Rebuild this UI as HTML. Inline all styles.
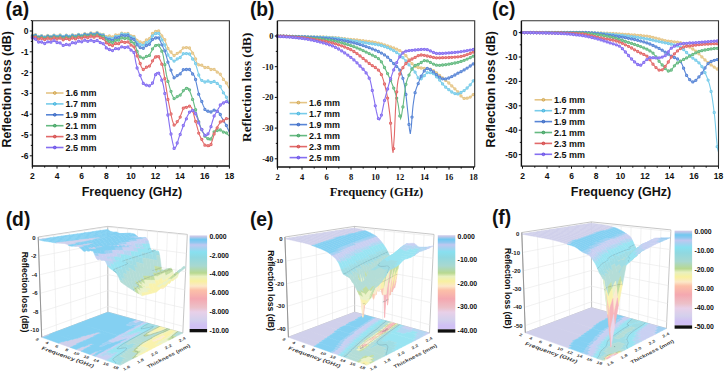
<!DOCTYPE html><html><head><meta charset="utf-8"><style>html,body{margin:0;padding:0;background:#fff;width:725px;height:375px;overflow:hidden}svg{display:block}</style></head><body>
<svg width="725" height="375" viewBox="0 0 725 375">
<rect width="725" height="375" fill="#fff"/>
<path d="M32.4 34.6l1 .2 1 .3 1 .2 1 .2 1 .2 1 .2 1 .1 1 .2 1 0 1 .1 .6 0 .4 0 1 0 1-.1 1 0 1-.1 1 0 1-.1 1-.1 1-.1 1 0 1-.1 1 0 1-.1 1 0 .6 0 .4 0 1 0 1 0 1 0 1 .1 1 0 1 0 .6 0 .4 0 1 0 1 0 1-.1 1 0 1-.1 1 0 1-.1 1 0 1-.1 1-.1 1-.1 1 0 1-.1 1-.1 1-.1 1-.1 1-.1 .6 0 .4 0 1-.1 1-.1 1-.1 1-.2 1-.1 1-.1 1-.2 1-.1 1-.1 1-.1 1-.2 1 0 1-.1 1-.1 1 0 .6 0 .4 0 1 .3 1 .4 1 .5 1 .5 1.3 .5 .7 .2 1 .3 1 .3 1 .3 1 .2 1 .1 .6 0 .4 0 1-.1 1-.1 1-.2 1-.3 1-.2 1-.4 1-.3 1-.3 1-.3 1-.3 1-.2 1-.2 1-.2 1-.1 .6 0 .4 0 1 .1 1 .3 1 .3 1 .4 1 .5 1 .5 1 .5 1 .6 .9 .5 1.1 .8 1 1.1 1 1.2 1 1.1 1 .9 1 .5 .4 0 .6 0 1-.2 1-.4 1-.5 1-.5 1-.6 .9-.5 1.1-.8 1-1.1 1-1.3 1-1.4 1-1.3 1-1.3 1-1 1-.8 1.3-.4 .7 .1 1 .6 1 .9 1 1.2 1 1.4 1 1.6 1 1.5 .7 1.1 1.3 2.5 1 2.5 1 2.6 1 2.3 1.3 2.2 .7 .8 1 1.1 1 1 1 .7 1 .2 1-.2 1-.4 1-.6 1-.8 1-.9 1-1 1-1 1-.9 1-.8 1-.7 1-.4 1.1-.2 .9 .2 1 .5 1 .8 1 1.1 1 1.3 1 1.5 1 1.5 .6 1 .4 .8 1 3.1 1 3 .6 1 .4 .4 1 .8 1 .6 1 .6 1 .4 1 .4 1 .4 1 .4 .6 .2 .4 .2 1 .3 1 .4 1 .3 1 .2 1 .3 1 .3 1 .3 1 .3 1 .4 1 .5 1 .5 1 .7 1 .9 1 1.1 1 1.3 1 1.2 .6 .8 .4 .5 1 1.4 1 1.4 1 1.5 1 1.6 1 1.7 1 1.8 .6 1.1 .4 .7" fill="none" stroke="#e5c586" stroke-width="1.1"/>
<path d="M32.4 35.2h0M35.5 34.7h0M38.6 36.5h0M41.6 35.7h0M44.7 36.9h0M47.8 35.5h0M50.9 36.5h0M54.0 35.1h0M57.0 36.2h0M60.1 35.0h0M63.2 36.3h0M66.3 35.1h0M69.4 36.2h0M72.4 34.8h0M75.5 35.7h0M78.6 34.3h0M81.7 35.2h0M84.8 33.7h0M87.8 34.5h0M90.9 32.9h0M94.0 33.8h0M97.1 32.4h0M100.2 34.2h0M103.2 34.4h0M106.3 36.6h0M109.4 36.0h0M112.5 37.0h0M115.6 35.0h0M118.6 35.2h0M121.7 33.2h0M124.8 34.0h0M127.9 33.3h0M131.0 35.8h0M134.0 36.4h0M137.1 40.5h0M140.2 42.0h0M143.3 42.8h0M146.4 39.9h0M149.4 38.6h0M152.5 33.3h0M155.6 31.5h0M158.7 30.9h0M161.8 36.0h0M164.8 39.7h0M167.9 48.4h0M171.0 52.0h0M174.1 55.5h0M177.2 53.3h0M180.2 51.8h0M183.3 47.8h0M186.4 47.6h0M189.5 48.0h0M192.6 53.2h0M195.6 58.9h0M198.7 64.8h0M201.8 65.2h0M204.9 67.5h0M208.0 67.4h0M211.0 69.5h0M214.1 69.3h0M217.2 72.1h0M220.3 74.2h0M223.4 79.4h0M226.4 82.9h0" stroke="#e5c586" stroke-width="3.3" stroke-linecap="round"/>
<path d="M32.4 35.2h0M35.5 34.7h0M38.6 36.5h0M41.6 35.7h0M44.7 36.9h0M47.8 35.5h0M50.9 36.5h0M54.0 35.1h0M57.0 36.2h0M60.1 35.0h0M63.2 36.3h0M66.3 35.1h0M69.4 36.2h0M72.4 34.8h0M75.5 35.7h0M78.6 34.3h0M81.7 35.2h0M84.8 33.7h0M87.8 34.5h0M90.9 32.9h0M94.0 33.8h0M97.1 32.4h0M100.2 34.2h0M103.2 34.4h0M106.3 36.6h0M109.4 36.0h0M112.5 37.0h0M115.6 35.0h0M118.6 35.2h0M121.7 33.2h0M124.8 34.0h0M127.9 33.3h0M131.0 35.8h0M134.0 36.4h0M137.1 40.5h0M140.2 42.0h0M143.3 42.8h0M146.4 39.9h0M149.4 38.6h0M152.5 33.3h0M155.6 31.5h0M158.7 30.9h0M161.8 36.0h0M164.8 39.7h0M167.9 48.4h0M171.0 52.0h0M174.1 55.5h0M177.2 53.3h0M180.2 51.8h0M183.3 47.8h0M186.4 47.6h0M189.5 48.0h0M192.6 53.2h0M195.6 58.9h0M198.7 64.8h0M201.8 65.2h0M204.9 67.5h0M208.0 67.4h0M211.0 69.5h0M214.1 69.3h0M217.2 72.1h0M220.3 74.2h0M223.4 79.4h0M226.4 82.9h0" stroke="#edd6aa" stroke-width="1.3" stroke-linecap="round"/>
<path d="M32.4 35.0l1 .2 1 .3 1 .2 1 .2 1 .2 1 .1 1 .2 1 .1 1 0 1 .1 .6 0 .4 0 1 0 1 0 1-.1 1 0 1-.1 1-.1 1 0 1-.1 1 0 1-.1 1 0 1-.1 1 0 .6 0 .4 0 1 0 1 0 1 0 1 0 1 0 1 0 .6 0 .4 0 1 0 1 0 1-.1 1 0 1 0 1-.1 1 0 1-.1 1-.1 1 0 1-.1 1-.1 1-.1 1 0 1-.1 1-.1 1-.1 .6 0 .4 0 1-.1 1-.1 1-.1 1-.1 1-.2 1-.1 1-.1 1-.1 1-.2 1-.1 1-.1 1-.1 1 0 1-.1 1 0 .6 0 .4 0 1 .2 1 .4 1 .5 1 .6 1.3 .6 .7 .3 1 .5 1 .6 1 .5 1 .4 1 .3 .6 0 .4 0 1-.1 1-.2 1-.3 1-.3 1-.4 1-.4 1-.5 1-.4 1-.4 1-.4 1-.4 1-.2 1-.3 1-.1 .6 0 .4 0 1 .2 1 .3 1 .4 1 .5 1 .6 1 .7 1 .7 1 .7 .6 .4 .4 .3 1 1 1 1.3 1 1.3 1 1.3 1 .9 1 .5 .4 .1 .6 0 1-.2 1-.3 1-.5 1-.5 1-.5 .9-.5 1.1-.8 1-1.2 1-1.3 1-1.4 1-1.5 1-1.3 1-1.1 1-.9 1.3-.4 .7 .2 1 .7 1 1.3 1 1.6 1 1.9 1 2 1 2 .6 1.2 .4 .8 1 2.6 1 2.9 1 3 1 2.5 1.3 2.2 .7 .6 1 .9 1 .7 1 .4 1 .2 1-.1 1-.4 1-.7 1-.7 1-.9 1-.9 1-.9 1-.9 1-.8 1-.6 1-.4 1.1-.2 .9 .2 1 .5 1 .8 1 1.1 1 1.2 1 1.4 1 1.4 .6 .9 .4 .7 1 2.3 1 3 1 3.4 1 3.4 1 3.2 1 2.5 1 1.6 .6 .4 .4 .1 1 .1 1 .2 1 .1 1 .1 1 0 1 .1 1 0 1 0 1 .1 1 .1 1 .1 1 .1 1 .1 1 .2 1 .6 1 1.1 1 1.5 1 1.7 1 1.7 .6 1 .4 .6 1 1.7 1 1.7 1 1.8 1 1.9 1 2 1 2 .6 1.3 .4 .9" fill="none" stroke="#78ccea" stroke-width="1.1"/>
<path d="M32.4 35.6h0M35.5 35.1h0M38.6 36.8h0M41.6 36.0h0M44.7 37.2h0M47.8 35.8h0M50.9 36.8h0M54.0 35.5h0M57.0 36.6h0M60.1 35.4h0M63.2 36.6h0M66.3 35.4h0M69.4 36.5h0M72.4 35.1h0M75.5 36.1h0M78.6 34.7h0M81.7 35.6h0M84.8 34.1h0M87.8 35.0h0M90.9 33.4h0M94.0 34.3h0M97.1 32.9h0M100.2 34.6h0M103.2 35.0h0M106.3 37.7h0M109.4 37.8h0M112.5 38.7h0M115.6 36.4h0M118.6 36.3h0M121.7 33.9h0M124.8 34.6h0M127.9 34.1h0M131.0 37.0h0M134.0 37.9h0M137.1 42.7h0M140.2 44.5h0M143.3 45.3h0M146.4 42.6h0M149.4 41.3h0M152.5 35.8h0M155.6 33.7h0M158.7 33.4h0M161.8 39.8h0M164.8 45.0h0M167.9 55.0h0M171.0 58.3h0M174.1 61.1h0M177.2 58.9h0M180.2 57.5h0M183.3 53.7h0M186.4 53.6h0M189.5 54.0h0M192.6 59.0h0M195.6 63.6h0M198.7 75.0h0M201.8 80.3h0M204.9 82.0h0M208.0 81.0h0M211.0 82.4h0M214.1 81.4h0M217.2 83.4h0M220.3 86.5h0M223.4 92.8h0M226.4 97.2h0" stroke="#78ccea" stroke-width="3.3" stroke-linecap="round"/>
<path d="M32.4 35.6h0M35.5 35.1h0M38.6 36.8h0M41.6 36.0h0M44.7 37.2h0M47.8 35.8h0M50.9 36.8h0M54.0 35.5h0M57.0 36.6h0M60.1 35.4h0M63.2 36.6h0M66.3 35.4h0M69.4 36.5h0M72.4 35.1h0M75.5 36.1h0M78.6 34.7h0M81.7 35.6h0M84.8 34.1h0M87.8 35.0h0M90.9 33.4h0M94.0 34.3h0M97.1 32.9h0M100.2 34.6h0M103.2 35.0h0M106.3 37.7h0M109.4 37.8h0M112.5 38.7h0M115.6 36.4h0M118.6 36.3h0M121.7 33.9h0M124.8 34.6h0M127.9 34.1h0M131.0 37.0h0M134.0 37.9h0M137.1 42.7h0M140.2 44.5h0M143.3 45.3h0M146.4 42.6h0M149.4 41.3h0M152.5 35.8h0M155.6 33.7h0M158.7 33.4h0M161.8 39.8h0M164.8 45.0h0M167.9 55.0h0M171.0 58.3h0M174.1 61.1h0M177.2 58.9h0M180.2 57.5h0M183.3 53.7h0M186.4 53.6h0M189.5 54.0h0M192.6 59.0h0M195.6 63.6h0M198.7 75.0h0M201.8 80.3h0M204.9 82.0h0M208.0 81.0h0M211.0 82.4h0M214.1 81.4h0M217.2 83.4h0M220.3 86.5h0M223.4 92.8h0M226.4 97.2h0" stroke="#a0dbf0" stroke-width="1.3" stroke-linecap="round"/>
<path d="M32.4 35.6l1 .2 1 .3 1 .2 1 .2 1 .2 1 .1 1 .2 1 .1 1 0 1 .1 .6 0 .4 0 1 0 1 0 1-.1 1 0 1-.1 1-.1 1 0 1-.1 1 0 1-.1 1 0 1-.1 1 0 .6 0 .4 0 1 0 1 .1 1 0 1 0 1 .1 1 0 .6 0 .4 0 1 0 1 0 1-.1 1 0 1-.1 1 0 1-.1 1-.1 1-.1 1 0 1-.1 1-.1 1-.1 1-.1 1-.1 1-.1 1-.1 .6 0 .4 0 1-.1 1-.1 1-.1 1-.1 1-.2 1-.1 1-.1 1-.1 1-.1 1-.1 1-.1 1-.1 1 0 1-.1 1 0 .6 0 .4 0 1 .2 1 .4 1 .6 1 .5 1.3 .7 .7 .4 1 .6 1 .8 1 .6 1 .6 1 .3 .6 .1 .4 0 1-.1 1-.2 1-.3 1-.4 1-.4 1-.4 1-.5 1-.5 1-.4 1-.4 1-.4 1-.3 1-.3 1-.1 .6 0 .4 0 1 .2 1 .3 1 .4 1 .6 1 .6 1 .7 1 .7 1 .8 .6 .4 .4 .3 1 1.3 1 1.5 1 1.7 1 1.5 1 1.3 1 .6 .4 .1 .6 0 1-.3 1-.3 1-.5 1-.6 1-.6 .9-.5 1.1-.8 1-1 1-1.1 1-1.2 1-1.2 1-1.1 1-1 1-.7 1.3-.3 .7 .2 1 .8 1 1.4 1 1.8 1 2.1 1 2.3 1 2.3 .6 1.3 .4 .9 1 2.9 1 3.2 1 3.5 1 3.4 1.3 3.8 .7 1.9 1 2.9 1 2.7 1 2 1 .8 1-.2 1-.4 1-.7 1-.8 1-1 1-1 1-1.1 1-1 1-.8 1-.7 1-.5 1.1-.2 .9 .1 1 .4 1 .7 1 .8 1 1.1 1 1.2 1 1.3 .6 .9 .4 .7 1 3.1 1 4.1 1 4.6 1 4.4 1.2 4.1 .8 2 1 2.6 1 2.5 1 2.4 1 2.1 1 1.7 1 1.3 1 .7 .6 .1 .4 0 1-.1 1-.2 1-.2 1-.2 1-.3 1-.2 1-.1 1-.1 1 .4 1 1.1 1 1.5 1 1.8 1 1.8 .6 1 .4 .6 1 1.7 1 1.8 1 1.8 1 2 1 2 1 2.2 .6 1.3 .4 .9" fill="none" stroke="#5885d6" stroke-width="1.1"/>
<path d="M32.4 36.2h0M35.5 35.7h0M38.6 37.4h0M41.6 36.6h0M44.7 37.8h0M47.8 36.4h0M50.9 37.4h0M54.0 36.1h0M57.0 37.2h0M60.1 36.1h0M63.2 37.4h0M66.3 36.2h0M69.4 37.2h0M72.4 35.8h0M75.5 36.8h0M78.6 35.3h0M81.7 36.2h0M84.8 34.7h0M87.8 35.6h0M90.9 34.0h0M94.0 35.0h0M97.1 33.6h0M100.2 35.3h0M103.2 35.8h0M106.3 38.9h0M109.4 39.3h0M112.5 40.3h0M115.6 37.9h0M118.6 37.7h0M121.7 35.3h0M124.8 35.9h0M127.9 35.4h0M131.0 38.4h0M134.0 39.4h0M137.1 44.9h0M140.2 47.6h0M143.3 48.3h0M146.4 45.5h0M149.4 44.3h0M152.5 39.4h0M155.6 38.0h0M158.7 37.8h0M161.8 44.8h0M164.8 50.8h0M167.9 62.2h0M171.0 70.1h0M174.1 77.8h0M177.2 75.6h0M180.2 73.9h0M183.3 69.7h0M186.4 69.5h0M189.5 69.5h0M192.6 74.0h0M195.6 79.5h0M198.7 94.2h0M201.8 101.4h0M204.9 109.4h0M208.0 111.2h0M211.0 112.0h0M214.1 110.1h0M217.2 111.3h0M220.3 114.4h0M223.4 120.8h0M226.4 125.4h0" stroke="#5885d6" stroke-width="3.3" stroke-linecap="round"/>
<path d="M32.4 36.2h0M35.5 35.7h0M38.6 37.4h0M41.6 36.6h0M44.7 37.8h0M47.8 36.4h0M50.9 37.4h0M54.0 36.1h0M57.0 37.2h0M60.1 36.1h0M63.2 37.4h0M66.3 36.2h0M69.4 37.2h0M72.4 35.8h0M75.5 36.8h0M78.6 35.3h0M81.7 36.2h0M84.8 34.7h0M87.8 35.6h0M90.9 34.0h0M94.0 35.0h0M97.1 33.6h0M100.2 35.3h0M103.2 35.8h0M106.3 38.9h0M109.4 39.3h0M112.5 40.3h0M115.6 37.9h0M118.6 37.7h0M121.7 35.3h0M124.8 35.9h0M127.9 35.4h0M131.0 38.4h0M134.0 39.4h0M137.1 44.9h0M140.2 47.6h0M143.3 48.3h0M146.4 45.5h0M149.4 44.3h0M152.5 39.4h0M155.6 38.0h0M158.7 37.8h0M161.8 44.8h0M164.8 50.8h0M167.9 62.2h0M171.0 70.1h0M174.1 77.8h0M177.2 75.6h0M180.2 73.9h0M183.3 69.7h0M186.4 69.5h0M189.5 69.5h0M192.6 74.0h0M195.6 79.5h0M198.7 94.2h0M201.8 101.4h0M204.9 109.4h0M208.0 111.2h0M211.0 112.0h0M214.1 110.1h0M217.2 111.3h0M220.3 114.4h0M223.4 120.8h0M226.4 125.4h0" stroke="#8aaae2" stroke-width="1.3" stroke-linecap="round"/>
<path d="M32.4 36.2l1 .3 1 .2 1 .3 1 .2 1 .2 1 .2 1 .1 1 .2 1 0 1 .1 .6 0 .4 0 1 0 1 0 1-.1 1 0 1-.1 1-.1 1 0 1-.1 1 0 1-.1 1 0 1-.1 1 0 .6 0 .4 0 1 0 1 .1 1 .1 1 .1 1 0 1 .1 .6 0 .4 0 1 0 1 0 1-.1 1 0 1-.1 1-.1 1-.1 1-.1 1-.1 1-.1 1-.1 1-.1 1-.1 1-.1 1-.1 1-.1 1-.1 .6 0 .4 0 1-.1 1-.1 1-.1 1-.1 1-.1 1-.1 1-.1 1-.1 1-.1 1-.1 1 0 1-.1 1 0 1-.1 1 0 .6 0 .4 0 1 .2 1 .4 1 .5 1 .6 1.3 .7 .7 .5 1 .8 1 1 1 .9 1 .8 1 .5 .6 .1 .4 0 1-.1 1-.2 1-.2 1-.4 1-.3 1-.4 1-.5 1-.4 1-.4 1-.4 1-.3 1-.3 1-.2 1-.1 .6 0 .4 0 1 .2 1 .3 1 .5 1 .7 1 .7 1 .8 1 .9 1 1 .6 .6 .4 .5 1 1.9 1 2.6 1 2.8 1 2.7 1 2.2 1 1.2 .4 .1 .6 0 1-.1 1-.1 1-.1 1-.2 1-.3 .9-.2 1.1-.7 1-1.2 1-1.5 1-1.8 1-1.9 1-1.8 1-1.5 1-1.1 1.3-.6 .7 .1 1 .7 1 1.2 1 1.5 1 1.8 .6 1.2 .4 1 1 4.4 1 6 1 6.4 1 5.8 .6 2.6 .4 1.5 1 3.8 1 3.8 1 3.5 1 3.2 1 2.5 1 1.8 1.2 .8 .8-.1 1-.4 1-.7 1-.8 1-.9 1-.9 .6-.5 .4-.4 1-1.1 1-1.3 1-1.3 1-1.2 1-.8 1-.3 1 .8 1 1.9 1 2.6 1.2 3.2 .8 2.3 1 3.4 1 3.8 1 3.9 1 3.7 .6 2.1 .4 1.3 1 3.5 1 3.4 1 3.2 1 2.7 .9 1.9 1.1 1.9 1 1.8 1 1.5 1 1.4 1 1.1 1 .6 1 .3 1-.5 1-1.4 1-2 1-2 1-2 1-1.4 1-.5 1 0 1 .2 1 .1 1 .3 1 .2 .6 .2 .4 .1 1 .4 1 .5 1 .7 1 .7 1 .8 1 .9 .6 .5 .4 .4" fill="none" stroke="#65ba81" stroke-width="1.1"/>
<path d="M32.4 36.8h0M35.5 36.4h0M38.6 38.2h0M41.6 37.4h0M44.7 38.6h0M47.8 37.2h0M50.9 38.2h0M54.0 36.9h0M57.0 38.0h0M60.1 37.0h0M63.2 38.4h0M66.3 37.2h0M69.4 38.2h0M72.4 36.7h0M75.5 37.6h0M78.6 36.1h0M81.7 37.0h0M84.8 35.6h0M87.8 36.5h0M90.9 35.0h0M94.0 35.9h0M97.1 34.6h0M100.2 36.3h0M103.2 36.7h0M106.3 40.4h0M109.4 41.5h0M112.5 42.5h0M115.6 40.3h0M118.6 40.2h0M121.7 37.9h0M124.8 38.6h0M127.9 38.2h0M131.0 41.5h0M134.0 43.1h0M137.1 51.3h0M140.2 56.8h0M143.3 58.1h0M146.4 56.3h0M149.4 55.4h0M152.5 48.8h0M155.6 45.6h0M158.7 45.1h0M161.8 51.2h0M164.8 64.7h0M167.9 81.4h0M171.0 91.3h0M174.1 98.6h0M177.2 96.6h0M180.2 95.1h0M183.3 90.6h0M186.4 88.4h0M189.5 89.8h0M192.6 99.4h0M195.6 109.7h0M198.7 121.7h0M201.8 129.6h0M204.9 136.2h0M208.0 138.7h0M211.0 139.0h0M214.1 131.8h0M217.2 130.6h0M220.3 129.9h0M223.4 132.1h0M226.4 132.8h0" stroke="#65ba81" stroke-width="3.3" stroke-linecap="round"/>
<path d="M32.4 36.8h0M35.5 36.4h0M38.6 38.2h0M41.6 37.4h0M44.7 38.6h0M47.8 37.2h0M50.9 38.2h0M54.0 36.9h0M57.0 38.0h0M60.1 37.0h0M63.2 38.4h0M66.3 37.2h0M69.4 38.2h0M72.4 36.7h0M75.5 37.6h0M78.6 36.1h0M81.7 37.0h0M84.8 35.6h0M87.8 36.5h0M90.9 35.0h0M94.0 35.9h0M97.1 34.6h0M100.2 36.3h0M103.2 36.7h0M106.3 40.4h0M109.4 41.5h0M112.5 42.5h0M115.6 40.3h0M118.6 40.2h0M121.7 37.9h0M124.8 38.6h0M127.9 38.2h0M131.0 41.5h0M134.0 43.1h0M137.1 51.3h0M140.2 56.8h0M143.3 58.1h0M146.4 56.3h0M149.4 55.4h0M152.5 48.8h0M155.6 45.6h0M158.7 45.1h0M161.8 51.2h0M164.8 64.7h0M167.9 81.4h0M171.0 91.3h0M174.1 98.6h0M177.2 96.6h0M180.2 95.1h0M183.3 90.6h0M186.4 88.4h0M189.5 89.8h0M192.6 99.4h0M195.6 109.7h0M198.7 121.7h0M201.8 129.6h0M204.9 136.2h0M208.0 138.7h0M211.0 139.0h0M214.1 131.8h0M217.2 130.6h0M220.3 129.9h0M223.4 132.1h0M226.4 132.8h0" stroke="#93cfa7" stroke-width="1.3" stroke-linecap="round"/>
<path d="M32.4 36.8l1 .3 1 .3 1 .3 1 .3 1 .2 1 .3 1 .2 1 .1 1 .1 1 .1 .6 0 .4 0 1 0 1 0 1-.1 1 0 1-.1 1-.1 1 0 1-.1 1 0 1-.1 1 0 1-.1 1 0 .6 0 .4 0 1 .1 1 .1 1 .2 1 .2 1 .1 1 .1 .6 0 .4 0 1 0 1-.1 1 0 1-.1 1-.1 1 0 1-.2 1-.1 1-.1 1-.1 1-.1 1-.1 1-.1 1-.2 1-.1 1-.1 1-.1 .6 0 .4 0 1-.1 1-.1 1-.1 1-.1 1-.1 1-.1 1-.1 1 0 1-.1 1-.1 1-.1 1 0 1 0 1-.1 1 0 .6 0 .4 0 1 .3 1 .5 1 .6 1 .7 1.3 .9 .7 .6 1 1 1 1.2 1 1.2 1 1 1 .6 .6 .1 .4 0 1-.1 1-.1 1-.2 1-.3 1-.3 1-.3 1-.4 1-.3 1-.3 1-.3 1-.3 1-.2 1-.2 1-.1 .6 0 .4 0 1 .2 1 .3 1 .4 1 .6 1 .7 1 .8 1 1 1 1 .6 .6 .4 .6 1 2.2 1 2.9 1 3 .6 1.6 .4 1 1 2.9 1 2.9 1 2.5 1 1.6 .6 .3 .4 0 1-.2 1-.4 1-.6 1-.6 1-.7 1-.8 .6-.5 .4-.4 1-1.3 1-1.8 1-1.9 1-1.8 1-1.3 1.3-.8 .7 .2 1 .9 1 1.5 1 2 1 2.3 .6 1.5 .4 1.2 1 4.7 1 6.2 1 6.6 .6 3.7 .4 2.5 1 6.6 .8 4.6 1.2 6.2 1 5.2 1 4.8 1 4.1 1 2.8 1.2 1.4 .8-.3 1-1.1 1-1.6 1-1.7 .4-.6 .6-1.1 1-2.3 1-2.6 1-2.6 1-2.3 1-1.5 .8-.4 1.2 0 1 0 1 0 1 0 1.2 0 .8 .7 1 2.3 1 3.5 1 4 1 3.8 .5 1.7 .5 1.6 1 3.5 1 3.6 1 3.2 .8 2 1.2 2.5 1 2 1 1.7 1 1.3 1.1 1 .9 .5 1 .5 1 .3 .6 .1 .4-.1 1-1.2 1-2.2 1-2.9 1-3.2 1-3.3 1-2.8 1-2.2 1-1.7 1-1.7 1-1.5 1-1.3 1-1 .6-.4 .4-.2 1-.5 1-.4 1-.4 1-.3 1-.3 1-.1 .6 0 .4 0" fill="none" stroke="#e26969" stroke-width="1.1"/>
<path d="M32.4 37.4h0M35.5 37.1h0M38.6 39.1h0M41.6 38.3h0M44.7 39.6h0M47.8 38.2h0M50.9 39.2h0M54.0 37.9h0M57.0 39.0h0M60.1 38.1h0M63.2 39.8h0M66.3 38.5h0M69.4 39.5h0M72.4 38.0h0M75.5 38.9h0M78.6 37.3h0M81.7 38.2h0M84.8 36.8h0M87.8 37.7h0M90.9 36.2h0M94.0 37.2h0M97.1 35.9h0M100.2 37.7h0M103.2 38.6h0M106.3 42.8h0M109.4 44.5h0M112.5 45.6h0M115.6 43.5h0M118.6 43.7h0M121.7 41.6h0M124.8 42.4h0M127.9 41.9h0M131.0 45.1h0M134.0 46.8h0M137.1 55.9h0M140.2 63.4h0M143.3 69.5h0M146.4 67.2h0M149.4 66.1h0M152.5 60.8h0M155.6 57.0h0M158.7 56.7h0M161.8 64.2h0M164.8 78.6h0M167.9 99.4h0M171.0 114.0h0M174.1 125.1h0M177.2 121.6h0M180.2 117.1h0M183.3 108.2h0M186.4 107.3h0M189.5 106.1h0M192.6 110.8h0M195.6 121.3h0M198.7 133.1h0M201.8 139.3h0M204.9 145.2h0M208.0 145.7h0M211.0 144.5h0M214.1 133.9h0M217.2 127.8h0M220.3 121.9h0M223.4 120.9h0M226.4 118.6h0" stroke="#e26969" stroke-width="3.3" stroke-linecap="round"/>
<path d="M32.4 37.4h0M35.5 37.1h0M38.6 39.1h0M41.6 38.3h0M44.7 39.6h0M47.8 38.2h0M50.9 39.2h0M54.0 37.9h0M57.0 39.0h0M60.1 38.1h0M63.2 39.8h0M66.3 38.5h0M69.4 39.5h0M72.4 38.0h0M75.5 38.9h0M78.6 37.3h0M81.7 38.2h0M84.8 36.8h0M87.8 37.7h0M90.9 36.2h0M94.0 37.2h0M97.1 35.9h0M100.2 37.7h0M103.2 38.6h0M106.3 42.8h0M109.4 44.5h0M112.5 45.6h0M115.6 43.5h0M118.6 43.7h0M121.7 41.6h0M124.8 42.4h0M127.9 41.9h0M131.0 45.1h0M134.0 46.8h0M137.1 55.9h0M140.2 63.4h0M143.3 69.5h0M146.4 67.2h0M149.4 66.1h0M152.5 60.8h0M155.6 57.0h0M158.7 56.7h0M161.8 64.2h0M164.8 78.6h0M167.9 99.4h0M171.0 114.0h0M174.1 125.1h0M177.2 121.6h0M180.2 117.1h0M183.3 108.2h0M186.4 107.3h0M189.5 106.1h0M192.6 110.8h0M195.6 121.3h0M198.7 133.1h0M201.8 139.3h0M204.9 145.2h0M208.0 145.7h0M211.0 144.5h0M214.1 133.9h0M217.2 127.8h0M220.3 121.9h0M223.4 120.9h0M226.4 118.6h0" stroke="#eb9696" stroke-width="1.3" stroke-linecap="round"/>
<path d="M32.4 37.4l1 .8 1 .8 1 .7 1 .6 1 .6 1 .5 1 .5 1 .4 1 .3 1 .2 1 .1 .6 0 .4 0 1-.1 1-.1 1-.3 1-.2 1-.3 1-.2 1-.2 1-.2 1-.1 .6 0 .4 0 1 .2 1 .3 1 .4 1 .5 1 .5 1 .5 1 .5 1 .4 1 .4 1 .2 .6 0 .4 0 1-.1 1-.2 1-.2 1-.3 1-.3 1-.4 1-.3 1-.3 1-.3 1-.3 .6-.1 .4-.1 1-.2 1-.2 1-.2 1-.2 1-.1 1-.2 1-.1 1-.2 1 0 1-.1 .6 0 .4 0 1 0 1 0 1 0 1 .1 1 0 1 .1 1 0 1 .1 1 .1 1 0 .6 .1 .4 .1 1 .3 1 .6 1 .7 1 .7 1.3 1 .7 .6 1 1 1 1.2 1 1.2 1 .9 1 .6 .6 .1 .4 0 1-.1 1-.1 1-.2 1-.3 1-.2 1-.4 1-.3 1-.3 1-.3 1-.3 1-.2 1-.2 1-.2 1-.1 .6 0 .4 0 1 .1 1 .3 1 .4 1 .5 1 .8 1 .8 1 1.1 1 1.2 .6 .8 .4 1.2 1 5.9 .6 3.2 .4 1.5 1 3.5 1 3.1 1 2.6 .6 1.4 .4 .9 1 2.4 1 2.3 1 2 1 1.6 1 .9 .6 .2 .4 0 1-.1 1-.2 1-.2 1-.3 1-.4 .6-.3 .4-.4 1-2.4 1-3.5 1-3.3 1.3-2 .7 .2 1 .7 1 1.1 .6 .8 .4 .6 1 2.5 1 3.3 .6 2.2 .4 1.7 1 5.5 1 6.4 .6 3.8 .4 2.5 1 6.8 1 7.2 1 7 1 6.4 1 5.3 1 4.9 1 4.4 1.2 2.4 .8-.6 1-2 1-2.9 1-3.4 1-3.2 .6-1.7 .4-1 1-2.6 1-2.6 1-2.5 .8-2 1.2-3 1-2.6 1-2.3 1-1.7 1-1.4 1-1.3 1-1 1.3-.6 .7 .3 1 1.4 1 2.1 1 2.3 .6 1.4 .4 .9 1 2.9 1 3.2 1 3 .8 1.7 1.2 2.1 1 1.6 1 1.4 1 .9 1.2 .5 .8-.4 1-1.6 1-2.4 1-3 1-3.3 1-3.4 1-3.1 1-2.6 .6-1.2 .4-.7 1-1.8 1-1.7 1-1.8 1-1.6 1-1.5 1-1.3 1-1.1 1-.7 1-.4 .4 0 .6 0 1 .1 1 .3 1 .6 .6 .4 .4 .4" fill="none" stroke="#856ff1" stroke-width="1.1"/>
<path d="M32.4 38.0h0M35.5 39.1h0M38.6 42.1h0M41.6 42.0h0M44.7 43.5h0M47.8 41.8h0M50.9 42.2h0M54.0 40.6h0M57.0 42.5h0M60.1 42.9h0M63.2 45.4h0M66.3 44.4h0M69.4 44.9h0M72.4 42.7h0M75.5 43.0h0M78.6 41.2h0M81.7 41.8h0M84.8 40.2h0M87.8 41.3h0M90.9 40.2h0M94.0 41.5h0M97.1 40.5h0M100.2 42.6h0M103.2 43.7h0M106.3 47.9h0M109.4 49.5h0M112.5 50.6h0M115.6 48.6h0M118.6 48.8h0M121.7 46.8h0M124.8 47.6h0M127.9 47.0h0M131.0 50.1h0M134.0 52.5h0M137.1 68.0h0M140.2 75.3h0M143.3 83.4h0M146.4 85.1h0M149.4 85.8h0M152.5 83.0h0M155.6 74.7h0M158.7 73.2h0M161.8 80.2h0M164.8 93.4h0M167.9 115.0h0M171.0 134.0h0M174.1 148.4h0M177.2 143.0h0M180.2 134.5h0M183.3 125.4h0M186.4 118.8h0M189.5 112.1h0M192.6 110.5h0M195.6 113.7h0M198.7 122.9h0M201.8 129.5h0M204.9 135.3h0M208.0 133.8h0M211.0 126.7h0M214.1 115.9h0M217.2 111.3h0M220.3 105.0h0M223.4 103.0h0M226.4 101.6h0" stroke="#856ff1" stroke-width="3.3" stroke-linecap="round"/>
<path d="M32.4 38.0h0M35.5 39.1h0M38.6 42.1h0M41.6 42.0h0M44.7 43.5h0M47.8 41.8h0M50.9 42.2h0M54.0 40.6h0M57.0 42.5h0M60.1 42.9h0M63.2 45.4h0M66.3 44.4h0M69.4 44.9h0M72.4 42.7h0M75.5 43.0h0M78.6 41.2h0M81.7 41.8h0M84.8 40.2h0M87.8 41.3h0M90.9 40.2h0M94.0 41.5h0M97.1 40.5h0M100.2 42.6h0M103.2 43.7h0M106.3 47.9h0M109.4 49.5h0M112.5 50.6h0M115.6 48.6h0M118.6 48.8h0M121.7 46.8h0M124.8 47.6h0M127.9 47.0h0M131.0 50.1h0M134.0 52.5h0M137.1 68.0h0M140.2 75.3h0M143.3 83.4h0M146.4 85.1h0M149.4 85.8h0M152.5 83.0h0M155.6 74.7h0M158.7 73.2h0M161.8 80.2h0M164.8 93.4h0M167.9 115.0h0M171.0 134.0h0M174.1 148.4h0M177.2 143.0h0M180.2 134.5h0M183.3 125.4h0M186.4 118.8h0M189.5 112.1h0M192.6 110.5h0M195.6 113.7h0M198.7 122.9h0M201.8 129.5h0M204.9 135.3h0M208.0 133.8h0M211.0 126.7h0M214.1 115.9h0M217.2 111.3h0M220.3 105.0h0M223.4 103.0h0M226.4 101.6h0" stroke="#aa9af5" stroke-width="1.3" stroke-linecap="round"/>
<path d="M32.4 20.8H229.4V166.0" fill="none" stroke="#333" stroke-width="1.1"/>
<path d="M32.4 20.8V166.0H229.4" fill="none" stroke="#111" stroke-width="1.4"/>
<path d="M32.4 166.0v2.6M44.7 166.0v1.6M57.0 166.0v2.6M69.3 166.0v1.6M81.6 166.0v2.6M94.0 166.0v1.6M106.3 166.0v2.6M118.6 166.0v1.6M130.9 166.0v2.6M143.2 166.0v1.6M155.5 166.0v2.6M167.8 166.0v1.6M180.1 166.0v2.6M192.4 166.0v1.6M204.7 166.0v2.6M217.1 166.0v1.6M229.4 166.0v2.6M32.4 31.0h-2.6M32.4 51.8h-2.6M32.4 72.6h-2.6M32.4 93.4h-2.6M32.4 114.2h-2.6M32.4 135.0h-2.6M32.4 155.8h-2.6M32.4 20.6h-1.6M32.4 41.4h-1.6M32.4 62.2h-1.6M32.4 83.0h-1.6M32.4 103.8h-1.6M32.4 124.6h-1.6M32.4 145.4h-1.6" stroke="#111" stroke-width="1"/>
<g font-family='"Liberation Sans", sans-serif' font-weight="bold" font-size="8.5" fill="#111">
<text x="32.4" y="178.5" text-anchor="middle">2</text>
<text x="57.0" y="178.5" text-anchor="middle">4</text>
<text x="81.6" y="178.5" text-anchor="middle">6</text>
<text x="106.3" y="178.5" text-anchor="middle">8</text>
<text x="130.9" y="178.5" text-anchor="middle">10</text>
<text x="155.5" y="178.5" text-anchor="middle">12</text>
<text x="180.1" y="178.5" text-anchor="middle">14</text>
<text x="204.7" y="178.5" text-anchor="middle">16</text>
<text x="229.4" y="178.5" text-anchor="middle">18</text>
<text x="28.5" y="34.0" text-anchor="end">0</text>
<text x="28.5" y="54.8" text-anchor="end">-1</text>
<text x="28.5" y="75.6" text-anchor="end">-2</text>
<text x="28.5" y="96.4" text-anchor="end">-3</text>
<text x="28.5" y="117.2" text-anchor="end">-4</text>
<text x="28.5" y="138.0" text-anchor="end">-5</text>
<text x="28.5" y="158.8" text-anchor="end">-6</text>
</g>
<text x="131.9" y="195.8" font-family='"Liberation Sans", sans-serif' font-weight="bold" font-size="12.55" text-anchor="middle" fill="#111">Frequency (GHz)</text>
<text transform="translate(10.5 89.3) rotate(-90)" font-family='"Liberation Sans", sans-serif' font-weight="bold" font-size="12.40" text-anchor="middle" fill="#111">Reflection loss (dB)</text>
<text x="5.6" y="15.5" font-family='"Liberation Sans", sans-serif' font-weight="bold" font-size="19.3" fill="#111">(a)</text>
<path d="M46.0 93.0h17.5" stroke="#e5c586" stroke-width="1.6"/>
<circle cx="54.8" cy="93.0" r="1.4" fill="#e5c586" stroke="#c99a3a" stroke-width="0.7"/>
<text x="65.5" y="96.2" font-family='"Liberation Sans", sans-serif' font-weight="bold" font-size="9" fill="#111">1.6 mm</text>
<path d="M46.0 103.9h17.5" stroke="#78ccea" stroke-width="1.6"/>
<circle cx="54.8" cy="103.9" r="1.4" fill="#78ccea" stroke="#2aa8d8" stroke-width="0.7"/>
<text x="65.5" y="107.1" font-family='"Liberation Sans", sans-serif' font-weight="bold" font-size="9" fill="#111">1.7 mm</text>
<path d="M46.0 114.8h17.5" stroke="#5885d6" stroke-width="1.6"/>
<circle cx="54.8" cy="114.8" r="1.4" fill="#5885d6" stroke="#2a58b8" stroke-width="0.7"/>
<text x="65.5" y="118.0" font-family='"Liberation Sans", sans-serif' font-weight="bold" font-size="9" fill="#111">1.9 mm</text>
<path d="M46.0 125.7h17.5" stroke="#65ba81" stroke-width="1.6"/>
<circle cx="54.8" cy="125.7" r="1.4" fill="#65ba81" stroke="#2e9450" stroke-width="0.7"/>
<text x="65.5" y="128.9" font-family='"Liberation Sans", sans-serif' font-weight="bold" font-size="9" fill="#111">2.1 mm</text>
<path d="M46.0 136.6h17.5" stroke="#e26969" stroke-width="1.6"/>
<circle cx="54.8" cy="136.6" r="1.4" fill="#e26969" stroke="#c83838" stroke-width="0.7"/>
<text x="65.5" y="139.8" font-family='"Liberation Sans", sans-serif' font-weight="bold" font-size="9" fill="#111">2.3 mm</text>
<path d="M46.0 147.5h17.5" stroke="#856ff1" stroke-width="1.6"/>
<circle cx="54.8" cy="147.5" r="1.4" fill="#856ff1" stroke="#5a40e0" stroke-width="0.7"/>
<text x="65.5" y="150.7" font-family='"Liberation Sans", sans-serif' font-weight="bold" font-size="9" fill="#111">2.5 mm</text>
<path d="M277.5 36.0l.9 0 1 0 1 .1 1 0 1 0 1 0 1 0 1 .1 1 0 1 0 1 0 1 .1 1 0 1 0 1 0 1 0 1 .1 1 0 1 0 1 0 1 .1 1 0 .6 0 .4 0 1 0 1 .1 1 0 1 0 1 0 1 0 1 .1 1 0 1 0 1 0 1 0 1 .1 1 0 1 0 1 0 1 .1 1 0 1 0 1 0 1 .1 1 0 1 0 1 .1 1 0 1 0 1 .1 1 0 1 0 1 .1 .6 0 .4 0 1 .1 1 0 1 .1 1 .1 1 .1 1 .1 1 .1 1 .1 1 .1 1 .1 1 .1 1 .1 1 .1 1 .2 1 .1 1 .1 1 .1 1 .1 1 .1 .6 .1 .4 0 1 .1 1 .2 1 .1 1 .1 1 .1 1 .1 1 .1 1 .1 1 .1 1 .1 1 .1 1 .1 1 .1 1 .2 1 .1 1 .1 1 .1 1 .2 1 .1 .6 .1 .4 .1 1 .1 1 .2 1 .1 1 .2 1 .2 1 .2 1 .2 1 .2 1 .3 .6 .1 .4 .1 1 .3 1 .2 1 .3 1 .4 1 .3 1 .3 1 .4 1 .3 1 .4 .6 .2 .4 .1 1 .4 1 .3 1 .4 1 .4 1 .4 1 .4 1 .4 1 .5 1 .5 .6 .3 .4 .2 1 .7 1 .7 1 .8 1 .9 .6 .6 .4 .4 1 1.2 1 1.3 1 1.3 1 1.4 .6 .7 .4 .5 1 1.3 1 1.3 1 1.2 1 .9 .6 .3 .4 .2 1 .3 1 .3 1 .2 1 .2 .6 .1 .4 .1 1 .1 1 .1 1 .1 1 .1 1 .1 1 0 1 .2 1 .1 .6 .1 .4 .1 1 .3 1 .4 1 .4 1 .6 1 .6 1 .7 1 .8 1 .8 1 .8 1 .9 1 .8 1 .9 1 .8 1 .8 .6 .5 .4 .3 1 .8 1 .9 1 .8 1 .9 1 .9 1 1 1 .9 1 1 1 .9 1 1 1 .9 1 1 .6 .6 .4 .4 1 1.2 1 1.3 1 1.4 1 1.2 1 1 1 .7 1 .3 1 0 1-.1 1-.2 1-.2 1-.4 1-.5 1-.7 1-.8 1-1.1 1.1-1.4" fill="none" stroke="#e5c586" stroke-width="1.1"/>
<path d="M277.4 36.0h0M280.5 36.1h0M283.5 36.1h0M286.6 36.2h0M289.6 36.3h0M292.7 36.3h0M295.8 36.4h0M298.8 36.5h0M301.9 36.5h0M304.9 36.6h0M308.0 36.7h0M311.1 36.7h0M314.1 36.8h0M317.2 36.9h0M320.2 37.0h0M323.3 37.0h0M326.4 37.2h0M329.4 37.3h0M332.5 37.4h0M335.5 37.7h0M338.6 38.0h0M341.7 38.3h0M344.7 38.7h0M347.8 39.1h0M350.8 39.4h0M353.9 39.7h0M357.0 40.0h0M360.0 40.4h0M363.1 40.7h0M366.1 41.1h0M369.2 41.5h0M372.3 42.0h0M375.3 42.5h0M378.4 43.1h0M381.4 43.9h0M384.5 44.8h0M387.6 45.8h0M390.6 46.9h0M393.7 48.0h0M396.7 49.2h0M399.8 50.7h0M402.9 52.8h0M405.9 55.7h0M409.0 59.7h0M412.0 63.6h0M415.1 66.5h0M418.2 67.5h0M421.2 68.0h0M424.3 68.3h0M427.3 68.6h0M430.4 69.2h0M433.5 70.6h0M436.5 72.8h0M439.6 75.3h0M442.6 77.9h0M445.7 80.4h0M448.8 83.0h0M451.8 85.9h0M454.9 88.8h0M457.9 91.9h0M461.0 95.9h0M464.1 98.4h0M467.1 98.2h0M470.2 97.1h0M473.2 94.6h0" stroke="#e5c586" stroke-width="3.3" stroke-linecap="round"/>
<path d="M277.4 36.0h0M280.5 36.1h0M283.5 36.1h0M286.6 36.2h0M289.6 36.3h0M292.7 36.3h0M295.8 36.4h0M298.8 36.5h0M301.9 36.5h0M304.9 36.6h0M308.0 36.7h0M311.1 36.7h0M314.1 36.8h0M317.2 36.9h0M320.2 37.0h0M323.3 37.0h0M326.4 37.2h0M329.4 37.3h0M332.5 37.4h0M335.5 37.7h0M338.6 38.0h0M341.7 38.3h0M344.7 38.7h0M347.8 39.1h0M350.8 39.4h0M353.9 39.7h0M357.0 40.0h0M360.0 40.4h0M363.1 40.7h0M366.1 41.1h0M369.2 41.5h0M372.3 42.0h0M375.3 42.5h0M378.4 43.1h0M381.4 43.9h0M384.5 44.8h0M387.6 45.8h0M390.6 46.9h0M393.7 48.0h0M396.7 49.2h0M399.8 50.7h0M402.9 52.8h0M405.9 55.7h0M409.0 59.7h0M412.0 63.6h0M415.1 66.5h0M418.2 67.5h0M421.2 68.0h0M424.3 68.3h0M427.3 68.6h0M430.4 69.2h0M433.5 70.6h0M436.5 72.8h0M439.6 75.3h0M442.6 77.9h0M445.7 80.4h0M448.8 83.0h0M451.8 85.9h0M454.9 88.8h0M457.9 91.9h0M461.0 95.9h0M464.1 98.4h0M467.1 98.2h0M470.2 97.1h0M473.2 94.6h0" stroke="#edd6aa" stroke-width="1.3" stroke-linecap="round"/>
<path d="M277.5 36.0l.9 0 1 0 1 .1 1 0 1 0 1 0 1 .1 1 0 1 0 1 0 1 .1 1 0 1 0 1 .1 1 0 1 0 1 0 1 .1 1 0 1 0 1 .1 1 0 .6 0 .4 0 1 0 1 .1 1 0 1 0 1 0 1 .1 1 0 1 0 1 .1 1 0 1 0 1 0 1 .1 1 0 1 0 1 0 1 .1 1 0 1 0 1 .1 1 0 1 0 1 .1 1 0 1 .1 1 0 1 .1 1 0 1 .1 .6 0 .4 0 1 .1 1 .1 1 .1 1 .1 1 .1 1 .1 1 .1 1 .2 1 .1 1 .2 1 .1 1 .2 1 .2 1 .1 1 .2 1 .1 1 .2 1 .2 1 .1 .6 .1 .4 .1 1 .1 1 .2 1 .1 1 .2 1 .1 1 .2 1 .1 1 .2 1 .2 1 .1 1 .2 1 .2 1 .1 1 .2 1 .2 1 .1 1 .2 1 .1 1 .2 .6 .1 .4 .1 1 .1 1 .2 1 .1 1 .1 1 .2 1 .1 1 .2 1 .2 1 .2 .6 .1 .4 .1 1 .3 1 .2 1 .4 1 .3 1 .4 1 .4 1 .4 1 .5 1 .4 .6 .3 .4 .2 1 .5 1 .5 1 .5 1 .6 1 .6 1 .7 1 .7 1 .7 1 .7 .6 .5 .4 .3 1 .9 1 1 1 1.1 1 1 .6 .7 .4 .4 1 1.2 1 1.2 1 1.2 1 1.3 .6 .7 .4 .5 1 1.1 1 1.2 1 1.2 1 1.2 .6 .8 .4 .6 1 1.8 1 2 1 1.8 1 1.1 .6 .2 .4-.1 1-.7 1-1.1 .6-.6 .4-.4 1-1.1 1-1.2 1-1 1-.7 .6-.1 .4 0 1 .1 1 .1 1 .2 .6 .1 .4 .1 1 .6 1 .8 1 1 1 1.1 1.3 1.4 .7 .7 1 1.1 1 1.3 1 1.2 1 1.3 1 1.2 1 1.1 1 1 .9 .8 1.1 .9 1 .8 1 .8 1 .8 1 .7 1 .7 1 .6 1 .4 1 .4 1 .2 .6 0 .4 0 1-.2 1-.4 1-.5 1-.6 1-.7 1-.6 1-.7 1-.7 1-.9 1-.9 1-1 1-1.1 1-1.2 1-1.2 1-1.3 1-1.4 1.1-1.6" fill="none" stroke="#78ccea" stroke-width="1.1"/>
<path d="M277.4 36.0h0M280.5 36.1h0M283.5 36.1h0M286.6 36.2h0M289.6 36.3h0M292.7 36.4h0M295.8 36.5h0M298.8 36.6h0M301.9 36.7h0M304.9 36.7h0M308.0 36.8h0M311.1 36.9h0M314.1 37.0h0M317.2 37.1h0M320.2 37.2h0M323.3 37.3h0M326.4 37.4h0M329.4 37.6h0M332.5 37.8h0M335.5 38.1h0M338.6 38.5h0M341.7 39.0h0M344.7 39.5h0M347.8 40.0h0M350.8 40.4h0M353.9 40.9h0M357.0 41.4h0M360.0 41.9h0M363.1 42.4h0M366.1 42.9h0M369.2 43.4h0M372.3 43.8h0M375.3 44.3h0M378.4 44.8h0M381.4 45.5h0M384.5 46.5h0M387.6 47.7h0M390.6 49.1h0M393.7 50.7h0M396.7 52.6h0M399.8 54.8h0M402.9 57.7h0M405.9 61.0h0M409.0 64.8h0M412.0 68.4h0M415.1 72.1h0M418.2 77.8h0M421.2 78.8h0M424.3 75.7h0M427.3 72.6h0M430.4 72.7h0M433.5 73.7h0M436.5 76.8h0M439.6 80.1h0M442.6 83.9h0M445.7 87.2h0M448.8 89.7h0M451.8 92.0h0M454.9 93.6h0M457.9 93.9h0M461.0 92.5h0M464.1 90.6h0M467.1 88.0h0M470.2 84.8h0M473.2 80.8h0" stroke="#78ccea" stroke-width="3.3" stroke-linecap="round"/>
<path d="M277.4 36.0h0M280.5 36.1h0M283.5 36.1h0M286.6 36.2h0M289.6 36.3h0M292.7 36.4h0M295.8 36.5h0M298.8 36.6h0M301.9 36.7h0M304.9 36.7h0M308.0 36.8h0M311.1 36.9h0M314.1 37.0h0M317.2 37.1h0M320.2 37.2h0M323.3 37.3h0M326.4 37.4h0M329.4 37.6h0M332.5 37.8h0M335.5 38.1h0M338.6 38.5h0M341.7 39.0h0M344.7 39.5h0M347.8 40.0h0M350.8 40.4h0M353.9 40.9h0M357.0 41.4h0M360.0 41.9h0M363.1 42.4h0M366.1 42.9h0M369.2 43.4h0M372.3 43.8h0M375.3 44.3h0M378.4 44.8h0M381.4 45.5h0M384.5 46.5h0M387.6 47.7h0M390.6 49.1h0M393.7 50.7h0M396.7 52.6h0M399.8 54.8h0M402.9 57.7h0M405.9 61.0h0M409.0 64.8h0M412.0 68.4h0M415.1 72.1h0M418.2 77.8h0M421.2 78.8h0M424.3 75.7h0M427.3 72.6h0M430.4 72.7h0M433.5 73.7h0M436.5 76.8h0M439.6 80.1h0M442.6 83.9h0M445.7 87.2h0M448.8 89.7h0M451.8 92.0h0M454.9 93.6h0M457.9 93.9h0M461.0 92.5h0M464.1 90.6h0M467.1 88.0h0M470.2 84.8h0M473.2 80.8h0" stroke="#a0dbf0" stroke-width="1.3" stroke-linecap="round"/>
<path d="M277.5 36.0l.9 0 1 0 1 .1 1 0 1 0 1 .1 1 0 1 0 1 .1 1 0 1 0 1 .1 1 0 1 0 1 .1 1 0 1 .1 1 0 1 0 1 .1 1 0 1 .1 .6 0 .4 0 1 .1 1 0 1 .1 1 0 1 .1 1 0 1 0 1 .1 1 .1 1 0 1 .1 1 0 1 .1 1 0 1 .1 1 .1 1 0 1 .1 1 0 1 .1 1 .1 1 .1 1 0 1 .1 1 .1 1 .1 1 .1 1 .1 1 0 .6 .1 .4 0 1 .1 1 .2 1 .1 1 .1 1 .1 1 .2 1 .1 1 .2 1 .2 1 .1 1 .2 1 .2 1 .2 1 .2 1 .2 1 .2 1 .2 1 .2 1 .2 .6 .1 .4 .1 1 .2 1 .2 1 .3 1 .2 1 .3 1 .3 1 .2 1 .3 1 .3 1 .3 1 .3 1 .3 1 .4 1 .3 1 .3 1 .4 1 .4 1 .3 1 .4 .6 .2 .4 .1 1 .4 1 .4 1 .4 1 .4 1 .4 1 .5 1 .4 1 .5 1 .5 1 .5 1 .5 1 .6 1 .6 1 .6 .6 .4 .4 .3 1 .7 1 .9 1 .9 1 1 1 1.1 1 1 1 1.1 1 1.1 1 1.1 .6 .6 .4 .4 1 .9 1 .9 1 1 1 1.3 .6 .9 .4 .7 1 2.4 1 3.1 1 3.9 1 4.5 .6 3 .4 2.4 1 8.2 1 9.6 .6 5.5 .4 4 1 11.3 .9 5 1.1-8.1 1-13.6 .6-6.3 .4-3 1-6.6 1.1-5.4 .9-2.9 1-2.6 .6-1.5 .4-1 1-2.6 1-2.5 1-2.1 .6-1.1 .4-.7 1-1.7 1-1.6 1-1.3 1-.8 .6-.1 .4 0 1 .2 1 .4 1 .5 1 .6 1 .8 1 .8 1 .9 1 1 1 .9 1 .9 1 .8 1 .8 1 .7 1 .5 1 .4 1 .3 .6 0 .4 0 1-.1 1-.2 1-.2 1-.4 1-.3 1-.5 1-.5 1-.5 1-.5 1-.6 1-.5 1-.6 1-.6 1-.5 .6-.3 .4-.2 1-.5 1-.6 1-.5 1-.6 1-.6 1-.6 1-.6 1-.6 1-.7 1-.6 1-.7 1-.7 1-.7 1-.7 1.1-.8" fill="none" stroke="#5885d6" stroke-width="1.1"/>
<path d="M277.4 36.0h0M280.5 36.1h0M283.5 36.2h0M286.6 36.3h0M289.6 36.4h0M292.7 36.5h0M295.8 36.6h0M298.8 36.7h0M301.9 36.9h0M304.9 37.0h0M308.0 37.2h0M311.1 37.3h0M314.1 37.5h0M317.2 37.7h0M320.2 37.9h0M323.3 38.1h0M326.4 38.4h0M329.4 38.6h0M332.5 39.0h0M335.5 39.4h0M338.6 39.8h0M341.7 40.3h0M344.7 40.9h0M347.8 41.5h0M350.8 42.2h0M353.9 42.9h0M357.0 43.7h0M360.0 44.6h0M363.1 45.6h0M366.1 46.6h0M369.2 47.7h0M372.3 48.9h0M375.3 50.1h0M378.4 51.5h0M381.4 53.1h0M384.5 54.9h0M387.6 57.2h0M390.6 60.3h0M393.7 63.6h0M396.7 66.6h0M399.8 70.1h0M402.9 78.3h0M405.9 94.4h0M409.0 124.4h0M412.0 117.1h0M415.1 92.7h0M418.2 83.6h0M421.2 76.1h0M424.3 70.9h0M427.3 68.5h0M430.4 69.6h0M433.5 71.9h0M436.5 74.7h0M439.6 77.2h0M442.6 78.8h0M445.7 78.9h0M448.8 78.0h0M451.8 76.6h0M454.9 75.0h0M457.9 73.2h0M461.0 71.7h0M464.1 69.9h0M467.1 68.1h0M470.2 66.0h0M473.2 63.9h0" stroke="#5885d6" stroke-width="3.3" stroke-linecap="round"/>
<path d="M277.4 36.0h0M280.5 36.1h0M283.5 36.2h0M286.6 36.3h0M289.6 36.4h0M292.7 36.5h0M295.8 36.6h0M298.8 36.7h0M301.9 36.9h0M304.9 37.0h0M308.0 37.2h0M311.1 37.3h0M314.1 37.5h0M317.2 37.7h0M320.2 37.9h0M323.3 38.1h0M326.4 38.4h0M329.4 38.6h0M332.5 39.0h0M335.5 39.4h0M338.6 39.8h0M341.7 40.3h0M344.7 40.9h0M347.8 41.5h0M350.8 42.2h0M353.9 42.9h0M357.0 43.7h0M360.0 44.6h0M363.1 45.6h0M366.1 46.6h0M369.2 47.7h0M372.3 48.9h0M375.3 50.1h0M378.4 51.5h0M381.4 53.1h0M384.5 54.9h0M387.6 57.2h0M390.6 60.3h0M393.7 63.6h0M396.7 66.6h0M399.8 70.1h0M402.9 78.3h0M405.9 94.4h0M409.0 124.4h0M412.0 117.1h0M415.1 92.7h0M418.2 83.6h0M421.2 76.1h0M424.3 70.9h0M427.3 68.5h0M430.4 69.6h0M433.5 71.9h0M436.5 74.7h0M439.6 77.2h0M442.6 78.8h0M445.7 78.9h0M448.8 78.0h0M451.8 76.6h0M454.9 75.0h0M457.9 73.2h0M461.0 71.7h0M464.1 69.9h0M467.1 68.1h0M470.2 66.0h0M473.2 63.9h0" stroke="#8aaae2" stroke-width="1.3" stroke-linecap="round"/>
<path d="M277.5 36.0l.9 0 1 .1 1 0 1 0 1 .1 1 0 1 .1 1 0 1 .1 1 0 1 .1 1 0 1 .1 1 0 1 .1 1 .1 1 0 1 .1 1 .1 1 0 1 .1 1 .1 .6 0 .4 0 1 .1 1 .1 1 0 1 .1 1 .1 1 .1 1 .1 1 0 1 .1 1 .1 1 .1 1 .1 1 .1 1 .1 1 .1 1 .1 1 .1 1 .1 1 .1 1 .1 1 .1 1 .2 1 .1 1 .1 1 .1 1 .2 1 .1 1 .2 1 .1 .6 .1 .4 .1 1 .1 1 .2 1 .2 1 .2 1 .2 1 .2 1 .2 1 .3 1 .2 1 .3 1 .3 1 .2 1 .3 1 .3 1 .3 1 .3 1 .3 1 .3 1 .3 .6 .2 .4 .1 1 .4 1 .3 1 .4 1 .3 1 .4 1 .4 1 .4 1 .5 1 .4 1 .4 1 .5 1 .5 1 .4 1 .5 1 .5 1 .5 1 .5 1 .5 1 .5 .6 .3 .4 .2 1 .5 1 .5 1 .5 1 .5 1 .5 1 .6 1 .6 1 .7 1 .9 .6 .5 .4 .4 1 1.4 1 1.7 1 1.9 1 1.9 .6 1.2 .4 .8 1 1.9 1 2.1 1 2.1 1 2.2 .6 1.4 .4 .9 1 2.4 1 2.4 1 2.6 1 2.9 .6 1.8 .4 1.3 1 3.5 1 4 .6 2.7 .4 2.3 1 7.4 1.2 5.3 .8-2.2 1-6.3 .6-4 .4-2.7 1-8.2 1-7.8 .6-3.3 .4-1.6 1-3.3 1-2.7 1-2.2 .6-1.2 .4-.8 1-1.9 1-1.7 1-1.5 1-1.2 .6-.4 .4-.2 1-.4 1-.3 1-.4 .6-.2 .4-.2 1-.7 1-.7 1-.8 1-.6 1-.4 .6-.1 .4 0 1 .2 1 .2 1 .4 1 .5 1 .6 1 .5 1 .6 1 .5 1 .5 1 .4 1 .3 1.3 .1 .7 0 1 0 1-.1 1-.1 1 0 1-.1 1-.2 1-.1 1-.2 1-.1 1-.2 1-.2 1-.1 1-.2 1-.2 1-.2 1-.2 .4-.1 .6-.1 1-.2 1-.3 1-.3 1-.2 1-.3 1-.4 1-.3 1-.4 1-.3 1-.4 1-.4 1-.5 1-.4 1-.4 1-.5 1-.5 1-.5 1-.4 1.1-.6" fill="none" stroke="#65ba81" stroke-width="1.1"/>
<path d="M277.4 36.0h0M280.5 36.1h0M283.5 36.2h0M286.6 36.4h0M289.6 36.5h0M292.7 36.7h0M295.8 36.9h0M298.8 37.1h0M301.9 37.3h0M304.9 37.6h0M308.0 37.8h0M311.1 38.1h0M314.1 38.4h0M317.2 38.7h0M320.2 39.0h0M323.3 39.4h0M326.4 39.8h0M329.4 40.2h0M332.5 40.7h0M335.5 41.3h0M338.6 42.0h0M341.7 42.8h0M344.7 43.7h0M347.8 44.6h0M350.8 45.6h0M353.9 46.7h0M357.0 47.9h0M360.0 49.2h0M363.1 50.6h0M366.1 52.1h0M369.2 53.6h0M372.3 55.1h0M375.3 56.6h0M378.4 58.6h0M381.4 61.8h0M384.5 67.5h0M387.6 73.6h0M390.6 80.4h0M393.7 88.1h0M396.7 98.1h0M399.8 115.9h0M402.9 106.9h0M405.9 84.3h0M409.0 75.1h0M412.0 69.2h0M415.1 65.4h0M418.2 64.3h0M421.2 62.5h0M424.3 60.6h0M427.3 60.9h0M430.4 62.4h0M433.5 64.1h0M436.5 65.2h0M439.6 65.3h0M442.6 65.0h0M445.7 64.7h0M448.8 64.2h0M451.8 63.6h0M454.9 63.0h0M457.9 62.3h0M461.0 61.4h0M464.1 60.3h0M467.1 59.1h0M470.2 57.7h0M473.2 56.2h0" stroke="#65ba81" stroke-width="3.3" stroke-linecap="round"/>
<path d="M277.4 36.0h0M280.5 36.1h0M283.5 36.2h0M286.6 36.4h0M289.6 36.5h0M292.7 36.7h0M295.8 36.9h0M298.8 37.1h0M301.9 37.3h0M304.9 37.6h0M308.0 37.8h0M311.1 38.1h0M314.1 38.4h0M317.2 38.7h0M320.2 39.0h0M323.3 39.4h0M326.4 39.8h0M329.4 40.2h0M332.5 40.7h0M335.5 41.3h0M338.6 42.0h0M341.7 42.8h0M344.7 43.7h0M347.8 44.6h0M350.8 45.6h0M353.9 46.7h0M357.0 47.9h0M360.0 49.2h0M363.1 50.6h0M366.1 52.1h0M369.2 53.6h0M372.3 55.1h0M375.3 56.6h0M378.4 58.6h0M381.4 61.8h0M384.5 67.5h0M387.6 73.6h0M390.6 80.4h0M393.7 88.1h0M396.7 98.1h0M399.8 115.9h0M402.9 106.9h0M405.9 84.3h0M409.0 75.1h0M412.0 69.2h0M415.1 65.4h0M418.2 64.3h0M421.2 62.5h0M424.3 60.6h0M427.3 60.9h0M430.4 62.4h0M433.5 64.1h0M436.5 65.2h0M439.6 65.3h0M442.6 65.0h0M445.7 64.7h0M448.8 64.2h0M451.8 63.6h0M454.9 63.0h0M457.9 62.3h0M461.0 61.4h0M464.1 60.3h0M467.1 59.1h0M470.2 57.7h0M473.2 56.2h0" stroke="#93cfa7" stroke-width="1.3" stroke-linecap="round"/>
<path d="M277.5 36.0l.9 0 1 .1 1 0 1 0 1 .1 1 0 1 .1 1 0 1 .1 1 .1 1 0 1 .1 1 .1 1 .1 1 0 1 .1 1 .1 1 .1 1 .1 1 .1 1 .1 1 0 .6 .1 .4 0 1 .1 1 .1 1 .1 1 .2 1 .1 1 .1 1 .1 1 .2 1 .1 1 .1 1 .2 1 .1 1 .2 1 .1 1 .2 1 .2 1 .2 1 .1 1 .2 1 .2 1 .2 1 .2 1 .2 1 .2 1 .2 1 .2 1 .2 1 .2 1 .3 .6 .1 .4 .1 1 .2 1 .3 1 .2 1 .3 1 .3 1 .3 1 .3 1 .3 1 .3 1 .4 1 .3 1 .4 1 .4 1 .4 1 .4 1 .4 1 .4 1 .5 1 .4 .6 .3 .4 .2 1 .5 1 .6 1 .6 1 .6 1 .7 1 .7 1 .7 1 .8 1 .7 1 .8 1 .8 1 .8 1 .9 1 .8 1 .8 1 .8 1 .8 1 .8 1 .8 .6 .5 .4 .3 1 .7 1 .6 1 .7 1 .6 1 .7 1 .7 1 .9 1 .9 1 1.1 .6 .8 .4 .6 1 1.9 1 2.6 1 3 1 3.5 1 3.9 .6 2.5 .4 1.8 1 5.3 1 6.5 1 7.5 .6 4.9 .4 4.3 1 15 1 13.8 .7 3.7 1.3-17.8 1-23.4 .6-10.6 .4-5.1 1-11.1 .6-4.2 .4-1.8 1-3.6 1-2.8 1-2.1 .6-1.1 .4-.7 1-1.7 1-1.4 1-1.3 1-1.1 1-1 .6-.5 .4-.3 1-.7 1-.6 1-.6 1-.5 1-.5 1-.5 .6-.3 .4-.2 1-.6 1-.6 1-.5 1-.4 1.2-.2 .8 0 1 .1 1 .1 1 .2 1 .1 1 .2 1 .3 1 .2 1 .3 1 .2 1 .2 1 .3 1 .2 1 .1 1 .2 1 .1 1.3 0 .7 0 1 0 1 0 1 0 1-.1 1 0 1 0 1-.1 1 0 1-.1 1 0 1-.1 1 0 1-.1 1-.1 1 0 1-.1 1-.1 1-.1 1-.1 1 0 .6-.1 .4 0 1-.2 1-.2 1-.2 1-.2 1-.3 1-.4 1-.3 1-.4 1-.4 1-.4 1-.4 1-.5 1-.4 1-.5 1.1-.5" fill="none" stroke="#e26969" stroke-width="1.1"/>
<path d="M277.4 36.0h0M280.5 36.1h0M283.5 36.2h0M286.6 36.4h0M289.6 36.6h0M292.7 36.9h0M295.8 37.1h0M298.8 37.4h0M301.9 37.7h0M304.9 38.0h0M308.0 38.4h0M311.1 38.8h0M314.1 39.3h0M317.2 39.8h0M320.2 40.4h0M323.3 41.0h0M326.4 41.6h0M329.4 42.3h0M332.5 43.0h0M335.5 43.8h0M338.6 44.8h0M341.7 45.8h0M344.7 47.0h0M347.8 48.3h0M350.8 49.7h0M353.9 51.5h0M357.0 53.6h0M360.0 55.9h0M363.1 58.4h0M366.1 60.9h0M369.2 63.4h0M372.3 65.6h0M375.3 67.5h0M378.4 70.1h0M381.4 74.6h0M384.5 84.0h0M387.6 98.1h0M390.6 123.2h0M393.7 148.6h0M396.7 91.8h0M399.8 74.0h0M402.9 67.7h0M405.9 63.5h0M409.0 60.8h0M412.0 59.0h0M415.1 57.4h0M418.2 55.7h0M421.2 55.0h0M424.3 55.3h0M427.3 56.0h0M430.4 56.7h0M433.5 57.4h0M436.5 57.8h0M439.6 57.8h0M442.6 57.7h0M445.7 57.6h0M448.8 57.5h0M451.8 57.3h0M454.9 57.1h0M457.9 56.8h0M461.0 56.4h0M464.1 55.7h0M467.1 54.6h0M470.2 53.4h0M473.2 52.0h0" stroke="#e26969" stroke-width="3.3" stroke-linecap="round"/>
<path d="M277.4 36.0h0M280.5 36.1h0M283.5 36.2h0M286.6 36.4h0M289.6 36.6h0M292.7 36.9h0M295.8 37.1h0M298.8 37.4h0M301.9 37.7h0M304.9 38.0h0M308.0 38.4h0M311.1 38.8h0M314.1 39.3h0M317.2 39.8h0M320.2 40.4h0M323.3 41.0h0M326.4 41.6h0M329.4 42.3h0M332.5 43.0h0M335.5 43.8h0M338.6 44.8h0M341.7 45.8h0M344.7 47.0h0M347.8 48.3h0M350.8 49.7h0M353.9 51.5h0M357.0 53.6h0M360.0 55.9h0M363.1 58.4h0M366.1 60.9h0M369.2 63.4h0M372.3 65.6h0M375.3 67.5h0M378.4 70.1h0M381.4 74.6h0M384.5 84.0h0M387.6 98.1h0M390.6 123.2h0M393.7 148.6h0M396.7 91.8h0M399.8 74.0h0M402.9 67.7h0M405.9 63.5h0M409.0 60.8h0M412.0 59.0h0M415.1 57.4h0M418.2 55.7h0M421.2 55.0h0M424.3 55.3h0M427.3 56.0h0M430.4 56.7h0M433.5 57.4h0M436.5 57.8h0M439.6 57.8h0M442.6 57.7h0M445.7 57.6h0M448.8 57.5h0M451.8 57.3h0M454.9 57.1h0M457.9 56.8h0M461.0 56.4h0M464.1 55.7h0M467.1 54.6h0M470.2 53.4h0M473.2 52.0h0" stroke="#eb9696" stroke-width="1.3" stroke-linecap="round"/>
<path d="M277.5 36.5l.9 0 1 0 1 .1 1 0 1 0 1 .1 1 .1 1 0 1 .1 1 .1 1 0 1 .1 1 .1 1 .1 1 .1 1 .1 1 .1 1 .1 1 .1 1 .1 1 .1 1 .1 .6 .1 .4 0 1 .2 1 .1 1 .1 1 .2 1 .1 1 .2 1 .1 1 .2 1 .2 1 .2 1 .2 1 .2 1 .2 1 .2 1 .2 1 .3 1 .2 1 .3 1 .2 1 .3 1 .3 1 .2 1 .3 1 .3 1 .3 1 .3 1 .3 1 .4 1 .3 .6 .2 .4 .1 1 .4 1 .4 1 .4 1 .5 1 .5 1 .5 1 .5 1 .6 1 .6 1 .6 1 .6 1 .7 1 .6 1 .7 1 .7 1 .7 1 .7 1 .7 1 .8 .6 .4 .4 .3 1 .8 1 .8 1 .8 1 .9 1 .9 1 1 1 1 1 1.1 1 1 .6 .7 .4 .4 1 1.1 1 1 1 1.1 1 1.1 1 1.2 1 1.4 1 1.5 1 1.8 1 2 .6 1.4 .4 1.2 1 4.5 1 5.4 .6 2.9 .4 1.8 1 5.1 1 5.4 1 5.1 1 4.3 1 3 1 1.1 1-1.3 1-3.2 1-4.6 1-5.1 1-4.8 .6-2.4 .4-1.5 1-3.7 1-3.7 1-3.6 1-3.4 .6-1.9 .4-1.2 1-3.1 1-2.9 1-2.8 1-2.6 .6-1.4 .4-.9 1-2.4 1-2.2 1-2 1-1.7 .6-.9 .4-.5 1-1.4 1-1.2 1-1 1-.8 .6-.2 .4-.1 1-.2 1-.2 1-.2 1-.1 1-.2 1-.1 1-.1 1-.1 1 0 .6-.1 .4 0 1-.1 1-.1 1-.1 1-.1 1-.1 1-.1 1 0 1-.1 1 0 .6 0 .4 0 1 .1 1 .3 1 .3 1 .5 1 .4 1 .5 1 .5 1 .5 1 .4 1 .3 1 .3 1.3 .1 .7 0 1 0 1 0 1-.1 1 0 1-.1 1 0 1-.1 1-.1 1 0 1-.1 1-.1 1-.1 1-.1 1-.1 1-.1 1-.1 .4 0 .6-.1 1-.1 1-.1 1-.1 1-.1 1-.1 1-.2 1-.1 1-.2 1-.2 1-.1 1-.2 1-.2 1-.2 1-.2 1-.2 1-.2 1-.2 1-.2 1.1-.2" fill="none" stroke="#856ff1" stroke-width="1.1"/>
<path d="M277.4 36.5h0M280.5 36.6h0M283.5 36.7h0M286.6 36.9h0M289.6 37.1h0M292.7 37.4h0M295.8 37.7h0M298.8 38.1h0M301.9 38.4h0M304.9 38.8h0M308.0 39.3h0M311.1 39.9h0M314.1 40.6h0M317.2 41.3h0M320.2 42.1h0M323.3 42.9h0M326.4 43.8h0M329.4 44.8h0M332.5 45.9h0M335.5 47.4h0M338.6 49.0h0M341.7 50.9h0M344.7 52.9h0M347.8 55.1h0M350.8 57.3h0M353.9 59.9h0M357.0 62.8h0M360.0 66.0h0M363.1 69.2h0M366.1 72.9h0M369.2 78.2h0M372.3 90.4h0M375.3 105.8h0M378.4 118.6h0M381.4 115.1h0M384.5 100.4h0M387.6 88.9h0M390.6 78.7h0M393.7 69.9h0M396.7 62.6h0M399.8 56.8h0M402.9 52.9h0M405.9 51.2h0M409.0 50.6h0M412.0 50.3h0M415.1 50.0h0M418.2 49.7h0M421.2 49.4h0M424.3 49.3h0M427.3 49.7h0M430.4 50.9h0M433.5 52.4h0M436.5 53.4h0M439.6 53.5h0M442.6 53.4h0M445.7 53.2h0M448.8 52.9h0M451.8 52.7h0M454.9 52.4h0M457.9 52.1h0M461.0 51.7h0M464.1 51.2h0M467.1 50.7h0M470.2 50.1h0M473.2 49.5h0" stroke="#856ff1" stroke-width="3.3" stroke-linecap="round"/>
<path d="M277.4 36.5h0M280.5 36.6h0M283.5 36.7h0M286.6 36.9h0M289.6 37.1h0M292.7 37.4h0M295.8 37.7h0M298.8 38.1h0M301.9 38.4h0M304.9 38.8h0M308.0 39.3h0M311.1 39.9h0M314.1 40.6h0M317.2 41.3h0M320.2 42.1h0M323.3 42.9h0M326.4 43.8h0M329.4 44.8h0M332.5 45.9h0M335.5 47.4h0M338.6 49.0h0M341.7 50.9h0M344.7 52.9h0M347.8 55.1h0M350.8 57.3h0M353.9 59.9h0M357.0 62.8h0M360.0 66.0h0M363.1 69.2h0M366.1 72.9h0M369.2 78.2h0M372.3 90.4h0M375.3 105.8h0M378.4 118.6h0M381.4 115.1h0M384.5 100.4h0M387.6 88.9h0M390.6 78.7h0M393.7 69.9h0M396.7 62.6h0M399.8 56.8h0M402.9 52.9h0M405.9 51.2h0M409.0 50.6h0M412.0 50.3h0M415.1 50.0h0M418.2 49.7h0M421.2 49.4h0M424.3 49.3h0M427.3 49.7h0M430.4 50.9h0M433.5 52.4h0M436.5 53.4h0M439.6 53.5h0M442.6 53.4h0M445.7 53.2h0M448.8 52.9h0M451.8 52.7h0M454.9 52.4h0M457.9 52.1h0M461.0 51.7h0M464.1 51.2h0M467.1 50.7h0M470.2 50.1h0M473.2 49.5h0" stroke="#aa9af5" stroke-width="1.3" stroke-linecap="round"/>
<path d="M277.4 20.8H474.7V167.0" fill="none" stroke="#333" stroke-width="1.1"/>
<path d="M277.4 20.8V167.0H474.7" fill="none" stroke="#111" stroke-width="1.4"/>
<path d="M277.5 167.0v2.6M289.8 167.0v1.6M302.0 167.0v2.6M314.2 167.0v1.6M326.5 167.0v2.6M338.8 167.0v1.6M351.0 167.0v2.6M363.2 167.0v1.6M375.5 167.0v2.6M387.8 167.0v1.6M400.0 167.0v2.6M412.2 167.0v1.6M424.5 167.0v2.6M436.8 167.0v1.6M449.0 167.0v2.6M461.2 167.0v1.6M473.5 167.0v2.6M277.4 36.0h-2.6M277.4 66.7h-2.6M277.4 97.4h-2.6M277.4 128.1h-2.6M277.4 158.8h-2.6M277.4 51.4h-1.6M277.4 82.0h-1.6M277.4 112.8h-1.6M277.4 143.4h-1.6" stroke="#111" stroke-width="1"/>
<g font-family='"Liberation Serif", serif' font-weight="bold" font-size="8.5" fill="#111">
<text x="277.5" y="179.5" text-anchor="middle">2</text>
<text x="302.0" y="179.5" text-anchor="middle">4</text>
<text x="326.5" y="179.5" text-anchor="middle">6</text>
<text x="351.0" y="179.5" text-anchor="middle">8</text>
<text x="375.5" y="179.5" text-anchor="middle">10</text>
<text x="400.0" y="179.5" text-anchor="middle">12</text>
<text x="424.5" y="179.5" text-anchor="middle">14</text>
<text x="449.0" y="179.5" text-anchor="middle">16</text>
<text x="473.5" y="179.5" text-anchor="middle">18</text>
<text x="273.5" y="39.0" text-anchor="end">0</text>
<text x="273.5" y="69.7" text-anchor="end">-10</text>
<text x="273.5" y="100.4" text-anchor="end">-20</text>
<text x="273.5" y="131.1" text-anchor="end">-30</text>
<text x="273.5" y="161.8" text-anchor="end">-40</text>
</g>
<text x="376.4" y="195.8" font-family='"Liberation Serif", serif' font-weight="bold" font-size="12.55" text-anchor="middle" fill="#111">Frequency (GHz)</text>
<text transform="translate(250.8 87.3) rotate(-90)" font-family='"Liberation Serif", serif' font-weight="bold" font-size="13.20" text-anchor="middle" fill="#111">Reflection loss (dB)</text>
<text x="249.9" y="15.5" font-family='"Liberation Sans", sans-serif' font-weight="bold" font-size="19.3" fill="#111">(b)</text>
<path d="M289.6 102.6h17.5" stroke="#e5c586" stroke-width="1.6"/>
<circle cx="298.4" cy="102.6" r="1.4" fill="#e5c586" stroke="#c99a3a" stroke-width="0.7"/>
<text x="309.1" y="105.8" font-family='"Liberation Sans", sans-serif' font-weight="bold" font-size="9" fill="#111">1.6 mm</text>
<path d="M289.6 113.6h17.5" stroke="#78ccea" stroke-width="1.6"/>
<circle cx="298.4" cy="113.6" r="1.4" fill="#78ccea" stroke="#2aa8d8" stroke-width="0.7"/>
<text x="309.1" y="116.8" font-family='"Liberation Sans", sans-serif' font-weight="bold" font-size="9" fill="#111">1.7 mm</text>
<path d="M289.6 124.6h17.5" stroke="#5885d6" stroke-width="1.6"/>
<circle cx="298.4" cy="124.6" r="1.4" fill="#5885d6" stroke="#2a58b8" stroke-width="0.7"/>
<text x="309.1" y="127.8" font-family='"Liberation Sans", sans-serif' font-weight="bold" font-size="9" fill="#111">1.9 mm</text>
<path d="M289.6 135.6h17.5" stroke="#65ba81" stroke-width="1.6"/>
<circle cx="298.4" cy="135.6" r="1.4" fill="#65ba81" stroke="#2e9450" stroke-width="0.7"/>
<text x="309.1" y="138.8" font-family='"Liberation Sans", sans-serif' font-weight="bold" font-size="9" fill="#111">2.1 mm</text>
<path d="M289.6 146.6h17.5" stroke="#e26969" stroke-width="1.6"/>
<circle cx="298.4" cy="146.6" r="1.4" fill="#e26969" stroke="#c83838" stroke-width="0.7"/>
<text x="309.1" y="149.8" font-family='"Liberation Sans", sans-serif' font-weight="bold" font-size="9" fill="#111">2.3 mm</text>
<path d="M289.6 157.6h17.5" stroke="#856ff1" stroke-width="1.6"/>
<circle cx="298.4" cy="157.6" r="1.4" fill="#856ff1" stroke="#5a40e0" stroke-width="0.7"/>
<text x="309.1" y="160.8" font-family='"Liberation Sans", sans-serif' font-weight="bold" font-size="9" fill="#111">2.5 mm</text>
<path d="M521.4 32.6l1.1 0 .9 0 1 0 1 0 1 0 1 0 1 0 1 0 1 0 1 0 1 0 1 0 1 0 1 0 1 0 1 0 1 0 1 0 1 0 1 0 1 0 1 0 1 0 1 0 1 0 1 0 1 0 1 0 1 0 1 0 1 0 1 0 1 0 1 0 1 0 1 0 1 0 1 0 1 0 1 0 1 0 1 0 1 0 1 0 1 0 1 0 1 0 1 0 1 0 1 0 1 0 1 0 1 0 1 0 1 0 1 0 1 0 1 0 .6 0 .4 0 1 0 1 0 1 0 1 0 1 0 1 0 1 0 1 .1 1 0 1 0 1 0 1 0 1 .1 1 0 1 0 1 0 1 .1 1 0 1 0 1 .1 1 0 1 0 1 .1 1 0 1 .1 1 0 1 0 1 .1 1 0 1 .1 1 0 1 .1 1 0 1 .1 1 .1 1 0 1 .1 1 0 1 .1 1 .1 1 0 1 .1 1 .1 1 0 1 .1 1 .1 1 0 1 .1 1 .1 1 .1 1 0 1 .1 1 .1 1 .1 1 .1 1 0 1 .1 1 .1 1 .1 1 .1 1 .1 1 .1 1 .1 1 .1 1 0 .6 .1 .4 0 1 .2 1 .1 1 .2 1 .2 1 .2 1 .2 1 .3 1 .3 1 .2 1 .3 1 .3 1 .3 1 .3 1 .2 1 .3 1 .3 1 .2 1 .3 1 .2 1 .2 1 .2 .6 .1 .4 .1 1 .1 1 .1 1 .1 1 .1 1 .1 1 .1 1 .1 1 .1 1 .2 1 .1 1 .2 .6 .1 .4 .1 1 .2 1 .4 1 .3 1 .5 1 .4 1 .5 1 .6 1 .6 1 .6 1 .6 1 .7 1 .6 1 .7 1.2 .8 .8 .6 1 .8 1 .8 1 .9 1 1 1 1 1 1 1 1 1 1 1 1 1 1 1 .9 1.3 1.1 .7 .5 1 .8 1 .8 1 .7 1 .7 1 .7 1 .7 1 .7 1 .6 1 .6 1.1 .7" fill="none" stroke="#e5c586" stroke-width="1.1"/>
<path d="M521.4 32.6h0M524.5 32.6h0M527.5 32.6h0M530.6 32.6h0M533.6 32.6h0M536.7 32.6h0M539.8 32.6h0M542.8 32.6h0M545.9 32.6h0M548.9 32.6h0M552.0 32.6h0M555.1 32.6h0M558.1 32.6h0M561.2 32.6h0M564.2 32.6h0M567.3 32.6h0M570.4 32.6h0M573.4 32.6h0M576.5 32.6h0M579.5 32.6h0M582.6 32.6h0M585.7 32.6h0M588.7 32.7h0M591.8 32.7h0M594.8 32.8h0M597.9 32.9h0M601.0 33.0h0M604.0 33.1h0M607.1 33.2h0M610.1 33.4h0M613.2 33.5h0M616.3 33.7h0M619.3 33.9h0M622.4 34.1h0M625.4 34.3h0M628.5 34.5h0M631.6 34.8h0M634.6 35.0h0M637.7 35.3h0M640.7 35.5h0M643.8 35.8h0M646.9 36.1h0M649.9 36.6h0M653.0 37.3h0M656.0 38.1h0M659.1 39.0h0M662.2 39.8h0M665.2 40.6h0M668.3 41.1h0M671.3 41.5h0M674.4 41.8h0M677.5 42.2h0M680.5 42.7h0M683.6 43.7h0M686.6 45.2h0M689.7 47.0h0M692.8 49.0h0M695.8 51.1h0M698.9 53.8h0M701.9 56.9h0M705.0 59.9h0M708.1 62.6h0M711.1 64.9h0M714.2 67.1h0M717.2 69.0h0" stroke="#e5c586" stroke-width="3.3" stroke-linecap="round"/>
<path d="M521.4 32.6h0M524.5 32.6h0M527.5 32.6h0M530.6 32.6h0M533.6 32.6h0M536.7 32.6h0M539.8 32.6h0M542.8 32.6h0M545.9 32.6h0M548.9 32.6h0M552.0 32.6h0M555.1 32.6h0M558.1 32.6h0M561.2 32.6h0M564.2 32.6h0M567.3 32.6h0M570.4 32.6h0M573.4 32.6h0M576.5 32.6h0M579.5 32.6h0M582.6 32.6h0M585.7 32.6h0M588.7 32.7h0M591.8 32.7h0M594.8 32.8h0M597.9 32.9h0M601.0 33.0h0M604.0 33.1h0M607.1 33.2h0M610.1 33.4h0M613.2 33.5h0M616.3 33.7h0M619.3 33.9h0M622.4 34.1h0M625.4 34.3h0M628.5 34.5h0M631.6 34.8h0M634.6 35.0h0M637.7 35.3h0M640.7 35.5h0M643.8 35.8h0M646.9 36.1h0M649.9 36.6h0M653.0 37.3h0M656.0 38.1h0M659.1 39.0h0M662.2 39.8h0M665.2 40.6h0M668.3 41.1h0M671.3 41.5h0M674.4 41.8h0M677.5 42.2h0M680.5 42.7h0M683.6 43.7h0M686.6 45.2h0M689.7 47.0h0M692.8 49.0h0M695.8 51.1h0M698.9 53.8h0M701.9 56.9h0M705.0 59.9h0M708.1 62.6h0M711.1 64.9h0M714.2 67.1h0M717.2 69.0h0" stroke="#edd6aa" stroke-width="1.3" stroke-linecap="round"/>
<path d="M521.4 32.6l1.1 0 .9 0 1 0 1 0 1 0 1 0 1 0 1 0 1 0 1 0 1 0 1 0 1 0 1 0 1 0 1 0 1 0 1 0 1 0 1 0 1 0 1 0 1 0 1 0 1 0 1 0 1 0 1 0 1 0 1 0 1 0 1 0 1 0 1 0 1 0 1 0 1 0 1 0 1 0 1 0 1 0 1 0 1 0 1 0 1 0 1 0 1 0 1 0 1 0 1 0 1 0 1 0 1 0 1 0 1 0 1 0 1 0 1 0 .6 0 .4 0 1 0 1 0 1 0 1 0 1 .1 1 0 1 0 1 0 1 .1 1 0 1 .1 1 0 1 .1 1 0 1 .1 1 0 1 .1 1 0 1 .1 1 .1 1 .1 1 0 1 .1 1 .1 1 .1 1 .1 1 0 1 .1 1 .1 1 .1 1 .1 1 .1 1 .1 1 .1 1 .1 1 .1 1 .1 1 .2 1 .1 1 .1 1 .1 1 .1 1 .1 1 .1 1 .2 1 .1 1 .1 1 .1 1 .1 1 .2 1 .1 1 .1 1 .1 1 .2 1 .1 1 .1 1 .1 1.3 .2 .7 .1 1 .1 1 .2 1 .1 1 .2 1 .2 1 .2 1 .2 1 .2 1 .2 1 .2 1 .2 1 .3 1 .2 1 .2 1 .2 1 .3 1 .2 1 .2 1 .2 1 .2 1.2 .3 .8 .2 1 .2 1 .2 1 .2 1 .2 1 .2 1 .2 1 .2 1 .2 1 .2 1 .3 1 .2 1 .3 .4 .1 .6 .2 1 .3 1 .3 1 .3 1 .4 1 .4 .6 .3 .4 .2 1 .6 1 .8 1 .8 1 .9 1 1 1 1 1 1 1 1 1 1 1 .9 .6 .5 .4 .3 1 .8 1 .7 1 .7 1 .7 1 .8 1 .8 1 .8 1 1 .8 .9 1.2 1.6 1 1.6 1 1.8 1 2.1 1 2.2 1 2.3 1.3 3.3 .7 1.9 1 3.2 1.1 4.3 .9 4.5 1 6.2 1 7.1 1.2 9.7 .8 8.7 1 13.1 1.2 11.2 .9 3" fill="none" stroke="#78ccea" stroke-width="1.1"/>
<path d="M521.4 32.6h0M524.5 32.6h0M527.5 32.6h0M530.6 32.6h0M533.6 32.6h0M536.7 32.6h0M539.8 32.6h0M542.8 32.6h0M545.9 32.6h0M548.9 32.6h0M552.0 32.6h0M555.1 32.6h0M558.1 32.6h0M561.2 32.6h0M564.2 32.6h0M567.3 32.6h0M570.4 32.6h0M573.4 32.6h0M576.5 32.6h0M579.5 32.6h0M582.6 32.6h0M585.7 32.7h0M588.7 32.8h0M591.8 32.9h0M594.8 33.0h0M597.9 33.2h0M601.0 33.4h0M604.0 33.7h0M607.1 33.9h0M610.1 34.2h0M613.2 34.5h0M616.3 34.8h0M619.3 35.2h0M622.4 35.5h0M625.4 35.9h0M628.5 36.2h0M631.6 36.6h0M634.6 37.0h0M637.7 37.4h0M640.7 37.8h0M643.8 38.3h0M646.9 38.9h0M649.9 39.5h0M653.0 40.2h0M656.0 40.9h0M659.1 41.6h0M662.2 42.2h0M665.2 42.8h0M668.3 43.5h0M671.3 44.2h0M674.4 45.0h0M677.5 45.9h0M680.5 47.3h0M683.6 49.5h0M686.6 52.5h0M689.7 55.5h0M692.8 58.1h0M695.8 60.2h0M698.9 62.8h0M701.9 66.6h0M705.0 72.6h0M708.1 80.1h0M711.1 91.5h0M714.2 112.5h0M717.2 146.7h0" stroke="#78ccea" stroke-width="3.3" stroke-linecap="round"/>
<path d="M521.4 32.6h0M524.5 32.6h0M527.5 32.6h0M530.6 32.6h0M533.6 32.6h0M536.7 32.6h0M539.8 32.6h0M542.8 32.6h0M545.9 32.6h0M548.9 32.6h0M552.0 32.6h0M555.1 32.6h0M558.1 32.6h0M561.2 32.6h0M564.2 32.6h0M567.3 32.6h0M570.4 32.6h0M573.4 32.6h0M576.5 32.6h0M579.5 32.6h0M582.6 32.6h0M585.7 32.7h0M588.7 32.8h0M591.8 32.9h0M594.8 33.0h0M597.9 33.2h0M601.0 33.4h0M604.0 33.7h0M607.1 33.9h0M610.1 34.2h0M613.2 34.5h0M616.3 34.8h0M619.3 35.2h0M622.4 35.5h0M625.4 35.9h0M628.5 36.2h0M631.6 36.6h0M634.6 37.0h0M637.7 37.4h0M640.7 37.8h0M643.8 38.3h0M646.9 38.9h0M649.9 39.5h0M653.0 40.2h0M656.0 40.9h0M659.1 41.6h0M662.2 42.2h0M665.2 42.8h0M668.3 43.5h0M671.3 44.2h0M674.4 45.0h0M677.5 45.9h0M680.5 47.3h0M683.6 49.5h0M686.6 52.5h0M689.7 55.5h0M692.8 58.1h0M695.8 60.2h0M698.9 62.8h0M701.9 66.6h0M705.0 72.6h0M708.1 80.1h0M711.1 91.5h0M714.2 112.5h0M717.2 146.7h0" stroke="#a0dbf0" stroke-width="1.3" stroke-linecap="round"/>
<path d="M521.4 32.6l1.1 0 .9 0 1 0 1 0 1 0 1 0 1-.1 1 0 1 0 1 0 1 0 1 0 1 0 1 0 1 0 1 0 1 0 1 0 1 0 1 0 1 0 1 0 1-.1 1 0 1 0 1 0 1 0 1 0 1 0 1 0 1 0 1 0 1 0 1 0 1 0 1 0 1 0 1 0 1 0 1 0 1 0 1 0 1 0 1 0 1 0 1 0 1 0 1 0 1 0 1 0 1 0 1 0 1 0 1 0 1 0 1 0 1 0 1 0 .6 0 .4 0 1 0 1 0 1 0 1 .1 1 0 1 .1 1 0 1 .1 1 0 1 .1 1 .1 1 .1 1 .1 1 .1 1 .1 1 .1 1 .1 1 .1 1 .1 1 .2 1 .1 1 .1 1 .2 1 .1 1 .1 1 .2 1 .1 1 .2 1 .1 1 .2 1 .2 1 .1 1 .2 1 .1 1 .2 1 .2 1 .1 1 .2 1 .2 1 .1 1 .2 1 .1 1 .2 .6 .1 .4 .1 1 .1 1 .2 1 .2 1 .2 1 .2 1 .1 1 .2 1 .3 1 .2 1 .2 1 .2 1 .3 1 .2 1 .2 1 .3 1 .3 1 .2 1 .3 1 .3 1 .3 1 .3 .6 .2 .4 .1 1 .4 1 .3 1 .4 1 .4 1 .5 1 .4 1 .5 1 .5 1 .5 1 .5 1 .5 1 .5 .8 .4 1.2 .7 1 .5 1 .6 1 .7 1 .6 1 .7 1 .6 1 .7 1 .7 1 .6 1 .6 .5 .3 .5 .3 1 .5 1 .5 1 .4 1 .5 1 .4 1 .6 1 .6 1 .8 .6 .5 .4 .4 1 1.7 1 2.1 1 2.6 1 2.6 1 2.5 1 2.2 .8 1.3 1.2 1.7 1 1.3 1 1.2 1 .9 1 .5 .4 0 .6-.1 1-.4 1-.7 1-1 1-1.1 1-1.1 1-1.2 .8-.9 1.2-1.5 1-1.5 1-1.6 1-1.8 1-1.6 1-1.6 1-1.4 1-1.2 1.2-.9 .8-.4 1-.5 1-.4 1-.4 1-.4 1-.3 1-.2 1-.1 1.1-.1" fill="none" stroke="#5885d6" stroke-width="1.1"/>
<path d="M521.4 32.6h0M524.5 32.6h0M527.5 32.6h0M530.6 32.5h0M533.6 32.5h0M536.7 32.5h0M539.8 32.5h0M542.8 32.5h0M545.9 32.4h0M548.9 32.4h0M552.0 32.4h0M555.1 32.4h0M558.1 32.4h0M561.2 32.4h0M564.2 32.4h0M567.3 32.4h0M570.4 32.4h0M573.4 32.4h0M576.5 32.4h0M579.5 32.4h0M582.6 32.4h0M585.7 32.5h0M588.7 32.7h0M591.8 32.9h0M594.8 33.2h0M597.9 33.6h0M601.0 33.9h0M604.0 34.3h0M607.1 34.8h0M610.1 35.3h0M613.2 35.7h0M616.3 36.2h0M619.3 36.7h0M622.4 37.2h0M625.4 37.7h0M628.5 38.3h0M631.6 38.9h0M634.6 39.5h0M637.7 40.3h0M640.7 41.1h0M643.8 41.9h0M646.9 42.9h0M649.9 44.0h0M653.0 45.4h0M656.0 46.9h0M659.1 48.4h0M662.2 50.2h0M665.2 52.2h0M668.3 54.2h0M671.3 56.1h0M674.4 57.5h0M677.5 59.0h0M680.5 61.5h0M683.6 68.2h0M686.6 75.4h0M689.7 79.7h0M692.8 81.9h0M695.8 80.3h0M698.9 76.9h0M701.9 73.1h0M705.0 68.0h0M708.1 63.6h0M711.1 61.5h0M714.2 60.3h0M717.2 59.6h0" stroke="#5885d6" stroke-width="3.3" stroke-linecap="round"/>
<path d="M521.4 32.6h0M524.5 32.6h0M527.5 32.6h0M530.6 32.5h0M533.6 32.5h0M536.7 32.5h0M539.8 32.5h0M542.8 32.5h0M545.9 32.4h0M548.9 32.4h0M552.0 32.4h0M555.1 32.4h0M558.1 32.4h0M561.2 32.4h0M564.2 32.4h0M567.3 32.4h0M570.4 32.4h0M573.4 32.4h0M576.5 32.4h0M579.5 32.4h0M582.6 32.4h0M585.7 32.5h0M588.7 32.7h0M591.8 32.9h0M594.8 33.2h0M597.9 33.6h0M601.0 33.9h0M604.0 34.3h0M607.1 34.8h0M610.1 35.3h0M613.2 35.7h0M616.3 36.2h0M619.3 36.7h0M622.4 37.2h0M625.4 37.7h0M628.5 38.3h0M631.6 38.9h0M634.6 39.5h0M637.7 40.3h0M640.7 41.1h0M643.8 41.9h0M646.9 42.9h0M649.9 44.0h0M653.0 45.4h0M656.0 46.9h0M659.1 48.4h0M662.2 50.2h0M665.2 52.2h0M668.3 54.2h0M671.3 56.1h0M674.4 57.5h0M677.5 59.0h0M680.5 61.5h0M683.6 68.2h0M686.6 75.4h0M689.7 79.7h0M692.8 81.9h0M695.8 80.3h0M698.9 76.9h0M701.9 73.1h0M705.0 68.0h0M708.1 63.6h0M711.1 61.5h0M714.2 60.3h0M717.2 59.6h0" stroke="#8aaae2" stroke-width="1.3" stroke-linecap="round"/>
<path d="M521.4 32.6l1.1 0 .9 0 1 0 1 0 1 0 1 0 1 0 1 0 1 0 1 0 1 0 1 0 1 0 1 0 1 0 1 0 1 0 1 0 1 0 1 0 1 0 1 0 1 .1 1 0 1 0 1 0 1 0 1 0 1 0 1 0 1 0 1 0 1 0 1 0 1 0 1 0 1 .1 1 0 1 0 1 0 1 0 1 0 1 0 1 0 1 0 1 0 1 0 1 .1 1 0 1 0 1 0 1 0 1 0 1 0 1 0 1 .1 1 0 1 0 .6 0 .4 0 1 0 1 .1 1 0 1 .1 1 0 1 .1 1 .1 1 .1 1 .1 1 .1 1 .1 1 .1 1 .2 1 .1 1 .1 1 .2 1 .1 1 .2 1 .2 1 .1 1 .2 1 .2 1 .1 1 .2 1 .2 1 .2 1 .2 1 .1 .9 .2 1.1 .2 1 .2 1 .3 1 .2 1 .3 1 .3 1 .3 1 .3 1 .3 1 .3 1 .3 1 .4 1 .3 1 .3 1 .4 1 .3 1 .3 .5 .2 .5 .2 1 .3 1 .3 1 .3 1 .3 1 .4 1 .3 1 .3 1 .4 1 .3 1 .4 1 .3 1 .4 1 .4 1.2 .5 .8 .3 1 .4 1 .4 1 .5 1 .4 1 .5 1 .5 1 .6 1 .6 1 .6 .4 .3 .6 .5 1 1 1 1.2 1 1.3 1 1.4 1 1.5 1 1.4 1 1.3 1.2 1.4 .8 .9 1 1.2 1 1.2 1 1.2 1 1.2 1 .9 1 .8 1 .5 1 .2 1-.3 1-1 1-1.2 1-1.5 1-1.4 1-1.3 .6-.5 .4-.3 1-.7 1-.7 1-.6 1-.6 1-.5 1-.5 1-.6 1-.5 1-.5 1-.5 .8-.4 1.2-.7 1-.5 1-.6 1-.6 1-.6 1-.6 1-.5 1-.5 1-.5 1-.5 1-.4 1-.3 .8-.2 1.2-.3 1-.2 1-.3 1-.2 1-.2 1-.2 1-.2 1-.2 1-.2 1-.1 1-.2 1-.1 1-.1 1-.1 1-.1 1 0 1-.1 1.1 0" fill="none" stroke="#65ba81" stroke-width="1.1"/>
<path d="M521.4 32.6h0M524.5 32.6h0M527.5 32.6h0M530.6 32.6h0M533.6 32.6h0M536.7 32.6h0M539.8 32.6h0M542.8 32.6h0M545.9 32.7h0M548.9 32.7h0M552.0 32.7h0M555.1 32.7h0M558.1 32.7h0M561.2 32.8h0M564.2 32.8h0M567.3 32.8h0M570.4 32.9h0M573.4 32.9h0M576.5 33.0h0M579.5 33.0h0M582.6 33.1h0M585.7 33.3h0M588.7 33.5h0M591.8 33.9h0M594.8 34.3h0M597.9 34.7h0M601.0 35.2h0M604.0 35.7h0M607.1 36.3h0M610.1 36.9h0M613.2 37.6h0M616.3 38.4h0M619.3 39.4h0M622.4 40.4h0M625.4 41.4h0M628.5 42.4h0M631.6 43.4h0M634.6 44.4h0M637.7 45.5h0M640.7 46.6h0M643.8 47.9h0M646.9 49.2h0M649.9 50.9h0M653.0 53.1h0M656.0 57.0h0M659.1 61.3h0M662.2 64.9h0M665.2 68.6h0M668.3 71.0h0M671.3 70.0h0M674.4 65.8h0M677.5 62.9h0M680.5 61.1h0M683.6 59.4h0M686.6 57.9h0M689.7 56.2h0M692.8 54.4h0M695.8 52.8h0M698.9 51.5h0M701.9 50.7h0M705.0 50.0h0M708.1 49.4h0M711.1 48.9h0M714.2 48.5h0M717.2 48.3h0" stroke="#65ba81" stroke-width="3.3" stroke-linecap="round"/>
<path d="M521.4 32.6h0M524.5 32.6h0M527.5 32.6h0M530.6 32.6h0M533.6 32.6h0M536.7 32.6h0M539.8 32.6h0M542.8 32.6h0M545.9 32.7h0M548.9 32.7h0M552.0 32.7h0M555.1 32.7h0M558.1 32.7h0M561.2 32.8h0M564.2 32.8h0M567.3 32.8h0M570.4 32.9h0M573.4 32.9h0M576.5 33.0h0M579.5 33.0h0M582.6 33.1h0M585.7 33.3h0M588.7 33.5h0M591.8 33.9h0M594.8 34.3h0M597.9 34.7h0M601.0 35.2h0M604.0 35.7h0M607.1 36.3h0M610.1 36.9h0M613.2 37.6h0M616.3 38.4h0M619.3 39.4h0M622.4 40.4h0M625.4 41.4h0M628.5 42.4h0M631.6 43.4h0M634.6 44.4h0M637.7 45.5h0M640.7 46.6h0M643.8 47.9h0M646.9 49.2h0M649.9 50.9h0M653.0 53.1h0M656.0 57.0h0M659.1 61.3h0M662.2 64.9h0M665.2 68.6h0M668.3 71.0h0M671.3 70.0h0M674.4 65.8h0M677.5 62.9h0M680.5 61.1h0M683.6 59.4h0M686.6 57.9h0M689.7 56.2h0M692.8 54.4h0M695.8 52.8h0M698.9 51.5h0M701.9 50.7h0M705.0 50.0h0M708.1 49.4h0M711.1 48.9h0M714.2 48.5h0M717.2 48.3h0" stroke="#93cfa7" stroke-width="1.3" stroke-linecap="round"/>
<path d="M521.4 32.6l1.1 0 .9 0 1 0 1 0 1 0 1 0 1 0 1 0 1 0 1 0 1 0 1 0 1 0 1 .1 1 0 1 0 1 0 1 0 1 0 1 0 1 0 1 0 1 .1 1 0 1 0 1 0 1 0 1 0 1 0 1 .1 1 0 1 0 1 0 1 0 1 0 1 .1 1 0 1 0 .6 0 .4 0 1 0 1 0 1 .1 1 0 1 0 1 .1 1 0 1 0 1 .1 1 0 1 0 1 .1 1 0 1 .1 1 0 1 .1 1 0 1 .1 1 .1 .6 0 .4 0 1 .1 1 .1 1 .2 1 .1 1 .2 1 .2 1 .1 1 .3 1 .2 1 .2 1 .2 1 .3 1 .2 1 .3 1 .2 1 .2 1 .3 1 .2 1 .2 1 .3 1 .2 .6 .1 .4 .1 1 .2 1 .1 1 .2 1 .2 1 .2 1 .1 1 .2 1 .2 1 .2 1 .2 1 .2 1 .2 1 .3 1.3 .3 .7 .2 1 .3 1 .4 1 .4 1 .5 1 .4 1 .5 1 .5 1 .5 1 .5 .5 .2 .5 .2 1 .6 1 .5 1 .6 1 .5 1 .6 1 .6 1 .6 1 .6 1 .5 1 .6 1.3 .7 .7 .4 1 .4 1 .4 1 .5 1 .4 1 .5 1 .5 1 .6 1 .7 1 1 1 1.4 1 1.5 1 1.6 1 1.5 .9 1.1 1.1 1.2 1 1.1 1 1 1 1 1 .8 1 .5 1.2 .3 .8-.2 1-.7 1-1 1-1.2 1-1.4 1.1-1.4 .9-1.2 1-1.6 1-1.6 1-1.7 1-1.5 1-1.2 1-1 1-1 1-1 1-.9 1-.9 1-.9 1-.7 1-.7 1-.7 1-.5 1-.5 1-.3 .9-.2 1.1-.2 1-.1 1-.2 1-.2 1-.1 1-.1 1-.2 1-.1 1-.1 1-.2 1-.1 1-.1 1-.1 1-.1 1-.1 1-.1 1-.1 1 0 1-.1 1-.1 1 0 1-.1 1 0 1-.1 1 0 1-.1 1 0 1 0 1-.1 1 0 1 0 1 0 1.1 0" fill="none" stroke="#e26969" stroke-width="1.1"/>
<path d="M521.4 32.6h0M524.5 32.6h0M527.5 32.6h0M530.6 32.6h0M533.6 32.6h0M536.7 32.7h0M539.8 32.7h0M542.8 32.7h0M545.9 32.8h0M548.9 32.8h0M552.0 32.9h0M555.1 32.9h0M558.1 33.0h0M561.2 33.0h0M564.2 33.1h0M567.3 33.2h0M570.4 33.3h0M573.4 33.4h0M576.5 33.6h0M579.5 33.8h0M582.6 34.0h0M585.7 34.5h0M588.7 35.1h0M591.8 35.8h0M594.8 36.6h0M597.9 37.3h0M601.0 38.0h0M604.0 38.6h0M607.1 39.1h0M610.1 39.6h0M613.2 40.2h0M616.3 41.0h0M619.3 42.0h0M622.4 43.3h0M625.4 44.8h0M628.5 46.3h0M631.6 48.0h0M634.6 49.8h0M637.7 51.5h0M640.7 53.1h0M643.8 54.4h0M646.9 56.1h0M649.9 59.7h0M653.0 64.2h0M656.0 67.6h0M659.1 70.1h0M662.2 69.8h0M665.2 66.3h0M668.3 62.0h0M671.3 57.1h0M674.4 53.8h0M677.5 50.9h0M680.5 48.6h0M683.6 47.0h0M686.6 46.3h0M689.7 45.8h0M692.8 45.4h0M695.8 45.0h0M698.9 44.7h0M701.9 44.4h0M705.0 44.2h0M708.1 44.0h0M711.1 43.8h0M714.2 43.7h0M717.2 43.7h0" stroke="#e26969" stroke-width="3.3" stroke-linecap="round"/>
<path d="M521.4 32.6h0M524.5 32.6h0M527.5 32.6h0M530.6 32.6h0M533.6 32.6h0M536.7 32.7h0M539.8 32.7h0M542.8 32.7h0M545.9 32.8h0M548.9 32.8h0M552.0 32.9h0M555.1 32.9h0M558.1 33.0h0M561.2 33.0h0M564.2 33.1h0M567.3 33.2h0M570.4 33.3h0M573.4 33.4h0M576.5 33.6h0M579.5 33.8h0M582.6 34.0h0M585.7 34.5h0M588.7 35.1h0M591.8 35.8h0M594.8 36.6h0M597.9 37.3h0M601.0 38.0h0M604.0 38.6h0M607.1 39.1h0M610.1 39.6h0M613.2 40.2h0M616.3 41.0h0M619.3 42.0h0M622.4 43.3h0M625.4 44.8h0M628.5 46.3h0M631.6 48.0h0M634.6 49.8h0M637.7 51.5h0M640.7 53.1h0M643.8 54.4h0M646.9 56.1h0M649.9 59.7h0M653.0 64.2h0M656.0 67.6h0M659.1 70.1h0M662.2 69.8h0M665.2 66.3h0M668.3 62.0h0M671.3 57.1h0M674.4 53.8h0M677.5 50.9h0M680.5 48.6h0M683.6 47.0h0M686.6 46.3h0M689.7 45.8h0M692.8 45.4h0M695.8 45.0h0M698.9 44.7h0M701.9 44.4h0M705.0 44.2h0M708.1 44.0h0M711.1 43.8h0M714.2 43.7h0M717.2 43.7h0" stroke="#eb9696" stroke-width="1.3" stroke-linecap="round"/>
<path d="M521.4 32.6l1.1 0 .9 0 1 0 1 0 1 0 1 0 1 0 1 0 1 .1 1 0 1 0 1 0 1 0 1 0 1 0 1 .1 1 0 1 0 1 0 1 .1 1 0 1 0 1 0 1 .1 1 0 1 0 1 .1 1 0 1 0 1 .1 1 0 1 0 1 .1 1 0 1 .1 1 0 1 0 1 .1 .6 0 .4 0 1 .1 1 0 1 .1 1 0 1 .1 1 .1 1 .1 1 0 1 .1 1 .1 1 .1 1 .1 1 .1 1 .1 1 .1 1 .2 1 .1 1 .1 1 .1 .6 .1 .4 .1 1 .1 1 .1 1 .2 1 .2 1 .2 1 .2 1 .2 1 .2 1 .2 1 .2 1 .2 1 .3 1 .2 1.3 .3 .7 .2 1 .2 1 .3 1 .3 1 .3 1 .2 1 .3 1 .4 1 .3 1 .3 1 .3 1 .3 1 .4 1 .3 .9 .3 1.1 .3 1 .3 1 .3 1 .3 1 .4 1 .3 1 .3 1 .4 1 .5 1.2 .6 .8 .5 1 .9 1 1 1 1.1 1 1.1 1.1 1.2 .9 1 1 1.1 1 1.2 1 1.2 1 1.2 1 1.1 1 .9 .4 .4 .6 .5 1 1 1 .9 1 .9 1 .8 1 .6 1 .3 .7 .1 1.3-.5 1-.8 1-1.1 1-1.2 1-1 .6-.5 .4-.3 1-.8 1-.7 1-.6 1-.2 1 0 1 .1 1 0 1 .1 1 .1 1 .1 1.3 0 .7 0 1-.2 1-.2 1-.3 1-.3 1-.4 1-.5 .6-.3 .4-.2 1-1.1 1-1.3 1-1.6 1-1.5 1-1.2 .5-.4 .5-.4 1-.7 1-.6 1-.6 1-.6 1-.5 1-.4 1-.3 1-.3 .6-.1 .4-.1 1-.1 1-.1 1-.1 1-.1 1-.1 1-.1 1-.1 1-.1 1 0 1-.1 1-.1 1 0 1-.1 1.2-.1 .8-.1 1 0 1-.1 1-.1 1-.1 1-.1 1 0 1-.1 1-.1 1-.1 1-.1 1 0 1-.1 1-.1 1-.1 1 0 1-.1 1-.1 1 0 1-.1 1-.1 1-.1 1 0 1.1-.1" fill="none" stroke="#856ff1" stroke-width="1.1"/>
<path d="M521.4 32.6h0M524.5 32.6h0M527.5 32.6h0M530.6 32.7h0M533.6 32.7h0M536.7 32.8h0M539.8 32.8h0M542.8 32.9h0M545.9 33.0h0M548.9 33.1h0M552.0 33.2h0M555.1 33.3h0M558.1 33.4h0M561.2 33.6h0M564.2 33.7h0M567.3 33.9h0M570.4 34.2h0M573.4 34.5h0M576.5 34.9h0M579.5 35.2h0M582.6 35.7h0M585.7 36.2h0M588.7 36.8h0M591.8 37.5h0M594.8 38.2h0M597.9 39.0h0M601.0 39.9h0M604.0 40.9h0M607.1 41.9h0M610.1 42.9h0M613.2 43.8h0M616.3 44.8h0M619.3 46.1h0M622.4 48.7h0M625.4 52.0h0M628.5 55.5h0M631.6 59.0h0M634.6 61.9h0M637.7 64.5h0M640.7 65.2h0M643.8 62.4h0M646.9 59.6h0M649.9 57.7h0M653.0 57.7h0M656.0 57.9h0M659.1 57.9h0M662.2 57.1h0M665.2 55.7h0M668.3 51.8h0M671.3 48.2h0M674.4 46.2h0M677.5 44.7h0M680.5 43.9h0M683.6 43.5h0M686.6 43.3h0M689.7 43.0h0M692.8 42.8h0M695.8 42.6h0M698.9 42.4h0M701.9 42.1h0M705.0 41.9h0M708.1 41.6h0M711.1 41.4h0M714.2 41.2h0M717.2 41.0h0" stroke="#856ff1" stroke-width="3.3" stroke-linecap="round"/>
<path d="M521.4 32.6h0M524.5 32.6h0M527.5 32.6h0M530.6 32.7h0M533.6 32.7h0M536.7 32.8h0M539.8 32.8h0M542.8 32.9h0M545.9 33.0h0M548.9 33.1h0M552.0 33.2h0M555.1 33.3h0M558.1 33.4h0M561.2 33.6h0M564.2 33.7h0M567.3 33.9h0M570.4 34.2h0M573.4 34.5h0M576.5 34.9h0M579.5 35.2h0M582.6 35.7h0M585.7 36.2h0M588.7 36.8h0M591.8 37.5h0M594.8 38.2h0M597.9 39.0h0M601.0 39.9h0M604.0 40.9h0M607.1 41.9h0M610.1 42.9h0M613.2 43.8h0M616.3 44.8h0M619.3 46.1h0M622.4 48.7h0M625.4 52.0h0M628.5 55.5h0M631.6 59.0h0M634.6 61.9h0M637.7 64.5h0M640.7 65.2h0M643.8 62.4h0M646.9 59.6h0M649.9 57.7h0M653.0 57.7h0M656.0 57.9h0M659.1 57.9h0M662.2 57.1h0M665.2 55.7h0M668.3 51.8h0M671.3 48.2h0M674.4 46.2h0M677.5 44.7h0M680.5 43.9h0M683.6 43.5h0M686.6 43.3h0M689.7 43.0h0M692.8 42.8h0M695.8 42.6h0M698.9 42.4h0M701.9 42.1h0M705.0 41.9h0M708.1 41.6h0M711.1 41.4h0M714.2 41.2h0M717.2 41.0h0" stroke="#aa9af5" stroke-width="1.3" stroke-linecap="round"/>
<path d="M521.4 20.8H718.5V166.1" fill="none" stroke="#333" stroke-width="1.1"/>
<path d="M521.4 20.8V166.1H718.5" fill="none" stroke="#111" stroke-width="1.4"/>
<path d="M522.5 166.1v2.6M534.8 166.1v1.6M547.0 166.1v2.6M559.2 166.1v1.6M571.5 166.1v2.6M583.8 166.1v1.6M596.0 166.1v2.6M608.2 166.1v1.6M620.5 166.1v2.6M632.8 166.1v1.6M645.0 166.1v2.6M657.2 166.1v1.6M669.5 166.1v2.6M681.8 166.1v1.6M694.0 166.1v2.6M706.2 166.1v1.6M718.5 166.1v2.6M521.4 32.6h-2.6M521.4 57.0h-2.6M521.4 81.4h-2.6M521.4 105.8h-2.6M521.4 130.2h-2.6M521.4 154.6h-2.6M521.4 44.8h-1.6M521.4 69.2h-1.6M521.4 93.6h-1.6M521.4 118.0h-1.6M521.4 142.4h-1.6" stroke="#111" stroke-width="1"/>
<g font-family='"Liberation Sans", sans-serif' font-weight="bold" font-size="8.5" fill="#111">
<text x="522.5" y="178.6" text-anchor="middle">2</text>
<text x="547.0" y="178.6" text-anchor="middle">4</text>
<text x="571.5" y="178.6" text-anchor="middle">6</text>
<text x="596.0" y="178.6" text-anchor="middle">8</text>
<text x="620.5" y="178.6" text-anchor="middle">10</text>
<text x="645.0" y="178.6" text-anchor="middle">12</text>
<text x="669.5" y="178.6" text-anchor="middle">14</text>
<text x="694.0" y="178.6" text-anchor="middle">16</text>
<text x="718.5" y="178.6" text-anchor="middle">18</text>
<text x="517.5" y="35.6" text-anchor="end">0</text>
<text x="517.5" y="60.0" text-anchor="end">-10</text>
<text x="517.5" y="84.4" text-anchor="end">-20</text>
<text x="517.5" y="108.8" text-anchor="end">-30</text>
<text x="517.5" y="133.2" text-anchor="end">-40</text>
<text x="517.5" y="157.6" text-anchor="end">-50</text>
</g>
<text x="621.0" y="195.8" font-family='"Liberation Sans", sans-serif' font-weight="bold" font-size="12.55" text-anchor="middle" fill="#111">Frequency (GHz)</text>
<text transform="translate(495.0 89.3) rotate(-90)" font-family='"Liberation Sans", sans-serif' font-weight="bold" font-size="12.40" text-anchor="middle" fill="#111">Reflection loss (dB)</text>
<text x="491.9" y="15.5" font-family='"Liberation Sans", sans-serif' font-weight="bold" font-size="19.3" fill="#111">(c)</text>
<path d="M534.6 99.8h17.5" stroke="#e5c586" stroke-width="1.6"/>
<circle cx="543.4" cy="99.8" r="1.4" fill="#e5c586" stroke="#c99a3a" stroke-width="0.7"/>
<text x="554.1" y="103.0" font-family='"Liberation Sans", sans-serif' font-weight="bold" font-size="9" fill="#111">1.6 mm</text>
<path d="M534.6 110.7h17.5" stroke="#78ccea" stroke-width="1.6"/>
<circle cx="543.4" cy="110.7" r="1.4" fill="#78ccea" stroke="#2aa8d8" stroke-width="0.7"/>
<text x="554.1" y="113.9" font-family='"Liberation Sans", sans-serif' font-weight="bold" font-size="9" fill="#111">1.7 mm</text>
<path d="M534.6 121.6h17.5" stroke="#5885d6" stroke-width="1.6"/>
<circle cx="543.4" cy="121.6" r="1.4" fill="#5885d6" stroke="#2a58b8" stroke-width="0.7"/>
<text x="554.1" y="124.8" font-family='"Liberation Sans", sans-serif' font-weight="bold" font-size="9" fill="#111">1.9 mm</text>
<path d="M534.6 132.5h17.5" stroke="#65ba81" stroke-width="1.6"/>
<circle cx="543.4" cy="132.5" r="1.4" fill="#65ba81" stroke="#2e9450" stroke-width="0.7"/>
<text x="554.1" y="135.7" font-family='"Liberation Sans", sans-serif' font-weight="bold" font-size="9" fill="#111">2.1 mm</text>
<path d="M534.6 143.4h17.5" stroke="#e26969" stroke-width="1.6"/>
<circle cx="543.4" cy="143.4" r="1.4" fill="#e26969" stroke="#c83838" stroke-width="0.7"/>
<text x="554.1" y="146.6" font-family='"Liberation Sans", sans-serif' font-weight="bold" font-size="9" fill="#111">2.3 mm</text>
<path d="M534.6 154.3h17.5" stroke="#856ff1" stroke-width="1.6"/>
<circle cx="543.4" cy="154.3" r="1.4" fill="#856ff1" stroke="#5a40e0" stroke-width="0.7"/>
<text x="554.1" y="157.5" font-family='"Liberation Sans", sans-serif' font-weight="bold" font-size="9" fill="#111">2.5 mm</text>
<path d="M41.7 337.2L108.0 312.2L107.8 226.4L38.2 237.0Z" fill="#fff" stroke="#b8b8b8" stroke-width="0.8"/>
<path d="M108.0 312.2L182.8 333.0L187.3 234.4L107.8 226.4Z" fill="#fff" stroke="#b8b8b8" stroke-width="0.8"/>
<path d="M38.2 237.7L107.8 227.0L187.3 235.1 M38.9 256.3L107.8 242.9L186.4 253.4 M39.5 274.8L107.9 258.8L185.6 271.6 M40.2 293.3L107.9 274.6L184.8 289.8 M40.8 311.8L107.9 290.5L183.9 308.0 M41.5 330.3L108.0 306.3L183.1 326.3 M56.4 331.6L53.7 234.6 M71.2 326.1L69.1 232.3 M85.9 320.5L84.6 229.9 M100.6 315.0L100.1 227.6 M117.3 314.8L117.7 227.4 M126.7 317.4L127.7 228.4 M136.1 320.0L137.6 229.4 M145.4 322.6L147.5 230.4 M154.8 325.2L157.5 231.4 M164.1 327.8L167.4 232.4 M173.4 330.4L177.4 233.4" fill="none" stroke="#e8e8e8" stroke-width="0.6"/>
<g stroke-width="0.5">
<path fill="#d0d0eb" stroke="#d0d0eb" d="M41.7 337.2l1 .4l3.7-1.4l-1-.4zM58.4 343.2l11.8 4.2l3.6-1.6l-11.8-4.1zM76.0 349.4l5 1.8l3.5-1.6l-4.9-1.7zM89.8 354.4l2.9 1l3.6-1.6l-3-1.1zM45.4 335.8l1 .4l3.6-1.4l-.9-.4zM63.0 342.0l10.8 3.8l3.6-1.5l-10.8-3.8zM79.6 347.9l4 1.4l3.5-1.6l-3.9-1.4zM93.3 352.7l2 .7l3.5-1.6l-1.9-.7zM67.6 340.9l8.8 3l3.6-1.5l-8.8-3zM84.2 346.7l2.9 1l3.6-1.6l-2.9-1zM97.9 351.4l.9 .4l3.6-1.7l-1-.3zM72.2 339.7l7.8 2.7l3.6-1.5l-7.7-2.7zM87.8 345.1l1.9 .7l3.6-1.6l-1.9-.7zM76.8 338.6l6.8 2.3l3.6-1.5l-6.7-2.3zM80.5 337.1l6.7 2.3l3.6-1.6l-6.7-2.2zM85.0 335.9l5.8 1.9l3.7-1.5l-5.8-1.9zM89.6 334.7l3.9 1.3l3.6-1.5l-3.8-1.3zM94.2 333.5l2.9 1l3.6-1.6l-2.9-.9z"/>
<path fill="#84d0f2" stroke="#84d0f2" d="M42.7 337.6l15.7 5.6l3.6-1.5l-15.6-5.5zM70.2 347.4l5.8 2l3.6-1.5l-5.8-2.1zM81.0 351.2l8.8 3.2l3.5-1.7l-8.8-3.1zM92.7 355.4l2 .7l3.5-1.7l-1.9-.6zM46.4 336.2l16.6 5.8l3.6-1.5l-16.6-5.7zM73.8 345.8l5.8 2.1l3.6-1.6l-5.8-2zM83.6 349.3l9.7 3.4l3.6-1.6l-9.8-3.4zM95.3 353.4l2.9 1l3.6-1.6l-3-1zM49.1 334.4l18.5 6.5l3.6-1.5l-18.4-6.4zM76.4 343.9l7.8 2.8l3.6-1.6l-7.8-2.7zM87.1 347.7l10.8 3.7l3.5-1.6l-10.7-3.7zM98.8 351.8l3 1l3.5-1.7l-2.9-1zM52.8 333.0l19.4 6.7l3.7-1.5l-19.5-6.6zM80.0 342.4l7.8 2.7l3.6-1.6l-7.8-2.6zM89.7 345.8l14.6 5l3.6-1.7l-14.6-4.9zM56.4 331.6l20.4 7l3.7-1.5l-20.4-6.8zM83.6 340.9l15.6 5.3l3.5-1.6l-15.5-5.2zM101.1 346.8l6.8 2.3l3.5-1.6l-6.7-2.3zM60.1 330.3l20.4 6.8l3.6-1.5l-20.3-6.7zM87.2 339.4l14.6 4.8l3.5-1.6l-14.5-4.8zM104.7 345.2l6.7 2.3l3.6-1.7l-6.8-2.2zM63.8 328.9l21.2 7l3.7-1.5l-21.2-6.9zM90.8 337.8l14.5 4.8l3.6-1.6l-14.4-4.7zM109.2 343.9l4.8 1.6l3.6-1.6l-4.8-1.6zM67.5 327.5l22.1 7.2l3.7-1.5l-22.1-7.1zM93.5 336.0l14.4 4.7l3.6-1.6l-14.4-4.6zM113.7 342.6l3.9 1.3l3.5-1.7l-3.8-1.2zM71.2 326.1l23 7.4l3.6-1.5l-22.9-7.3zM97.1 334.5l14.4 4.6l3.6-1.6l-14.4-4.6zM118.2 341.3l2 .6l3.5-1.6l-1.9-.7zM74.9 324.7l40.2 12.8l3.6-1.6l-40.2-12.6zM78.5 323.3l39.2 12.3l3.6-1.6l-39.1-12.1zM82.2 321.9l39.1 12.1l3.6-1.6l-39-11.9zM85.9 320.5l39 11.9l3.5-1.6l-38.8-11.7zM89.6 319.1l37.9 11.4l3.6-1.5l-37.8-11.2zM93.3 317.8l37.8 11.2l3.6-1.6l-37.7-11zM97.0 316.4l29.2 8.5l3.6-1.6l-29.2-8.3zM129.9 326.0l3.8 1.1l3.6-1.6l-3.8-1.1zM100.6 315.0l28.2 8.1l3.6-1.6l-28.1-7.9zM104.3 313.6l28.1 7.9l3.7-1.5l-28.1-7.8z"/>
<path fill="#a0d0f2" stroke="#a0d0f2" d="M94.7 356.1l1 .4l3.5-1.7l-1-.4zM104.3 350.8l1 .3l3.6-1.6l-1-.4zM99.2 346.2l1.9 .6l3.6-1.6l-2-.6zM107.9 349.1l1 .4l3.5-1.7l-1-.3zM101.8 344.2l2.9 1l3.5-1.6l-2.9-1zM105.3 342.6l3.9 1.3l3.6-1.6l-3.9-1.3zM114.0 345.5l1 .3l3.5-1.6l-.9-.3zM107.9 340.7l1 .3l3.6-1.6l-1-.3zM112.8 342.3l.9 .3l3.6-1.6l-1-.3zM117.6 343.9l.9 .3l3.6-1.7l-1-.3zM111.5 339.1l1 .3l3.5-1.6l-.9-.3zM117.3 341.0l.9 .3l3.6-1.7l-1-.3zM120.2 341.9l.9 .3l3.6-1.6l-1-.3zM121.8 339.6l2.9 1l3.5-1.7l-2.8-.9zM117.7 335.6l1 .3l3.5-1.6l-.9-.3zM126.3 338.3l1 .3l3.5-1.6l-.9-.3zM121.3 334.0l.9 .3l3.6-1.6l-.9-.3zM127.5 330.5l.9 .3l3.6-1.6l-.9-.2zM131.1 329.0l.9 .2l3.6-1.6l-.9-.2zM126.2 324.9l3.7 1.1l3.6-1.6l-3.7-1.1zM133.7 327.1l1 .3l3.5-1.6l-.9-.3zM128.8 323.1l9.4 2.7l3.6-1.6l-9.4-2.7zM132.4 321.5l1 .3l3.6-1.5l-.9-.3zM136.2 322.6l4.7 1.3l3.6-1.6l-4.7-1.3z"/>
<path fill="#c9d0f2" stroke="#c9d0f2" d="M95.7 356.5l9.8 3.5l3.5-1.8l-9.8-3.4zM98.2 354.4l2 .7l3.5-1.6l-1.9-.7zM103.1 356.2l5.9 2l3.5-1.7l-5.8-2zM101.8 352.8l1.9 .7l3.6-1.7l-2-.7zM109.6 355.5l1 .3l3.5-1.7l-1-.3zM105.3 351.1l1 .4l3.5-1.7l-.9-.3zM108.9 349.5l.9 .3l3.6-1.7l-1-.3zM111.4 347.5l2 .6l3.5-1.6l-1.9-.7zM115.0 345.8l1 .3l3.5-1.6l-1-.3zM108.9 341.0l3.9 1.3l3.5-1.6l-3.8-1.3zM118.5 344.2l1 .3l3.5-1.7l-.9-.3zM112.5 339.4l4.8 1.6l3.5-1.7l-4.8-1.5zM121.1 342.2l1 .3l3.5-1.6l-.9-.3zM115.1 337.5l6.7 2.1l3.6-1.6l-6.7-2.1zM124.7 340.6l.9 .3l3.6-1.7l-1-.3zM118.7 335.9l1.9 .6l3.5-1.6l-1.9-.6zM123.4 337.4l2.9 .9l3.6-1.6l-2.9-.9zM127.3 338.6l1.9 .6l3.5-1.6l-1.9-.6zM122.2 334.3l1 .3l3.6-1.6l-1-.3zM128.0 336.1l3.8 1.2l3.5-1.7l-3.8-1.1zM124.9 332.4l1.9 .6l3.5-1.6l-1.9-.6zM132.5 334.7l2.8 .9l3.6-1.6l-2.9-.9zM128.4 330.8l1.9 .6l3.6-1.6l-1.9-.6zM132.0 329.2l1 .3l3.5-1.6l-.9-.3zM134.7 327.4l1.8 .5l3.6-1.6l-1.9-.5zM138.2 325.8l1.9 .5l3.6-1.6l-1.9-.5zM133.4 321.8l2.8 .8l3.6-1.6l-2.8-.7zM140.9 323.9l1.9 .6l3.5-1.6l-1.8-.6z"/>
<path fill="#b4d7f2" stroke="#b4d7f2" d="M105.5 360.0l1.9 .7l3.6-1.8l-2-.7zM100.2 355.1l2.9 1.1l3.6-1.7l-3-1zM109.0 358.2l1 .4l3.5-1.7l-1-.4zM103.7 353.5l5.9 2l3.5-1.7l-5.8-2zM110.6 355.8l1.9 .7l3.5-1.7l-1.9-.7zM106.3 351.5l1 .3l3.5-1.7l-1-.3zM112.1 353.5l3 1l3.5-1.7l-2.9-1zM109.8 349.8l1 .3l3.5-1.6l-.9-.4zM116.0 346.1l.9 .4l3.6-1.7l-1-.3zM122.1 342.5l.9 .3l3.6-1.6l-1-.3zM125.6 340.9l1 .3l3.5-1.7l-.9-.3zM120.6 336.5l2.8 .9l3.6-1.6l-2.9-.9zM123.2 334.6l4.8 1.5l3.5-1.6l-4.7-1.5zM131.8 337.3l.9 .3l3.6-1.7l-1-.3zM126.8 333.0l.9 .3l3.6-1.6l-1-.3zM130.6 334.2l1.9 .5l3.5-1.6l-1.9-.6zM130.3 331.4l1 .3l3.6-1.6l-1-.3zM135.1 332.8l3.8 1.2l3.5-1.7l-3.8-1.1zM133.0 329.5l.9 .3l3.6-1.6l-1-.3zM140.5 331.8l1 .2l3.5-1.6l-.9-.3zM136.5 327.9l1 .3l3.6-1.6l-1-.3zM142.8 324.5l.9 .2l3.6-1.6l-1-.2z"/>
<path fill="#99e4f2" stroke="#99e4f2" d="M107.4 360.7l7.9 2.8l3.5-1.8l-7.8-2.8zM110.0 358.6l2.9 1l3.5-1.7l-2.9-1zM112.5 356.5l2 .7l3.5-1.7l-2-.7zM107.3 351.8l4.8 1.7l3.6-1.7l-4.9-1.7zM115.1 354.5l2.9 1l3.5-1.7l-2.9-1zM110.8 350.1l9.7 3.3l3.5-1.7l-9.7-3.2zM113.4 348.1l9.7 3.3l3.5-1.7l-9.7-3.2zM116.9 346.5l2 .6l3.5-1.7l-1.9-.6zM122.7 348.4l2.9 .9l3.5-1.7l-2.9-.9zM119.5 344.5l1.9 .6l3.6-1.7l-2-.6zM123.0 342.8l1 .3l3.5-1.6l-.9-.3zM126.6 341.2l.9 .3l3.6-1.7l-1-.3zM129.2 339.2l.9 .3l3.6-1.6l-1-.3zM132.7 337.6l1 .3l3.5-1.7l-.9-.3zM127.7 333.3l2.9 .9l3.5-1.7l-2.8-.8zM135.3 335.6l1.9 .6l3.6-1.7l-1.9-.5zM131.3 331.7l3.8 1.1l3.5-1.6l-3.7-1.1zM138.9 334.0l.9 .2l3.6-1.6l-1-.3zM133.9 329.8l6.6 2l3.6-1.7l-6.6-1.9zM141.5 332.0l1.9 .6l3.5-1.7l-1.9-.5zM137.5 328.2l9.4 2.7l3.6-1.6l-9.4-2.7zM140.1 326.3l2.8 .8l3.6-1.6l-2.8-.8zM145.8 327.9l3.7 1.1l3.6-1.6l-3.8-1.1zM143.7 324.7l1.9 .5l3.5-1.6l-1.8-.5zM151.2 326.8l1.9 .6l3.5-1.7l-1.8-.5z"/>
<path fill="#a0dde4" stroke="#a0dde4" d="M115.3 363.5l3.9 1.3l3.5-1.7l-3.9-1.4zM112.9 359.6l7.8 2.8l3.5-1.8l-7.8-2.7zM114.5 357.2l7.8 2.7l3.5-1.7l-7.8-2.7zM118.0 355.5l1.9 .6l3.5-1.7l-1.9-.6zM120.5 353.4l2 .7l3.5-1.7l-2-.7zM123.1 351.4l1.9 .6l3.5-1.7l-1.9-.6zM118.9 347.1l3.8 1.3l3.5-1.7l-3.8-1.3zM125.6 349.3l1.9 .7l3.6-1.7l-2-.7zM121.4 345.1l9.7 3.2l3.5-1.8l-9.6-3.1zM124.0 343.1l1.9 .7l3.6-1.7l-2-.6zM128.8 344.7l3.9 1.2l3.5-1.7l-3.9-1.2zM127.5 341.5l1 .3l3.5-1.7l-.9-.3zM130.1 339.5l1.9 .6l3.6-1.7l-1.9-.5zM133.7 337.9l.9 .2l3.6-1.6l-1-.3zM137.2 336.2l1 .3l3.5-1.7l-.9-.3zM139.8 334.2l1 .3l3.5-1.6l-.9-.3zM143.4 332.6l.9 .3l3.6-1.7l-1-.3zM146.9 330.9l1 .3l3.5-1.6l-.9-.3zM142.9 327.1l2.9 .8l3.5-1.6l-2.8-.8zM149.5 329.0l1.9 .6l3.5-1.7l-1.8-.5zM145.6 325.2l5.6 1.6l3.6-1.6l-5.7-1.6zM153.1 327.4l.9 .2l3.6-1.6l-1-.3z"/>
<path fill="#b4ddd7" stroke="#b4ddd7" d="M119.2 364.9l1 .4l3.5-1.8l-1-.3zM120.7 362.4l3 1l3.5-1.8l-3-1zM122.3 359.9l4.9 1.7l3.4-1.8l-4.8-1.6zM119.9 356.1l10.7 3.7l3.5-1.8l-10.7-3.6zM122.5 354.1l9.7 3.3l3.5-1.8l-9.7-3.2zM125.0 352.0l9.7 3.3l3.5-1.8l-9.7-3.2zM127.5 350.0l4.9 1.6l3.5-1.8l-4.8-1.5zM131.1 348.3l2.8 .9l3.6-1.7l-2.9-1zM125.9 343.8l2.9 .9l3.5-1.7l-2.8-.9zM132.7 345.9l3.8 1.3l3.5-1.8l-3.8-1.2zM128.5 341.8l10.5 3.3l3.6-1.7l-10.6-3.3zM132.0 340.1l9.6 3l3.5-1.7l-9.5-3zM134.6 338.1l10.5 3.3l3.5-1.7l-10.4-3.2zM138.2 336.5l10.4 3.2l3.5-1.7l-10.4-3.2zM140.8 334.5l2.8 .9l3.5-1.7l-2.8-.8zM146.5 336.2l4.7 1.5l3.5-1.7l-4.7-1.4zM144.3 332.9l1.9 .5l3.5-1.6l-1.8-.6zM150.9 334.8l3.8 1.2l3.5-1.8l-3.7-1.1zM147.9 331.2l1.8 .6l3.6-1.7l-1.9-.5zM155.4 333.4l2.8 .8l3.5-1.7l-2.8-.8zM151.4 329.6l.9 .2l3.6-1.6l-1-.3zM159.9 332.0l1.8 .5l3.6-1.7l-1.9-.5zM172.1 335.5l3.7 1.1l3.5-1.8l-3.7-1.1zM154.0 327.6l1.9 .6l3.5-1.7l-1.8-.5zM164.3 330.5l1 .3l3.5-1.7l-1-.3zM174.6 333.5l4.7 1.3l3.5-1.8l-4.7-1.3z"/>
<path fill="#c2dda0" stroke="#c2dda0" d="M132.2 357.4l1.9 .6l3.5-1.7l-1.9-.7zM134.7 355.3l1 .3l3.4-1.8l-.9-.3zM132.4 351.6l5.8 1.9l3.5-1.8l-5.8-1.9zM133.9 349.2l2 .6l3.5-1.7l-1.9-.6zM138.8 350.8l.9 .3l3.5-1.8l-.9-.3zM136.5 347.2l1 .3l3.5-1.8l-1-.3zM139.0 345.1l1 .3l3.5-1.7l-.9-.3zM141.6 343.1l1 .3l3.5-1.7l-1-.3zM145.1 341.4l1 .3l3.5-1.7l-1-.3zM148.6 339.7l1 .3l3.5-1.8l-1-.2zM143.6 335.4l2.9 .8l3.5-1.6l-2.9-.9zM151.2 337.7l.9 .3l3.6-1.8l-1-.2zM146.2 333.4l.9 .3l3.6-1.7l-1-.2zM150.0 334.6l.9 .2l3.6-1.7l-1-.2zM154.7 336.0l1 .2l3.5-1.7l-1-.3zM166.1 339.3l2.8 .9l3.5-1.8l-2.9-.9zM154.5 333.1l.9 .3l3.5-1.7l-.9-.3zM158.2 334.2l1 .3l3.5-1.7l-1-.3zM168.6 337.3l3.8 1.1l3.4-1.8l-3.7-1.1zM152.3 329.8l1 .3l3.5-1.7l-.9-.2zM158.9 331.7l1 .3l3.5-1.7l-1-.3zM161.7 332.5l1.9 .6l3.5-1.8l-1.8-.5zM171.1 335.2l1 .3l3.5-1.8l-1-.2zM155.9 328.2l.9 .2l3.6-1.6l-1-.3zM162.4 330.0l1.9 .5l3.5-1.7l-1.8-.5zM165.3 330.8l1.8 .5l3.5-1.7l-1.8-.5zM173.7 333.2l.9 .3l3.5-1.8l-.9-.3z"/>
<path fill="#ebf2c9" stroke="#ebf2c9" d="M135.7 355.6l1.9 .7l3.5-1.8l-2-.7zM138.2 353.5l1.9 .6l3.5-1.7l-1.9-.7zM135.9 349.8l2.9 1l3.5-1.8l-2.9-.9zM139.7 351.1l3.9 1.3l3.5-1.8l-3.9-1.3zM137.5 347.5l8.6 2.8l3.5-1.8l-8.6-2.8zM140.0 345.4l1 .3l3.5-1.7l-1-.3zM142.6 343.4l1.9 .6l3.5-1.7l-1.9-.6zM146.1 341.7l.9 .3l3.5-1.7l-.9-.3zM154.6 344.3l2.9 .9l3.5-1.8l-2.9-.8zM149.6 340.0l.9 .3l3.5-1.8l-.9-.3zM157.2 342.3l4.7 1.4l3.5-1.8l-4.7-1.4zM152.1 338.0l1 .2l3.5-1.7l-.9-.3zM160.7 340.5l4.7 1.4l3.5-1.7l-4.7-1.4zM147.1 333.7l2.9 .9l3.5-1.7l-2.8-.9zM155.7 336.2l.9 .3l3.5-1.7l-.9-.3zM164.2 338.8l1.9 .5l3.4-1.8l-1.8-.5zM149.7 331.8l1.9 .5l3.6-1.7l-1.9-.5zM152.6 332.6l1.9 .5l3.5-1.7l-1.9-.5zM159.2 334.5l1.9 .6l3.5-1.8l-1.9-.5zM166.7 336.7l1.9 .6l3.5-1.8l-1.9-.5zM153.3 330.1l.9 .3l3.6-1.7l-1-.3zM157.0 331.2l1.9 .5l3.5-1.7l-1.8-.5zM163.6 333.1l1 .2l3.5-1.7l-1-.3zM169.3 334.7l1.8 .5l3.5-1.7l-1.8-.6zM161.5 329.8l.9 .2l3.6-1.7l-1-.2zM167.1 331.3l1 .3l3.5-1.7l-1-.3zM171.8 332.7l1.9 .5l3.5-1.8l-1.9-.5z"/>
<path fill="#f9f2ad" stroke="#f9f2ad" d="M140.1 354.1l1 .4l3.4-1.8l-.9-.3zM143.6 352.4l.9 .3l3.5-1.8l-.9-.3zM146.1 350.3l1.9 .6l3.5-1.8l-1.9-.6zM141.0 345.7l10.5 3.4l3.5-1.8l-10.5-3.3zM144.5 344.0l10.5 3.3l3.5-1.8l-10.5-3.2zM147.0 342.0l7.6 2.3l3.5-1.7l-7.6-2.3zM157.5 345.2l1 .3l3.4-1.8l-.9-.3zM150.5 340.3l1.9 .5l3.5-1.7l-1.9-.6zM154.3 341.4l2.9 .9l3.5-1.8l-2.9-.8zM153.1 338.2l2.8 .9l3.5-1.7l-2.8-.9zM158.8 339.9l1.9 .6l3.5-1.7l-1.9-.6zM156.6 336.5l2.8 .9l3.5-1.8l-2.8-.8zM161.3 337.9l2.9 .9l3.5-1.8l-2.9-.8zM151.6 332.3l1 .3l3.5-1.7l-.9-.3zM161.1 335.1l5.6 1.6l3.5-1.7l-5.6-1.7zM154.2 330.4l2.8 .8l3.6-1.7l-2.8-.8zM164.6 333.3l4.7 1.4l3.5-1.8l-4.7-1.3zM156.8 328.4l4.7 1.4l3.5-1.7l-4.6-1.3zM168.1 331.6l3.7 1.1l3.5-1.8l-3.7-1z"/>
<path fill="#fcebd0" stroke="#fcebd0" d="M152.4 340.8l1.9 .6l3.5-1.7l-1.9-.6zM155.9 339.1l2.9 .8l3.5-1.7l-2.9-.8zM159.4 337.4l1.9 .5l3.5-1.7l-1.9-.6z"/>
</g>
<path d="M112.8 359.7L112.9 359.6M113.2 360.3L112.8 359.7M113.8 360.8L113.2 360.3M114.5 361.3L113.8 360.8M115.1 361.8L114.5 361.3M115.6 362.4L115.1 361.8M115.7 363.2L115.6 362.4M115.6 363.6L115.7 363.2M113.4 358.5L114.9 357.4M112.9 359.6L113.4 358.5M116.7 356.1L117.7 355.4M114.9 357.4L116.7 356.1M117.7 355.4L120.6 353.5M132.2 359.1L133.4 357.8M121.3 353.0L123.5 351.5M120.6 353.5L121.3 353.0M135.1 355.9L135.4 355.5M133.7 357.4L135.1 355.9M133.4 357.8L133.7 357.4M118.1 347.4L118.7 347.1M117.1 348.7L118.1 347.4M118.5 348.8L117.1 348.7M121.1 348.4L118.5 348.8M122.1 348.2L121.1 348.4M125.1 350.4L126.1 349.5M123.5 351.5L125.1 350.4M137.2 353.2L137.2 353.2M136.3 354.5L137.2 353.2M135.4 355.5L136.3 354.5M121.1 345.3L121.4 345.1M118.7 347.1L121.1 345.3M122.1 348.2L123.6 348.0M125.5 347.8L123.6 348.0M126.6 348.1L125.5 347.8M126.5 348.9L126.6 348.1M126.1 349.5L126.5 348.9M134.9 349.5L134.9 349.5M134.4 350.6L134.9 349.5M134.9 351.1L134.4 350.6M136.1 351.4L134.9 351.1M137.3 351.5L136.1 351.4M138.0 352.0L137.3 351.5M137.2 353.2L138.0 352.0M121.4 345.1L124.3 343.2M136.4 348.0L137.1 347.4M134.9 349.5L136.4 348.0M126.0 342.2L127.4 341.4M124.3 343.2L126.0 342.2M138.7 346.1L139.7 345.3M137.1 347.4L138.7 346.1M127.4 341.4L130.5 339.6M141.6 343.9L142.3 343.3M139.7 345.3L141.6 343.9M130.5 339.6L133.7 337.9M142.3 343.3L145.5 341.5M134.5 337.5L137.0 336.1M133.7 337.9L134.5 337.5M145.5 341.5L148.7 339.7M137.0 336.1L140.2 334.4M143.8 336.0L144.2 335.6M145.4 336.0L143.8 336.0M145.5 336.0L145.4 336.0M149.7 339.2L151.9 337.9M148.7 339.7L149.7 339.2M140.2 334.4L143.5 332.6M144.7 334.9L146.7 333.6M144.2 335.6L144.7 334.9M145.5 336.0L148.7 335.2M150.4 334.7L148.7 335.2M151.9 337.9L155.0 336.0M145.1 331.8L146.7 330.9M143.5 332.6L145.1 331.8M149.7 331.8L149.7 331.8M146.7 333.6L149.7 331.8M150.4 334.7L153.2 333.7M154.8 333.2L153.2 333.7M155.0 336.0L158.6 334.3M141.3 327.9L142.6 327.0M141.1 328.7L141.3 327.9M142.6 328.7L141.1 328.7M144.9 328.3L142.6 328.7M146.1 328.0L144.9 328.3M146.7 330.9L149.8 329.1M149.7 331.8L153.0 330.0M154.8 333.2L158.0 332.2M159.2 331.8L158.0 332.2M158.6 334.3L162.2 332.7M172.0 336.3L172.6 335.6M171.8 337.2L172.0 336.3M172.3 337.6L171.8 337.2M173.7 337.7L172.3 337.6M144.7 325.6L145.5 325.2M142.6 327.0L144.7 325.6M146.1 328.0L148.1 327.6M151.1 326.8L148.1 327.6M151.5 328.1L152.6 327.2M149.8 329.1L151.5 328.1M153.0 330.0L156.2 328.3M159.2 331.8L163.2 330.4M163.4 330.3L163.2 330.4M162.2 332.7L165.9 331.0M173.4 334.8L174.9 333.6M172.6 335.6L173.4 334.8M145.5 325.2L148.6 323.5M151.1 326.8L151.6 326.7M153.4 326.5L151.6 326.7M152.6 327.2L153.4 326.5M156.2 328.3L159.5 326.5M163.4 330.3L167.5 328.8M165.9 331.0L169.4 329.5M169.7 329.4L169.4 329.5M175.8 332.9L177.6 331.6M174.9 333.6L175.8 332.9" fill="none" stroke="#50606a" stroke-width="0.45" opacity="0.45"/>
<g stroke-width="0.5">
<path fill="#84d0f2" stroke="#84d0f2" d="M103.9 230.0l1 .7l1 .6l1 .5l1 .4l1 .1l1 .1l1-.1l1 0l1 .1l1 .3l1 .4l1 .5l1 .3l1 .1l.9-.1l1-.1l1-.1l1-.1l1-.1l1 0l1 0l1 0l1 .1l1 .1l1 .1l1 .2l1 .4l1 .6l.9 .9l1 .9l3.8-.2l-1-1l-1-.9l-.9-.6l-1-.4l-1-.2l-1-.1l-1-.2l-1-.1l-1 0l-1 0l-1 .1l-1 .1l-1 .1l-.9 .2l-1 .1l-1 .1l-1-.1l-1-.3l-1-.5l-1-.5l-1-.4l-1-.1l-1 .1l-.9 0l-1 0l-1-.2l-1-.3l-1-.6l-1-.7l-1-.8z"/>
<path fill="#a0d0f2" stroke="#a0d0f2" d="M133.7 236.8l1 .9l3.8-.3l-1-.8z"/>
<path fill="#c9d0f2" stroke="#c9d0f2" d="M134.7 237.7l1 .4l1 .1l1-.1l3.7-.3l-1 .1l-1-.1l-.9-.4z"/>
<path fill="#a0d0f2" stroke="#a0d0f2" d="M137.7 238.1l1-.2l1-.1l1-.1l.9 .2l1 .5l3.8-.4l-1-.4l-1-.2l-1 .1l-1 .1l-1 .2z"/>
<path fill="#c9d0f2" stroke="#c9d0f2" d="M142.6 238.4l1 .9l1 1.7l3.7-.1l-1-1.9l-.9-1z"/>
<path fill="#b4d7f2" stroke="#b4d7f2" d="M144.6 241.0l.9 2.9l3.7 .1l-.9-3.1z"/>
<path fill="#99e4f2" stroke="#99e4f2" d="M145.5 243.9l.9 3.2l.9 2.8l3.7 .4l-.9-2.9l-.9-3.4z"/>
<path fill="#a0dde4" stroke="#a0dde4" d="M147.3 249.9l1 2l.9 1.1l1 .2l1-.5l1-1.1l1-1.4l3.7 1l-1 1.5l-1 1.1l-1 .4l-1-.5l-.9-1.3l-1-2.1z"/>
<path fill="#99e4f2" stroke="#99e4f2" d="M153.2 250.2l1-.3l1 1.6l3.7 .6l-1-1.4l-1 .5z"/>
<path fill="#a0dde4" stroke="#a0dde4" d="M155.2 251.5l.9 3.5l3.6 .6l-.8-3.5z"/>
<path fill="#b4ddd7" stroke="#b4ddd7" d="M156.1 255.0l.8 5.3l.8 6.4l3.6 .7l-.8-6.5l-.8-5.3z"/>
<path fill="#c2dda0" stroke="#c2dda0" d="M157.7 266.7l.8 6.2l3.6 .8l-.8-6.3z"/>
<path fill="#f9f2ad" stroke="#f9f2ad" d="M158.5 272.9l.8 4.6l.9 1.9l1-.9l1.1-2.2l1.1-2.4l3.5 .5l-1 2.6l-1.1 2.4l-1 1l-.9-1.9l-.8-4.8z"/>
<path fill="#ebf2c9" stroke="#ebf2c9" d="M163.4 273.9l1-2.2l3.6 .3l-1.1 2.4z"/>
<path fill="#c2dda0" stroke="#c2dda0" d="M164.4 271.7l1-1.6l1-.9l3.7-.7l-1.1 1.4l-1 2.1z"/>
<path fill="#b4ddd7" stroke="#b4ddd7" d="M166.4 269.2l1 .2l3.7-1.2l-1 .3z"/>
<path fill="#c2dda0" stroke="#c2dda0" d="M167.4 269.4l.9 1.7l.9 2.6l3.7-2.2l-.9-2.2l-.9-1.1z"/>
<path fill="#ebf2c9" stroke="#ebf2c9" d="M169.2 273.7l.9 2.9l3.7-2.3l-.9-2.8z"/>
<path fill="#f9f2ad" stroke="#f9f2ad" d="M170.1 276.6l.9 2.4l.9 1.5l1 .3l1-1.2l3.7-2.9l-1.1 1.5l-.9-.1l-1-1.5l-.8-2.3z"/>
<path fill="#ebf2c9" stroke="#ebf2c9" d="M173.9 279.6l1.1-2.3l1-2.6l3.7-3.1l-1.1 2.6l-1 2.5z"/>
<path fill="#c2dda0" stroke="#c2dda0" d="M176.0 274.7l1.1-2.1l3.7-3.1l-1.1 2.1z"/>
<path fill="#b4ddd7" stroke="#b4ddd7" d="M177.1 272.6l1-1.6l1.1-1.1l1-.5l1 .1l.9 .8l3.7-2.9l-.9-.9l-1-.2l-1 .5l-1.1 1.1l-1 1.6z"/>
<path d="M147.2 249.6L150.5 248.6M153.1 250.4L153.6 250.3M155.5 250.2L153.6 250.3M154.7 250.6L155.5 250.2M158.0 268.8L161.3 267.6M165.5 270.1L169.8 269.0M168.0 270.5L171.7 269.4M172.0 269.3L171.7 269.4M178.3 271.6L180.2 270.7M177.5 272.1L178.3 271.6" fill="none" stroke="#50606a" stroke-width="0.45" opacity="0.45"/>
<path fill="#84d0f2" stroke="#84d0f2" d="M100.1 230.6l1 .6l1 .5l1 .5l1 .3l1 .1l1 .1l1 0l1 0l1 .1l.9 .2l1 .4l1 .3l1 .3l1 .1l1 0l1-.1l1 0l1-.1l1 0l1-.1l1 .1l1 0l1 .1l1 0l1 .2l1 .1l1 .4l1 .6l.9 .8l1 1l3.8-.3l-1-.9l-.9-.9l-1-.6l-1-.4l-1-.2l-1-.1l-1-.1l-1-.1l-1 0l-1 0l-1 0l-1 .1l-1 .1l-1 .1l-1 .1l-.9 .1l-1-.1l-1-.3l-1-.5l-1-.4l-1-.3l-1-.1l-1 0l-1 .1l-1-.1l-1-.1l-1-.4l-1-.5l-1-.6l-1-.7z"/>
<path fill="#a0d0f2" stroke="#a0d0f2" d="M129.9 237.1l1 .9l1 .4l1 .1l1-.1l1-.2l1-.1l1-.1l1 .2l1 .5l1 .9l3.7-.3l-1-.9l-1-.5l-.9-.2l-1 .1l-1 .1l-1 .2l-1 .1l-1-.1l-1-.4l-1-.9z"/>
<path fill="#c9d0f2" stroke="#c9d0f2" d="M139.9 239.6l.9 1.6l1 2.6l3.7 .1l-.9-2.9l-1-1.7z"/>
<path fill="#99e4f2" stroke="#99e4f2" d="M141.8 243.8l.9 3.1l.9 2.7l1 1.8l3.7 .5l-1-2l-.9-2.8l-.9-3.2z"/>
<path fill="#a0dde4" stroke="#a0dde4" d="M144.6 251.4l.9 .8l1 0l1-.6l3.7 1.1l-1 .5l-1-.2l-.9-1.1z"/>
<path fill="#99e4f2" stroke="#99e4f2" d="M147.5 251.6l1.1-1.2l1-1.2l1-.1l.9 1.6l3.7 .8l-1-1.6l-1 .3l-1 1.4l-1 1.1z"/>
<path fill="#a0dde4" stroke="#a0dde4" d="M151.5 250.7l.9 3.6l.9 5.4l3.6 .6l-.8-5.3l-.9-3.5z"/>
<path fill="#b4ddd7" stroke="#b4ddd7" d="M153.3 259.7l.8 6.4l3.6 .6l-.8-6.4z"/>
<path fill="#c2dda0" stroke="#c2dda0" d="M154.1 266.1l.8 6l3.6 .8l-.8-6.2z"/>
<path fill="#ebf2c9" stroke="#ebf2c9" d="M154.9 272.1l.9 4.4l3.5 1l-.8-4.6z"/>
<path fill="#f9f2ad" stroke="#f9f2ad" d="M155.8 276.5l.9 1.8l1-.7l1-2l3.6 .7l-1.1 2.2l-1 .9l-.9-1.9z"/>
<path fill="#ebf2c9" stroke="#ebf2c9" d="M158.7 275.6l1.1-2.3l1-1.8l3.6 .2l-1 2.2l-1.1 2.4z"/>
<path fill="#c2dda0" stroke="#c2dda0" d="M160.8 271.5l1-1.2l3.6-.2l-1 1.6z"/>
<path fill="#b4ddd7" stroke="#b4ddd7" d="M161.8 270.3l1-.4l1 .8l3.6-1.3l-1-.2l-1 .9z"/>
<path fill="#c2dda0" stroke="#c2dda0" d="M163.8 270.7l.9 2.1l.9 3l3.6-2.1l-.9-2.6l-.9-1.7z"/>
<path fill="#ebf2c9" stroke="#ebf2c9" d="M165.6 275.8l.8 3.1l3.7-2.3l-.9-2.9z"/>
<path fill="#f9f2ad" stroke="#f9f2ad" d="M166.4 278.9l.9 2.5l.9 1.6l1 .5l1-.9l1.1-2.1l3.7-3.2l-1.1 2.3l-1 1.2l-1-.3l-.9-1.5l-.9-2.4z"/>
<path fill="#ebf2c9" stroke="#ebf2c9" d="M171.3 280.5l1-2.6l1.1-2.1l3.7-3.2l-1.1 2.1l-1 2.6z"/>
<path fill="#c2dda0" stroke="#c2dda0" d="M173.4 275.8l1.1-1.6l3.6-3.2l-1 1.6z"/>
<path fill="#b4ddd7" stroke="#b4ddd7" d="M174.5 274.2l1-1.1l1-.5l1 0l.9 .5l3.7-2.8l-.9-.8l-1-.1l-1 .5l-1.1 1.1z"/>
<path d="M146.4 249.8L147.2 249.6M144.2 250.6L146.4 249.8M147.9 251.2L150.0 250.9M153.1 250.4L150.0 250.9M153.5 251.1L154.7 250.6M151.8 251.7L153.5 251.1M154.6 270.0L158.0 268.8M161.1 271.1L165.3 270.1M165.5 270.1L165.3 270.1M164.2 271.7L168.0 270.5M175.8 273.0L177.5 272.1M175.0 273.6L175.8 273.0" fill="none" stroke="#50606a" stroke-width="0.45" opacity="0.45"/>
<path fill="#84d0f2" stroke="#84d0f2" d="M96.2 231.1l1 .6l1 .4l1 .4l1 .2l1 .2l1 .1l1 0l1 .1l1 .1l1 .1l1 .3l1 .3l1 .2l1 .1l1 .1l1 0l1-.1l1 0l1 0l1 0l1 0l1 .1l1 0l1 .1l1 .1l1 .1l1 .3l1 .6l1 .9l1 1l.9 .9l3.8-.3l-1-.9l-1-1l-.9-.8l-1-.6l-1-.4l-1-.1l-1-.2l-1 0l-1-.1l-1 0l-1-.1l-1 .1l-1 0l-1 .1l-1 0l-1 .1l-1 0l-1-.1l-1-.3l-1-.3l-1-.4l-.9-.2l-1-.1l-1 0l-1 0l-1-.1l-1-.1l-1-.3l-1-.5l-1-.5l-1-.6z"/>
<path fill="#a0d0f2" stroke="#a0d0f2" d="M127.1 238.3l1 .4l1 .1l1-.1l1-.2l3.8-.3l-1 .2l-1 .1l-1-.1l-1-.4z"/>
<path fill="#84d0f2" stroke="#84d0f2" d="M131.1 238.5l1-.2l1 0l1 .2l1 .5l3.8-.3l-1-.5l-1-.2l-1 .1l-1 .1z"/>
<path fill="#a0d0f2" stroke="#a0d0f2" d="M135.1 239.0l1 .8l3.8-.2l-1-.9z"/>
<path fill="#c9d0f2" stroke="#c9d0f2" d="M136.1 239.8l1 1.5l.9 2.4l3.8 .1l-1-2.6l-.9-1.6z"/>
<path fill="#b4d7f2" stroke="#b4d7f2" d="M138.0 243.7l1 2.9l3.7 .3l-.9-3.1z"/>
<path fill="#99e4f2" stroke="#99e4f2" d="M139.0 246.6l.9 2.6l1 1.7l1 .5l1-.2l1-.7l1-1.2l1-1.1l1 .1l1 1.7l.9 3.7l3.6 .6l-.9-3.6l-.9-1.6l-1 .1l-1 1.2l-1.1 1.2l-1 .6l-1 0l-.9-.8l-1-1.8l-.9-2.7z"/>
<path fill="#a0dde4" stroke="#a0dde4" d="M148.8 253.7l.8 5.4l3.7 .6l-.9-5.4z"/>
<path fill="#b4ddd7" stroke="#b4ddd7" d="M149.6 259.1l.8 6.3l.9 5.8l3.6 .9l-.8-6l-.8-6.4z"/>
<path fill="#ebf2c9" stroke="#ebf2c9" d="M151.3 271.2l.9 4.3l.9 1.7l3.6 1.1l-.9-1.8l-.9-4.4z"/>
<path fill="#f9f2ad" stroke="#f9f2ad" d="M153.1 277.2l1-.6l3.6 1l-1 .7z"/>
<path fill="#ebf2c9" stroke="#ebf2c9" d="M154.1 276.6l1-1.8l1.1-2.1l3.6 .6l-1.1 2.3l-1 2z"/>
<path fill="#c2dda0" stroke="#c2dda0" d="M156.2 272.7l1-1.5l3.6 .3l-1 1.8z"/>
<path fill="#b4ddd7" stroke="#b4ddd7" d="M157.2 271.2l1-.8l1 .1l.9 1.4l3.7-1.2l-1-.8l-1 .4l-1 1.2z"/>
<path fill="#c2dda0" stroke="#c2dda0" d="M160.1 271.9l.9 2.7l3.7-1.8l-.9-2.1z"/>
<path fill="#ebf2c9" stroke="#ebf2c9" d="M161.0 274.6l.9 3.4l.9 3.2l3.6-2.3l-.8-3.1l-.9-3z"/>
<path fill="#f9f2ad" stroke="#f9f2ad" d="M162.8 281.2l.9 2.6l.9 1.7l1 .7l1-.6l1-1.9l1.1-2.5l3.6-3.3l-1 2.6l-1.1 2.1l-1 .9l-1-.5l-.9-1.6l-.9-2.5z"/>
<path fill="#ebf2c9" stroke="#ebf2c9" d="M168.7 281.2l1-2.3l1.1-1.6l3.7-3.1l-1.1 1.6l-1.1 2.1z"/>
<path fill="#c2dda0" stroke="#c2dda0" d="M170.8 277.3l1-1l1-.5l1-.1l1 .3l3.6-2.9l-.9-.5l-1 0l-1 .5l-1 1.1z"/>
<path d="M142.9 251.2L144.2 250.6M142.6 251.6L142.9 251.2M144.2 251.6L142.6 251.6M146.7 251.4L144.2 251.6M147.9 251.2L146.7 251.4M148.5 252.8L151.8 251.7M151.3 271.2L154.6 270.0M156.5 272.2L159.9 271.4M161.1 271.1L159.9 271.4M160.4 272.9L164.2 271.7M174.4 274.0L175.0 273.6M174.2 274.6L174.4 274.0M174.7 274.9L174.2 274.6M176.1 275.0L174.7 274.9" fill="none" stroke="#50606a" stroke-width="0.45" opacity="0.45"/>
<path fill="#84d0f2" stroke="#84d0f2" d="M92.4 231.7l1 .4l1 .4l1 .3l1 .2l1 .2l1 .1l1 0l1 .1l1 .1l1 .1l1 .2l1 .3l1 .2l1 .1l1 0l1 .1l1 0l1 0l1 0l1 0l1 .1l1 0l1 .1l1 0l1 .1l1 .1l1 .3l1 .6l1 .8l1 1l1 .9l1 .5l1 .1l1-.2l1-.1l1-.2l1 0l1 .2l1 .5l.9 .8l3.8-.3l-1-.8l-1-.5l-1-.2l-1 0l-1 .2l-1 .2l-1 .1l-1-.1l-1-.4l-.9-.9l-1-1l-1-.9l-1-.6l-1-.3l-1-.1l-1-.1l-1-.1l-1 0l-1-.1l-1 0l-1 0l-1 0l-1 0l-1 .1l-1 0l-1-.1l-1-.1l-1-.2l-1-.3l-1-.3l-1-.1l-1-.1l-1-.1l-1 0l-1-.1l-1-.2l-1-.2l-1-.4l-1-.4l-1-.6z"/>
<path fill="#a0d0f2" stroke="#a0d0f2" d="M132.3 240.1l1 1.4l3.8-.2l-1-1.5z"/>
<path fill="#c9d0f2" stroke="#c9d0f2" d="M133.3 241.5l1 2.1l3.7 .1l-.9-2.4z"/>
<path fill="#b4d7f2" stroke="#b4d7f2" d="M134.3 243.6l.9 2.6l3.8 .4l-1-2.9z"/>
<path fill="#99e4f2" stroke="#99e4f2" d="M135.2 246.2l1 2.6l1 1.5l1 .3l1-.4l1-.9l1-1.2l1-1l3.7 1.1l-1 1.1l-1 1.2l-1 .7l-1 .2l-1-.5l-1-1.7l-.9-2.6z"/>
<path fill="#b4d7f2" stroke="#b4d7f2" d="M142.2 247.1l1 .3l3.7 .9l-1-.1z"/>
<path fill="#99e4f2" stroke="#99e4f2" d="M143.2 247.4l1 1.8l.9 3.8l3.7 .7l-.9-3.7l-1-1.7z"/>
<path fill="#a0dde4" stroke="#a0dde4" d="M145.1 253.0l.9 5.5l3.6 .6l-.8-5.4z"/>
<path fill="#b4ddd7" stroke="#b4ddd7" d="M146.0 258.5l.8 6.2l.9 5.6l3.6 .9l-.9-5.8l-.8-6.3z"/>
<path fill="#c2dda0" stroke="#c2dda0" d="M147.7 270.3l.9 4.1l3.6 1.1l-.9-4.3z"/>
<path fill="#ebf2c9" stroke="#ebf2c9" d="M148.6 274.4l.9 1.7l1-.5l1-1.6l3.6 .8l-1 1.8l-1 .6l-.9-1.7z"/>
<path fill="#c2dda0" stroke="#c2dda0" d="M151.5 274.0l1.1-1.9l3.6 .6l-1.1 2.1z"/>
<path fill="#b4ddd7" stroke="#b4ddd7" d="M152.6 272.1l1-1.2l1-.3l.9 .6l1 1.9l3.6-1.2l-.9-1.4l-1-.1l-1 .8l-1 1.5z"/>
<path fill="#c2dda0" stroke="#c2dda0" d="M156.5 273.1l.9 3.3l3.6-1.8l-.9-2.7z"/>
<path fill="#ebf2c9" stroke="#ebf2c9" d="M157.4 276.4l.8 3.8l3.7-2.2l-.9-3.4z"/>
<path fill="#f9f2ad" stroke="#f9f2ad" d="M158.2 280.2l.9 3.4l.9 2.6l1 1.8l3.6-2.5l-.9-1.7l-.9-2.6l-.9-3.2z"/>
<path fill="#fcebd0" stroke="#fcebd0" d="M161.0 288.0l.9 .8l1-.2l3.7-3l-1 .6l-1-.7z"/>
<path fill="#f9f2ad" stroke="#f9f2ad" d="M162.9 288.6l1-1.7l1.1-2.5l1.1-2.3l3.6-3.2l-1 2.3l-1.1 2.5l-1 1.9z"/>
<path fill="#ebf2c9" stroke="#ebf2c9" d="M166.1 282.1l1-1.6l1-1l3.7-3.2l-1 1l-1.1 1.6z"/>
<path fill="#c2dda0" stroke="#c2dda0" d="M168.1 279.5l1-.5l1-.1l1 .1l3.7-3l-1-.3l-1 .1l-1 .5z"/>
<path d="M146.9 253.3L148.5 252.8M145.2 253.9L146.9 253.3M151.3 271.2L151.3 271.2M148.1 272.5L151.3 271.2M152.0 273.2L154.9 272.5M156.5 272.2L154.9 272.5M156.7 274.1L160.4 272.9" fill="none" stroke="#50606a" stroke-width="0.45" opacity="0.45"/>
<path fill="#84d0f2" stroke="#84d0f2" d="M88.5 232.3l1 .4l1 .3l1 .3l1 .3l1 .1l1 .1l1 .1l1 .1l1 .1l1 .1l1 .2l1 .2l1 .2l1 .1l1.1 .1l1 0l1 .1l1 0l1 0l1 0l1 .1l1 0l1 .1l1 0l1 .1l1 .1l1 .3l1 .6l1 .8l1 1l1 .8l1 .5l1 0l1-.1l1-.2l1-.2l1 0l1 .2l1 .5l1 .8l3.7-.4l-.9-.8l-1-.5l-1-.2l-1 0l-1 .2l-1 .1l-1 .2l-1-.1l-1-.5l-1-.9l-1-1l-1-.8l-1-.6l-1-.3l-1-.1l-1-.1l-1 0l-1-.1l-1 0l-1-.1l-1 0l-1 0l-1 0l-1 0l-1-.1l-1 0l-1-.1l-1-.2l-1-.3l-1-.2l-1-.1l-1-.1l-1-.1l-1 0l-1-.1l-1-.2l-1-.2l-1-.3l-1-.4l-1-.4z"/>
<path fill="#a0d0f2" stroke="#a0d0f2" d="M128.6 240.5l1 1.4l3.7-.4l-1-1.4z"/>
<path fill="#c9d0f2" stroke="#c9d0f2" d="M129.6 241.9l.9 2.1l1 2.5l3.7-.3l-.9-2.6l-1-2.1z"/>
<path fill="#b4d7f2" stroke="#b4d7f2" d="M131.5 246.5l1 2.3l3.7 0l-1-2.6z"/>
<path fill="#99e4f2" stroke="#99e4f2" d="M132.5 248.8l1 1.3l1 .3l1-.5l1-.9l3.7 .3l-1 .9l-1 .4l-1-.3l-1-1.5z"/>
<path fill="#b4d7f2" stroke="#b4d7f2" d="M136.5 249.0l1-1.3l1-.9l1 .2l1 1.8l3.7 .4l-1-1.8l-1-.3l-1 1l-1 1.2z"/>
<path fill="#99e4f2" stroke="#99e4f2" d="M140.5 248.8l.9 3.7l3.7 .5l-.9-3.8z"/>
<path fill="#a0dde4" stroke="#a0dde4" d="M141.4 252.5l.9 5.4l3.7 .6l-.9-5.5z"/>
<path fill="#b4ddd7" stroke="#b4ddd7" d="M142.3 257.9l.9 6l.8 5.2l1 3.8l3.6 1.5l-.9-4.1l-.9-5.6l-.8-6.2z"/>
<path fill="#c2dda0" stroke="#c2dda0" d="M145.0 272.9l.9 1.6l1-.3l1-1.4l3.6 1.2l-1 1.6l-1 .5l-.9-1.7z"/>
<path fill="#b4ddd7" stroke="#b4ddd7" d="M147.9 272.8l1.1-1.7l1-1.1l1-.2l.9 .9l1 2.2l3.6 .2l-1-1.9l-.9-.6l-1 .3l-1 1.2l-1.1 1.9z"/>
<path fill="#c2dda0" stroke="#c2dda0" d="M152.9 272.9l.9 3.4l3.6 .1l-.9-3.3z"/>
<path fill="#ebf2c9" stroke="#ebf2c9" d="M153.8 276.3l.8 3.9l3.6 0l-.8-3.8z"/>
<path fill="#f9f2ad" stroke="#f9f2ad" d="M154.6 280.2l.9 3.5l.9 2.7l1 1.9l3.6-.3l-1-1.8l-.9-2.6l-.9-3.4z"/>
<path fill="#fcebd0" stroke="#fcebd0" d="M157.4 288.3l.9 1l1-.1l1-1.4l3.6-.9l-1 1.7l-1 .2l-.9-.8z"/>
<path fill="#f9f2ad" stroke="#f9f2ad" d="M160.3 287.8l1.1-2.2l1-1.9l3.7-1.6l-1.1 2.3l-1.1 2.5z"/>
<path fill="#ebf2c9" stroke="#ebf2c9" d="M162.4 283.7l1.1-1.2l1-.6l1-.2l.9 .1l1 .4l3.7-3.2l-1-.1l-1 .1l-1 .5l-1 1l-1 1.6z"/>
<path d="M141.8 254.9L145.2 253.9M146.1 273.4L148.1 272.5M145.5 273.9L146.1 273.4M146.9 274.1L150.2 273.6M152.0 273.2L150.2 273.6M153.5 275.4L156.7 274.1" fill="none" stroke="#50606a" stroke-width="0.45" opacity="0.45"/>
<path fill="#84d0f2" stroke="#84d0f2" d="M84.6 232.8l1.1 .4l1 .4l1 .3l1 .2l1 .2l1 .1l1 .1l1 0l1 .1l1 .2l1 .2l1 .2l1 .2l1 .1l1 0l1 .1l1 0l1 .1l1 0l1 0l1.1 .1l1 0l1 .1l1 0l1 .1l1 .1l1 .3l1 .5l1 .8l1 1l1 .8l1 .5l1 0l1-.2l1-.2l1-.1l1-.1l1 .2l1 .5l1 .9l1 1.3l3.8-.4l-1-1.4l-1-.8l-1-.5l-1-.2l-1 0l-1 .2l-1 .2l-1 .1l-1 0l-1-.5l-1-.8l-1-1l-1-.8l-1-.6l-1-.3l-1-.1l-1-.1l-1 0l-1-.1l-1 0l-1-.1l-1 0l-1 0l-1 0l-1-.1l-1 0l-1.1-.1l-1-.1l-1-.2l-1-.2l-1-.2l-1-.1l-1-.1l-1-.1l-1-.1l-1-.1l-1-.1l-1-.3l-1-.3l-1-.3l-1-.4z"/>
<path fill="#c9d0f2" stroke="#c9d0f2" d="M125.8 242.3l1 2.1l1 2.4l3.7-.3l-1-2.5l-.9-2.1z"/>
<path fill="#b4d7f2" stroke="#b4d7f2" d="M127.8 246.8l.9 2.1l3.8-.1l-1-2.3z"/>
<path fill="#99e4f2" stroke="#99e4f2" d="M128.7 248.9l1 1.1l1 .2l1-.5l3.8 .2l-1 .5l-1-.3l-1-1.3z"/>
<path fill="#b4d7f2" stroke="#b4d7f2" d="M131.7 249.7l1.1-1l1-1.3l3.7 .3l-1 1.3l-1 .9z"/>
<path fill="#c9d0f2" stroke="#c9d0f2" d="M133.8 247.4l1-.9l1 .2l1 1.7l3.7 .4l-1-1.8l-1-.2l-1 .9z"/>
<path fill="#99e4f2" stroke="#99e4f2" d="M136.8 248.4l.9 3.6l.9 5.3l3.7 .6l-.9-5.4l-.9-3.7z"/>
<path fill="#a0dde4" stroke="#a0dde4" d="M138.6 257.3l.9 5.7l3.7 .9l-.9-6z"/>
<path fill="#b4ddd7" stroke="#b4ddd7" d="M139.5 263.0l.9 4.9l.9 3.5l1 1.5l1-.2l1-1.2l1-1.4l1.1-1l.9-.1l1 1.2l1 2.5l.9 3.5l3.6 .1l-.9-3.4l-1-2.2l-.9-.9l-1 .2l-1 1.1l-1.1 1.7l-1 1.4l-1 .3l-.9-1.6l-1-3.8l-.8-5.2z"/>
<path fill="#c2dda0" stroke="#c2dda0" d="M150.2 276.2l.9 4l3.5 0l-.8-3.9z"/>
<path fill="#ebf2c9" stroke="#ebf2c9" d="M151.1 280.2l.8 3.6l3.6-.1l-.9-3.5z"/>
<path fill="#f9f2ad" stroke="#f9f2ad" d="M151.9 283.8l1 2.8l.9 2.1l3.6-.4l-1-1.9l-.9-2.7z"/>
<path fill="#fcebd0" stroke="#fcebd0" d="M153.8 288.7l.9 1.1l1 .1l3.6-.7l-1 .1l-.9-1z"/>
<path fill="#f9f2ad" stroke="#f9f2ad" d="M155.7 289.9l1-1.2l1.1-1.9l1-1.4l3.6-1.7l-1 1.9l-1.1 2.2l-1 1.4z"/>
<path fill="#ebf2c9" stroke="#ebf2c9" d="M158.8 285.4l1-.8l1-.3l1 .1l1 .4l1 .6l3.6-3.2l-1-.4l-.9-.1l-1 .2l-1 .6l-1.1 1.2z"/>
<path d="M138.4 256.0L141.8 254.9M145.2 274.2L145.5 273.9M146.8 274.1L145.2 274.2M146.9 274.1L146.8 274.1M151.2 276.3L153.5 275.4M150.2 276.6L151.2 276.3" fill="none" stroke="#50606a" stroke-width="0.45" opacity="0.45"/>
<path fill="#84d0f2" stroke="#84d0f2" d="M80.8 233.4l1 .4l1 .3l1 .3l1 .3l1 .1l1 .1l1 .1l1 .1l1.1 .1l1 .1l1 .2l1 .2l1 .2l1 .1l1 .1l1 .1l1 0l1 0l1 .1l1 0l1 .1l1 0l1.1 0l1 .1l1 .1l1 .1l1 .3l1 .5l1 .8l1 .9l1 .8l1 .4l1 .1l1-.2l1-.2l1-.2l1.1-.1l1 .2l1 .5l1 .9l1 1.4l3.7-.5l-1-1.3l-1-.9l-1-.5l-1-.2l-1 .1l-1 .1l-1 .2l-1 .2l-1 0l-1-.5l-1-.8l-1-1l-1-.8l-1-.5l-1-.3l-1-.1l-1-.1l-1 0l-1-.1l-1 0l-1.1-.1l-1 0l-1 0l-1-.1l-1 0l-1-.1l-1 0l-1-.1l-1-.2l-1-.2l-1-.2l-1-.2l-1-.1l-1 0l-1-.1l-1-.1l-1-.2l-1-.2l-1-.3l-1-.4l-1.1-.4z"/>
<path fill="#a0d0f2" stroke="#a0d0f2" d="M122.1 242.8l.9 2l3.8-.4l-1-2.1z"/>
<path fill="#c9d0f2" stroke="#c9d0f2" d="M123.0 244.8l1 2.3l3.8-.3l-1-2.4z"/>
<path fill="#b4d7f2" stroke="#b4d7f2" d="M124.0 247.1l1 1.9l1 .8l1 .1l1-.5l1-1l3.8 .3l-1.1 1l-1 .5l-1-.2l-1-1.1l-.9-2.1z"/>
<path fill="#c9d0f2" stroke="#c9d0f2" d="M129.0 248.4l1.1-1.4l1-.9l1 .2l1 1.7l3.7 .4l-1-1.7l-1-.2l-1 .9l-1 1.3z"/>
<path fill="#b4d7f2" stroke="#b4d7f2" d="M133.1 248.0l.9 3.5l3.7 .5l-.9-3.6z"/>
<path fill="#99e4f2" stroke="#99e4f2" d="M134.0 251.5l.9 5.1l3.7 .7l-.9-5.3z"/>
<path fill="#a0dde4" stroke="#a0dde4" d="M134.9 256.6l1 5.5l3.6 .9l-.9-5.7z"/>
<path fill="#b4ddd7" stroke="#b4ddd7" d="M135.9 262.1l.9 4.6l.9 3.1l1 1.4l1-.1l1-.9l1-1.1l1-.9l1 0l1 1.4l.9 2.8l.9 3.7l3.7 .1l-.9-3.5l-1-2.5l-1-1.2l-.9 .1l-1.1 1l-1 1.4l-1 1.2l-1 .2l-1-1.5l-.9-3.5l-.9-4.9z"/>
<path fill="#c2dda0" stroke="#c2dda0" d="M146.5 276.1l.9 4l3.7 .1l-.9-4z"/>
<path fill="#ebf2c9" stroke="#ebf2c9" d="M147.4 280.1l1 3.7l3.5 0l-.8-3.6z"/>
<path fill="#f9f2ad" stroke="#f9f2ad" d="M148.4 283.8l.9 3l.9 2.2l1 1.3l.9 .3l1.1-1l1-1.5l1-1.1l1-.4l3.6-2l-1 .8l-1 1.4l-1.1 1.9l-1 1.2l-1-.1l-.9-1.1l-.9-2.1l-1-2.8z"/>
<path fill="#ebf2c9" stroke="#ebf2c9" d="M156.2 286.6l1 .1l1 .4l.9 .7l3.7-3l-1-.4l-1-.1l-1 .3z"/>
<path fill="#f9f2ad" stroke="#f9f2ad" d="M159.1 287.8l1 .9l3.7-3.3l-1-.6z"/>
<path d="M135.8 256.8L138.4 256.0M135.0 257.0L135.8 256.8M146.9 277.9L150.2 276.6" fill="none" stroke="#50606a" stroke-width="0.45" opacity="0.45"/>
<path fill="#84d0f2" stroke="#84d0f2" d="M76.9 233.9l1 .4l1 .4l1.1 .3l1 .2l1 .2l1 .1l1 .1l1 0l1 .2l1 .1l1 .2l1 .2l1.1 .1l1 .2l1 .1l1 0l1 .1l1 0l1 0l1 .1l1 0l1 .1l1 0l1.1 .1l1 .1l1 .1l1 .3l1 .5l1 .7l1 .9l1 .8l1 .4l1 0l1-.2l1.1-.2l1-.2l1-.1l1 .2l1 .5l1 .9l1 1.4l3.8-.4l-1-1.4l-1-.9l-1-.5l-1-.2l-1.1 .1l-1 .2l-1 .2l-1 .2l-1-.1l-1-.4l-1-.8l-1-.9l-1-.8l-1-.5l-1-.3l-1-.1l-1-.1l-1-.1l-1.1 0l-1 0l-1-.1l-1 0l-1-.1l-1 0l-1 0l-1-.1l-1-.1l-1-.1l-1-.2l-1-.2l-1-.2l-1-.1l-1.1-.1l-1-.1l-1-.1l-1-.1l-1-.1l-1-.3l-1-.3l-1-.3l-1-.4z"/>
<path fill="#a0d0f2" stroke="#a0d0f2" d="M118.3 243.2l1 1.9l3.7-.3l-.9-2z"/>
<path fill="#c9d0f2" stroke="#c9d0f2" d="M119.3 245.1l1 2.3l1 1.6l3.7 0l-1-1.9l-1-2.3z"/>
<path fill="#b4d7f2" stroke="#b4d7f2" d="M121.3 249.0l1 .6l1 0l1-.5l3.7 .3l-1 .5l-1-.1l-1-.8z"/>
<path fill="#c9d0f2" stroke="#c9d0f2" d="M124.3 249.1l1-1.1l1-1.3l1.1-1l3.7 .4l-1 .9l-1.1 1.4l-1 1z"/>
<path fill="#a0d0f2" stroke="#a0d0f2" d="M127.4 245.7l1 .2l3.7 .4l-1-.2z"/>
<path fill="#c9d0f2" stroke="#c9d0f2" d="M128.4 245.9l1 1.6l.9 3.5l3.7 .5l-.9-3.5l-1-1.7z"/>
<path fill="#99e4f2" stroke="#99e4f2" d="M130.3 251.0l1 5l3.6 .6l-.9-5.1z"/>
<path fill="#a0dde4" stroke="#a0dde4" d="M131.3 256.0l.9 5.1l.9 4.2l3.7 1.4l-.9-4.6l-1-5.5z"/>
<path fill="#b4ddd7" stroke="#b4ddd7" d="M133.1 265.3l1 2.9l1 1.3l1 .1l1-.7l1-.9l1-.8l1 .2l1 1.6l.9 3.1l.9 3.9l3.6 .1l-.9-3.7l-.9-2.8l-1-1.4l-1 0l-1 .9l-1 1.1l-1 .9l-1 .1l-1-1.4l-.9-3.1z"/>
<path fill="#c2dda0" stroke="#c2dda0" d="M142.9 276.0l.9 4.1l3.6 0l-.9-4z"/>
<path fill="#ebf2c9" stroke="#ebf2c9" d="M143.8 280.1l1 3.8l.9 3.1l3.6-.2l-.9-3l-1-3.7z"/>
<path fill="#f9f2ad" stroke="#f9f2ad" d="M145.7 287.0l.9 2.3l1 1.5l1 .4l1-.8l1-1.1l1-.7l1 .1l1 .5l.9 .7l1 1l1 1.1l3.6-3.3l-1-.9l-.9-.7l-1-.4l-1-.1l-1 .4l-1 1.1l-1 1.5l-1.1 1l-.9-.3l-1-1.3l-.9-2.2z"/>
<path d="M131.6 258.1L135.0 257.0M143.6 279.2L146.9 277.9" fill="none" stroke="#50606a" stroke-width="0.45" opacity="0.45"/>
<path fill="#84d0f2" stroke="#84d0f2" d="M73.1 234.5l1 .4l1 .3l1 .3l1 .3l1 .1l1 .1l1 .1l1.1 .1l1 .1l1 .2l1 .1l1 .2l1 .2l1 .1l1 .1l1.1 .1l1 .1l1 0l1 .1l1 0l1 .1l1 0l1 .1l1 0l1.1 .1l1 .1l1 .3l1 .5l1 .8l1 .8l1 .8l1 .3l1.1 .1l1-.2l1-.3l1-.2l1-.1l1 .2l1 .5l1 .9l1 1.3l1 1.8l3.8-.3l-1-1.9l-1-1.4l-1-.9l-1-.5l-1-.2l-1 .1l-1 .2l-1.1 .2l-1 .2l-1 0l-1-.4l-1-.8l-1-.9l-1-.7l-1-.5l-1-.3l-1-.1l-1-.1l-1.1-.1l-1 0l-1-.1l-1 0l-1-.1l-1 0l-1 0l-1-.1l-1 0l-1-.1l-1-.2l-1.1-.1l-1-.2l-1-.2l-1-.1l-1-.2l-1 0l-1-.1l-1-.1l-1-.2l-1-.2l-1.1-.3l-1-.4l-1-.4z"/>
<path fill="#c9d0f2" stroke="#c9d0f2" d="M115.5 245.4l1 2.1l1 1.4l1 .5l1.1 0l1-.6l1-1l1-1.3l3.7 .2l-1 1.3l-1 1.1l-1 .5l-1 0l-1-.6l-1-1.6l-1-2.3z"/>
<path fill="#a0d0f2" stroke="#a0d0f2" d="M122.6 246.5l1-.8l1 .3l1 1.6l3.8-.1l-1-1.6l-1-.2l-1.1 1z"/>
<path fill="#c9d0f2" stroke="#c9d0f2" d="M125.6 247.6l1 3.2l3.7 .2l-.9-3.5z"/>
<path fill="#b4d7f2" stroke="#b4d7f2" d="M126.6 250.8l1 4.5l3.7 .7l-1-5z"/>
<path fill="#99e4f2" stroke="#99e4f2" d="M127.6 255.3l.9 4.8l3.7 1l-.9-5.1z"/>
<path fill="#a0dde4" stroke="#a0dde4" d="M128.5 260.1l1 4l3.6 1.2l-.9-4.2z"/>
<path fill="#b4ddd7" stroke="#b4ddd7" d="M129.5 264.1l.9 2.9l1 1.3l1 0l1-.7l1-.8l1.1-.7l1 .1l.9 1.5l1 2.7l.9 3.6l1 4l3.5 2.1l-.9-4.1l-.9-3.9l-.9-3.1l-1-1.6l-1-.2l-1 .8l-1 .9l-1 .7l-1-.1l-1-1.3l-1-2.9z"/>
<path fill="#c2dda0" stroke="#c2dda0" d="M140.3 278.0l.9 3.9l3.6 2l-1-3.8z"/>
<path fill="#ebf2c9" stroke="#ebf2c9" d="M141.2 281.9l.9 3.2l3.6 1.9l-.9-3.1z"/>
<path fill="#f9f2ad" stroke="#f9f2ad" d="M142.1 285.1l1 2.3l.9 1.6l1 .4l1-.5l1-.9l1-.3l1 .4l1 .8l1 1.2l.9 1.3l1 1.6l3.6-1l-1-1.1l-1-1l-.9-.7l-1-.5l-1-.1l-1 .7l-1 1.1l-1 .8l-1-.4l-1-1.5l-.9-2.3z"/>
<path d="M128.3 259.2L131.6 258.1M142.9 279.6L143.6 279.2M140.9 280.6L142.9 279.6" fill="none" stroke="#50606a" stroke-width="0.45" opacity="0.45"/>
<path fill="#84d0f2" stroke="#84d0f2" d="M69.2 235.0l1 .4l1 .4l1 .3l1.1 .2l1 .2l1 .1l1 .1l1 .1l1 .1l1 .1l1.1 .2l1 .2l1 .2l1 .1l1 .1l1 .1l1 .1l1.1 0l1 .1l1 0l1 .1l1 .1l1 0l1 0l3.8-.6l-1 0l-1-.1l-1 0l-1-.1l-1 0l-1-.1l-1 0l-1-.1l-1.1-.1l-1-.1l-1-.1l-1-.2l-1-.2l-1-.1l-1-.2l-1-.1l-1.1-.1l-1-.1l-1-.1l-1-.1l-1-.3l-1-.3l-1-.3l-1-.4z"/>
<path fill="#d0d0eb" stroke="#d0d0eb" d="M93.5 238.3l1 .1l1.1 .2l1 .2l3.8-.6l-1-.3l-1-.1l-1.1-.1z"/>
<path fill="#84d0f2" stroke="#84d0f2" d="M96.6 238.8l1 .6l1 .7l1 .8l1 .7l1.1 .4l1 0l1-.2l1-.3l1-.2l1-.1l1 .2l1.1 .5l1 .9l1 1.2l1 1.7l3.7-.3l-1-1.8l-1-1.3l-1-.9l-1-.5l-1-.2l-1 .1l-1 .2l-1 .3l-1 .2l-1.1-.1l-1-.3l-1-.8l-1-.8l-1-.8l-1-.5z"/>
<path fill="#a0d0f2" stroke="#a0d0f2" d="M111.8 245.7l1 1.8l3.7 0l-1-2.1z"/>
<path fill="#c9d0f2" stroke="#c9d0f2" d="M112.8 247.5l1 1.3l1 .4l1-.1l1-.6l1.1-1l3.7 .3l-1 1l-1 .6l-1.1 0l-1-.5l-1-1.4z"/>
<path fill="#a0d0f2" stroke="#a0d0f2" d="M117.9 247.5l1-1.1l3.7 .1l-1 1.3z"/>
<path fill="#84d0f2" stroke="#84d0f2" d="M118.9 246.4l1-.7l1 .3l3.7 0l-1-.3l-1 .8z"/>
<path fill="#a0d0f2" stroke="#a0d0f2" d="M120.9 246.0l1 1.6l3.7 0l-1-1.6z"/>
<path fill="#c9d0f2" stroke="#c9d0f2" d="M121.9 247.6l1 3l3.7 .2l-1-3.2z"/>
<path fill="#b4d7f2" stroke="#b4d7f2" d="M122.9 250.6l1 4.1l3.7 .6l-1-4.5z"/>
<path fill="#99e4f2" stroke="#99e4f2" d="M123.9 254.7l.9 4.3l3.7 1.1l-.9-4.8z"/>
<path fill="#a0dde4" stroke="#a0dde4" d="M124.8 259.0l1 3.9l1 2.8l3.6 1.3l-.9-2.9l-1-4z"/>
<path fill="#b4ddd7" stroke="#b4ddd7" d="M126.8 265.7l1 1.2l1 .1l1-.7l3.6 1.3l-1 .7l-1 0l-1-1.3z"/>
<path fill="#a0dde4" stroke="#a0dde4" d="M129.8 266.3l1-.8l1-.6l1 .1l1 1.2l3.6 1.5l-.9-1.5l-1-.1l-1.1 .7l-1 .8z"/>
<path fill="#b4ddd7" stroke="#b4ddd7" d="M133.8 266.2l1 2.4l.9 3.3l1 4l.9 4l3.6 2l-.9-3.9l-1-4l-.9-3.6l-1-2.7z"/>
<path fill="#c2dda0" stroke="#c2dda0" d="M137.6 279.9l.9 3.2l3.6 2l-.9-3.2z"/>
<path fill="#ebf2c9" stroke="#ebf2c9" d="M138.5 283.1l1 2.4l1 1.6l1 .5l1-.3l1-.5l1-.1l1 .8l.9 1.2l1 1.5l3.6-.1l-1-1.2l-1-.8l-1-.4l-1 .3l-1 .9l-1 .5l-1-.4l-.9-1.6l-1-2.3z"/>
<path fill="#f9f2ad" stroke="#f9f2ad" d="M147.4 290.2l.9 1.8l1 1.9l3.6-.9l-1-1.6l-.9-1.3z"/>
<path d="M126.9 259.6L128.3 259.2M125.1 260.3L126.9 259.6M139.8 281.1L140.9 280.6M138.2 282.0L139.8 281.1" fill="none" stroke="#50606a" stroke-width="0.45" opacity="0.45"/>
<path fill="#84d0f2" stroke="#84d0f2" d="M65.3 235.6l1.1 .4l1 .3l1 .3l1 .3l1 .1l1 .2l1.1 .1l1 .1l1 .1l1 .1l1 .2l1 .2l1.1 .2l1 .1l1 .1l1 .1l1 .1l1 0l1 .1l1.1 .1l1 0l1 .1l1 0l3.8-.6l-1 0l-1-.1l-1-.1l-1 0l-1-.1l-1.1 0l-1-.1l-1-.1l-1-.1l-1-.1l-1-.2l-1-.2l-1.1-.2l-1-.1l-1-.1l-1-.1l-1-.1l-1-.1l-1-.2l-1.1-.2l-1-.3l-1-.4l-1-.4z"/>
<path fill="#d0d0eb" stroke="#d0d0eb" d="M88.7 238.9l1 .1l1 0l1.1 .2l1 .3l3.8-.7l-1-.2l-1.1-.2l-1-.1l-1 0z"/>
<path fill="#84d0f2" stroke="#84d0f2" d="M92.8 239.5l1 .5l1 .7l1 .8l1.1 .7l1 .3l1 0l1-.2l1-.3l1-.2l1-.1l1.1 .2l1 .5l1 .8l1 1.2l1 1.5l3.8-.2l-1-1.7l-1-1.2l-1-.9l-1.1-.5l-1-.2l-1 .1l-1 .2l-1 .3l-1 .2l-1 0l-1.1-.4l-1-.7l-1-.8l-1-.7l-1-.6z"/>
<path fill="#a0d0f2" stroke="#a0d0f2" d="M108.0 245.9l1 1.7l3.8-.1l-1-1.8z"/>
<path fill="#c9d0f2" stroke="#c9d0f2" d="M109.0 247.6l1 1.1l1.1 .3l1-.2l1-.6l3.7 .3l-1 .6l-1 .1l-1-.4l-1-1.3z"/>
<path fill="#a0d0f2" stroke="#a0d0f2" d="M113.1 248.2l1-.9l3.8 .2l-1.1 1z"/>
<path fill="#84d0f2" stroke="#84d0f2" d="M114.1 247.3l1-1.1l1.1-.5l1 .4l1 1.5l3.7 0l-1-1.6l-1-.3l-1 .7l-1 1.1z"/>
<path fill="#a0d0f2" stroke="#a0d0f2" d="M118.2 247.6l1 2.8l3.7 .2l-1-3z"/>
<path fill="#c9d0f2" stroke="#c9d0f2" d="M119.2 250.4l1 3.6l3.7 .7l-1-4.1z"/>
<path fill="#99e4f2" stroke="#99e4f2" d="M120.2 254.0l.9 4l1 3.6l3.7 1.3l-1-3.9l-.9-4.3z"/>
<path fill="#a0dde4" stroke="#a0dde4" d="M122.1 261.6l1 2.7l1 1.3l1 0l1-.7l1-.8l1.1-.5l1 .1l1 1.1l.9 2l1 3l3.6 2.1l-.9-3.3l-1-2.4l-1-1.2l-1-.1l-1 .6l-1 .8l-1 .7l-1-.1l-1-1.2l-1-2.8z"/>
<path fill="#b4ddd7" stroke="#b4ddd7" d="M132.1 269.8l1 4l.9 4l1 3.3l3.5 2l-.9-3.2l-.9-4l-1-4z"/>
<path fill="#c2dda0" stroke="#c2dda0" d="M135.0 281.1l.9 2.5l1 1.5l3.6 2l-1-1.6l-1-2.4z"/>
<path fill="#ebf2c9" stroke="#ebf2c9" d="M136.9 285.1l1 .6l1 0l1-.2l3.6 1.3l-1 .5l-1 .3l-1-.5z"/>
<path fill="#c2dda0" stroke="#c2dda0" d="M139.9 285.5l1 .3l3.6 .9l-1 .1z"/>
<path fill="#ebf2c9" stroke="#ebf2c9" d="M140.9 285.8l1 1l.9 1.6l1 2l1 2.1l3.5-.5l-.9-1.8l-1-1.5l-.9-1.2l-1-.8z"/>
<path fill="#f9f2ad" stroke="#f9f2ad" d="M144.8 292.5l.9 2.3l3.6-.9l-1-1.9z"/>
<path d="M122.1 261.4L125.1 260.3M137.4 282.5L138.2 282.0M135.9 283.6L137.4 282.5" fill="none" stroke="#50606a" stroke-width="0.45" opacity="0.45"/>
<path fill="#84d0f2" stroke="#84d0f2" d="M61.5 236.1l1 .4l1 .4l1 .3l1.1 .2l1 .2l1 .1l1 .1l1 .1l1 .2l1.1 .1l1 .2l1 .2l1 .1l1 .2l1.1 .1l1 .1l1 .1l1 0l1 .1l1 .1l1.1 .1l1 0l3.8-.6l-1-.1l-1 0l-1.1-.1l-1-.1l-1 0l-1-.1l-1-.1l-1-.1l-1-.1l-1.1-.2l-1-.2l-1-.2l-1-.1l-1-.1l-1-.1l-1.1-.1l-1-.2l-1-.1l-1-.3l-1-.3l-1-.3l-1.1-.4z"/>
<path fill="#d0d0eb" stroke="#d0d0eb" d="M83.9 239.5l1 0l1 .1l1 .1l1.1 .1l1 .3l1 .5l3.8-.6l-1-.5l-1-.3l-1.1-.2l-1 0l-1-.1l-1 0z"/>
<path fill="#84d0f2" stroke="#84d0f2" d="M90.0 240.6l1 .8l1 .7l1.1 .7l1 .3l1 0l1-.3l1-.3l1-.2l1.1-.1l1 .2l1 .5l1 .8l1 1l1.1 1.4l1 1.5l3.7 0l-1-1.7l-1-1.5l-1-1.2l-1-.8l-1-.5l-1.1-.2l-1 .1l-1 .2l-1 .3l-1 .2l-1 0l-1-.3l-1.1-.7l-1-.8l-1-.7z"/>
<path fill="#a0d0f2" stroke="#a0d0f2" d="M105.3 247.6l1 .9l1 .3l1-.3l1-.6l3.8 .3l-1 .6l-1 .2l-1.1-.3l-1-1.1z"/>
<path fill="#84d0f2" stroke="#84d0f2" d="M109.3 247.9l1.1-.9l1-.9l1-.5l1 .5l1 1.6l3.8-.1l-1-1.5l-1-.4l-1.1 .5l-1 1.1l-1 .9z"/>
<path fill="#a0d0f2" stroke="#a0d0f2" d="M114.4 247.7l1 2.4l3.8 .3l-1-2.8z"/>
<path fill="#c9d0f2" stroke="#c9d0f2" d="M115.4 250.1l1 3.2l3.8 .7l-1-3.6z"/>
<path fill="#b4d7f2" stroke="#b4d7f2" d="M116.4 253.3l1 3.5l3.7 1.2l-.9-4z"/>
<path fill="#99e4f2" stroke="#99e4f2" d="M117.4 256.8l1 3.5l1 2.6l3.7 1.4l-1-2.7l-1-3.6z"/>
<path fill="#a0dde4" stroke="#a0dde4" d="M119.4 262.9l1 1.3l1 0l1.1-.7l1-.7l3.6 1.3l-1 .8l-1 .7l-1 0l-1-1.3z"/>
<path fill="#99e4f2" stroke="#99e4f2" d="M123.5 262.8l1-.5l1 .1l1 .9l3.7 1.5l-1-1.1l-1-.1l-1.1 .5z"/>
<path fill="#a0dde4" stroke="#a0dde4" d="M126.5 263.3l1 1.6l1 2.8l3.6 2.1l-1-3l-.9-2z"/>
<path fill="#b4ddd7" stroke="#b4ddd7" d="M128.5 267.7l.9 3.9l1 4.1l1 3.4l.9 2.5l1 1.6l3.6 1.9l-1-1.5l-.9-2.5l-1-3.3l-.9-4l-1-4z"/>
<path fill="#c2dda0" stroke="#c2dda0" d="M133.3 283.2l1 .6l1 .2l1 .1l1 .6l1 1.4l1 2.1l3.5 .2l-.9-1.6l-1-1l-1-.3l-1 .2l-1 0l-1-.6z"/>
<path fill="#ebf2c9" stroke="#ebf2c9" d="M139.3 288.2l.9 2.3l1 2.5l3.6-.5l-1-2.1l-1-2z"/>
<path fill="#f9f2ad" stroke="#f9f2ad" d="M141.2 293.0l.9 2.8l3.6-1l-.9-2.3z"/>
<path d="M121.8 261.5L122.1 261.4M119.3 262.6L121.8 261.5M122.8 263.2L124.4 263.1M126.4 263.0L124.4 263.1M127.5 263.2L126.4 263.0M127.4 263.7L127.5 263.2M127.0 264.0L127.4 263.7M135.9 283.6L135.9 283.6M135.4 284.3L135.9 283.6M135.9 284.7L135.4 284.3M137.1 284.8L135.9 284.7M138.4 284.9L137.1 284.8M139.1 285.3L138.4 284.9M138.3 286.1L139.1 285.3" fill="none" stroke="#50606a" stroke-width="0.45" opacity="0.45"/>
<path fill="#84d0f2" stroke="#84d0f2" d="M57.6 236.7l1 .4l1.1 .3l1 .3l1 .3l1 .2l1 .1l1.1 .1l1 .1l1 .1l1 .2l1 .2l1.1 .2l1 .1l1 .2l1 .1l1 .1l1.1 .1l1 .1l1 .1l1 0l1 .1l3.9-.6l-1.1-.1l-1-.1l-1-.1l-1 0l-1-.1l-1-.1l-1.1-.1l-1-.2l-1-.1l-1-.2l-1-.2l-1.1-.1l-1-.2l-1-.1l-1-.1l-1-.1l-1-.2l-1.1-.2l-1-.3l-1-.4l-1-.4z"/>
<path fill="#d0d0eb" stroke="#d0d0eb" d="M79.0 240.1l1.1 0l1 .1l1 0l1 .1l1 .2l1.1 .3l1 .5l3.8-.7l-1-.5l-1-.3l-1.1-.1l-1-.1l-1-.1l-1 0l-1 0z"/>
<path fill="#84d0f2" stroke="#84d0f2" d="M86.2 241.3l1 .7l1 .8l1.1 .6l1 .3l1 0l1-.2l1-.3l1.1-.3l1 0l1 .1l1 .5l1.1 .8l1 1.1l1 1.3l1 1.4l3.8-.5l-1-1.5l-1.1-1.4l-1-1l-1-.8l-1-.5l-1-.2l-1.1 .1l-1 .2l-1 .3l-1 .3l-1 0l-1-.3l-1.1-.7l-1-.7l-1-.8z"/>
<path fill="#a0d0f2" stroke="#a0d0f2" d="M101.5 248.1l1 1l1.1 .2l1-.3l3.7-.5l-1 .3l-1-.3l-1-.9z"/>
<path fill="#84d0f2" stroke="#84d0f2" d="M104.6 249.0l1-.6l1-.9l1-1l1.1-.5l1 .4l1 1.6l1 2.4l3.7-.3l-1-2.4l-1-1.6l-1-.5l-1 .5l-1 .9l-1.1 .9l-1 .6z"/>
<path fill="#c9d0f2" stroke="#c9d0f2" d="M111.7 250.4l1 3.1l1 3.4l3.7-.1l-1-3.5l-1-3.2z"/>
<path fill="#99e4f2" stroke="#99e4f2" d="M113.7 256.9l1 3.1l1 2.3l1 1.1l1.1-.1l1-.7l1-.7l1-.4l1 .1l1 .9l1 1.6l3.7 .8l-1-1.6l-1-.9l-1-.1l-1 .5l-1 .7l-1.1 .7l-1 0l-1-1.3l-1-2.6l-1-3.5z"/>
<path fill="#a0dde4" stroke="#a0dde4" d="M123.8 264.1l1 2.7l1 3.8l3.6 1l-.9-3.9l-1-2.8z"/>
<path fill="#b4ddd7" stroke="#b4ddd7" d="M125.8 270.6l1 3.8l.9 3.1l1 2.2l1 1.3l1 .5l1 .2l1 .2l1 .7l1 1.4l1 2.1l3.6 2.1l-1-2.1l-1-1.4l-1-.6l-1-.1l-1-.2l-1-.6l-1-1.6l-.9-2.5l-1-3.4l-1-4.1z"/>
<path fill="#c2dda0" stroke="#c2dda0" d="M135.7 286.1l1 2.3l3.5 2.1l-.9-2.3z"/>
<path fill="#ebf2c9" stroke="#ebf2c9" d="M136.7 288.4l.9 2.5l1 2.8l3.5 2.1l-.9-2.8l-1-2.5z"/>
<path d="M118.7 262.8L119.3 262.6M117.6 263.6L118.7 262.8M119.1 263.6L117.6 263.6M121.8 263.4L119.1 263.6M122.8 263.2L121.8 263.4M125.9 264.6L127.0 264.0M124.2 265.3L125.9 264.6M138.2 286.1L138.3 286.1M137.3 287.0L138.2 286.1M136.4 287.8L137.3 287.0" fill="none" stroke="#50606a" stroke-width="0.45" opacity="0.45"/>
<path fill="#84d0f2" stroke="#84d0f2" d="M53.7 237.2l1.1 .4l1 .4l1 .3l1.1 .3l1 .1l1 .2l1 .1l1 .1l1.1 .1l1 .2l1 .2l1 .2l1.1 .1l1 .2l1 .1l1 .1l1 .1l1.1 .1l1 .1l1 .1l1 0l3.8-.6l-1-.1l-1 0l-1-.1l-1-.1l-1.1-.1l-1-.1l-1-.1l-1-.2l-1-.1l-1.1-.2l-1-.2l-1-.2l-1-.1l-1-.1l-1.1-.1l-1-.1l-1-.2l-1-.3l-1-.3l-1.1-.3l-1-.4z"/>
<path fill="#d0d0eb" stroke="#d0d0eb" d="M75.2 240.7l1.1 .1l1 0l1 .1l1 .1l1 .1l1.1 .3l1 .6l3.8-.7l-1-.5l-1.1-.3l-1-.2l-1-.1l-1 0l-1-.1l-1.1 0z"/>
<path fill="#84d0f2" stroke="#84d0f2" d="M82.4 242.0l1 .7l1.1 .7l1 .6l1 .3l1 0l1-.2l1.1-.3l1-.2l1-.1l1 .2l1.1 .5l1 .8l1 1l1 1.3l1.1 1.4l1 .9l3.7-.5l-1-1l-1-1.4l-1-1.3l-1-1.1l-1.1-.8l-1-.5l-1-.1l-1 0l-1.1 .3l-1 .3l-1 .2l-1 0l-1-.3l-1.1-.6l-1-.8l-1-.7z"/>
<path fill="#a0d0f2" stroke="#a0d0f2" d="M98.8 249.6l1 .2l1-.3l3.8-.5l-1 .3l-1.1-.2z"/>
<path fill="#84d0f2" stroke="#84d0f2" d="M100.8 249.5l1-.6l1.1-1l1-1l1-.5l1 .4l1.1 1.5l1 2.4l3.7-.3l-1-2.4l-1-1.6l-1-.4l-1.1 .5l-1 1l-1 .9l-1 .6z"/>
<path fill="#a0d0f2" stroke="#a0d0f2" d="M108.0 250.7l1 3l3.7-.2l-1-3.1z"/>
<path fill="#c9d0f2" stroke="#c9d0f2" d="M109.0 253.7l1 3.2l3.7 0l-1-3.4z"/>
<path fill="#b4d7f2" stroke="#b4d7f2" d="M110.0 256.9l1 2.8l3.7 .3l-1-3.1z"/>
<path fill="#99e4f2" stroke="#99e4f2" d="M111.0 259.7l1 2l1 .8l1.1-.1l1-.7l1-.7l1-.4l1 .2l1.1 .9l1 1.7l1 2.6l3.6 .8l-1-2.7l-1-1.6l-1-.9l-1-.1l-1 .4l-1 .7l-1 .7l-1.1 .1l-1-1.1l-1-2.3z"/>
<path fill="#a0dde4" stroke="#a0dde4" d="M121.2 266.0l.9 3.6l1 3.6l3.7 1.2l-1-3.8l-1-3.8z"/>
<path fill="#b4ddd7" stroke="#b4ddd7" d="M123.1 273.2l1 2.7l1 1.8l1 1l1 .5l1 .2l1 .3l1 .7l1 1.5l1 2l1 2.3l3.6 2.2l-1-2.3l-1-2.1l-1-1.4l-1-.7l-1-.2l-1-.2l-1-.5l-1-1.3l-1-2.2l-.9-3.1z"/>
<path fill="#c2dda0" stroke="#c2dda0" d="M133.1 286.2l1 2.6l.9 2.7l3.6 2.2l-1-2.8l-.9-2.5z"/>
<path d="M122.0 266.2L124.2 265.3M121.3 266.5L122.0 266.2M136.1 288.0L136.4 287.8M134.7 289.1L136.1 288.0M134.3 289.4L134.7 289.1" fill="none" stroke="#50606a" stroke-width="0.45" opacity="0.45"/>
<path fill="#84d0f2" stroke="#84d0f2" d="M49.9 237.8l1 .4l1 .3l1.1 .4l1 .2l1 .2l1 .2l1.1 .1l1 .1l1 .1l1 .2l1.1 .2l1 .1l1 .2l1 .2l1.1 .1l1 .1l1 .1l1 .1l1.1 .1l1 .1l3.8-.6l-1-.1l-1-.1l-1.1-.1l-1-.1l-1-.1l-1-.1l-1-.2l-1.1-.1l-1-.2l-1-.2l-1-.2l-1.1-.1l-1-.1l-1-.1l-1-.2l-1-.1l-1.1-.3l-1-.3l-1-.4l-1.1-.4z"/>
<path fill="#d0d0eb" stroke="#d0d0eb" d="M70.4 241.3l1 .1l1 0l1.1 .1l1 0l1 .1l1 .2l1.1 .3l1 .5l3.8-.6l-1-.6l-1.1-.3l-1-.1l-1-.1l-1-.1l-1 0l-1.1-.1l-1 0z"/>
<path fill="#84d0f2" stroke="#84d0f2" d="M78.6 242.6l1 .7l1.1 .7l1 .6l1 .3l1 0l1.1-.2l1-.3l1-.2l3.8-.6l-1 .2l-1.1 .3l-1 .2l-1 0l-1-.3l-1-.6l-1.1-.7l-1-.7z"/>
<path fill="#d0d0eb" stroke="#d0d0eb" d="M86.8 244.2l1-.1l1.1 .2l3.7-.6l-1-.2l-1 .1z"/>
<path fill="#84d0f2" stroke="#84d0f2" d="M88.9 244.3l1 .5l1 .8l1 1.1l1.1 1.3l1 1.3l1 .8l1.1 .3l1-.3l1-.7l1-1l1-1l1.1-.7l1 .4l1 1.5l1 2.4l3.8-.3l-1-2.4l-1.1-1.5l-1-.4l-1 .5l-1 1l-1.1 1l-1 .6l-1 .3l-1-.2l-1-.9l-1.1-1.4l-1-1.3l-1-1l-1-.8l-1.1-.5z"/>
<path fill="#a0d0f2" stroke="#a0d0f2" d="M104.2 251.0l1.1 2.9l3.7-.2l-1-3z"/>
<path fill="#c9d0f2" stroke="#c9d0f2" d="M105.3 253.9l1 3l3.7 0l-1-3.2z"/>
<path fill="#b4d7f2" stroke="#b4d7f2" d="M106.3 256.9l1 2.5l3.7 .3l-1-2.8z"/>
<path fill="#99e4f2" stroke="#99e4f2" d="M107.3 259.4l1 1.6l1 .6l1.1-.2l1-.6l1-.7l3.7 .9l-1 .7l-1 .7l-1.1 .1l-1-.8l-1-2z"/>
<path fill="#b4d7f2" stroke="#b4d7f2" d="M112.4 260.1l1-.4l1.1 .2l1 1l3.7 .8l-1.1-.9l-1-.2l-1 .4z"/>
<path fill="#99e4f2" stroke="#99e4f2" d="M115.5 260.9l1 1.6l1 2.6l1 3.4l3.6 1.1l-.9-3.6l-1-2.6l-1-1.7z"/>
<path fill="#a0dde4" stroke="#a0dde4" d="M118.5 268.5l1 3.4l1 2.4l3.6 1.6l-1-2.7l-1-3.6z"/>
<path fill="#b4ddd7" stroke="#b4ddd7" d="M120.5 274.3l1 1.4l1 .7l1 .4l1 .2l1 .4l1 .8l1 1.5l1 2l1 2.3l1 2.6l1 2.7l3.5 2.2l-.9-2.7l-1-2.6l-1-2.3l-1-2l-1-1.5l-1-.7l-1-.3l-1-.2l-1-.5l-1-1l-1-1.8z"/>
<path d="M118.2 267.7L121.3 266.5M133.0 290.3L134.3 289.4" fill="none" stroke="#50606a" stroke-width="0.45" opacity="0.45"/>
<path fill="#84d0f2" stroke="#84d0f2" d="M46.0 238.3l1 .4l1.1 .4l1 .3l1 .3l1.1 .2l1 .1l1 .2l1.1 .1l1 .1l1 .2l1 .2l1.1 .1l1 .2l1 .2l1 .1l1.1 .1l1 .1l1 .2l1 .1l3.9-.7l-1.1-.1l-1-.1l-1-.1l-1-.1l-1.1-.1l-1-.2l-1-.2l-1-.1l-1.1-.2l-1-.2l-1-.1l-1-.1l-1.1-.1l-1-.2l-1-.2l-1-.2l-1.1-.4l-1-.3l-1-.4z"/>
<path fill="#d0d0eb" stroke="#d0d0eb" d="M65.5 241.9l1.1 0l1 .1l1 .1l1 0l1.1 .1l1 .1l1 .1l1.1 .3l1 .6l3.8-.7l-1-.5l-1.1-.3l-1-.2l-1-.1l-1 0l-1.1-.1l-1 0l-1-.1l-1-.1z"/>
<path fill="#84d0f2" stroke="#84d0f2" d="M74.8 243.3l1 .7l1.1 .7l1 .5l1 .3l1.1 0l1-.2l1-.3l1-.2l3.8-.6l-1 .2l-1 .3l-1.1 .2l-1 0l-1-.3l-1-.6l-1.1-.7l-1-.7z"/>
<path fill="#d0d0eb" stroke="#d0d0eb" d="M83.0 244.8l1 0l1.1 .2l1 .5l3.8-.7l-1-.5l-1.1-.2l-1 .1z"/>
<path fill="#84d0f2" stroke="#84d0f2" d="M86.1 245.5l1 .8l1.1 1l1 1.3l1 1.2l1.1 .9l1 .2l1-.3l1-.7l1.1-1l1-1.1l1-.7l3.8-.4l-1.1 .7l-1 1l-1 1l-1 .7l-1 .3l-1.1-.3l-1-.8l-1-1.3l-1.1-1.3l-1-1.1l-1-.8z"/>
<path fill="#d0d0eb" stroke="#d0d0eb" d="M97.4 247.1l1 .4l3.8-.4l-1-.4z"/>
<path fill="#84d0f2" stroke="#84d0f2" d="M98.4 247.5l1.1 1.4l1 2.3l1 2.8l3.8-.1l-1.1-2.9l-1-2.4l-1-1.5z"/>
<path fill="#c9d0f2" stroke="#c9d0f2" d="M101.5 254.0l1.1 2.9l1 2.2l3.7 .3l-1-2.5l-1-3z"/>
<path fill="#b4d7f2" stroke="#b4d7f2" d="M103.6 259.1l1 1.2l1 .4l1.1-.3l1-.6l1-.7l1-.3l3.7 .9l-1 .4l-1 .7l-1 .6l-1.1 .2l-1-.6l-1-1.6z"/>
<path fill="#c9d0f2" stroke="#c9d0f2" d="M109.7 258.8l1.1 .2l3.7 .9l-1.1-.2z"/>
<path fill="#b4d7f2" stroke="#b4d7f2" d="M110.8 259.0l1 1l1 1.7l3.7 .8l-1-1.6l-1-1z"/>
<path fill="#99e4f2" stroke="#99e4f2" d="M112.8 261.7l1 2.5l1 3.2l3.7 1.1l-1-3.4l-1-2.6z"/>
<path fill="#a0dde4" stroke="#a0dde4" d="M114.8 267.4l1 3.2l1 2l1 1l1.1 .4l1 .3l1 .3l1 .5l1 .8l3.6 2.3l-1-.8l-1-.4l-1-.2l-1-.4l-1-.7l-1-1.4l-1-2.4l-1-3.4z"/>
<path fill="#b4ddd7" stroke="#b4ddd7" d="M122.9 275.9l1 1.5l1 2.1l1 2.3l1 2.5l1 2.8l3.6 2.2l-1-2.7l-1-2.6l-1-2.3l-1-2l-1-1.5z"/>
<path d="M117.1 268.1L118.2 267.7M115.3 268.9L117.1 268.1" fill="none" stroke="#50606a" stroke-width="0.45" opacity="0.45"/>
<path fill="#d0d0eb" stroke="#d0d0eb" d="M42.1 238.8l1.1 .4l3.8-.5l-1-.4z"/>
<path fill="#84d0f2" stroke="#84d0f2" d="M43.2 239.2l1 .4l1.1 .4l1 .3l1 .2l1 .1l1.1 .1l1 .2l1 .1l1.1 .2l1 .1l1 .2l1.1 .2l1 .2l1 .1l1 .2l1.1 .1l1 .1l3.8-.6l-1-.2l-1-.1l-1.1-.1l-1-.1l-1-.2l-1-.2l-1.1-.1l-1-.2l-1-.2l-1-.1l-1.1-.1l-1-.2l-1-.1l-1.1-.2l-1-.3l-1-.3l-1.1-.4z"/>
<path fill="#d0d0eb" stroke="#d0d0eb" d="M60.7 242.4l1 .1l1.1 .1l1 0l1 .1l1 .1l1.1 0l1 .1l1 .1l1.1 .4l1 .5l1 .6l3.8-.5l-1-.7l-1-.6l-1.1-.3l-1-.1l-1-.1l-1.1-.1l-1 0l-1-.1l-1-.1l-1.1 0l-1-.1z"/>
<path fill="#84d0f2" stroke="#84d0f2" d="M72.0 244.5l1.1 .7l1 .4l1 .3l1.1 0l1-.1l1-.2l3.8-.6l-1 .3l-1 .2l-1.1 0l-1-.3l-1-.5l-1.1-.7z"/>
<path fill="#d0d0eb" stroke="#d0d0eb" d="M78.2 245.6l1-.2l1.1 0l1 .2l1 .5l3.8-.6l-1-.5l-1.1-.2l-1 0l-1 .2z"/>
<path fill="#84d0f2" stroke="#84d0f2" d="M82.3 246.1l1.1 .7l1 1l1 1.1l1.1 1.2l1 .8l1 .2l1.1-.3l1-.6l1-1.1l1-1.1l3.8-.2l-1 1.1l-1.1 1l-1 .7l-1 .3l-1-.2l-1.1-.9l-1-1.2l-1-1.3l-1.1-1l-1-.8z"/>
<path fill="#d0d0eb" stroke="#d0d0eb" d="M92.6 248.0l1.1-.6l1 .3l3.7-.2l-1-.4l-1 .7z"/>
<path fill="#84d0f2" stroke="#84d0f2" d="M94.7 247.7l1 1.3l1.1 2.1l1 2.6l3.7 .3l-1-2.8l-1-2.3l-1.1-1.4z"/>
<path fill="#c9d0f2" stroke="#c9d0f2" d="M97.8 253.7l1 2.7l1.1 2.1l3.7 .6l-1-2.2l-1.1-2.9z"/>
<path fill="#b4d7f2" stroke="#b4d7f2" d="M99.9 258.5l1 1.3l1 .5l1.1-.3l3.7 .4l-1.1 .3l-1-.4l-1-1.2z"/>
<path fill="#c9d0f2" stroke="#c9d0f2" d="M103.0 260.0l1-.6l1-.7l1-.4l1.1 .2l1 1l1 1.8l3.7 .4l-1-1.7l-1-1l-1.1-.2l-1 .3l-1 .7l-1 .6z"/>
<path fill="#b4d7f2" stroke="#b4d7f2" d="M109.1 261.3l1 2.4l3.7 .5l-1-2.5z"/>
<path fill="#99e4f2" stroke="#99e4f2" d="M110.1 263.7l1 2.8l1.1 2.3l1 1.6l3.6 2.2l-1-2l-1-3.2l-1-3.2z"/>
<path fill="#a0dde4" stroke="#a0dde4" d="M113.2 270.4l1 .8l1 .5l1 .5l1.1 .4l1 .6l1 .9l1 1.5l1 1.9l3.6 2l-1-2.1l-1-1.5l-1-.8l-1-.5l-1-.3l-1-.3l-1.1-.4l-1-1z"/>
<path fill="#b4ddd7" stroke="#b4ddd7" d="M121.3 277.5l1 2.1l1 2.3l1 2.6l3.6 2.6l-1-2.8l-1-2.5l-1-2.3z"/>
<path d="M113.7 269.6L115.3 268.9M113.1 270.3L113.7 269.6" fill="none" stroke="#50606a" stroke-width="0.45" opacity="0.45"/>
<path fill="#d0d0eb" stroke="#d0d0eb" d="M38.3 239.3l1 .5l3.9-.6l-1.1-.4z"/>
<path fill="#84d0f2" stroke="#84d0f2" d="M39.3 239.8l1.1 .4l1 .3l1 .3l1.1 .2l1 .2l1 .1l1.1 .1l1 .2l1 .1l1.1 .2l1 .2l1 .2l1 .2l1.1 .1l1 .2l1 .1l3.9-.6l-1.1-.1l-1-.2l-1-.1l-1-.2l-1.1-.2l-1-.2l-1-.1l-1.1-.2l-1-.1l-1-.2l-1.1-.1l-1-.1l-1-.2l-1-.3l-1.1-.4l-1-.4z"/>
<path fill="#d0d0eb" stroke="#d0d0eb" d="M55.8 242.9l1.1 .1l1 .1l1 .1l1.1 .1l1 0l1 .1l1.1 0l1 .1l1 .2l1 .3l1.1 .5l1 .6l3.8-.6l-1-.6l-1-.5l-1.1-.4l-1-.1l-1-.1l-1.1 0l-1-.1l-1-.1l-1 0l-1.1-.1l-1-.1l-1-.1z"/>
<path fill="#84d0f2" stroke="#84d0f2" d="M68.2 245.1l1.1 .6l1 .4l1 .2l1.1 0l1-.1l1-.1l3.8-.5l-1 .2l-1 .1l-1.1 0l-1-.3l-1-.4l-1.1-.7z"/>
<path fill="#d0d0eb" stroke="#d0d0eb" d="M74.4 246.1l1-.1l1.1 0l1 .2l1 .5l1.1 .7l3.8-.6l-1.1-.7l-1-.5l-1-.2l-1.1 0l-1 .2z"/>
<path fill="#84d0f2" stroke="#84d0f2" d="M79.6 247.4l1 .8l1.1 1.1l1 1.1l1.1 .8l1 .2l1-.3l1-.7l1.1-1l1-1.1l3.7-.3l-1 1.1l-1 1.1l-1 .6l-1.1 .3l-1-.2l-1-.8l-1.1-1.2l-1-1.1l-1-1z"/>
<path fill="#d0d0eb" stroke="#d0d0eb" d="M88.9 248.3l1-.6l1 .2l1.1 1.1l3.7 0l-1-1.3l-1-.3l-1.1 .6z"/>
<path fill="#84d0f2" stroke="#84d0f2" d="M92.0 249.0l1 1.9l1.1 2.4l3.7 .4l-1-2.6l-1.1-2.1z"/>
<path fill="#a0d0f2" stroke="#a0d0f2" d="M94.1 253.3l1 2.5l3.7 .6l-1-2.7z"/>
<path fill="#c9d0f2" stroke="#c9d0f2" d="M95.1 255.8l1 2.2l1.1 1.4l1 .5l1-.3l1.1-.7l1-.7l1-.4l1 .2l1.1 1.1l1 1.8l3.7 .4l-1-1.8l-1-1l-1.1-.2l-1 .4l-1 .7l-1 .6l-1.1 .3l-1-.5l-1-1.3l-1.1-2.1z"/>
<path fill="#b4d7f2" stroke="#b4d7f2" d="M105.4 260.9l1 2.4l1.1 2.2l3.6 1l-1-2.8l-1-2.4z"/>
<path fill="#99e4f2" stroke="#99e4f2" d="M107.5 265.5l1 1.6l1 .9l1 .7l1.1 .7l1 .6l1 .6l1 .7l1 1l3.7 1.8l-1-.9l-1-.6l-1.1-.4l-1-.5l-1-.5l-1-.8l-1-1.6l-1.1-2.3z"/>
<path fill="#a0dde4" stroke="#a0dde4" d="M115.6 272.3l1.1 1.4l1 1.7l1 1.9l1 2.2l3.6 2.4l-1-2.3l-1-2.1l-1-1.9l-1-1.5z"/>
<path fill="#b4ddd7" stroke="#b4ddd7" d="M119.7 279.5l1 2.4l3.6 2.6l-1-2.6z"/>
<path d="M113.1 270.3L113.1 270.3M113.5 270.7L113.1 270.3M114.1 271.0L113.5 270.7M114.8 271.3L114.1 271.0M115.5 271.7L114.8 271.3M116.0 272.0L115.5 271.7M116.1 272.5L116.0 272.0M116.0 272.7L116.1 272.5" fill="none" stroke="#50606a" stroke-width="0.45" opacity="0.45"/>
</g>
<path d="M38.2 237.0L41.7 337.2" stroke="#888" stroke-width="0.8"/>
<defs><linearGradient id="cb0" x1="0" y1="0" x2="0" y2="1"><stop offset="0.010" stop-color="#c8c8e8"/><stop offset="0.044" stop-color="#70c8f0"/><stop offset="0.075" stop-color="#90c8f0"/><stop offset="0.101" stop-color="#c0c8f0"/><stop offset="0.132" stop-color="#a8d0f0"/><stop offset="0.175" stop-color="#88e0f0"/><stop offset="0.235" stop-color="#90d8e0"/><stop offset="0.326" stop-color="#a8d8d0"/><stop offset="0.401" stop-color="#b8d890"/><stop offset="0.438" stop-color="#e8f0c0"/><stop offset="0.488" stop-color="#f8f0a0"/><stop offset="0.541" stop-color="#fce8c8"/><stop offset="0.584" stop-color="#fcc0a8"/><stop offset="0.676" stop-color="#f4a8b0"/><stop offset="0.769" stop-color="#ecc0c8"/><stop offset="0.818" stop-color="#e8d0e8"/><stop offset="0.900" stop-color="#d4d0ec"/><stop offset="0.960" stop-color="#d0c0f4"/></linearGradient></defs>
<rect x="189.6" y="235.5" width="17.5" height="93.5" fill="url(#cb0)"/>
<rect x="189.6" y="329.0" width="17.5" height="3.3" fill="#111"/>
<g font-family='"Liberation Sans", sans-serif' font-weight="bold" font-size="6.9" fill="#111">
<text x="209.4" y="238.9">0.000</text>
<text x="209.4" y="257.6">-2.000</text>
<text x="209.4" y="276.3">-4.000</text>
<text x="209.4" y="295.1">-6.000</text>
<text x="209.4" y="313.8">-8.000</text>
<text x="209.4" y="332.5">-10.00</text>
</g>
<g font-family='"Liberation Sans", sans-serif' font-weight="bold" font-size="6" fill="#222" text-anchor="end">
<text x="35.7" y="239.7">0</text>
<text x="36.4" y="258.3">-2</text>
<text x="37.0" y="276.8">-4</text>
<text x="37.7" y="295.3">-6</text>
<text x="38.3" y="313.8">-8</text>
<text x="39.0" y="332.3">-10</text>
</g>
<text transform="translate(21.6 292.0) rotate(90)" font-family='"Liberation Sans", sans-serif' font-weight="bold" font-size="8.6" text-anchor="middle" fill="#111">Reflection loss (dB)</text>
<text x="5.7" y="225.9" font-family='"Liberation Sans", sans-serif' font-weight="bold" font-size="19.3" fill="#111">(d)</text>
<g font-family='"Liberation Sans", sans-serif' font-weight="bold" font-size="5.2" fill="#444" text-anchor="middle">
<text transform="matrix(0.942 0.336 -0.400 0.620 36.6 340.6)">2</text>
<text transform="matrix(0.942 0.336 -0.400 0.620 46.4 344.1)">4</text>
<text transform="matrix(0.942 0.336 -0.400 0.620 56.2 347.6)">6</text>
<text transform="matrix(0.942 0.336 -0.400 0.620 66.0 351.1)">8</text>
<text transform="matrix(0.942 0.336 -0.400 0.620 75.8 354.6)">10</text>
<text transform="matrix(0.942 0.336 -0.400 0.620 85.6 358.1)">12</text>
<text transform="matrix(0.942 0.336 -0.400 0.620 95.4 361.6)">14</text>
<text transform="matrix(0.942 0.336 -0.400 0.620 105.2 365.1)">16</text>
<text transform="matrix(0.942 0.336 -0.400 0.620 115.1 368.6)">18</text>
<text transform="matrix(0.889 -0.457 0.400 0.620 127.3 369.2)">1.6</text>
<text transform="matrix(0.889 -0.457 0.400 0.620 141.2 362.1)">1.8</text>
<text transform="matrix(0.889 -0.457 0.400 0.620 155.1 354.9)">2.0</text>
<text transform="matrix(0.889 -0.457 0.400 0.620 169.0 347.8)">2.2</text>
<text transform="matrix(0.889 -0.457 0.400 0.620 182.9 340.6)">2.4</text>
</g>
<text transform="matrix(0.942 0.336 -0.400 0.620 66.9 358.5)" font-family='"Liberation Sans", sans-serif' font-weight="bold" font-size="6.9" text-anchor="middle" fill="#3a3a3a">Frequency (GHz)</text>
<text transform="matrix(0.889 -0.457 0.400 0.620 169.4 357.5)" font-family='"Liberation Sans", sans-serif' font-weight="bold" font-size="6.3" text-anchor="middle" fill="#3a3a3a">Thickness (mm)</text>
<path d="M288.4 337.2L354.7 312.2L354.5 226.4L284.9 237.0Z" fill="#fff" stroke="#b8b8b8" stroke-width="0.8"/>
<path d="M354.7 312.2L429.5 333.0L434.0 234.4L354.5 226.4Z" fill="#fff" stroke="#b8b8b8" stroke-width="0.8"/>
<path d="M285.0 238.7L354.5 227.9L433.9 236.1 M285.7 261.2L354.5 247.2L432.9 258.3 M286.5 283.8L354.6 266.5L431.9 280.4 M287.3 306.3L354.6 285.8L430.9 302.6 M288.1 328.9L354.7 305.1L429.9 324.8 M303.1 331.6L300.4 234.6 M317.9 326.1L315.8 232.3 M332.6 320.5L331.3 229.9 M347.3 315.0L346.8 227.6 M364.1 314.8L364.4 227.4 M373.4 317.4L374.4 228.4 M382.7 320.0L384.3 229.4 M392.1 322.6L394.2 230.4 M401.4 325.2L404.2 231.4 M410.8 327.8L414.1 232.4 M420.1 330.4L424.1 233.4" fill="none" stroke="#e8e8e8" stroke-width="0.6"/>
<g stroke-width="0.5">
<path fill="#d0d0eb" stroke="#d0d0eb" d="M288.4 337.2l25.5 9.1l3.6-1.5l-25.4-9zM292.1 335.8l24.5 8.6l3.6-1.5l-24.4-8.5zM295.8 334.4l23.4 8.2l3.6-1.5l-23.4-8.1zM299.4 333.0l22.4 7.7l3.7-1.5l-22.4-7.6zM303.1 331.6l21.4 7.3l3.6-1.5l-21.3-7.1zM306.8 330.3l20.4 6.8l3.6-1.5l-20.3-6.7zM310.5 328.9l19.3 6.4l3.6-1.5l-19.2-6.3zM314.2 327.5l18.3 6l3.6-1.5l-18.2-5.9zM317.9 326.1l16.3 5.3l3.6-1.5l-16.2-5.2zM321.6 324.7l15.3 4.9l3.6-1.5l-15.3-4.8zM325.2 323.3l14.4 4.5l3.6-1.5l-14.3-4.4zM328.9 321.9l14.3 4.4l3.7-1.4l-14.3-4.4zM332.6 320.5l13.3 4.1l3.7-1.5l-13.3-4zM336.3 319.1l12.3 3.7l3.7-1.4l-12.3-3.6zM340.0 317.8l12.3 3.6l3.6-1.5l-12.3-3.5zM343.6 316.4l11.4 3.3l3.6-1.5l-11.3-3.2zM347.3 315.0l10.4 2.9l3.6-1.4l-10.3-2.9zM351.0 313.6l10.3 2.9l3.7-1.4l-10.3-2.9z"/>
<path fill="#84d0f2" stroke="#84d0f2" d="M313.9 346.3l16.7 5.9l3.6-1.6l-16.7-5.8zM316.6 344.4l16.6 5.9l3.6-1.6l-16.6-5.8zM319.2 342.6l15.6 5.4l3.6-1.6l-15.6-5.3zM321.8 340.7l14.6 5.1l3.6-1.6l-14.5-5zM324.5 338.9l13.6 4.6l3.6-1.5l-13.6-4.6zM327.2 337.1l12.5 4.2l3.6-1.6l-12.5-4.1zM329.8 335.3l12.6 4.1l3.6-1.5l-12.6-4.1zM332.5 333.5l12.5 4.1l3.6-1.6l-12.5-4zM334.2 331.4l13.4 4.3l3.7-1.5l-13.5-4.3zM336.9 329.6l12.4 3.9l3.6-1.5l-12.4-3.9zM339.6 327.8l12.4 3.9l3.6-1.5l-12.4-3.9zM343.2 326.3l11.4 3.6l3.7-1.5l-11.4-3.5zM345.9 324.6l11.4 3.5l3.6-1.5l-11.3-3.5zM348.6 322.8l11.4 3.5l3.6-1.5l-11.3-3.4zM352.3 321.4l10.4 3.1l3.6-1.5l-10.4-3.1zM355.0 319.7l10.3 3l3.7-1.5l-10.4-3zM357.7 317.9l10.3 3l3.6-1.5l-10.3-2.9zM361.3 316.5l9.4 2.7l3.6-1.5l-9.3-2.6z"/>
<path fill="#a0d0f2" stroke="#a0d0f2" d="M330.6 352.2l2 .8l3.5-1.7l-1.9-.7zM333.2 350.3l1.9 .7l3.6-1.6l-1.9-.7zM334.8 348.0l2.9 1l3.6-1.6l-2.9-1zM336.4 345.8l3 1l3.5-1.6l-2.9-1zM338.1 343.5l2.9 1l3.6-1.6l-2.9-.9zM339.7 341.3l2.9 1l3.6-1.6l-2.9-1zM342.4 339.4l1.9 .7l3.6-1.6l-1.9-.6zM345.0 337.6l1.9 .6l3.6-1.6l-1.9-.6zM347.6 335.7l2 .6l3.6-1.5l-1.9-.6zM349.3 333.5l2.9 1l3.6-1.6l-2.9-.9zM352.0 331.7l1.9 .6l3.6-1.5l-1.9-.6zM354.6 329.9l2 .6l3.6-1.6l-1.9-.5zM357.3 328.1l1.9 .6l3.6-1.6l-1.9-.5zM360.0 326.3l1.9 .5l3.6-1.5l-1.9-.5zM362.7 324.5l1.8 .5l3.7-1.5l-1.9-.5zM365.3 322.7l1.9 .5l3.6-1.5l-1.8-.5zM368.0 320.9l1.9 .6l3.6-1.6l-1.9-.5zM370.7 319.2l1.9 .5l3.6-1.5l-1.9-.5z"/>
<path fill="#c9d0f2" stroke="#c9d0f2" d="M332.6 352.9l4.9 1.7l3.5-1.6l-4.9-1.8zM335.1 351.0l4 1.4l3.5-1.7l-3.9-1.3zM337.7 349.0l3.9 1.4l3.6-1.6l-3.9-1.4zM339.4 346.8l3.9 1.3l3.5-1.6l-3.9-1.3zM341.0 344.5l3.9 1.3l3.6-1.6l-3.9-1.3zM342.6 342.3l4.9 1.6l3.6-1.6l-4.9-1.6zM344.3 340.1l4.8 1.6l3.6-1.6l-4.8-1.6zM346.9 338.2l4.9 1.6l3.5-1.6l-4.8-1.6zM349.6 336.3l3.8 1.3l3.6-1.6l-3.8-1.2zM352.2 334.5l3.8 1.2l3.6-1.6l-3.8-1.2zM353.9 332.3l4.8 1.5l3.6-1.6l-4.8-1.4zM356.6 330.5l4.7 1.5l3.6-1.6l-4.7-1.5zM359.2 328.7l4.8 1.4l3.6-1.6l-4.8-1.4zM361.9 326.8l4.7 1.5l3.6-1.6l-4.7-1.4zM364.5 325.0l3.8 1.2l3.6-1.6l-3.7-1.1zM367.2 323.2l3.8 1.1l3.6-1.5l-3.8-1.1zM369.9 321.5l3.8 1l3.6-1.5l-3.8-1.1zM421.6 336.3l.9 .3l3.5-1.8l-.9-.3zM372.6 319.7l3.7 1l3.6-1.5l-3.7-1zM401.6 327.9l8.5 2.4l3.5-1.7l-8.4-2.4zM423.2 334.0l2.8 .8l3.5-1.8l-2.8-.8z"/>
<path fill="#b4d7f2" stroke="#b4d7f2" d="M337.5 354.7l.9 .3l3.6-1.6l-1-.3zM339.1 352.4l1.9 .7l3.6-1.7l-2-.7zM341.6 350.4l2 .7l3.6-1.7l-2-.6zM343.3 348.1l1.9 .7l3.6-1.6l-2-.7zM344.9 345.8l2.9 1l3.6-1.6l-2.9-1zM347.5 343.9l1.9 .7l3.6-1.7l-1.9-.6zM349.1 341.7l2.9 .9l3.6-1.6l-2.9-.9zM351.8 339.8l1.9 .6l3.6-1.6l-2-.6zM353.4 337.6l2.9 .9l3.6-1.6l-2.9-.9zM356.0 335.7l2.9 .9l3.6-1.6l-2.9-.9zM358.7 333.8l1.9 .6l3.6-1.6l-1.9-.6zM361.3 332.0l1.9 .5l3.6-1.5l-1.9-.6zM364.0 330.1l1.9 .6l3.6-1.6l-1.9-.6zM366.6 328.3l1 .2l3.6-1.5l-1-.3zM411.2 341.7l.9 .2l3.5-1.7l-1-.3zM368.3 326.2l1.9 .5l3.6-1.5l-1.9-.6zM412.8 339.3l2.8 .9l3.5-1.8l-2.9-.9zM371.0 324.3l1.9 .6l3.6-1.6l-1.9-.5zM395.5 331.5l8.5 2.5l3.5-1.7l-8.5-2.5zM413.4 336.7l5.7 1.7l3.4-1.8l-5.6-1.6zM373.7 322.5l1.8 .6l3.6-1.6l-1.8-.5zM397.2 329.3l12.2 3.5l3.5-1.7l-12.2-3.5zM414.1 334.1l7.5 2.2l3.5-1.8l-7.5-2.1zM376.3 320.7l1.9 .6l3.6-1.6l-1.9-.5zM398.8 327.1l2.8 .8l3.6-1.7l-2.8-.7zM410.1 330.3l13.1 3.7l3.5-1.8l-13.1-3.6z"/>
<path fill="#99e4f2" stroke="#99e4f2" d="M338.4 355.1l3 1.1l3.5-1.7l-2.9-1zM341.0 353.1l3 1l3.5-1.7l-2.9-1zM343.6 351.1l2.9 1l3.6-1.6l-2.9-1.1zM345.2 348.8l2.9 1l3.6-1.7l-2.9-.9zM347.8 346.8l2.9 1l3.6-1.6l-2.9-1zM349.4 344.6l3.9 1.3l3.6-1.7l-3.9-1.3zM352.0 342.6l2.9 1l3.6-1.6l-2.9-1zM353.7 340.4l3.8 1.3l3.6-1.7l-3.8-1.2zM356.3 338.5l3.8 1.2l3.6-1.6l-3.8-1.2zM391.8 350.0l2.9 .9l3.5-1.8l-2.9-.9zM358.9 336.6l3.8 1.2l3.6-1.6l-3.8-1.2zM393.4 347.6l4.8 1.5l3.5-1.8l-4.8-1.5zM360.6 334.4l4.8 1.5l3.5-1.6l-4.7-1.5zM380.7 340.7l4.7 1.5l3.6-1.7l-4.8-1.5zM393.1 344.6l8.6 2.7l3.5-1.8l-8.6-2.6zM363.2 332.5l3.8 1.2l3.6-1.6l-3.8-1.1zM382.3 338.4l22.9 7.1l3.4-1.8l-22.8-6.9zM365.9 330.7l3.8 1.1l3.5-1.5l-3.7-1.2zM384.9 336.5l23.7 7.2l3.5-1.8l-23.7-7.1zM367.6 328.5l4.7 1.5l3.6-1.6l-4.7-1.4zM387.5 334.5l23.7 7.2l3.4-1.8l-23.6-7zM370.2 326.7l3.8 1.1l3.6-1.5l-3.8-1.1zM389.1 332.3l23.7 7l3.4-1.8l-23.5-6.8zM372.9 324.9l3.7 1.1l3.6-1.6l-3.7-1.1zM391.7 330.4l3.8 1.1l3.5-1.7l-3.7-1.1zM404.0 334.0l9.4 2.7l3.5-1.7l-9.4-2.7zM375.5 323.1l3.8 1.1l3.6-1.6l-3.8-1.1zM394.3 328.5l2.9 .8l3.5-1.7l-2.8-.8zM409.4 332.8l4.7 1.3l3.5-1.7l-4.7-1.3zM378.2 321.3l3.8 1l3.6-1.5l-3.8-1.1zM397.0 326.6l1.8 .5l3.6-1.6l-1.9-.6z"/>
<path fill="#a0dde4" stroke="#a0dde4" d="M341.4 356.1l4.9 1.7l3.5-1.6l-4.9-1.8zM344.0 354.1l2.9 1l3.5-1.6l-2.9-1.1zM346.5 352.1l3 1l3.5-1.6l-2.9-1zM348.1 349.8l2.9 1l3.6-1.7l-2.9-1zM350.7 347.8l2.9 1l3.6-1.6l-2.9-1zM353.3 345.9l1.9 .6l3.6-1.6l-1.9-.7zM382.4 355.6l1.9 .7l3.5-1.8l-2-.7zM354.9 343.6l2.9 .9l3.6-1.6l-2.9-.9zM368.4 348.1l2 .6l3.5-1.7l-1.9-.6zM382.9 352.9l4.9 1.6l3.4-1.8l-4.8-1.6zM357.5 341.7l2 .6l3.5-1.6l-1.9-.7zM371.0 346.1l2.9 .9l3.5-1.7l-2.9-.9zM382.6 349.8l8.6 2.9l3.5-1.8l-8.6-2.8zM360.1 339.7l2 .6l3.5-1.6l-1.9-.6zM372.6 343.8l19.2 6.2l3.5-1.8l-19.1-6.1zM362.7 337.8l2 .6l3.5-1.6l-1.9-.6zM375.2 341.8l18.2 5.8l3.5-1.8l-18.2-5.7zM365.4 335.9l1.9 .6l3.5-1.6l-1.9-.6zM376.8 339.5l3.9 1.2l3.5-1.7l-3.8-1.1zM385.4 342.2l7.7 2.4l3.5-1.7l-7.6-2.4zM367.0 333.7l2.9 .9l3.6-1.6l-2.9-.9zM379.4 337.6l2.9 .8l3.5-1.6l-2.8-.9zM369.7 331.8l2.8 .9l3.6-1.6l-2.9-.8zM382.0 335.6l2.9 .9l3.5-1.7l-2.8-.8zM372.3 330.0l2.8 .8l3.6-1.6l-2.8-.8zM384.6 333.7l2.9 .8l3.5-1.6l-2.8-.9zM374.0 327.8l3.8 1.2l3.6-1.6l-3.8-1.1zM387.2 331.8l1.9 .5l3.6-1.6l-1.9-.6zM376.6 326.0l2.9 .8l3.6-1.6l-2.9-.8zM390.8 330.1l.9 .3l3.6-1.7l-1-.2zM379.3 324.2l2.8 .8l3.6-1.6l-2.8-.8zM393.4 328.2l.9 .3l3.6-1.7l-.9-.2zM382.0 322.3l2.8 .8l3.6-1.5l-2.8-.8zM396.0 326.3l1 .3l3.5-1.7l-.9-.2z"/>
<path fill="#b4ddd7" stroke="#b4ddd7" d="M346.3 357.9l10.8 3.9l3.5-1.7l-10.8-3.8zM346.9 355.1l12.7 4.5l3.5-1.7l-12.7-4.4zM349.5 353.1l12.6 4.4l3.6-1.7l-12.7-4.3zM370.9 360.6l3 1l3.4-1.8l-2.9-1zM351.0 350.8l17.6 6l3.5-1.7l-17.5-6zM370.5 357.5l6.8 2.3l3.5-1.8l-6.8-2.3zM353.6 348.8l2.9 1l3.6-1.7l-2.9-.9zM360.4 351.1l20.4 6.9l3.5-1.7l-20.3-6.9zM355.2 346.5l2 .7l3.5-1.7l-1.9-.6zM363.0 349.1l19.4 6.5l3.4-1.8l-19.3-6.4zM357.8 344.5l2 .7l3.5-1.7l-1.9-.6zM365.6 347.1l2.8 1l3.6-1.7l-2.9-1zM370.4 348.7l12.5 4.2l3.5-1.8l-12.5-4.1zM359.5 342.3l2.8 .9l3.6-1.6l-2.9-.9zM367.2 344.8l3.8 1.3l3.5-1.7l-3.8-1.3zM373.9 347.0l8.7 2.8l3.5-1.7l-8.7-2.8zM362.1 340.3l1.9 .7l3.5-1.7l-1.9-.6zM369.7 342.8l2.9 1l3.6-1.7l-2.9-.9zM364.7 338.4l1.9 .6l3.5-1.6l-1.9-.6zM372.3 340.9l2.9 .9l3.5-1.7l-2.8-.9zM367.3 336.5l2.8 .9l3.6-1.6l-2.9-.9zM374.9 338.9l1.9 .6l3.6-1.6l-1.9-.6zM369.9 334.6l2.9 .9l3.5-1.6l-2.8-.9zM377.5 337.0l1.9 .6l3.6-1.7l-1.9-.6zM372.5 332.7l2.9 .9l3.5-1.6l-2.8-.9zM380.1 335.0l1.9 .6l3.6-1.6l-1.9-.6zM375.1 330.8l2.9 .9l3.6-1.6l-2.9-.9zM383.7 333.4l.9 .3l3.6-1.7l-1-.2zM377.8 329.0l2.8 .8l3.6-1.6l-2.8-.8zM386.3 331.5l.9 .3l3.6-1.7l-1-.3zM379.5 326.8l3.7 1.1l3.6-1.6l-3.7-1.1zM388.9 329.6l1.9 .5l3.5-1.6l-1.8-.6zM382.1 325.0l2.8 .8l3.6-1.6l-2.8-.8zM391.5 327.7l1.9 .5l3.6-1.6l-1.9-.6zM384.8 323.1l2.8 .8l3.6-1.6l-2.8-.7zM394.1 325.8l1.9 .5l3.6-1.6l-1.9-.5z"/>
<path fill="#c2dda0" stroke="#c2dda0" d="M357.1 361.7l1.9 .7l3.5-1.7l-1.9-.7zM359.6 359.6l1 .4l3.5-1.8l-1-.3zM368.4 362.7l2 .7l3.5-1.8l-2-.7zM362.1 357.5l3 1.1l3.5-1.8l-2.9-1zM369.0 359.9l1.9 .7l3.5-1.8l-1.9-.6zM368.6 356.8l1.9 .7l3.5-1.8l-1.9-.6zM358.5 350.5l1.9 .6l3.6-1.7l-2-.6zM357.2 347.2l.9 .3l3.6-1.7l-1-.3zM362.0 348.8l1 .3l3.5-1.7l-.9-.3zM364.6 346.8l1 .3l3.5-1.7l-1-.3zM364.0 341.0l.9 .3l3.6-1.7l-1-.3zM366.6 339.0l.9 .3l3.6-1.6l-1-.3zM378.0 331.7l.9 .3l3.6-1.6l-.9-.3zM382.7 333.1l1 .3l3.5-1.6l-.9-.3zM388.0 329.3l.9 .3l3.6-1.7l-1-.2zM384.9 325.8l1 .2l3.6-1.5l-1-.3zM390.6 327.4l.9 .3l3.6-1.7l-1-.2zM393.2 325.5l.9 .3l3.6-1.6l-.9-.3z"/>
<path fill="#ebf2c9" stroke="#ebf2c9" d="M359.1 362.4l2 .7l3.5-1.8l-2-.6zM365.9 364.9l1 .4l3.5-1.8l-1-.3zM360.6 360.0l7.8 2.7l3.5-1.8l-7.8-2.7zM365.1 358.6l3.9 1.3l3.5-1.7l-3.9-1.4zM356.5 349.8l2 .7l3.5-1.7l-1.9-.7zM361.0 348.5l1 .3l3.6-1.7l-1-.3zM359.8 345.2l.9 .3l3.6-1.6l-1-.4zM362.3 343.2l1 .3l3.6-1.6l-1-.3zM366.2 344.5l1 .3l3.5-1.7l-1-.3zM364.9 341.3l1 .3l3.6-1.6l-1-.4zM368.8 342.5l.9 .3l3.6-1.6l-1-.3zM367.5 339.3l1 .3l3.6-1.6l-1-.3zM371.4 340.6l.9 .3l3.6-1.7l-1-.3zM370.1 337.4l1 .3l3.6-1.6l-1-.3zM374.0 338.6l.9 .3l3.6-1.6l-1-.3zM372.8 335.5l.9 .3l3.6-1.6l-1-.3zM375.4 333.6l.9 .3l3.6-1.6l-1-.3zM380.6 329.8l1 .3l3.5-1.6l-.9-.3zM385.3 331.2l1 .3l3.5-1.7l-.9-.2zM387.6 323.9l.9 .3l3.6-1.6l-.9-.3z"/>
<path fill="#f9f2ad" stroke="#f9f2ad" d="M361.0 363.1l4.9 1.7l3.5-1.7l-4.9-1.8zM358.1 347.5l1 .3l3.6-1.7l-1-.3zM363.6 346.5l1 .3l3.5-1.7l-.9-.3zM367.8 342.2l1 .3l3.5-1.6l-.9-.3zM373.7 335.8l1 .3l3.5-1.6l-.9-.3zM376.6 336.7l.9 .3l3.6-1.7l-1-.3zM376.3 333.9l1 .3l3.5-1.7l-.9-.2zM379.2 334.7l.9 .3l3.6-1.6l-1-.3zM378.9 332.0l1 .3l3.5-1.7l-.9-.2zM383.2 327.9l1 .3l3.6-1.6l-1-.3zM385.9 326.0l.9 .3l3.6-1.6l-.9-.2zM389.6 327.1l1 .3l3.5-1.6l-.9-.3zM392.3 325.2l.9 .3l3.6-1.6l-1-.3z"/>
<path fill="#fcebd0" stroke="#fcebd0" d="M359.1 347.8l1.9 .7l3.6-1.7l-1.9-.7zM360.7 345.5l1 .3l3.5-1.6l-.9-.3zM363.3 343.5l2.9 1l3.5-1.7l-2.8-.9zM365.9 341.6l1.9 .6l3.6-1.6l-1.9-.6zM368.5 339.6l1 .4l3.5-1.7l-.9-.3zM370.4 340.3l1 .3l3.5-1.7l-.9-.3zM371.1 337.7l1 .3l3.5-1.6l-.9-.3zM373.0 338.3l1 .3l3.5-1.6l-.9-.3zM374.7 336.1l1.9 .6l3.5-1.7l-1.9-.5zM381.8 332.8l.9 .3l3.6-1.6l-1-.3zM381.6 330.1l.9 .3l3.6-1.7l-1-.2zM384.2 328.2l.9 .3l3.6-1.6l-.9-.3zM387.0 329.0l1 .3l3.5-1.6l-.9-.3zM388.5 324.2l1 .3l3.5-1.6l-.9-.3z"/>
<path fill="#fcc9b4" stroke="#fcc9b4" d="M362.7 346.1l.9 .4l3.6-1.7l-1-.3zM369.5 339.9l.9 .3l3.6-1.7l-1-.3zM372.1 338.0l.9 .3l3.6-1.6l-1-.3zM377.3 334.2l1.9 .5l3.5-1.6l-1.9-.6zM386.8 326.3l1 .3l3.5-1.6l-.9-.3zM391.3 325.0l1 .2l3.5-1.6l-.9-.2z"/>
<path fill="#f6b4bb" stroke="#f6b4bb" d="M361.7 345.8l1 .3l3.5-1.6l-1-.3zM379.9 332.3l1.9 .5l3.5-1.6l-1.9-.6zM382.5 330.4l2.8 .8l3.6-1.6l-2.8-.9zM385.1 328.5l1.9 .5l3.6-1.6l-1.9-.5zM387.8 326.6l1.8 .5l3.6-1.6l-1.9-.5zM389.5 324.5l1.8 .5l3.6-1.6l-1.9-.5z"/>
</g>
<path d="M345.9 355.6L346.8 355.1M343.7 356.9L345.9 355.6M362.6 363.7L364.1 363.2M364.7 363.8L364.1 363.2M365.2 364.3L364.7 363.8M365.3 364.6L365.2 364.3M347.5 354.0L348.8 352.9M346.8 355.1L347.5 354.0M350.5 351.0L350.8 350.7M349.2 352.4L350.5 351.0M348.8 352.9L349.2 352.4M352.0 349.6L352.9 348.6M350.8 350.7L352.0 349.6M355.1 346.6L355.2 346.5M353.4 348.1L355.1 346.6M352.9 348.6L353.4 348.1M360.1 348.9L360.1 348.2M361.6 348.6L360.1 348.9M357.1 344.9L357.5 344.5M355.2 346.5L357.1 344.9M360.4 346.4L361.2 345.7M359.9 347.4L360.4 346.4M362.3 346.3L362.5 346.1M360.2 348.1L359.9 347.4M362.9 346.2L362.3 346.3M360.1 348.2L363.4 347.4M364.5 346.7L360.2 348.1M361.6 348.6L363.4 347.4M386.1 354.5L386.1 353.9M386.2 355.3L386.1 354.5M358.5 343.5L359.8 342.4M357.5 344.5L358.5 343.5M362.3 344.8L363.5 343.6M361.2 345.7L362.3 344.8M362.5 346.1L363.1 345.9M366.4 345.2L366.6 344.6M362.9 346.2L363.1 345.9M364.5 346.7L366.4 345.2M386.8 351.7L386.9 351.3M386.6 352.6L386.8 351.7M386.2 353.6L386.6 352.6M386.1 353.9L386.2 353.6M360.2 341.9L362.1 340.4M359.8 342.4L360.2 341.9M364.3 343.1L366.0 341.6M363.5 343.6L364.3 343.1M368.1 343.6L369.3 342.7M366.6 344.6L368.1 343.6M387.5 349.0L387.5 348.6M387.4 349.8L387.5 349.0M387.1 350.8L387.4 349.8M386.9 351.3L387.1 350.8M363.8 338.8L364.4 338.3M362.1 340.3L363.8 338.8M362.1 340.4L362.1 340.3M366.8 341.2L368.9 339.8M366.0 341.6L366.8 341.2M370.6 341.6L372.1 340.8M369.3 342.7L370.6 341.6M377.0 342.5L377.0 342.4M377.5 343.0L377.0 342.5M377.7 343.6L377.5 343.0M378.2 344.2L377.7 343.6M379.0 344.6L378.2 344.2M379.8 344.9L379.0 344.6M381.2 345.0L379.8 344.9M383.1 344.9L381.2 345.0M384.4 344.7L383.1 344.9M387.4 345.9L387.2 345.6M387.7 346.5L387.4 345.9M387.8 347.3L387.7 346.5M387.7 348.1L387.8 347.3M387.5 348.6L387.7 348.1M365.7 337.2L366.8 336.4M364.4 338.3L365.7 337.2M369.9 339.0L371.6 337.9M368.9 339.8L369.9 339.0M373.4 339.6L374.6 338.8M372.1 340.8L373.4 339.6M378.0 340.5L378.4 340.0M377.4 341.5L378.0 340.5M377.0 342.4L377.4 341.5M384.4 344.7L385.4 344.5M386.6 344.7L385.4 344.5M387.1 345.3L386.6 344.7M387.2 345.6L387.1 345.3M368.0 335.5L369.2 334.4M366.8 336.4L368.0 335.5M373.2 336.8L374.3 336.0M371.6 337.9L373.2 336.8M376.3 337.5L377.1 336.8M374.6 338.8L376.3 337.5M380.5 338.5L381.1 338.1M378.4 340.0L380.5 338.5M370.1 333.8L371.8 332.5M369.2 334.4L370.1 333.8M376.1 334.7L377.0 334.1M374.3 336.0L376.1 334.7M379.9 335.1L380.1 335.0M377.1 336.8L379.9 335.1M383.0 336.6L383.7 336.1M381.1 338.1L383.0 336.6M372.5 332.0L374.4 330.6M371.8 332.5L372.5 332.0M379.0 332.6L379.7 332.2M377.0 334.1L379.0 332.6M380.1 335.0L383.1 333.2M385.2 334.9L386.2 334.1M383.7 336.1L385.2 334.9M375.4 330.0L377.2 328.8M374.4 330.6L375.4 330.0M381.9 330.6L382.4 330.3M379.7 332.2L381.9 330.6M382.3 331.9L383.7 330.7M385.1 331.1L382.3 331.9M384.2 332.5L385.9 331.4M383.1 333.2L384.2 332.5M387.3 333.1L388.6 332.2M386.2 334.1L387.3 333.1M379.1 327.0L379.3 326.8M377.7 328.3L379.1 327.0M377.2 328.8L377.7 328.3M383.6 329.1L384.6 328.3M382.4 330.3L383.6 329.1M385.5 329.7L386.4 328.9M383.7 330.7L386.2 330.1M387.3 329.1L385.5 329.7M387.4 330.2L388.3 329.4M385.1 331.1L386.2 330.1M385.9 331.4L387.4 330.2M390.1 331.1L391.4 330.3M388.6 332.2L390.1 331.1M380.6 325.7L381.6 324.8M379.3 326.8L380.6 325.7M385.3 327.7L386.9 326.3M384.6 328.3L385.3 327.7M386.4 328.9L387.8 328.7M389.2 328.7L390.7 327.4M387.3 329.1L387.8 328.7M388.3 329.4L389.2 328.7M393.4 328.9L394.1 328.4M391.4 330.3L393.4 328.9M382.3 324.2L384.0 322.9M381.6 324.8L382.3 324.2M388.5 324.9L389.1 324.4M387.0 326.2L388.5 324.9M386.9 326.3L387.0 326.2M393.2 325.5L393.2 325.5M391.0 327.2L393.2 325.5M390.7 327.4L391.0 327.2M396.4 326.8L396.8 326.5M394.1 328.4L396.4 326.8M386.3 321.1L386.4 321.0M384.2 322.7L386.3 321.1M384.0 322.9L384.2 322.7M390.1 323.5L391.4 322.4M389.1 324.4L390.1 323.5M395.8 323.6L395.8 323.6M393.2 325.5L395.8 323.6M399.3 324.8L399.5 324.7M396.8 326.5L399.3 324.8" fill="none" stroke="#50606a" stroke-width="0.45" opacity="0.45"/>
<g stroke-width="0.5">
<path fill="#d0d0eb" stroke="#d0d0eb" d="M350.6 228.7l1 .2l1 .1l1 .2l1 .2l1 .3l1 .2l1 .3l1 .2l1 .3l1 .3l1 .3l3.8-.5l-1-.3l-1-.3l-1-.3l-.9-.3l-1-.2l-1-.3l-1-.2l-1-.2l-1-.2l-1-.2l-1-.1z"/>
<path fill="#84d0f2" stroke="#84d0f2" d="M361.6 231.3l1 .4l1 .3l1 .4l.9 .4l1 .5l1 .5l1 .5l1 .5l1 .6l1 .6l3.8-.3l-1-.7l-1-.5l-1-.6l-1-.5l-.9-.6l-1-.4l-1-.5l-1-.4l-1-.4l-1-.3z"/>
<path fill="#a0d0f2" stroke="#a0d0f2" d="M371.5 236.0l1 .6l1 .7l3.7-.2l-.9-.8l-1-.6z"/>
<path fill="#c9d0f2" stroke="#c9d0f2" d="M373.5 237.3l.9 .8l1 .9l1 1l1 1l3.7 .3l-.9-1.1l-1-1.1l-1-1.1l-1-.9z"/>
<path fill="#b4d7f2" stroke="#b4d7f2" d="M377.4 241.0l1 1.2l.9 1.2l3.8 .5l-1-1.3l-1-1.3z"/>
<path fill="#99e4f2" stroke="#99e4f2" d="M379.3 243.4l1 1.3l1 1.4l.9 1.5l1 1.6l3.7 .9l-.9-1.8l-1-1.6l-1-1.5l-.9-1.3z"/>
<path fill="#a0dde4" stroke="#a0dde4" d="M383.2 249.2l.9 1.8l1 1.8l.9 1.7l3.7 1.4l-.9-2.1l-.9-1.8l-1-1.9z"/>
<path fill="#b4ddd7" stroke="#b4ddd7" d="M386.0 254.5l1 1.8l.9 2.5l.9 3.6l3.5 8.7l-.8-8.4l-.8-4.1l-1-2.7z"/>
<path fill="#ebf2c9" stroke="#ebf2c9" d="M388.8 262.4l.9 7.2l3.4 10.2l-.8-8.7z"/>
<path fill="#fcebd0" stroke="#fcebd0" d="M389.7 269.6l.8 8l3.4 9.7l-.8-7.5z"/>
<path fill="#f6b4bb" stroke="#f6b4bb" d="M390.5 277.6l.7 8.6l.9 5.7l3.9-10.4l-1.2 6.6l-.9-.8z"/>
<path fill="#fcc9b4" stroke="#fcc9b4" d="M392.1 291.9l1.1-4.6l3.9-13.2l-1.1 7.4z"/>
<path fill="#f9f2ad" stroke="#f9f2ad" d="M393.2 287.3l1.2-12l3.8-7.2l-1.1 6z"/>
<path fill="#c2dda0" stroke="#c2dda0" d="M394.4 275.3l1.2-7.9l3.8-4.8l-1.2 5.5z"/>
<path fill="#b4ddd7" stroke="#b4ddd7" d="M395.6 267.4l1.1-5.1l1.1-4.2l3.8-4.5l-1.1 4.2l-1.1 4.8z"/>
<path fill="#a0dde4" stroke="#a0dde4" d="M397.8 258.1l1-3.6l3.9-4.6l-1.1 3.7z"/>
<path fill="#99e4f2" stroke="#99e4f2" d="M398.8 254.5l1.1-3l1.1-2.5l3.8-4l-1.1 2.1l-1 2.8z"/>
<path fill="#b4d7f2" stroke="#b4d7f2" d="M401.0 249.0l1-1.8l1-1.4l1-.4l3.8-1.9l-1 .1l-1 .2l-1 1.2z"/>
<path fill="#c9d0f2" stroke="#c9d0f2" d="M404.0 245.4l1-.1l1 .1l1 .1l1 .1l1 0l1 .1l1 .1l1 .1l.9 .5l3.7-1.1l-.9-.9l-1-.8l-1-.3l-.9 0l-1 0l-1 0l-1 .1l-1 0l-1 .1z"/>
<path fill="#b4d7f2" stroke="#b4d7f2" d="M412.9 246.4l1 .7l1 .8l.9 .6l1 .3l1 0l1 .1l1 0l1-.1l1-.2l1-.1l1-.2l1-.1l1-.1l1 0l3.7-1.6l-1 .1l-1 .2l-1 .1l-1 .1l-1 0l-1 .1l-1 0l-1 0l-1 0l-1 0l-.9-.1l-1-.2l-1-.6l-1-.9z"/>
<path fill="#c9d0f2" stroke="#c9d0f2" d="M426.8 248.1l1-.1l1-.1l1-.1l3.7-2l-1 .2l-1 .2l-1 .3z"/>
<path d="M387.6 251.9L387.8 251.9M385.5 252.9L387.6 251.9M385.2 253.0L385.5 252.9M391.2 274.1L392.5 273.3M390.2 274.7L391.2 274.1M397.1 274.2L397.1 274.1M394.4 275.5L397.1 274.2M401.3 253.9L401.5 253.8M398.7 255.0L401.3 253.9" fill="none" stroke="#50606a" stroke-width="0.45" opacity="0.45"/>
<path fill="#d0d0eb" stroke="#d0d0eb" d="M346.8 229.2l1 .2l1 .2l1 .2l1 .2l1 .2l1 .3l1 .2l1 .3l1 .3l.9 .2l1 .4l3.9-.6l-1-.3l-1-.3l-1-.3l-1-.2l-1-.3l-1-.2l-1-.3l-1-.2l-1-.2l-1-.1l-1-.2z"/>
<path fill="#84d0f2" stroke="#84d0f2" d="M357.7 231.9l1 .3l1 .3l1 .4l1 .4l1 .5l1 .4l1 .5l1 .5l1 .5l1 .6l1 .6l3.8-.3l-1-.6l-1-.6l-1-.6l-1-.5l-1-.5l-1-.5l-1-.5l-.9-.4l-1-.4l-1-.3l-1-.4z"/>
<path fill="#a0d0f2" stroke="#a0d0f2" d="M368.7 236.9l1 .6l1 .7l3.7-.1l-.9-.8l-1-.7z"/>
<path fill="#c9d0f2" stroke="#c9d0f2" d="M370.7 238.2l.9 .8l1 .9l1 1l1 1l3.8 .3l-1-1.2l-1-1l-1-1l-1-.9z"/>
<path fill="#b4d7f2" stroke="#b4d7f2" d="M374.6 241.9l1 1.1l.9 1.2l3.8 .5l-1-1.3l-.9-1.2z"/>
<path fill="#99e4f2" stroke="#99e4f2" d="M376.5 244.2l1 1.4l1 1.4l1 1.5l.9 1.6l3.7 .9l-.9-1.8l-1-1.6l-.9-1.5l-1-1.4z"/>
<path fill="#a0dde4" stroke="#a0dde4" d="M380.4 250.1l1 1.7l.9 1.7l1 1.5l3.7 1.3l-1-1.8l-.9-1.7l-1-1.8z"/>
<path fill="#b4ddd7" stroke="#b4ddd7" d="M383.3 255.0l1 1.7l.9 2.1l.9 3.2l3.6 7.6l-.9-7.2l-.9-3.6l-.9-2.5z"/>
<path fill="#c2dda0" stroke="#c2dda0" d="M386.1 262.0l.9 6.1l3.5 9.5l-.8-8z"/>
<path fill="#f9f2ad" stroke="#f9f2ad" d="M387.0 268.1l.8 7.5l3.4 10.6l-.7-8.6z"/>
<path fill="#fcc9b4" stroke="#fcc9b4" d="M387.8 275.6l.8 9.2l3.5 7.1l-.9-5.7z"/>
<path fill="#f6b4bb" stroke="#f6b4bb" d="M388.6 284.8l.8 10.1l.9 .1l4.1-19.7l-1.2 12l-1.1 4.6z"/>
<path fill="#f9f2ad" stroke="#f9f2ad" d="M390.3 295.0l1.4-16.9l3.9-10.7l-1.2 7.9z"/>
<path fill="#c2dda0" stroke="#c2dda0" d="M391.7 278.1l1.2-10.8l3.8-5l-1.1 5.1z"/>
<path fill="#b4ddd7" stroke="#b4ddd7" d="M392.9 267.3l1.1-5.1l1.1-3.7l3.7-4l-1 3.6l-1.1 4.2z"/>
<path fill="#a0dde4" stroke="#a0dde4" d="M395.1 258.5l1-3l3.8-4l-1.1 3z"/>
<path fill="#99e4f2" stroke="#99e4f2" d="M396.1 255.5l1.1-2.5l1-2.1l1.1-1.5l3.7-3.6l-1 1.4l-1 1.8l-1.1 2.5z"/>
<path fill="#b4d7f2" stroke="#b4d7f2" d="M399.3 249.4l1-1.4l1-.7l1-.1l1 .1l1 .2l1 .3l.9 .2l1 .2l1 .1l1 .1l1 .3l1 .5l1 .5l3.6-1.2l-.9-.6l-1-.8l-1-.7l-.9-.5l-1-.1l-1-.1l-1-.1l-1 0l-1-.1l-1-.1l-1-.1l-1 .1l-1 .4z"/>
<path fill="#99e4f2" stroke="#99e4f2" d="M412.2 249.7l.9 .5l1 .4l1 .1l1 0l1 0l3.7-1.9l-1 .1l-1 0l-1-.1l-1 0l-1-.3z"/>
<path fill="#b4d7f2" stroke="#b4d7f2" d="M417.1 250.7l1-.1l1-.2l1-.2l1-.4l1-.3l1-.1l1 0l1 0l3.7-1.5l-1 .1l-1 .1l-1 0l-1 .1l-1 .1l-1 .2l-1 .1l-1 .2z"/>
<path fill="#c9d0f2" stroke="#c9d0f2" d="M425.1 249.4l1 0l3.7-1.6l-1 .1z"/>
<path d="M383.5 253.8L385.2 253.0M382.8 254.1L383.5 253.8M389.6 275.1L390.2 274.7M388.0 276.1L389.6 275.1M387.9 276.2L388.0 276.1M394.4 275.5L394.4 275.5M392.2 276.7L394.4 275.5M391.8 276.9L392.2 276.7M398.3 255.1L398.7 255.0M395.9 256.1L398.3 255.1" fill="none" stroke="#50606a" stroke-width="0.45" opacity="0.45"/>
<path fill="#d0d0eb" stroke="#d0d0eb" d="M342.9 229.8l1 .1l1 .2l1 .2l1 .2l1 .3l1 .2l1 .3l1 .2l1 .3l1 .3l1 .3l1 .3l3.8-.5l-1-.3l-1-.4l-.9-.2l-1-.3l-1-.3l-1-.2l-1-.3l-1-.2l-1-.2l-1-.2l-1-.2l-1-.2z"/>
<path fill="#84d0f2" stroke="#84d0f2" d="M354.9 232.7l1 .4l1 .3l1 .4l1 .4l1 .5l1 .4l1 .5l1 .5l1 .5l1 .6l1 .6l3.8-.3l-1-.6l-1-.6l-1-.6l-1-.5l-1-.5l-1-.5l-1-.4l-1-.5l-1-.4l-1-.4l-1-.3z"/>
<path fill="#a0d0f2" stroke="#a0d0f2" d="M365.9 237.8l1 .6l.9 .8l3.8-.2l-.9-.8l-1-.7z"/>
<path fill="#c9d0f2" stroke="#c9d0f2" d="M367.8 239.2l1 .7l1 .9l1 .9l1 1l3.8 .3l-1-1.1l-1-1l-1-1l-1-.9z"/>
<path fill="#b4d7f2" stroke="#b4d7f2" d="M371.8 242.7l1 1.1l1 1.2l3.7 .6l-1-1.4l-.9-1.2z"/>
<path fill="#99e4f2" stroke="#99e4f2" d="M373.8 245.0l.9 1.4l1 1.4l1 1.6l1 1.6l3.7 .8l-1-1.7l-.9-1.6l-1-1.5l-1-1.4z"/>
<path fill="#a0dde4" stroke="#a0dde4" d="M377.7 251.0l.9 1.6l1 1.5l1 1.4l3.7 1.2l-1-1.7l-1-1.5l-.9-1.7z"/>
<path fill="#b4ddd7" stroke="#b4ddd7" d="M380.6 255.5l.9 1.5l1 1.8l.9 2.7l.9 5.2l3.5 8.9l-.8-7.5l-.9-6.1l-.9-3.2l-.9-2.1z"/>
<path fill="#f9f2ad" stroke="#f9f2ad" d="M384.3 266.7l.9 6.9l3.4 11.2l-.8-9.2z"/>
<path fill="#fcebd0" stroke="#fcebd0" d="M385.2 273.6l.8 9.3l3.4 12l-.8-10.1z"/>
<path fill="#f6b4bb" stroke="#f6b4bb" d="M386.0 282.9l.7 12.8l.8 9.4l4.2-27l-1.4 16.9l-.9-.1z"/>
<path fill="#fcebd0" stroke="#fcebd0" d="M387.5 305.1l1.4-21.7l4-16.1l-1.2 10.8z"/>
<path fill="#c2dda0" stroke="#c2dda0" d="M388.9 283.4l1.3-15.5l3.8-5.7l-1.1 5.1z"/>
<path fill="#b4ddd7" stroke="#b4ddd7" d="M390.2 267.9l1.1-5.5l1.1-3.4l3.7-3.5l-1 3l-1.1 3.7z"/>
<path fill="#a0dde4" stroke="#a0dde4" d="M392.4 259.0l1-2.7l3.8-3.3l-1.1 2.5z"/>
<path fill="#99e4f2" stroke="#99e4f2" d="M393.4 256.3l1.1-2l1-1.6l1-1.3l1-1l3.8-3.1l-1 .7l-1 1.4l-1.1 1.5l-1 2.1z"/>
<path fill="#b4d7f2" stroke="#b4d7f2" d="M397.5 250.4l1-.9l1-.4l1 .2l1 .3l1 .4l1 .4l1 .3l1 .3l1 .2l3.7-2.5l-1-.3l-1-.1l-1-.1l-1-.2l-.9-.2l-1-.3l-1-.2l-1-.1l-1 .1z"/>
<path fill="#99e4f2" stroke="#99e4f2" d="M406.5 251.2l.9 .1l1 .3l1 .3l1 .3l1 .3l1 .1l1 0l1 .1l1-.1l1-.2l3.7-2.2l-1 .2l-1 .2l-1 .1l-1 0l-1 0l-1-.1l-1-.4l-.9-.5l-1-.5l-1-.5z"/>
<path fill="#b4d7f2" stroke="#b4d7f2" d="M416.4 252.4l1-.3l1-.4l1-.5l1-.5l1 0l1 .1l3.7-1.4l-1 0l-1 0l-1 0l-1 .1l-1 .3l-1 .4z"/>
<path d="M381.7 254.6L382.8 254.1M380.4 255.3L381.7 254.6M386.3 277.1L387.9 276.2M385.5 277.6L386.3 277.1M387.0 299.4L388.4 299.3M390.3 277.8L391.8 276.9M387.8 299.6L388.4 299.3M389.3 278.3L390.3 277.8M395.1 256.4L395.9 256.1M393.0 257.3L395.1 256.4" fill="none" stroke="#50606a" stroke-width="0.45" opacity="0.45"/>
<path fill="#d0d0eb" stroke="#d0d0eb" d="M339.0 230.3l1.1 .1l1 .2l1 .2l1 .3l1 .2l1 .3l1 .2l1 .3l1 .2l1 .3l1 .3l1 .3l1 .4l3.8-.5l-1-.4l-1-.3l-1-.3l-1-.3l-1-.3l-1-.2l-1-.3l-1-.2l-1-.3l-1-.2l-1-.2l-1-.2l-1-.1z"/>
<path fill="#84d0f2" stroke="#84d0f2" d="M352.1 233.6l1 .4l1 .3l1 .4l1 .5l1 .4l1 .4l1 .5l1 .5l1 .5l1 .6l1 .6l3.8-.3l-1-.6l-1-.6l-1-.6l-1-.5l-1-.5l-1-.5l-1-.4l-1-.5l-1-.4l-1-.4l-1-.3z"/>
<path fill="#a0d0f2" stroke="#a0d0f2" d="M363.1 238.7l1 .6l1 .8l3.7-.2l-1-.7l-.9-.8z"/>
<path fill="#c9d0f2" stroke="#c9d0f2" d="M365.1 240.1l.9 .7l1 .8l1 .9l1 .9l3.8 .4l-1-1.1l-1-1l-1-.9l-1-.9z"/>
<path fill="#b4d7f2" stroke="#b4d7f2" d="M369.0 243.4l1 1.1l1 1.3l3.7 .6l-.9-1.4l-1-1.2z"/>
<path fill="#99e4f2" stroke="#99e4f2" d="M371.0 245.8l1 1.4l1 1.4l.9 1.6l1 1.5l3.7 .9l-.9-1.6l-1-1.6l-1-1.6l-1-1.4z"/>
<path fill="#a0dde4" stroke="#a0dde4" d="M374.9 251.7l1 1.6l1 1.4l.9 1.3l1 1.3l3.7 1.5l-1-1.8l-.9-1.5l-1-1.4l-1-1.5z"/>
<path fill="#b4ddd7" stroke="#b4ddd7" d="M378.8 257.3l1 1.6l.9 2.2l.9 4.2l3.6 8.3l-.9-6.9l-.9-5.2l-.9-2.7z"/>
<path fill="#ebf2c9" stroke="#ebf2c9" d="M381.6 265.3l.9 6.3l3.5 11.3l-.8-9.3z"/>
<path fill="#fcebd0" stroke="#fcebd0" d="M382.5 271.6l.9 8.8l3.3 15.3l-.7-12.8z"/>
<path fill="#f6b4bb" stroke="#f6b4bb" d="M383.4 280.4l.7 13.4l.5 23.7l1.4-23l4.2-26.6l-1.3 15.5l-1.4 21.7l-.8-9.4z"/>
<path fill="#ebf2c9" stroke="#ebf2c9" d="M386.0 294.5l1.5-24.5l3.8-7.6l-1.1 5.5z"/>
<path fill="#b4ddd7" stroke="#b4ddd7" d="M387.5 270.0l1.1-7l3.8-4l-1.1 3.4z"/>
<path fill="#a0dde4" stroke="#a0dde4" d="M388.6 263.0l1.1-3.4l1-2.5l3.8-2.8l-1.1 2l-1 2.7z"/>
<path fill="#99e4f2" stroke="#99e4f2" d="M390.7 257.1l1-1.7l1.1-1.2l1-.8l1-.7l1-.9l1-.7l1 .1l1 .4l1 .5l1 .6l.9 .6l1 .4l1 .4l1 .1l1 .2l1 .1l1 0l1 .1l1 0l1 0l1 0l1 0l1-.1l1-.3l1-.4l3.7-2.6l-1 .5l-1 .4l-1 .3l-1 .2l-1 .1l-1-.1l-1 0l-1-.1l-1-.3l-1-.3l-1-.3l-1-.3l-.9-.1l-1-.2l-1-.3l-1-.3l-1-.4l-1-.4l-1-.3l-1-.2l-1 .4l-1 .9l-1 1l-1 1.3l-1 1.6z"/>
<path fill="#b4d7f2" stroke="#b4d7f2" d="M415.7 253.8l1-.6l1-.6l1.1-.7l3.6-1.1l-1-.1l-1 0l-1 .5z"/>
<path d="M380.2 255.4L380.4 255.3M378.7 256.2L380.2 255.4M378.2 256.5L378.7 256.2M384.5 278.2L385.5 277.6M383.2 279.0L384.5 278.2M386.0 300.2L387.0 299.4M384.3 301.0L386.7 300.5M387.8 299.6L386.0 300.2M388.4 278.9L389.3 278.3M385.6 301.3L386.7 300.5M386.9 279.8L388.4 278.9M391.7 257.8L393.0 257.3M390.1 258.4L391.7 257.8" fill="none" stroke="#50606a" stroke-width="0.45" opacity="0.45"/>
<path fill="#d0d0eb" stroke="#d0d0eb" d="M335.2 230.9l1 .2l1 .2l1 .2l1 .2l1 .2l1 .3l1 .2l1 .3l1 .2l1 .3l1 .3l1 .3l1 .3l3.9-.5l-1-.4l-1-.3l-1-.3l-1-.3l-1-.2l-1-.3l-1-.2l-1-.3l-1-.2l-1-.3l-1-.2l-1-.2l-1.1-.1z"/>
<path fill="#84d0f2" stroke="#84d0f2" d="M348.2 234.1l1 .4l1 .3l1.1 .4l1 .4l1 .4l1 .5l1 .4l1 .5l1 .5l1 .5l1 .6l1 .6l3.8-.3l-1-.6l-1-.6l-1-.6l-1-.5l-1-.5l-1-.5l-1-.4l-1-.4l-1-.5l-1-.4l-1-.3l-1-.4z"/>
<path fill="#a0d0f2" stroke="#a0d0f2" d="M360.3 239.6l1 .7l1 .7l3.7-.2l-.9-.7l-1-.8z"/>
<path fill="#c9d0f2" stroke="#c9d0f2" d="M362.3 241.0l1 .8l1 .8l.9 .9l1 .9l1 1.1l3.8 .3l-1-1.3l-1-1.1l-1-.9l-1-.9l-1-.8z"/>
<path fill="#b4d7f2" stroke="#b4d7f2" d="M367.2 245.5l1 1.2l3.8 .5l-1-1.4z"/>
<path fill="#99e4f2" stroke="#99e4f2" d="M368.2 246.7l1 1.3l1 1.4l1 1.3l1 1.5l.9 1.5l3.8 1l-1-1.4l-1-1.6l-1-1.5l-.9-1.6l-1-1.4z"/>
<path fill="#a0dde4" stroke="#a0dde4" d="M373.1 253.7l1 1.7l1 1.9l1 1.8l3.7-.2l-1-1.6l-1-1.3l-.9-1.3z"/>
<path fill="#b4ddd7" stroke="#b4ddd7" d="M376.1 259.1l.9 2l1 2.6l.9 4l3.6 3.9l-.9-6.3l-.9-4.2l-.9-2.2z"/>
<path fill="#c2dda0" stroke="#c2dda0" d="M378.9 267.7l.9 6.1l3.6 6.6l-.9-8.8z"/>
<path fill="#f9f2ad" stroke="#f9f2ad" d="M379.8 273.8l.9 8.5l3.4 11.5l-.7-13.4z"/>
<path fill="#f6b4bb" stroke="#f6b4bb" d="M380.7 282.3l.8 8.5l.9 4l3.6-.3l-1.4 23l-.5-23.7z"/>
<path fill="#fcebd0" stroke="#fcebd0" d="M382.4 294.8l1.1-7.1l4-17.7l-1.5 24.5z"/>
<path fill="#c2dda0" stroke="#c2dda0" d="M383.5 287.7l1.3-15.5l3.8-9.2l-1.1 7z"/>
<path fill="#b4ddd7" stroke="#b4ddd7" d="M384.8 272.2l1.1-8l3.8-4.6l-1.1 3.4z"/>
<path fill="#a0dde4" stroke="#a0dde4" d="M385.9 264.2l1-3.2l1.1-2.1l1-1.7l3.8-3l-1.1 1.2l-1 1.7l-1 2.5z"/>
<path fill="#99e4f2" stroke="#99e4f2" d="M389.0 257.2l1-1.3l1-.7l1-.4l1.1-.3l1-.5l1 0l1 .2l.9 .4l1 .4l1 .5l1 .4l1 .3l1 .1l1 .1l1 0l1-.1l1 0l1-.1l1-.2l1-.2l1 .1l1 0l1-.1l1-.2l1-.3l3.7-2.7l-1 .6l-1 .6l-1 .4l-1 .3l-1 .1l-1 0l-1 0l-1 0l-1 0l-1-.1l-1 0l-1-.1l-1-.2l-1-.1l-1-.4l-1-.4l-.9-.6l-1-.6l-1-.5l-1-.4l-1-.1l-1 .7l-1 .9l-1 .7l-1 .8z"/>
<path fill="#b4d7f2" stroke="#b4d7f2" d="M414.0 255.3l1-.3l3.8-3.1l-1.1 .7z"/>
<path d="M376.4 257.3L378.2 256.5M375.3 257.6L376.4 257.3M382.8 279.3L383.2 279.0M380.5 280.4L382.8 279.3M382.8 302.0L384.3 301.0M385.6 301.3L382.8 302.0M385.1 280.6L386.9 279.8M384.0 281.1L385.1 280.6M388.8 259.0L390.1 258.4M387.6 259.7L388.8 259.0" fill="none" stroke="#50606a" stroke-width="0.45" opacity="0.45"/>
<path fill="#d0d0eb" stroke="#d0d0eb" d="M331.3 231.5l1 .2l1 .2l1 .2l1.1 .2l1 .2l1 .3l1 .2l1 .3l1 .2l1 .3l1 .3l1 .3l1 .3l1 .3l3.8-.5l-1-.4l-1-.3l-1-.3l-1-.3l-1-.3l-1-.2l-1-.3l-1-.2l-1-.3l-1-.2l-1-.2l-1-.2l-1-.2l-1-.2z"/>
<path fill="#84d0f2" stroke="#84d0f2" d="M345.4 235.0l1 .4l1 .3l1 .4l1 .4l1 .4l1.1 .4l1 .5l1 .4l1 .6l1 .5l1 .6l1 .7l3.8-.3l-1-.7l-1-.6l-1-.6l-1-.5l-1-.5l-1-.5l-1-.4l-1-.5l-1-.4l-1-.4l-1.1-.4l-1-.3z"/>
<path fill="#a0d0f2" stroke="#a0d0f2" d="M357.5 240.6l1 .6l1 .7l3.8-.1l-1-.8l-1-.7z"/>
<path fill="#c9d0f2" stroke="#c9d0f2" d="M359.5 241.9l1 .8l1 .8l1 .9l1 1l1 1l3.7 .3l-1-1.2l-1-1.1l-1-.9l-.9-.9l-1-.8z"/>
<path fill="#b4d7f2" stroke="#b4d7f2" d="M364.5 246.4l1 1.1l.9 1.3l3.8 .6l-1-1.4l-1-1.3z"/>
<path fill="#99e4f2" stroke="#99e4f2" d="M366.4 248.8l1 1.2l1 1.3l1 1.3l1 1.5l3.7 1.3l-1-1.7l-.9-1.5l-1-1.5l-1-1.3z"/>
<path fill="#a0dde4" stroke="#a0dde4" d="M370.4 254.1l1 1.8l.9 2.4l1 2.4l3.7 .4l-.9-2l-1-1.8l-1-1.9z"/>
<path fill="#b4ddd7" stroke="#b4ddd7" d="M373.3 260.7l1 2.6l.9 3l1 3.9l3.6 3.6l-.9-6.1l-.9-4l-1-2.6z"/>
<path fill="#ebf2c9" stroke="#ebf2c9" d="M376.2 270.2l.9 5.8l3.6 6.3l-.9-8.5z"/>
<path fill="#f9f2ad" stroke="#f9f2ad" d="M377.1 276.0l.9 8.3l3.5 6.5l-.8-8.5z"/>
<path fill="#fcc9b4" stroke="#fcc9b4" d="M378.0 284.3l.8 7l1-1.7l3.7-1.9l-1.1 7.1l-.9-4z"/>
<path fill="#f9f2ad" stroke="#f9f2ad" d="M379.8 289.6l1.1-7.5l3.9-9.9l-1.3 15.5z"/>
<path fill="#b4ddd7" stroke="#b4ddd7" d="M380.9 282.1l1.2-8.9l1.1-7.6l3.7-4.6l-1 3.2l-1.1 8z"/>
<path fill="#a0dde4" stroke="#a0dde4" d="M383.2 265.6l1-3.4l1.1-1.8l1-1.4l3.7-3.1l-1 1.3l-1 1.7l-1.1 2.1z"/>
<path fill="#99e4f2" stroke="#99e4f2" d="M386.3 259.0l1-1.4l1-.8l1-.2l1 .1l1 .1l1 .1l1 .2l1 .3l1 .2l1 .3l1 .3l1 .2l1 .2l1 0l1-.1l1-.1l1-.2l1-.2l1-.3l1-.3l1-.4l1 .1l1 .1l1 0l1-.1l3.7-2.1l-1 .3l-1 .3l-1 .2l-1 .1l-1 0l-1-.1l-1 .2l-1 .2l-1 .1l-1 0l-1 .1l-1 0l-1-.1l-1-.1l-1-.3l-1-.4l-1-.5l-1-.4l-.9-.4l-1-.2l-1 0l-1 .5l-1.1 .3l-1 .4l-1 .7z"/>
<path d="M373.3 258.5L375.3 257.6M372.5 258.8L373.3 258.5M379.8 280.7L380.5 280.4M377.7 281.8L379.8 280.7M380.9 282.4L384.0 281.1M386.6 260.1L387.6 259.7M385.0 260.9L386.6 260.1" fill="none" stroke="#50606a" stroke-width="0.45" opacity="0.45"/>
<path fill="#d0d0eb" stroke="#d0d0eb" d="M327.5 232.1l1 .2l1 .2l1 .2l1 .2l1 .3l1 .2l1 .2l1 .3l1 .3l1.1 .2l1 .3l1 .3l1 .3l1 .3l1 .3l3.8-.5l-1-.4l-1-.3l-1-.3l-1-.3l-1-.3l-1-.3l-1-.2l-1-.3l-1-.2l-1-.3l-1-.2l-1.1-.2l-1-.2l-1-.2l-1-.2z"/>
<path fill="#84d0f2" stroke="#84d0f2" d="M342.6 235.9l1 .3l1 .4l1 .3l1 .4l1 .4l1 .4l1.1 .5l1 .5l1 .5l1 .6l1 .6l1 .7l3.8-.3l-1-.6l-1-.7l-1-.6l-1-.5l-1-.6l-1-.4l-1-.5l-1.1-.4l-1-.4l-1-.4l-1-.4l-1-.3z"/>
<path fill="#a0d0f2" stroke="#a0d0f2" d="M354.7 241.5l1 .7l1 .7l3.8-.2l-1-.8l-1-.7z"/>
<path fill="#c9d0f2" stroke="#c9d0f2" d="M356.7 242.9l1 .7l1 .9l1 .8l1 1l1 1l3.8 .2l-1-1.1l-1-1l-1-1l-1-.9l-1-.8z"/>
<path fill="#b4d7f2" stroke="#b4d7f2" d="M361.7 247.3l1 1.1l1 1.1l3.7 .5l-1-1.2l-.9-1.3z"/>
<path fill="#99e4f2" stroke="#99e4f2" d="M363.7 249.5l1 1.1l1 1.2l1 1.2l1 1.4l3.7 1.5l-1-1.8l-1-1.5l-1-1.3l-1-1.3z"/>
<path fill="#a0dde4" stroke="#a0dde4" d="M367.7 254.4l.9 1.8l1 2.8l1 3l3.7 1.3l-1-2.6l-1-2.4l-.9-2.4z"/>
<path fill="#b4ddd7" stroke="#b4ddd7" d="M370.6 262.0l1 3.2l.9 3.5l1 4.1l3.6 3.2l-.9-5.8l-1-3.9l-.9-3z"/>
<path fill="#ebf2c9" stroke="#ebf2c9" d="M373.5 272.8l.9 5.4l3.6 6.1l-.9-8.3z"/>
<path fill="#f9f2ad" stroke="#f9f2ad" d="M374.4 278.2l.9 7.6l3.5 5.5l-.8-7z"/>
<path fill="#fcebd0" stroke="#fcebd0" d="M375.3 285.8l.8 8.9l1.1-4.8l3.7-7.8l-1.1 7.5l-1 1.7z"/>
<path fill="#f9f2ad" stroke="#f9f2ad" d="M377.2 289.9l1.1-10.7l3.8-6l-1.2 8.9z"/>
<path fill="#b4ddd7" stroke="#b4ddd7" d="M378.3 279.2l1.1-6.2l1.1-5.8l3.7-5l-1 3.4l-1.1 7.6z"/>
<path fill="#a0dde4" stroke="#a0dde4" d="M380.5 267.2l1-3.8l1.1-1.7l1-.9l3.7-3.2l-1 1.4l-1 1.4l-1.1 1.8z"/>
<path fill="#99e4f2" stroke="#99e4f2" d="M383.6 260.8l1-1.2l1-1.2l1-.3l1 .4l1 .7l1 .5l1 .5l1 .3l1 .2l1 .1l1 .1l1 .1l1 .1l1-.1l1-.1l1-.2l1-.2l1-.4l1-.4l1-.4l1.1-.5l1-.6l1 .2l1 .1l3.6-1.4l-1 .1l-1 0l-1-.1l-1-.1l-1 .4l-1 .3l-1 .3l-1 .2l-1 .2l-1 .1l-1 .1l-1 0l-1-.2l-1-.2l-1-.3l-1-.3l-1-.2l-1-.3l-1-.2l-1-.1l-1-.1l-1-.1l-1 .2l-1 .8z"/>
<path d="M370.9 259.6L372.5 258.8M369.9 260.0L370.9 259.6M376.8 282.2L377.7 281.8M375.0 283.2L376.8 282.2M380.7 282.5L380.9 282.4M377.8 283.8L380.7 282.5M384.3 261.2L385.0 260.9M382.3 262.1L384.3 261.2" fill="none" stroke="#50606a" stroke-width="0.45" opacity="0.45"/>
<path fill="#d0d0eb" stroke="#d0d0eb" d="M323.6 232.7l1 .2l1 .2l1 .2l1 .2l1.1 .3l1 .2l1 .3l1 .2l1 .3l1 .2l1 .3l1 .3l1 .3l1.1 .3l1 .3l3.8-.6l-1-.3l-1-.3l-1-.3l-1-.3l-1-.3l-1.1-.2l-1-.3l-1-.3l-1-.2l-1-.2l-1-.3l-1-.2l-1-.2l-1-.2l-1-.2z"/>
<path fill="#84d0f2" stroke="#84d0f2" d="M338.8 236.5l1 .3l1 .3l1 .3l1 .4l1 .4l1 .4l1 .4l1.1 .4l1 .5l1 .6l1 .6l1 .6l1 .7l3.8-.2l-1-.7l-1-.7l-1-.6l-1-.6l-1-.5l-1-.5l-1.1-.5l-1-.4l-1-.4l-1-.4l-1-.3l-1-.4l-1-.3z"/>
<path fill="#a0d0f2" stroke="#a0d0f2" d="M351.9 242.4l1 .7l1 .7l3.8-.2l-1-.7l-1-.7z"/>
<path fill="#c9d0f2" stroke="#c9d0f2" d="M353.9 243.8l1 .7l1 .9l1 .8l1 1l1 .9l3.8 .3l-1-1.1l-1-1l-1-1l-1-.8l-1-.9z"/>
<path fill="#b4d7f2" stroke="#b4d7f2" d="M358.9 248.1l1 1.1l1 1l3.8 .4l-1-1.1l-1-1.1z"/>
<path fill="#99e4f2" stroke="#99e4f2" d="M360.9 250.2l1 1.1l1 1l1 1l1 1.3l1 1.7l3.7 2.7l-1-2.8l-.9-1.8l-1-1.4l-1-1.2l-1-1.2z"/>
<path fill="#a0dde4" stroke="#a0dde4" d="M365.9 256.3l1 3l1 3.7l3.7 2.2l-1-3.2l-1-3z"/>
<path fill="#b4ddd7" stroke="#b4ddd7" d="M367.9 263.0l.9 3.7l1 4.2l.9 4.5l3.7 2.8l-.9-5.4l-1-4.1l-.9-3.5z"/>
<path fill="#ebf2c9" stroke="#ebf2c9" d="M370.7 275.4l1 5.3l3.6 5.1l-.9-7.6z"/>
<path fill="#fcebd0" stroke="#fcebd0" d="M371.7 280.7l.9 6.9l3.5 7.1l-.8-8.9z"/>
<path fill="#fcc9b4" stroke="#fcc9b4" d="M372.6 287.6l.9 11.6l3.7-9.3l-1.1 4.8z"/>
<path fill="#fcebd0" stroke="#fcebd0" d="M373.5 299.2l1-5.1l3.8-14.9l-1.1 10.7z"/>
<path fill="#ebf2c9" stroke="#ebf2c9" d="M374.5 294.1l1.1-13.5l3.8-7.6l-1.1 6.2z"/>
<path fill="#b4ddd7" stroke="#b4ddd7" d="M375.6 280.6l1.1-8.5l1.1-4.1l3.7-4.6l-1 3.8l-1.1 5.8z"/>
<path fill="#a0dde4" stroke="#a0dde4" d="M377.8 268.0l1-3.2l1.1-2.2l1-.6l1-.5l3.7-3.1l-1 1.2l-1 1.2l-1 .9l-1.1 1.7z"/>
<path fill="#99e4f2" stroke="#99e4f2" d="M381.9 261.5l1-1.2l1-.8l1 .4l1 .9l1 1.2l3.7-1.8l-1-.5l-1-.5l-1-.7l-1-.4l-1 .3z"/>
<path fill="#a0dde4" stroke="#a0dde4" d="M386.9 262.0l1 1.1l1 .8l1 .2l1 .1l1-.1l1 0l1-.2l1-.2l3.7-2.8l-1 .1l-1 .1l-1-.1l-1-.1l-1-.1l-1-.1l-1-.2l-1-.3z"/>
<path fill="#99e4f2" stroke="#99e4f2" d="M394.9 263.7l1-.1l1-.3l1-.3l1-.4l1-.5l1.1-.5l1-.7l1-.7l1-.7l3.7-1l-1-.1l-1-.2l-1 .6l-1.1 .5l-1 .4l-1 .4l-1 .4l-1 .2l-1 .2z"/>
<path d="M368.6 260.6L369.9 260.0M367.4 261.2L368.6 260.6M373.8 283.7L375.0 283.2M372.2 284.6L373.8 283.7M377.0 284.3L377.8 283.8M375.2 285.2L377.0 284.3M381.7 262.4L382.3 262.1M379.5 263.3L381.7 262.4" fill="none" stroke="#50606a" stroke-width="0.45" opacity="0.45"/>
<path fill="#d0d0eb" stroke="#d0d0eb" d="M319.7 233.3l1 .2l1.1 .2l1 .2l1 .2l1 .3l1 .2l1 .2l1 .3l1.1 .2l1 .3l1 .3l1 .2l1 .3l1 .3l1 .3l1.1 .3l3.8-.5l-1-.3l-1-.3l-1.1-.3l-1-.3l-1-.3l-1-.3l-1-.2l-1-.3l-1-.2l-1-.3l-1-.2l-1.1-.3l-1-.2l-1-.2l-1-.2l-1-.2z"/>
<path fill="#84d0f2" stroke="#84d0f2" d="M336.0 237.3l1 .3l1 .3l1 .4l1 .3l1 .4l1 .4l1 .4l1.1 .5l1 .5l1 .6l1 .6l1 .6l1 .6l3.8-.1l-1-.7l-1-.7l-1-.6l-1-.6l-1-.6l-1-.5l-1.1-.4l-1-.4l-1-.4l-1-.4l-1-.4l-1-.3l-1-.3z"/>
<path fill="#a0d0f2" stroke="#a0d0f2" d="M349.1 243.2l1 .7l1 .7l1 .8l3.8 0l-1-.9l-1-.7l-1-.7z"/>
<path fill="#c9d0f2" stroke="#c9d0f2" d="M352.1 245.4l1.1 .8l1 .9l1 .9l1 1l3.7 .2l-1-1.1l-1-.9l-1-1l-1-.8z"/>
<path fill="#b4d7f2" stroke="#b4d7f2" d="M356.2 249.0l1 1l1 1l1 1.1l3.7 .2l-1-1l-1-1.1l-1-1z"/>
<path fill="#99e4f2" stroke="#99e4f2" d="M359.2 252.1l1 1.1l1 1.2l1 1.4l1 1.8l3.7 1.7l-1-3l-1-1.7l-1-1.3l-1-1z"/>
<path fill="#a0dde4" stroke="#a0dde4" d="M363.2 257.6l1 2.4l1 3.2l3.6 3.5l-.9-3.7l-1-3.7z"/>
<path fill="#b4ddd7" stroke="#b4ddd7" d="M365.2 263.2l.9 3.6l1 4.7l3.6 3.9l-.9-4.5l-1-4.2z"/>
<path fill="#c2dda0" stroke="#c2dda0" d="M367.1 271.5l.9 5.8l3.7 3.4l-1-5.3z"/>
<path fill="#ebf2c9" stroke="#ebf2c9" d="M368.0 277.3l1 6.6l3.6 3.7l-.9-6.9z"/>
<path fill="#fcebd0" stroke="#fcebd0" d="M369.0 283.9l.9 5.4l3.6 9.9l-.9-11.6z"/>
<path fill="#fcc9b4" stroke="#fcc9b4" d="M369.9 289.3l1 3.2l3.6 1.6l-1 5.1z"/>
<path fill="#fcebd0" stroke="#fcebd0" d="M370.9 292.5l1 .1l3.7-12l-1.1 13.5z"/>
<path fill="#ebf2c9" stroke="#ebf2c9" d="M371.9 292.6l1-8.3l3.8-12.2l-1.1 8.5z"/>
<path fill="#b4ddd7" stroke="#b4ddd7" d="M372.9 284.3l1.1-9.5l1.1-4.6l1-2.8l3.8-4.8l-1.1 2.2l-1 3.2l-1.1 4.1z"/>
<path fill="#a0dde4" stroke="#a0dde4" d="M376.1 267.4l1.1-2l1-.7l1 .1l1-.3l1-.7l1-.3l1 .5l1 .9l1 .9l1 .7l1 .3l1 0l1-.1l1-.3l1-.3l1-.3l1-.4l1-.3l1-.1l3.7-2.4l-1 .4l-1 .3l-1 .3l-1 .1l-1 .2l-1 .2l-1 0l-1 .1l-1-.1l-1-.2l-1-.8l-1-1.1l-1-1.2l-1-.9l-1-.4l-1 .8l-1 1.2l-1 .5l-1 .6z"/>
<path fill="#99e4f2" stroke="#99e4f2" d="M395.2 265.0l1-.2l1.1-.2l1-.3l1-.4l1-.5l3.7-3.9l-1 .7l-1 .7l-1 .7l-1.1 .5l-1 .5z"/>
<path d="M366.2 261.7L367.4 261.2M364.9 262.4L366.2 261.7M370.4 285.4L372.2 284.6M369.3 285.9L370.4 285.4M374.0 285.8L375.2 285.2M372.6 286.7L374.0 285.8M379.1 263.6L379.5 263.3M378.4 264.3L379.1 263.6M378.1 264.8L378.4 264.3M385.8 266.2L386.8 266.1M388.1 266.2L386.8 266.1M388.6 266.5L388.1 266.2M388.7 266.7L388.6 266.5" fill="none" stroke="#50606a" stroke-width="0.45" opacity="0.45"/>
<path fill="#d0d0eb" stroke="#d0d0eb" d="M315.9 233.9l1 .2l1 .2l1 .2l1 .2l1 .3l1.1 .2l1 .2l1 .3l1 .2l1 .3l1 .2l1.1 .3l1 .3l1 .2l1 .3l1 .3l1 .3l3.9-.5l-1-.3l-1.1-.3l-1-.3l-1-.3l-1-.3l-1-.2l-1-.3l-1-.3l-1.1-.2l-1-.3l-1-.2l-1-.2l-1-.3l-1-.2l-1-.2l-1.1-.2l-1-.2z"/>
<path fill="#84d0f2" stroke="#84d0f2" d="M333.1 238.1l1.1 .3l1 .3l1 .4l1 .3l1 .4l1 .4l1.1 .5l1 .5l1 .5l1 .5l1 .6l1 .6l1 .7l1.1 .7l3.7-.2l-1-.7l-1-.7l-1-.6l-1-.6l-1-.6l-1-.6l-1-.5l-1.1-.5l-1-.4l-1-.4l-1-.4l-1-.3l-1-.4l-1-.3z"/>
<path fill="#a0d0f2" stroke="#a0d0f2" d="M347.4 244.8l1 .7l1 .8l3.8-.1l-1.1-.8l-1-.8z"/>
<path fill="#c9d0f2" stroke="#c9d0f2" d="M349.4 246.3l1 .8l1 .8l1 .9l1 .9l3.8 .3l-1-1l-1-1l-1-.9l-1-.9z"/>
<path fill="#b4d7f2" stroke="#b4d7f2" d="M353.4 249.7l1 1l1 1.1l1 1.1l3.8 .3l-1-1.1l-1-1.1l-1-1z"/>
<path fill="#99e4f2" stroke="#99e4f2" d="M356.4 252.9l1.1 1.1l1 1.3l1 1.6l1 1.8l3.7 1.3l-1-2.4l-1-1.8l-1-1.4l-1-1.2z"/>
<path fill="#a0dde4" stroke="#a0dde4" d="M360.5 258.7l1 2.1l.9 2.7l3.7 3.3l-.9-3.6l-1-3.2z"/>
<path fill="#b4ddd7" stroke="#b4ddd7" d="M362.4 263.5l1 3.1l1 4.5l3.6 6.2l-.9-5.8l-1-4.7z"/>
<path fill="#c2dda0" stroke="#c2dda0" d="M364.4 271.1l1 6.3l3.6 6.5l-1-6.6z"/>
<path fill="#ebf2c9" stroke="#ebf2c9" d="M365.4 277.4l.9 8.8l3.6 3.1l-.9-5.4z"/>
<path fill="#fcebd0" stroke="#fcebd0" d="M366.3 286.2l.9 8l1-1.3l3.7-.3l-1-.1l-1-3.2z"/>
<path fill="#f9f2ad" stroke="#f9f2ad" d="M368.2 292.9l1-2.2l3.7-6.4l-1 8.3z"/>
<path fill="#ebf2c9" stroke="#ebf2c9" d="M369.2 290.7l1.1-5.1l3.7-10.8l-1.1 9.5z"/>
<path fill="#b4ddd7" stroke="#b4ddd7" d="M370.3 285.6l1-7.3l1.1-5.6l1-3.3l3.8-4l-1.1 2l-1 2.8l-1.1 4.6z"/>
<path fill="#a0dde4" stroke="#a0dde4" d="M373.4 269.4l1.1-1.6l1-.7l1 .3l1 .6l1 .2l1-.2l1 .1l1 .5l1 .5l1 .5l1 .3l1 0l1-.3l1-.3l1-.4l1-.6l1-.6l1.1-.6l1-.4l1 0l3.7-2.1l-1.1 .2l-1 .2l-1 .1l-1 .3l-1 .4l-1 .3l-1 .3l-1 .3l-1 .1l-1 0l-1-.3l-1-.7l-1-.9l-1-.9l-1-.5l-1 .3l-1 .7l-1 .3l-1-.1l-1 .7z"/>
<path fill="#99e4f2" stroke="#99e4f2" d="M393.6 266.7l1 0l1-.1l1-.1l3.7-3.1l-1 .5l-1 .4l-1 .3z"/>
<path d="M364.3 262.7L364.9 262.4M362.5 263.6L364.3 262.7M362.5 263.6L362.5 263.6M367.2 287.0L369.3 285.9M366.4 287.3L367.2 287.0M371.2 287.3L372.6 286.7M369.8 288.1L371.2 287.3M378.0 264.9L378.1 264.8M378.5 265.2L378.0 264.9M378.8 265.6L378.5 265.2M379.3 265.9L378.8 265.6M380.1 266.2L379.3 265.9M381.0 266.4L380.1 266.2M382.4 266.4L381.0 266.4M384.4 266.3L382.4 266.4M385.8 266.2L384.4 266.3M388.9 266.9L388.7 266.7M389.2 267.3L388.9 266.9M389.3 267.8L389.2 267.3M389.2 268.3L389.3 267.8M389.0 268.6L389.2 268.3" fill="none" stroke="#50606a" stroke-width="0.45" opacity="0.45"/>
<path fill="#d0d0eb" stroke="#d0d0eb" d="M312.0 234.5l1 .2l1 .2l1.1 .2l1 .2l1 .3l1 .2l1 .2l1.1 .3l1 .2l1 .3l1 .2l1 .3l1 .2l1.1 .3l1 .2l1 .3l1 .3l1 .3l1.1 .3l3.8-.5l-1-.3l-1.1-.3l-1-.3l-1-.3l-1-.3l-1-.2l-1-.3l-1.1-.3l-1-.2l-1-.3l-1-.2l-1-.3l-1-.2l-1.1-.2l-1-.3l-1-.2l-1-.2l-1-.2l-1-.2z"/>
<path fill="#84d0f2" stroke="#84d0f2" d="M331.4 239.2l1 .4l1 .3l1 .4l1 .4l1 .4l1.1 .4l1 .5l1 .6l1 .5l1 .6l1.1 .6l1 .6l1 .7l3.8-.1l-1-.7l-1.1-.7l-1-.7l-1-.6l-1-.6l-1-.5l-1-.5l-1-.5l-1.1-.5l-1-.4l-1-.4l-1-.3l-1-.4z"/>
<path fill="#a0d0f2" stroke="#a0d0f2" d="M344.6 245.6l1 .7l1 .8l3.8 0l-1-.8l-1-.8z"/>
<path fill="#c9d0f2" stroke="#c9d0f2" d="M346.6 247.1l1 .8l1 .8l1.1 .9l1 .9l1 .9l3.7 .4l-1-1.1l-1-1l-1-.9l-1-.9l-1-.8z"/>
<path fill="#b4d7f2" stroke="#b4d7f2" d="M351.7 251.4l1 1.1l1 1.1l3.8 .4l-1.1-1.1l-1-1.1z"/>
<path fill="#99e4f2" stroke="#99e4f2" d="M353.7 253.6l1 1.2l1 1.3l1 1.7l1 1.9l3.8 1.1l-1-2.1l-1-1.8l-1-1.6l-1-1.3z"/>
<path fill="#a0dde4" stroke="#a0dde4" d="M357.7 259.7l1 2.1l1 2.2l3.7 2.6l-1-3.1l-.9-2.7z"/>
<path fill="#b4ddd7" stroke="#b4ddd7" d="M359.7 264.0l1 2.5l1 3.6l1 6.3l3.6 9.8l-.9-8.8l-1-6.3l-1-4.5z"/>
<path fill="#ebf2c9" stroke="#ebf2c9" d="M362.7 276.4l.9 9.6l3.6 8.2l-.9-8z"/>
<path fill="#fcebd0" stroke="#fcebd0" d="M363.6 286.0l1 12.5l.9 3.9l1.1-10.2l3.7-6.6l-1.1 5.1l-1 2.2l-1 1.3z"/>
<path fill="#ebf2c9" stroke="#ebf2c9" d="M366.6 292.2l1-6l3.7-7.9l-1 7.3z"/>
<path fill="#b4ddd7" stroke="#b4ddd7" d="M367.6 286.2l1.1-5.2l1-5.6l1-3.7l1.1-2.3l3.7-2.3l-1 .7l-1.1 1.6l-1 3.3l-1.1 5.6z"/>
<path fill="#a0dde4" stroke="#a0dde4" d="M371.8 269.4l1-.4l1 .4l1 1.1l3.7-2.3l-1-.2l-1-.6l-1-.3z"/>
<path fill="#b4ddd7" stroke="#b4ddd7" d="M374.8 270.5l1 1.2l1 .8l1 .5l1 .4l1 .3l1 .1l1 0l1-.2l1-.4l3.7-3.9l-1 .3l-1 .3l-1 0l-1-.3l-1-.5l-1-.5l-1-.5l-1-.1l-1 .2z"/>
<path fill="#a0dde4" stroke="#a0dde4" d="M383.8 273.2l1-.6l1-.5l1-.7l1.1-.7l1-.8l1-.9l1-.6l1 .1l1 .1l3.7-2.1l-1 .1l-1 .1l-1 0l-1 0l-1 .4l-1.1 .6l-1 .6l-1 .6l-1 .4z"/>
<path d="M360.5 264.6L362.5 263.6M360.1 264.9L360.5 264.6M364.7 288.4L366.4 287.3M363.8 288.8L364.7 288.4M368.5 288.8L369.8 288.1M367.0 289.5L368.5 288.8M389.0 268.8L389.0 268.6M388.9 269.4L389.0 268.8M388.6 270.0L388.9 269.4M388.4 270.3L388.6 270.0" fill="none" stroke="#50606a" stroke-width="0.45" opacity="0.45"/>
<path fill="#d0d0eb" stroke="#d0d0eb" d="M308.1 235.1l1.1 .2l1 .2l1 .2l1 .2l1 .3l1.1 .2l1 .2l1 .3l1 .2l1 .2l1.1 .3l1 .2l1 .3l1 .2l1.1 .3l1 .3l1 .3l1 .2l1 .3l1.1 .3l3.8-.4l-1-.4l-1.1-.3l-1-.3l-1-.3l-1-.3l-1-.2l-1.1-.3l-1-.2l-1-.3l-1-.2l-1-.3l-1-.2l-1.1-.3l-1-.2l-1-.2l-1-.3l-1-.2l-1.1-.2l-1-.2l-1-.2z"/>
<path fill="#84d0f2" stroke="#84d0f2" d="M328.6 240.0l1 .4l1 .3l1 .4l1 .4l1.1 .4l1 .5l1 .5l1 .5l1 .5l1.1 .6l1 .6l1 .6l1 .7l3.8-.1l-1-.7l-1-.7l-1-.6l-1.1-.6l-1-.6l-1-.5l-1-.6l-1-.5l-1.1-.4l-1-.4l-1-.4l-1-.4l-1-.3z"/>
<path fill="#a0d0f2" stroke="#a0d0f2" d="M341.8 246.4l1 .7l1.1 .8l3.7 0l-1-.8l-1-.8z"/>
<path fill="#c9d0f2" stroke="#c9d0f2" d="M343.9 247.9l1 .7l1 .9l1 .8l1 .9l1 .9l3.8 .4l-1-1.1l-1-.9l-1-.9l-1.1-.9l-1-.8z"/>
<path fill="#b4d7f2" stroke="#b4d7f2" d="M348.9 252.1l1.1 1l1 1.1l1 1.2l3.7 .7l-1-1.3l-1-1.2l-1-1.1z"/>
<path fill="#99e4f2" stroke="#99e4f2" d="M352.0 255.4l1 1.4l1 1.6l1 2.1l3.7 1.3l-1-2.1l-1-1.9l-1-1.7z"/>
<path fill="#a0dde4" stroke="#a0dde4" d="M355.0 260.5l1 2.2l1 2.1l1 1.9l3.7 3.4l-1-3.6l-1-2.5l-1-2.2z"/>
<path fill="#b4ddd7" stroke="#b4ddd7" d="M358.0 266.7l1 2.5l1 5.1l3.6 11.7l-.9-9.6l-1-6.3z"/>
<path fill="#ebf2c9" stroke="#ebf2c9" d="M360.0 274.3l1 8.3l3.6 15.9l-1-12.5z"/>
<path fill="#fcebd0" stroke="#fcebd0" d="M361.0 282.6l.9 15.7l3.6 4.1l-.9-3.9z"/>
<path fill="#f6b4bb" stroke="#f6b4bb" d="M361.9 298.3l.9 18.9l3.8-25l-1.1 10.2z"/>
<path fill="#fcc9b4" stroke="#fcc9b4" d="M362.8 317.2l1.1-13.5l3.7-17.5l-1 6z"/>
<path fill="#f9f2ad" stroke="#f9f2ad" d="M363.9 303.7l1-14.6l3.8-8.1l-1.1 5.2z"/>
<path fill="#c2dda0" stroke="#c2dda0" d="M364.9 289.1l1.1-6.4l3.7-7.3l-1 5.6z"/>
<path fill="#b4ddd7" stroke="#b4ddd7" d="M366.0 282.7l1-4.6l1.1-3.8l1-2.9l3.7-2.4l-1 .4l-1.1 2.3l-1 3.7z"/>
<path fill="#a0dde4" stroke="#a0dde4" d="M369.1 271.4l1-1.4l1 .6l3.7-.1l-1-1.1l-1-.4z"/>
<path fill="#b4ddd7" stroke="#b4ddd7" d="M371.1 270.6l1 1.4l1 1.8l1 2l1 1.8l1 1.3l1 .7l1-.1l1-.3l1-.7l1-.8l1-.9l1-.8l1.1-.8l3.7-4.5l-1.1 .7l-1 .7l-1 .5l-1 .6l-1 .4l-1 .2l-1 0l-1-.1l-1-.3l-1-.4l-1-.5l-1-.8l-1-1.2z"/>
<path fill="#a0dde4" stroke="#a0dde4" d="M384.2 275.2l1-.9l1-1l1-1l1.1-1.1l1-1.2l3.6-1.4l-1-.1l-1-.1l-1 .6l-1 .9l-1 .8z"/>
<path d="M358.7 265.6L360.1 264.9M357.7 266.2L358.7 265.6M362.6 289.6L363.8 288.8M361.4 290.3L362.6 289.6M362.7 314.0L363.3 313.9M366.8 289.9L367.0 289.5M363.1 314.1L363.3 313.9M364.8 291.1L366.8 289.9M388.3 270.6L388.4 270.3M388.0 271.2L388.3 270.6M387.7 271.8L388.0 271.2M387.5 272.0L387.7 271.8" fill="none" stroke="#50606a" stroke-width="0.45" opacity="0.45"/>
<path fill="#d0d0eb" stroke="#d0d0eb" d="M304.3 235.7l1 .2l1 .2l1 .2l1.1 .3l1 .2l1 .2l1 .2l1.1 .3l1 .2l1 .2l1 .3l1.1 .2l1 .3l1 .2l1 .3l1 .2l1.1 .3l1 .3l1 .3l1 .3l1.1 .3l3.8-.5l-1-.4l-1.1-.3l-1-.3l-1-.2l-1-.3l-1-.3l-1.1-.3l-1-.2l-1-.3l-1-.2l-1.1-.3l-1-.2l-1-.2l-1-.3l-1-.2l-1.1-.2l-1-.3l-1-.2l-1-.2l-1-.2l-1.1-.2z"/>
<path fill="#84d0f2" stroke="#84d0f2" d="M325.8 240.9l1 .3l1 .4l1 .4l1.1 .5l1 .4l1 .5l1 .5l1 .5l1.1 .5l1 .5l1 .6l1 .6l1.1 .6l3.7-.1l-1-.7l-1-.7l-1-.6l-1-.6l-1.1-.6l-1-.5l-1-.5l-1-.5l-1-.5l-1.1-.4l-1-.4l-1-.4l-1-.3z"/>
<path fill="#a0d0f2" stroke="#a0d0f2" d="M339.1 247.2l1 .7l1 .6l1 .7l3.8 .3l-1-.9l-1-.7l-1.1-.8z"/>
<path fill="#c9d0f2" stroke="#c9d0f2" d="M342.1 249.2l1 .8l1.1 .8l1 .9l1 .9l1 1l3.8 .6l-1-1.1l-1.1-1l-1-.9l-1-.9l-1-.8z"/>
<path fill="#b4d7f2" stroke="#b4d7f2" d="M347.2 253.6l1 1.1l1.1 1.3l3.7 .8l-1-1.4l-1-1.2z"/>
<path fill="#99e4f2" stroke="#99e4f2" d="M349.3 256.0l1 1.3l1 1.7l1 1.9l1 2.2l3.7 1.7l-1-2.1l-1-2.2l-1-2.1l-1-1.6z"/>
<path fill="#a0dde4" stroke="#a0dde4" d="M353.3 263.1l1 2.3l1 2.2l3.7 1.6l-1-2.5l-1-1.9z"/>
<path fill="#b4ddd7" stroke="#b4ddd7" d="M355.3 267.6l1 2.2l1 3.3l3.7 9.5l-1-8.3l-1-5.1z"/>
<path fill="#c2dda0" stroke="#c2dda0" d="M357.3 273.1l1 5l3.6 20.2l-.9-15.7z"/>
<path fill="#f9f2ad" stroke="#f9f2ad" d="M358.3 278.1l1 6.1l3.5 33l-.9-18.9z"/>
<path fill="#fcebd0" stroke="#fcebd0" d="M359.3 284.2l1 7.6l1 4.4l3.6-7.1l-1 14.6l-1.1 13.5z"/>
<path fill="#ebf2c9" stroke="#ebf2c9" d="M361.3 296.2l1-6.3l3.7-7.2l-1.1 6.4z"/>
<path fill="#c2dda0" stroke="#c2dda0" d="M362.3 289.9l1-5.5l3.7-6.3l-1 4.6z"/>
<path fill="#b4ddd7" stroke="#b4ddd7" d="M363.3 284.4l1-2.6l1.1-2.6l1-2.2l1-1.9l1-.6l1 .8l1 1.4l1 1.7l1 1.7l1 1.4l1 1l1 .4l1-.4l1-.7l1-.9l1.1-.5l1-.6l1-.7l1-.5l1-.7l3.7-5.6l-1 1l-1 1l-1 .9l-1.1 .8l-1 .8l-1 .9l-1 .8l-1 .7l-1 .3l-1 .1l-1-.7l-1-1.3l-1-1.8l-1-2l-1-1.8l-1-1.4l-1-.6l-1 1.4l-1 2.9l-1.1 3.8z"/>
<path fill="#a0dde4" stroke="#a0dde4" d="M383.5 277.9l1-.7l1.1-.8l3.7-6.4l-1 1.2l-1.1 1.1z"/>
<path d="M357.2 266.5L357.7 266.2M355.3 267.4L357.2 266.5M360.6 290.9L361.4 290.3M360.1 291.6L360.6 290.9M362.5 314.2L362.7 314.0M360.4 292.1L360.1 291.6M363.1 314.1L362.5 314.2M360.4 292.1L363.7 291.5M364.8 291.1L360.4 292.1M361.9 292.5L363.7 291.5M387.5 272.4L387.5 272.0M387.6 272.9L387.5 272.4" fill="none" stroke="#50606a" stroke-width="0.45" opacity="0.45"/>
<path fill="#d0d0eb" stroke="#d0d0eb" d="M300.4 236.3l1 .2l1.1 .2l1 .3l1 .2l1 .2l1.1 .2l1 .3l1 .2l1 .2l1.1 .3l1 .2l1 .2l1 .3l1.1 .2l1 .2l1 .3l1 .3l1.1 .2l1 .3l1 .3l1 .3l1.1 .4l3.8-.6l-1-.3l-1.1-.3l-1-.3l-1-.3l-1-.3l-1.1-.3l-1-.2l-1-.3l-1-.2l-1-.3l-1.1-.2l-1-.3l-1-.2l-1-.2l-1.1-.3l-1-.2l-1-.2l-1-.2l-1.1-.3l-1-.2l-1-.2l-1-.2z"/>
<path fill="#84d0f2" stroke="#84d0f2" d="M323.0 241.8l1 .3l1 .4l1 .5l1.1 .4l1 .5l1 .5l1.1 .4l1 .5l1 .5l1 .6l1.1 .5l1 .6l1 .5l1 .6l3.8-.1l-1-.6l-1-.7l-1.1-.6l-1-.6l-1-.6l-1-.5l-1.1-.5l-1-.5l-1-.5l-1-.5l-1-.4l-1.1-.5l-1-.4l-1-.4z"/>
<path fill="#a0d0f2" stroke="#a0d0f2" d="M337.3 248.6l1 .6l1.1 .6l1 .7l3.8 .3l-1.1-.8l-1-.8l-1-.7z"/>
<path fill="#c9d0f2" stroke="#c9d0f2" d="M340.4 250.5l1 .8l1 .8l1.1 1l1 1l3.7 .6l-1-1.1l-1-1l-1-.9l-1-.9z"/>
<path fill="#b4d7f2" stroke="#b4d7f2" d="M344.5 254.1l1 1.1l1 1.2l1.1 1.4l3.7 1.2l-1-1.7l-1-1.3l-1.1-1.3z"/>
<path fill="#99e4f2" stroke="#99e4f2" d="M347.6 257.8l1 1.5l1 1.9l1 2.2l3.7 2l-1-2.3l-1-2.2l-1-1.9z"/>
<path fill="#a0dde4" stroke="#a0dde4" d="M350.6 263.4l1 2.4l1 2.3l1.1 2.2l3.6 2.8l-1-3.3l-1-2.2l-1-2.2z"/>
<path fill="#b4ddd7" stroke="#b4ddd7" d="M353.7 270.3l1 2.7l1 3.8l1 3.4l3.6 11.6l-1-7.6l-1-6.1l-1-5z"/>
<path fill="#ebf2c9" stroke="#ebf2c9" d="M356.7 280.2l1 3.1l1 2.5l3.6 4.1l-1 6.3l-1-4.4z"/>
<path fill="#c2dda0" stroke="#c2dda0" d="M358.7 285.8l1 1.2l1-2.8l3.6-2.4l-1 2.6l-1 5.5z"/>
<path fill="#b4ddd7" stroke="#b4ddd7" d="M360.7 284.2l1-2l1-.4l1-.8l1-.7l1-.7l1.1-.1l1 1l1 1.5l.9 1.5l1 1.4l1 1l1 .6l1 0l1.1-.6l1-1.1l1-1.4l1-.3l1-.3l1.1-.4l1-.3l1-.4l3.7-5.3l-1.1 .8l-1 .7l-1 .7l-1 .5l-1 .7l-1 .6l-1.1 .5l-1 .9l-1 .7l-1 .4l-1-.4l-1-1l-1-1.4l-1-1.7l-1-1.7l-1-1.4l-1-.8l-1 .6l-1 1.9l-1 2.2l-1.1 2.6z"/>
<path d="M355.1 267.5L355.3 267.4M353.4 268.5L355.1 267.5M352.9 268.7L353.4 268.5M360.3 292.7L360.4 292.1M361.9 292.5L360.3 292.7" fill="none" stroke="#50606a" stroke-width="0.45" opacity="0.45"/>
<path fill="#d0d0eb" stroke="#d0d0eb" d="M296.6 236.9l1 .2l1 .2l1 .3l1.1 .2l1 .2l1 .2l1 .3l1.1 .2l1 .2l1 .3l1.1 .2l1 .2l1 .3l1 .2l1.1 .2l1 .3l1 .2l1 .3l1.1 .3l1 .2l1 .3l1.1 .4l1 .3l3.8-.5l-1-.3l-1.1-.4l-1-.3l-1-.3l-1-.3l-1.1-.2l-1-.3l-1-.3l-1-.2l-1.1-.2l-1-.3l-1-.2l-1-.2l-1.1-.3l-1-.2l-1-.2l-1-.3l-1.1-.2l-1-.2l-1-.2l-1-.3l-1.1-.2l-1-.2z"/>
<path fill="#84d0f2" stroke="#84d0f2" d="M320.2 242.6l1 .4l1 .5l1.1 .4l1 .5l1 .5l1.1 .4l1 .5l1 .5l1 .5l1.1 .5l1 .5l1 .5l1 .6l1.1 .5l1 .5l3.8-.1l-1.1-.6l-1-.6l-1-.6l-1-.5l-1-.6l-1.1-.5l-1-.6l-1-.5l-1-.5l-1.1-.4l-1-.5l-1-.5l-1.1-.4l-1-.5l-1-.4z"/>
<path fill="#a0d0f2" stroke="#a0d0f2" d="M335.6 249.9l1 .5l1.1 .6l1 .7l3.7 .4l-1-.8l-1-.8l-1-.7z"/>
<path fill="#c9d0f2" stroke="#c9d0f2" d="M338.7 251.7l1 .8l1 1l1.1 1l1 1l3.7 .9l-1-1.2l-1-1.1l-1-1l-1.1-1z"/>
<path fill="#b4d7f2" stroke="#b4d7f2" d="M342.8 255.5l1 1.3l1 1.3l3.8 1.2l-1-1.5l-1.1-1.4z"/>
<path fill="#99e4f2" stroke="#99e4f2" d="M344.8 258.1l1.1 1.5l1 1.8l1 2.1l3.7 2.3l-1-2.4l-1-2.2l-1-1.9z"/>
<path fill="#a0dde4" stroke="#a0dde4" d="M347.9 263.5l1 2.3l1 2.5l1.1 2.4l3.7 2.3l-1-2.7l-1.1-2.2l-1-2.3z"/>
<path fill="#b4ddd7" stroke="#b4ddd7" d="M351.0 270.7l1 2.4l1 3.1l1 3.6l1 1.2l1 .4l1-.2l1 .3l1-.7l1.1 .1l1 1.1l1 .9l1 .9l1 .8l1 .6l1 1.3l1 1.5l1 1.4l1 1.2l3.6-4.1l-1-.6l-1-1l-1-1.4l-.9-1.5l-1-1.5l-1-1l-1.1 .1l-1 .7l-1 .7l-1 .8l-1 .4l-1 2l-1 2.8l-1-1.2l-1-2.5l-1-3.1l-1-3.4l-1-3.8z"/>
<path fill="#c2dda0" stroke="#c2dda0" d="M369.1 290.6l1 .5l1 0l3.7-5.2l-1.1 .6l-1 0z"/>
<path fill="#b4ddd7" stroke="#b4ddd7" d="M371.1 291.1l1-.4l1-.9l1.1-1.4l1-1.7l1-.9l1-.1l1 0l3.7-4l-1 .4l-1 .3l-1.1 .4l-1 .3l-1 .3l-1 1.4l-1 1.1z"/>
<path d="M351.9 269.4L352.9 268.7M350.7 270.1L351.9 269.4" fill="none" stroke="#50606a" stroke-width="0.45" opacity="0.45"/>
<path fill="#d0d0eb" stroke="#d0d0eb" d="M292.7 237.5l1 .2l1 .3l1.1 .2l1 .2l1 .2l1.1 .3l1 .2l1 .2l1.1 .3l1 .2l1 .2l1 .3l1.1 .2l1 .2l1 .2l1.1 .3l1 .2l1 .3l1 .2l1.1 .3l1 .3l1 .2l1.1 .4l1 .4l3.8-.5l-1-.4l-1-.3l-1.1-.4l-1-.3l-1-.2l-1.1-.3l-1-.3l-1-.2l-1-.3l-1.1-.2l-1-.2l-1-.3l-1-.2l-1.1-.2l-1-.3l-1-.2l-1.1-.2l-1-.3l-1-.2l-1-.2l-1.1-.2l-1-.3l-1-.2l-1-.2z"/>
<path fill="#84d0f2" stroke="#84d0f2" d="M317.4 243.5l1 .4l1.1 .5l1 .5l1 .5l1.1 .4l1 .5l1 .5l1.1 .4l1 .5l1 .5l1 .5l1.1 .5l1 .5l1 .5l1.1 .5l1 .4l3.8-.1l-1.1-.6l-1-.5l-1-.5l-1.1-.5l-1-.6l-1-.5l-1-.5l-1.1-.5l-1-.5l-1-.5l-1-.5l-1.1-.4l-1-.5l-1-.5l-1.1-.4l-1-.5z"/>
<path fill="#a0d0f2" stroke="#a0d0f2" d="M333.9 251.1l1 .5l1 .6l1.1 .7l3.7 .6l-1-1l-1-.8l-1-.7z"/>
<path fill="#c9d0f2" stroke="#c9d0f2" d="M337.0 252.9l1 .9l1 1l1.1 1l1 1.2l3.7 1.1l-1-1.3l-1-1.3l-1-1l-1.1-1z"/>
<path fill="#b4d7f2" stroke="#b4d7f2" d="M341.1 257.0l1 1.3l1 1.5l3.8 1.6l-1-1.8l-1.1-1.5z"/>
<path fill="#99e4f2" stroke="#99e4f2" d="M343.1 259.8l1.1 1.6l1 2l1 2.2l3.7 2.7l-1-2.5l-1-2.3l-1-2.1z"/>
<path fill="#a0dde4" stroke="#a0dde4" d="M346.2 265.6l1.1 2.5l1 2.6l1 2.4l3.7 3.1l-1-3.1l-1-2.4l-1.1-2.4z"/>
<path fill="#b4ddd7" stroke="#b4ddd7" d="M349.3 273.1l1 2.6l1 3.6l1 3l1.1-.9l1-1.8l1-1.8l1 0l1 .6l1 1.3l1 2.3l1 2.4l1 2.6l1 2.6l3.7-3.1l-1-1.3l-1-.6l-1-.8l-1-.9l-1-.9l-1-1.1l-1.1-.1l-1 .7l-1-.3l-1 .2l-1-.4l-1-1.2l-1-3.6z"/>
<path fill="#c2dda0" stroke="#c2dda0" d="M362.4 289.6l1 2.1l1 1.9l1 1.7l3.7-4.7l-1-1.2l-1-1.4l-1-1.5z"/>
<path fill="#ebf2c9" stroke="#ebf2c9" d="M365.4 295.3l1 1.4l1 .9l1 0l1.1-.8l3.6-7l-1 .9l-1 .4l-1 0l-1-.5z"/>
<path fill="#c2dda0" stroke="#c2dda0" d="M369.5 296.8l1-1l1-1.3l3.7-7.8l-1 1.7l-1.1 1.4z"/>
<path fill="#b4ddd7" stroke="#b4ddd7" d="M371.5 294.5l1-1.7l1.1-2.1l1-2.4l3.6-2.6l-1 0l-1 .1l-1 .9z"/>
<path d="M350.4 270.3L350.7 270.1M349.1 271.2L350.4 270.3M348.6 271.5L349.1 271.2" fill="none" stroke="#50606a" stroke-width="0.45" opacity="0.45"/>
<path fill="#d0d0eb" stroke="#d0d0eb" d="M288.8 238.1l1.1 .2l1 .3l1 .2l1.1 .2l1 .2l1 .3l1 .2l1.1 .2l1 .3l1 .2l1.1 .2l1 .3l1 .2l1.1 .2l1 .3l1 .2l1.1 .2l1 .3l1 .2l1.1 .3l1 .3l1 .3l1.1 .3l1 .3l1 .4l3.8-.5l-1-.4l-1-.4l-1.1-.4l-1-.2l-1-.3l-1.1-.3l-1-.2l-1-.3l-1-.2l-1.1-.3l-1-.2l-1-.2l-1.1-.2l-1-.3l-1-.2l-1-.2l-1.1-.3l-1-.2l-1-.2l-1.1-.3l-1-.2l-1-.2l-1.1-.2l-1-.3l-1-.2z"/>
<path fill="#84d0f2" stroke="#84d0f2" d="M314.6 244.4l1.1 .5l1 .4l1 .5l1.1 .4l1 .4l1 .5l1.1 .4l1 .4l1 .5l1.1 .4l1 .5l1 .5l1.1 .5l1 .5l1 .6l1 .6l1.1 .6l3.7-.4l-1-.6l-1-.5l-1-.4l-1.1-.5l-1-.5l-1-.5l-1.1-.5l-1-.5l-1-.5l-1-.5l-1.1-.4l-1-.5l-1-.5l-1.1-.4l-1-.5l-1-.5l-1.1-.5z"/>
<path fill="#a0d0f2" stroke="#a0d0f2" d="M332.2 252.6l1 .7l1 .8l3.8-.3l-1-.9l-1.1-.7z"/>
<path fill="#c9d0f2" stroke="#c9d0f2" d="M334.2 254.1l1.1 .8l1 .9l1 1l1.1 1.1l3.7 .4l-1-1.3l-1-1.2l-1.1-1l-1-1z"/>
<path fill="#b4d7f2" stroke="#b4d7f2" d="M338.4 257.9l1 1.3l1 1.6l3.8 .6l-1.1-1.6l-1-1.5z"/>
<path fill="#99e4f2" stroke="#99e4f2" d="M340.4 260.8l1.1 2l1 2.2l1 2.4l3.8 .7l-1.1-2.5l-1-2.2l-1-2z"/>
<path fill="#a0dde4" stroke="#a0dde4" d="M343.5 267.4l1.1 2.2l1 1.8l1 1.6l3.7 2.7l-1-2.6l-1-2.4l-1-2.6z"/>
<path fill="#b4ddd7" stroke="#b4ddd7" d="M346.6 273.0l1 1.5l1.1 1.4l1 1.8l1 1.6l1 .4l1 0l1 .1l1.1 .8l1 1.1l1 1.5l1 2.1l1 2.1l1 2.4l3.6 1.9l-1-2.1l-1-2.6l-1-2.6l-1-2.4l-1-2.3l-1-1.3l-1-.6l-1 0l-1 1.8l-1 1.8l-1.1 .9l-1-3l-1-3.6z"/>
<path fill="#c2dda0" stroke="#c2dda0" d="M359.8 289.8l1 2.5l3.6 1.3l-1-1.9z"/>
<path fill="#ebf2c9" stroke="#ebf2c9" d="M360.8 292.3l1 2.3l1 2.3l1 2.1l1 1.3l1 .6l1 0l1.1-.9l1-.6l3.6-6.6l-1 1.7l-1 1.3l-1 1l-1.1 .8l-1 0l-1-.9l-1-1.4l-1-1.7z"/>
<path fill="#c2dda0" stroke="#c2dda0" d="M368.9 299.4l1-.5l1-.6l3.7-10l-1 2.4l-1.1 2.1z"/>
<path d="M347.3 272.2L348.6 271.5M346.5 272.9L347.3 272.2" fill="none" stroke="#50606a" stroke-width="0.45" opacity="0.45"/>
<path fill="#d0d0eb" stroke="#d0d0eb" d="M285.0 238.7l1 .2l1 .3l1.1 .2l1 .2l1 .3l1.1 .2l1 .2l1 .3l1.1 .2l1 .2l1 .3l1.1 .2l1 .2l1 .2l1.1 .3l1 .2l1 .2l1.1 .3l1 .2l1 .3l1.1 .3l1 .2l1 .4l1.1 .3l1 .4l1 .4l3.9-.5l-1.1-.5l-1-.4l-1-.3l-1.1-.3l-1-.3l-1-.3l-1.1-.3l-1-.2l-1-.3l-1.1-.2l-1-.2l-1-.3l-1.1-.2l-1-.2l-1-.3l-1.1-.2l-1-.2l-1-.3l-1.1-.2l-1-.2l-1-.3l-1-.2l-1.1-.2l-1-.2l-1-.3l-1.1-.2z"/>
<path fill="#84d0f2" stroke="#84d0f2" d="M311.8 245.4l1.1 .4l1 .4l1.1 .4l1 .4l1 .4l1.1 .4l1 .4l1 .4l1.1 .4l1 .5l1 .4l1.1 .5l1 .5l1 .5l1.1 .6l1 .7l1 .7l3.8-.1l-1-.7l-1.1-.6l-1-.6l-1-.6l-1-.5l-1.1-.5l-1-.5l-1-.5l-1.1-.4l-1-.5l-1-.4l-1.1-.4l-1-.5l-1-.4l-1.1-.4l-1-.5l-1-.4z"/>
<path fill="#a0d0f2" stroke="#a0d0f2" d="M329.4 253.4l1.1 .8l1 .9l3.8-.2l-1.1-.8l-1-.8z"/>
<path fill="#c9d0f2" stroke="#c9d0f2" d="M331.5 255.1l1.1 .9l1 .9l1 .9l1.1 1l1 1.2l3.7 .8l-1-1.6l-1-1.3l-1.1-1.1l-1-1l-1-.9z"/>
<path fill="#b4d7f2" stroke="#b4d7f2" d="M336.7 260.0l1 1.5l3.8 1.3l-1.1-2z"/>
<path fill="#99e4f2" stroke="#99e4f2" d="M337.7 261.5l1.1 1.9l1 2.5l1.1 2.9l3.7 .8l-1.1-2.2l-1-2.4l-1-2.2z"/>
<path fill="#a0dde4" stroke="#a0dde4" d="M340.9 268.8l1 2.7l1 2.2l1 .9l1.1 .6l1 .5l3.7 2l-1-1.8l-1.1-1.4l-1-1.5l-1-1.6l-1-1.8z"/>
<path fill="#b4ddd7" stroke="#b4ddd7" d="M346.0 275.7l1 .4l1 .4l1.1 .6l1 .9l1 1.4l1 1.7l1 1.9l1.1 1.9l1 1.9l1 1.9l1 2l3.6 1.6l-1-2.5l-1-2.4l-1-2.1l-1-2.1l-1-1.5l-1-1.1l-1.1-.8l-1-.1l-1 0l-1-.4l-1-1.6z"/>
<path fill="#c2dda0" stroke="#c2dda0" d="M357.2 290.7l1 2.1l1 2.2l3.6 1.9l-1-2.3l-1-2.3z"/>
<path fill="#ebf2c9" stroke="#ebf2c9" d="M359.2 295.0l1 2.2l1 2.5l3.6 .6l-1-1.3l-1-2.1z"/>
<path fill="#f9f2ad" stroke="#f9f2ad" d="M361.2 299.7l1 2.9l1 1.9l1 .3l1.1-.1l1-.8l3.6-5l-1 .5l-1 .6l-1.1 .9l-1 0l-1-.6z"/>
<path fill="#ebf2c9" stroke="#ebf2c9" d="M366.3 303.9l1-1.6l3.6-4l-1 .6z"/>
<path d="M345.6 273.2L346.5 272.9M343.3 274.0L345.6 273.2M362.8 303.7L364.4 303.4M365.0 303.8L364.4 303.4M365.6 304.2L365.0 303.8M365.6 304.4L365.6 304.2" fill="none" stroke="#50606a" stroke-width="0.45" opacity="0.45"/>
</g>
<path d="M284.9 237.0L288.4 337.2" stroke="#888" stroke-width="0.8"/>
<defs><linearGradient id="cb246" x1="0" y1="0" x2="0" y2="1"><stop offset="0.010" stop-color="#c8c8e8"/><stop offset="0.044" stop-color="#70c8f0"/><stop offset="0.075" stop-color="#90c8f0"/><stop offset="0.101" stop-color="#c0c8f0"/><stop offset="0.132" stop-color="#a8d0f0"/><stop offset="0.175" stop-color="#88e0f0"/><stop offset="0.235" stop-color="#90d8e0"/><stop offset="0.326" stop-color="#a8d8d0"/><stop offset="0.401" stop-color="#b8d890"/><stop offset="0.438" stop-color="#e8f0c0"/><stop offset="0.488" stop-color="#f8f0a0"/><stop offset="0.541" stop-color="#fce8c8"/><stop offset="0.584" stop-color="#fcc0a8"/><stop offset="0.676" stop-color="#f4a8b0"/><stop offset="0.769" stop-color="#ecc0c8"/><stop offset="0.818" stop-color="#e8d0e8"/><stop offset="0.900" stop-color="#d4d0ec"/><stop offset="0.960" stop-color="#d0c0f4"/></linearGradient></defs>
<rect x="437.8" y="235.3" width="17.5" height="94.0" fill="url(#cb246)"/>
<rect x="437.8" y="329.3" width="17.5" height="3.3" fill="#111"/>
<g font-family='"Liberation Sans", sans-serif' font-weight="bold" font-size="6.9" fill="#111">
<text x="457.6" y="238.7">0.000</text>
<text x="457.6" y="262.2">-10.00</text>
<text x="457.6" y="285.8">-20.00</text>
<text x="457.6" y="309.3">-30.00</text>
<text x="457.6" y="332.8">-40.00</text>
</g>
<g font-family='"Liberation Sans", sans-serif' font-weight="bold" font-size="6" fill="#222" text-anchor="end">
<text x="282.5" y="240.7">0</text>
<text x="283.2" y="263.2">-10</text>
<text x="284.0" y="285.8">-20</text>
<text x="284.8" y="308.3">-30</text>
<text x="285.6" y="330.9">-40</text>
</g>
<text transform="translate(268.3 290.5) rotate(90)" font-family='"Liberation Sans", sans-serif' font-weight="bold" font-size="8.6" text-anchor="middle" fill="#111">Reflection loss (dB)</text>
<text x="249.9" y="225.9" font-family='"Liberation Sans", sans-serif' font-weight="bold" font-size="19.3" fill="#111">(e)</text>
<g font-family='"Liberation Sans", sans-serif' font-weight="bold" font-size="5.2" fill="#444" text-anchor="middle">
<text transform="matrix(0.942 0.336 -0.400 0.620 283.3 340.6)">2</text>
<text transform="matrix(0.942 0.336 -0.400 0.620 293.1 344.1)">4</text>
<text transform="matrix(0.942 0.336 -0.400 0.620 302.9 347.6)">6</text>
<text transform="matrix(0.942 0.336 -0.400 0.620 312.7 351.1)">8</text>
<text transform="matrix(0.942 0.336 -0.400 0.620 322.5 354.6)">10</text>
<text transform="matrix(0.942 0.336 -0.400 0.620 332.3 358.1)">12</text>
<text transform="matrix(0.942 0.336 -0.400 0.620 342.1 361.6)">14</text>
<text transform="matrix(0.942 0.336 -0.400 0.620 351.9 365.1)">16</text>
<text transform="matrix(0.942 0.336 -0.400 0.620 361.8 368.6)">18</text>
<text transform="matrix(0.889 -0.457 0.400 0.620 374.0 369.2)">1.6</text>
<text transform="matrix(0.889 -0.457 0.400 0.620 387.9 362.1)">1.8</text>
<text transform="matrix(0.889 -0.457 0.400 0.620 401.8 354.9)">2.0</text>
<text transform="matrix(0.889 -0.457 0.400 0.620 415.7 347.8)">2.2</text>
<text transform="matrix(0.889 -0.457 0.400 0.620 429.6 340.6)">2.4</text>
</g>
<text transform="matrix(0.942 0.336 -0.400 0.620 313.6 358.5)" font-family='"Liberation Sans", sans-serif' font-weight="bold" font-size="6.9" text-anchor="middle" fill="#3a3a3a">Frequency (GHz)</text>
<text transform="matrix(0.889 -0.457 0.400 0.620 416.1 357.5)" font-family='"Liberation Sans", sans-serif' font-weight="bold" font-size="6.3" text-anchor="middle" fill="#3a3a3a">Thickness (mm)</text>
<path d="M525.3 332.7L591.6 307.7L591.4 221.9L521.8 232.5Z" fill="#fff" stroke="#b8b8b8" stroke-width="0.8"/>
<path d="M591.6 307.7L666.4 328.5L670.9 229.9L591.4 221.9Z" fill="#fff" stroke="#b8b8b8" stroke-width="0.8"/>
<path d="M521.9 234.1L591.4 223.3L670.8 231.5 M522.5 252.5L591.4 239.0L670.0 249.5 M523.1 270.8L591.5 254.7L669.2 267.6 M523.8 289.1L591.5 270.4L668.4 285.6 M524.4 307.4L591.5 286.1L667.5 303.6 M525.1 325.7L591.6 301.7L666.7 321.7 M540.0 327.1L537.3 230.1 M554.8 321.6L552.7 227.8 M569.5 316.0L568.2 225.4 M584.2 310.5L583.7 223.1 M601.0 310.3L601.3 222.9 M610.3 312.9L611.3 223.9 M619.6 315.5L621.2 224.9 M629.0 318.1L631.1 225.9 M638.4 320.7L641.1 226.9 M647.7 323.3L651.0 227.9 M657.1 325.9L661.0 228.9" fill="none" stroke="#e8e8e8" stroke-width="0.6"/>
<g stroke-width="0.5">
<path fill="#d0d0eb" stroke="#d0d0eb" d="M525.3 332.7l43.2 15.4l3.5-1.6l-43-15.2zM529.0 331.3l40.1 14.2l3.6-1.6l-40-14zM532.7 329.9l38 13.3l3.6-1.6l-37.9-13.1zM536.4 328.5l36 12.4l3.6-1.5l-36-12.3zM540.0 327.1l36 12.3l3.5-1.6l-35.8-12zM543.7 325.8l34.9 11.7l3.6-1.6l-34.8-11.5zM547.4 324.4l33.8 11.2l3.6-1.6l-33.7-11zM551.1 323.0l32.7 10.7l3.6-1.6l-32.6-10.5zM554.8 321.6l31.7 10.2l3.6-1.5l-31.7-10.1zM558.5 320.2l30.7 9.8l3.6-1.6l-30.6-9.6zM562.1 318.8l29.7 9.3l3.6-1.5l-29.6-9.2zM565.8 317.4l27.7 8.6l3.6-1.6l-27.6-8.4zM569.5 316.0l26.6 8.2l3.6-1.6l-26.5-8zM573.2 314.6l25.6 7.7l3.6-1.5l-25.5-7.5zM576.9 313.3l25.5 7.5l3.6-1.5l-25.4-7.4zM580.6 311.9l24.5 7.1l3.6-1.5l-24.5-7zM584.2 310.5l23.5 6.7l3.7-1.5l-23.5-6.6zM587.9 309.1l21.6 6.1l3.6-1.5l-21.5-6z"/>
<path fill="#84d0f2" stroke="#84d0f2" d="M568.5 348.1l13.7 4.9l3.5-1.7l-13.7-4.8zM569.1 345.5l14.7 5.1l3.5-1.6l-14.6-5.1zM570.7 343.2l14.7 5.1l3.5-1.7l-14.6-5zM572.4 340.9l14.6 5.1l3.5-1.7l-14.5-4.9zM576.0 339.4l12.6 4.2l3.5-1.6l-12.6-4.2zM578.6 337.5l12.6 4.2l3.5-1.7l-12.5-4.1zM581.2 335.6l11.6 3.8l3.6-1.6l-11.6-3.8zM583.8 333.7l10.6 3.5l3.6-1.7l-10.6-3.4zM586.5 331.8l10.5 3.4l3.6-1.6l-10.5-3.3zM589.1 330.0l9.6 3l3.6-1.6l-9.6-3zM591.8 328.1l9.5 3l3.6-1.6l-9.5-2.9zM593.5 326.0l10.4 3.2l3.6-1.6l-10.4-3.2zM596.1 324.2l11.4 3.4l3.6-1.6l-11.4-3.4zM598.8 322.3l11.3 3.5l3.6-1.6l-11.3-3.4zM602.4 320.8l10.4 3.1l3.6-1.6l-10.4-3zM605.1 319.0l9.4 2.8l3.6-1.6l-9.4-2.7zM607.7 317.2l9.4 2.7l3.6-1.5l-9.3-2.7zM609.5 315.2l10.3 2.9l3.6-1.6l-10.3-2.8z"/>
<path fill="#a0d0f2" stroke="#a0d0f2" d="M582.2 353.0l4.9 1.8l3.5-1.8l-4.9-1.7zM583.8 350.6l3.9 1.4l3.5-1.7l-3.9-1.3zM585.4 348.3l2.9 1l3.5-1.7l-2.9-1zM587.0 346.0l1.9 .6l3.6-1.6l-2-.7zM588.6 343.6l2.9 1l3.5-1.6l-2.9-1zM591.2 341.7l1.9 .6l3.6-1.6l-2-.7zM592.8 339.4l2.9 1l3.5-1.7l-2.8-.9zM594.4 337.2l2.9 .9l3.6-1.6l-2.9-1zM597.0 335.2l2 .6l3.5-1.6l-1.9-.6zM598.7 333.0l2.9 .9l3.5-1.6l-2.8-.9zM601.3 331.1l1.9 .6l3.6-1.6l-1.9-.6zM603.9 329.2l1.9 .6l3.6-1.6l-1.9-.6zM607.5 327.6l1 .3l3.5-1.6l-.9-.3zM610.1 325.8l1.9 .5l3.6-1.6l-1.9-.5zM612.8 323.9l1.9 .6l3.6-1.6l-1.9-.6zM614.5 321.8l2.8 .8l3.6-1.6l-2.8-.8zM653.1 333.0l2.9 .9l3.4-1.8l-2.8-.8zM617.1 319.9l2.9 .8l3.5-1.5l-2.8-.8zM653.8 330.5l5.6 1.6l3.5-1.8l-5.6-1.6zM619.8 318.1l1.9 .5l3.6-1.5l-1.9-.6zM654.5 327.9l8.4 2.4l3.5-1.8l-8.4-2.3z"/>
<path fill="#c9d0f2" stroke="#c9d0f2" d="M587.1 354.8l3.9 1.4l3.6-1.8l-4-1.4zM587.7 352.0l4.9 1.7l3.5-1.7l-4.9-1.7zM588.3 349.3l5.9 2l3.5-1.7l-5.9-2zM588.9 346.6l5.9 2l3.5-1.7l-5.8-1.9zM591.5 344.6l3.9 1.4l3.5-1.7l-3.9-1.3zM593.1 342.3l4.8 1.7l3.6-1.7l-4.8-1.6zM595.7 340.4l3.9 1.2l3.5-1.6l-3.9-1.3zM597.3 338.1l4.8 1.6l3.6-1.7l-4.8-1.5zM599.0 335.8l4.8 1.6l3.5-1.6l-4.8-1.6zM601.6 333.9l4.8 1.5l3.5-1.6l-4.8-1.5zM603.2 331.7l4.8 1.5l3.6-1.6l-4.8-1.5zM605.8 329.8l4.8 1.5l3.6-1.6l-4.8-1.5zM637.3 339.5l4.8 1.5l3.4-1.8l-4.7-1.4zM608.5 327.9l4.7 1.5l3.6-1.6l-4.8-1.5zM637.0 336.6l8.5 2.6l3.5-1.8l-8.5-2.5zM612.0 326.3l3.8 1.2l3.6-1.6l-3.8-1.2zM636.7 333.7l12.3 3.7l3.5-1.7l-12.3-3.7zM614.7 324.5l2.8 .8l3.6-1.6l-2.8-.8zM638.3 331.5l14.2 4.2l3.5-1.8l-14.2-4.2zM617.3 322.6l2.8 .8l3.6-1.6l-2.8-.8zM640.9 329.5l12.2 3.5l3.5-1.7l-12.2-3.5zM620.0 320.7l2.8 .8l3.6-1.5l-2.9-.8zM643.5 327.5l10.3 3l3.5-1.8l-10.3-2.9zM621.7 318.6l4.7 1.4l3.5-1.6l-4.6-1.3zM646.0 325.5l8.5 2.4l3.5-1.7l-8.4-2.4z"/>
<path fill="#b4d7f2" stroke="#b4d7f2" d="M591.0 356.2l2 .6l3.5-1.7l-1.9-.7zM592.6 353.7l2 .7l3.5-1.7l-2-.7zM594.2 351.3l1.9 .7l3.5-1.7l-1.9-.7zM594.8 348.6l2.9 1l3.5-1.7l-2.9-1zM595.4 346.0l2.9 .9l3.5-1.6l-2.9-1zM597.9 344.0l2 .6l3.5-1.7l-1.9-.6zM599.6 341.6l1.9 .7l3.5-1.7l-1.9-.6zM602.1 339.7l2 .6l3.5-1.7l-1.9-.6zM603.8 337.4l1.9 .6l3.5-1.6l-1.9-.6zM606.4 335.4l1.9 .7l3.5-1.7l-1.9-.6zM632.2 343.7l2.9 .9l3.5-1.8l-2.9-.9zM608.0 333.2l2.9 .9l3.5-1.6l-2.8-.9zM630.9 340.4l7.7 2.4l3.5-1.8l-7.7-2.3zM610.6 331.3l2.9 .9l3.5-1.7l-2.8-.8zM632.5 338.1l4.8 1.4l3.5-1.7l-4.8-1.5zM613.2 329.4l1.9 .6l3.6-1.7l-1.9-.5zM633.2 335.5l3.8 1.1l3.5-1.7l-3.8-1.2zM615.8 327.5l1.9 .5l3.6-1.6l-1.9-.5zM633.8 332.9l2.9 .8l3.5-1.7l-2.8-.8zM617.5 325.3l1.9 .6l3.6-1.7l-1.9-.5zM636.4 330.9l1.9 .6l3.5-1.8l-1.9-.5zM620.1 323.4l1.9 .6l3.6-1.6l-1.9-.6zM639.0 328.9l1.9 .6l3.5-1.7l-1.9-.6zM622.8 321.5l1.9 .6l3.5-1.6l-1.8-.5zM641.6 326.9l1.9 .6l3.5-1.7l-1.9-.5zM626.4 320.0l.9 .2l3.6-1.6l-1-.2zM644.2 325.0l1.8 .5l3.6-1.7l-1.9-.5z"/>
<path fill="#99e4f2" stroke="#99e4f2" d="M593.0 356.8l3.9 1.4l3.5-1.7l-3.9-1.4zM594.6 354.4l3.9 1.4l3.5-1.7l-3.9-1.4zM596.1 352.0l2.9 1l3.6-1.7l-3-1zM597.7 349.6l2.9 1l3.5-1.7l-2.9-1zM598.3 346.9l4.8 1.7l3.6-1.7l-4.9-1.6zM599.9 344.6l5.8 2l3.5-1.8l-5.8-1.9zM601.5 342.3l5.8 1.9l3.5-1.7l-5.8-1.9zM623.7 349.6l1 .4l3.4-1.8l-.9-.3zM604.1 340.3l2.9 .9l3.5-1.6l-2.9-1zM624.3 346.9l3.8 1.3l3.5-1.8l-3.8-1.3zM605.7 338.0l3.8 1.3l3.6-1.7l-3.9-1.2zM624.9 344.2l6.7 2.2l3.5-1.8l-6.7-2.1zM608.3 336.1l2.8 .9l3.6-1.7l-2.9-.9zM624.6 341.2l7.6 2.5l3.5-1.8l-7.6-2.4zM610.9 334.1l3.8 1.2l3.5-1.7l-3.8-1.1zM624.2 338.3l6.7 2.1l3.5-1.7l-6.6-2.1zM613.5 332.2l3.8 1.2l3.5-1.7l-3.8-1.2zM625.9 336.0l6.6 2.1l3.5-1.8l-6.6-2zM615.1 330.0l4.8 1.4l3.5-1.7l-4.7-1.4zM628.4 334.0l4.8 1.5l3.5-1.8l-4.8-1.4zM617.7 328.0l4.8 1.5l3.5-1.7l-4.7-1.4zM631.0 332.0l2.8 .9l3.6-1.7l-2.9-.9zM619.4 325.9l6.6 1.9l3.6-1.6l-6.6-2zM633.6 330.1l2.8 .8l3.5-1.7l-2.8-.8zM622.0 324.0l7.6 2.2l3.5-1.7l-7.5-2.1zM636.2 328.1l2.8 .8l3.5-1.7l-2.8-.8zM624.7 322.1l2.8 .8l3.5-1.6l-2.8-.8zM631.2 324.0l1.9 .5l3.6-1.6l-1.9-.6zM639.7 326.4l1.9 .5l3.5-1.6l-1.9-.6zM627.3 320.2l2.8 .8l3.6-1.6l-2.8-.8zM635.7 322.6l1.9 .5l3.6-1.6l-1.9-.5zM641.4 324.2l2.8 .8l3.5-1.7l-2.8-.8z"/>
<path fill="#a0dde4" stroke="#a0dde4" d="M596.9 358.2l2 .8l3.5-1.8l-2-.7zM598.5 355.8l2.9 1l3.5-1.7l-2.9-1zM599.0 353.0l4.9 1.7l3.5-1.7l-4.8-1.7zM600.6 350.6l2.9 1l3.5-1.7l-2.9-1zM603.1 348.6l2 .7l3.5-1.8l-1.9-.6zM605.7 346.6l1.9 .6l3.5-1.7l-1.9-.7zM617.3 350.5l1 .3l3.5-1.8l-1-.3zM607.3 344.2l2.9 1l3.5-1.7l-2.9-1zM619.8 348.4l3.9 1.2l3.5-1.7l-3.9-1.3zM607.0 341.2l7.7 2.6l3.5-1.8l-7.7-2.4zM621.4 346.0l2.9 .9l3.5-1.8l-2.9-.9zM609.5 339.3l15.4 4.9l3.5-1.7l-15.3-4.9zM611.1 337.0l2.9 .9l3.6-1.7l-2.9-.9zM617.9 339.1l6.7 2.1l3.5-1.7l-6.7-2.1zM614.7 335.3l1.9 .6l3.5-1.7l-1.9-.6zM621.4 337.4l2.8 .9l3.6-1.7l-2.9-.9zM617.3 333.4l1.9 .5l3.5-1.6l-1.9-.6zM623.0 335.1l2.9 .9l3.5-1.7l-2.9-.9zM619.9 331.4l1.9 .6l3.5-1.7l-1.9-.6zM625.6 333.1l2.8 .9l3.5-1.7l-2.8-.8zM622.5 329.5l1.9 .5l3.5-1.6l-1.9-.6zM629.1 331.5l1.9 .5l3.5-1.7l-1.9-.5zM626.0 327.8l1.9 .6l3.6-1.7l-1.9-.5zM631.7 329.5l1.9 .6l3.5-1.7l-1.9-.6zM629.6 326.2l6.6 1.9l3.5-1.7l-6.6-1.9zM627.5 322.9l3.7 1.1l3.6-1.7l-3.8-1zM633.1 324.5l6.6 1.9l3.5-1.7l-6.5-1.8zM630.1 321.0l5.6 1.6l3.6-1.6l-5.6-1.6zM637.6 323.1l3.8 1.1l3.5-1.7l-3.7-1z"/>
<path fill="#b4ddd7" stroke="#b4ddd7" d="M598.9 358.9l3.9 1.4l3.5-1.8l-3.9-1.4zM601.4 356.8l2.9 1.1l3.5-1.8l-2.9-1zM603.9 354.7l3 1.1l3.4-1.8l-2.9-1zM603.5 351.6l7.8 2.7l3.5-1.7l-7.8-2.7zM605.1 349.3l10.7 3.6l3.5-1.8l-10.7-3.6zM607.6 347.2l9.7 3.3l3.5-1.8l-9.7-3.2zM618.3 350.8l2.9 1l3.5-1.8l-2.9-1zM610.2 345.2l9.6 3.2l3.5-1.8l-9.6-3.1zM614.7 343.8l6.7 2.2l3.5-1.8l-6.7-2.2zM614.0 337.9l3.9 1.2l3.5-1.7l-3.8-1.2zM616.6 335.9l4.8 1.5l3.5-1.7l-4.8-1.5zM619.2 333.9l3.8 1.2l3.5-1.7l-3.8-1.1zM621.8 332.0l3.8 1.1l3.5-1.6l-3.8-1.2zM624.4 330.0l4.7 1.5l3.5-1.7l-4.7-1.4zM627.9 328.4l3.8 1.1l3.5-1.7l-3.7-1.1z"/>
<path fill="#c2dda0" stroke="#c2dda0" d="M606.9 355.8l.9 .3l3.5-1.8l-1-.3zM615.8 352.9l.9 .3l3.5-1.8l-.9-.3z"/>
<path fill="#ebf2c9" stroke="#ebf2c9" d="M602.8 360.4l1 .3l3.5-1.8l-1-.3zM611.3 354.3l1 .4l3.5-1.8l-1-.3z"/>
<path fill="#f9f2ad" stroke="#f9f2ad" d="M604.3 357.9l1 .3l3.5-1.8l-1-.3zM607.8 356.1l1 .3l3.5-1.7l-1-.4zM616.7 353.2l1 .3l3.5-1.7l-1-.4z"/>
<path fill="#fcebd0" stroke="#fcebd0" d="M612.3 354.7l1 .3l3.4-1.8l-.9-.3z"/>
<path fill="#fcc9b4" stroke="#fcc9b4" d="M605.3 358.2l1 .4l3.5-1.8l-1-.4z"/>
<path fill="#f6b4bb" stroke="#f6b4bb" d="M606.3 358.6l1 .3l3.5-1.8l-1-.3zM608.8 356.4l1 .4l3.5-1.8l-1-.3zM613.3 355.0l.9 .3l3.5-1.8l-1-.3z"/>
<path fill="#ebd7eb" stroke="#ebd7eb" d="M609.8 356.8l1 .3l3.4-1.8l-.9-.3z"/>
</g>
<path d="M598.4 356.7L598.9 355.9M597.5 358.0L598.4 356.7M597.2 358.4L597.5 358.0M604.3 358.7L604.7 358.0M604.2 359.6L604.3 358.7M604.8 360.2L604.2 359.6M599.9 353.4L600.0 353.4M599.5 354.5L599.9 353.4M599.1 355.5L599.5 354.5M598.9 355.9L599.1 355.5M606.7 355.9L606.8 355.7M605.2 357.5L606.7 355.9M604.7 358.0L605.2 357.5M600.8 351.4L601.2 350.8M600.2 352.5L600.8 351.4M600.0 353.4L600.2 352.5M606.8 355.7L607.2 355.6M610.9 354.2L607.2 355.6M602.0 350.0L603.4 348.7M601.2 350.8L602.0 350.0M610.9 354.2L612.6 353.7M615.4 352.8L612.6 353.7M604.2 348.1L605.7 346.6M603.4 348.7L604.2 348.1M615.4 352.8L616.6 352.5M619.6 351.7L616.6 352.5M620.9 351.7L619.6 351.7M606.7 344.5L606.8 344.1M606.4 345.4L606.7 344.5M605.8 346.5L606.4 345.4M605.7 346.6L605.8 346.5M614.0 346.5L614.0 346.4M614.9 346.8L614.0 346.5M615.1 346.8L614.9 346.8M620.9 351.7L621.4 351.7M607.4 341.8L607.6 341.5M607.1 342.7L607.4 341.8M607.0 343.6L607.1 342.7M606.8 344.1L607.0 343.6M614.0 346.4L614.1 346.4M615.1 346.7L614.1 346.4M615.1 346.8L615.1 346.7M627.1 347.9L627.1 347.8M627.8 348.4L627.1 347.9M609.0 339.5L609.3 339.2M608.0 340.7L609.0 339.5M607.6 341.5L608.0 340.7M626.9 345.6L627.3 345.0M626.8 346.5L626.9 345.6M626.8 347.2L626.8 346.5M627.1 347.8L626.8 347.2M610.2 338.2L611.5 337.1M609.3 339.2L610.2 338.2M628.2 342.6L628.1 342.4M628.1 343.4L628.2 342.6M627.6 344.5L628.1 343.4M627.3 345.0L627.6 344.5M612.5 336.3L614.2 335.2M611.5 337.1L612.5 336.3M626.8 339.4L626.8 339.1M627.1 340.0L626.8 339.4M627.4 340.6L627.1 340.0M627.6 341.3L627.4 340.6M627.9 341.9L627.6 341.3M628.1 342.4L627.9 341.9M616.0 334.0L616.9 333.2M614.2 335.2L616.0 334.0M627.6 337.4L628.0 336.7M627.2 338.4L627.6 337.4M626.8 339.1L627.2 338.4M618.6 332.0L619.5 331.3M616.9 333.2L618.6 332.0M628.7 335.4L629.6 334.4M628.0 336.5L628.7 335.4M628.0 336.7L628.0 336.5M621.8 329.8L622.3 329.4M619.5 331.3L621.8 329.8M631.7 332.4L631.9 332.3M629.9 334.1L631.7 332.4M629.6 334.4L629.9 334.1M622.3 329.4L625.2 327.6M633.8 330.7L634.3 330.3M631.9 332.3L633.8 330.7M627.6 326.3L628.4 325.8M625.2 327.6L627.6 326.3M634.3 330.3L637.3 328.4M627.3 323.7L627.9 323.0M627.0 324.5L627.3 323.7M627.7 324.9L627.0 324.5M628.9 325.1L627.7 324.9M628.4 325.8L628.9 325.1M637.8 328.0L640.1 326.5M637.3 328.4L637.8 328.0M629.7 321.2L630.0 321.0M628.3 322.5L629.7 321.2M627.9 323.0L628.3 322.5M642.2 325.2L642.9 324.6M640.1 326.5L642.2 325.2M631.8 319.5L632.5 319.1M630.0 321.0L631.8 319.5M644.6 323.4L645.0 322.5M642.9 324.6L644.6 323.4" fill="none" stroke="#50606a" stroke-width="0.45" opacity="0.45"/>
<g stroke-width="0.5">
<path fill="#d0d0eb" stroke="#d0d0eb" d="M587.5 223.9l1 .1l1 .1l1 .2l1 .1l1 .1l1 .2l1 .1l1 .1l1 .2l1 .1l1 .2l1 .1l1 .2l1 .2l1 .1l1 .2l1 .2l.9 .2l1 .2l1 .3l1 .2l1 .3l1 .3l3.8-.5l-1-.3l-1-.3l-1-.3l-.9-.2l-1-.3l-1-.2l-1-.2l-1-.2l-1-.1l-1-.2l-1-.2l-1-.1l-1-.2l-1-.1l-1-.2l-.9-.1l-1-.2l-1-.1l-1-.1l-1-.2l-1-.1l-1-.1l-1-.1z"/>
<path fill="#84d0f2" stroke="#84d0f2" d="M610.4 227.9l1 .3l1 .3l1 .4l1 .5l1 .5l.9 .5l1 .5l1 .6l1 .5l1 .6l1 .6l3.7-.3l-.9-.7l-1-.6l-1-.6l-1-.6l-1-.5l-1-.5l-.9-.5l-1-.4l-1-.4l-1-.4l-1-.3z"/>
<path fill="#a0d0f2" stroke="#a0d0f2" d="M621.3 233.2l1 .6l.9 .6l3.8-.2l-1-.7l-1-.6z"/>
<path fill="#c9d0f2" stroke="#c9d0f2" d="M623.2 234.4l1 .6l1 .6l1 .8l.9 1l1 1.6l3.7 .1l-.9-1.8l-1-1.1l-1-.8l-.9-.6l-1-.6z"/>
<path fill="#b4d7f2" stroke="#b4d7f2" d="M628.1 239.0l1 1.7l3.7 .4l-1-2z"/>
<path fill="#99e4f2" stroke="#99e4f2" d="M629.1 240.7l.9 1.8l1 1.9l.9 1.7l3.7 1l-1-1.8l-.9-2.2l-.9-2z"/>
<path fill="#a0dde4" stroke="#a0dde4" d="M631.9 246.1l.9 1.6l1 1.4l1 .9l1-.5l1-1.1l1-.7l3.7-.5l-1 1.3l-1.1 1.7l-1 .9l-.9-.7l-1-1.6l-.9-1.7z"/>
<path fill="#99e4f2" stroke="#99e4f2" d="M637.8 247.7l1 0l.9 .8l3.8-2l-1-.2l-1 .9z"/>
<path fill="#a0dde4" stroke="#a0dde4" d="M639.7 248.5l1 .7l1 .7l.9 .3l1-.3l3.8-3.3l-1 .3l-1 .1l-.9-.3l-1-.2z"/>
<path fill="#99e4f2" stroke="#99e4f2" d="M643.6 249.9l1.1-1l1-1.6l1.1-2.6l3.7-2.8l-1 2.5l-1.1 1.5l-1 .7z"/>
<path fill="#b4d7f2" stroke="#b4d7f2" d="M646.8 244.7l1-1.7l1.1-1.2l3.7-2.4l-1 1l-1.1 1.5z"/>
<path fill="#c9d0f2" stroke="#c9d0f2" d="M648.9 241.8l1-1l1-.7l1-.4l1-.2l1-.1l1 0l1 0l1-.1l1 0l3.7-1.5l-1 .1l-1 0l-1 0l-1 0l-1 0l-1 .1l-1 .2l-1 .4l-1 .8z"/>
<path fill="#a0d0f2" stroke="#a0d0f2" d="M657.9 239.3l1-.1l1 0l1 0l1 0l1 0l1 0l1 0l1 0l1 0l3.6-1.5l-.9 0l-1 0l-1 0l-1 0l-1 0l-1 .1l-1 0l-1 0l-1 0z"/>
<path d="M633.7 245.0L634.4 244.8M631.8 245.9L633.7 245.0M647.1 247.0L647.5 246.5M645.4 247.8L647.1 247.0" fill="none" stroke="#50606a" stroke-width="0.45" opacity="0.45"/>
<path fill="#d0d0eb" stroke="#d0d0eb" d="M583.7 224.5l1 .1l1 .1l1 .2l1 .1l1 .1l1 .2l1 .1l1 .2l1 .1l.9 .1l1 .2l1 .2l1 .1l1 .2l1 .1l1 .2l1 .2l1 .2l1 .2l1 .2l1 .2l1 .3l1 .3l1 .2l1 .4l3.8-.5l-1-.3l-1-.3l-1-.3l-1-.3l-1-.2l-1-.3l-1-.2l-.9-.2l-1-.2l-1-.2l-1-.1l-1-.2l-1-.2l-1-.1l-1-.2l-1-.1l-1-.2l-1-.1l-1-.1l-1-.2l-1-.1l-1-.1l-1-.2l-1-.1l-1-.1z"/>
<path fill="#84d0f2" stroke="#84d0f2" d="M608.6 229.0l1 .4l1 .5l1 .5l1 .5l.9 .5l1 .5l1 .6l1 .6l1 .5l1 .6l3.8-.4l-1-.6l-1-.6l-1-.6l-1-.5l-1-.6l-1-.5l-.9-.5l-1-.5l-1-.5l-1-.4z"/>
<path fill="#a0d0f2" stroke="#a0d0f2" d="M618.5 234.2l1 .5l1 .5l.9 .6l3.8-.2l-1-.6l-1-.6l-.9-.6z"/>
<path fill="#c9d0f2" stroke="#c9d0f2" d="M621.4 235.8l1 .8l1 .9l1 1.4l3.7 .1l-1-1.6l-.9-1l-1-.8z"/>
<path fill="#b4d7f2" stroke="#b4d7f2" d="M624.4 238.9l.9 1.5l1 1.5l3.7 .6l-.9-1.8l-1-1.7z"/>
<path fill="#99e4f2" stroke="#99e4f2" d="M626.3 241.9l1 1.6l.9 1.5l1 1.5l3.6 1.2l-.9-1.6l-.9-1.7l-1-1.9z"/>
<path fill="#a0dde4" stroke="#a0dde4" d="M629.2 246.5l.9 1.3l1 .9l1 0l1-.4l3.7 .1l-1 1.1l-1 .5l-1-.9l-1-1.4z"/>
<path fill="#99e4f2" stroke="#99e4f2" d="M633.1 248.3l1 0l1 .7l3.7-1.3l-1 0l-1 .7z"/>
<path fill="#a0dde4" stroke="#a0dde4" d="M635.1 249.0l.9 1.6l1 1.2l.9 1.1l1 .6l1-.3l1-1.2l1.1-1.9l3.7-2.8l-1 1.6l-1.1 1l-1 .3l-.9-.3l-1-.7l-1-.7l-.9-.8z"/>
<path fill="#99e4f2" stroke="#99e4f2" d="M642.0 250.1l1-2.6l1.1-2l3.7-2.5l-1 1.7l-1.1 2.6z"/>
<path fill="#b4d7f2" stroke="#b4d7f2" d="M644.1 245.5l1-1.3l1-1.2l3.8-2.2l-1 1l-1.1 1.2z"/>
<path fill="#c9d0f2" stroke="#c9d0f2" d="M646.1 243.0l1.1-.9l1-.6l1-.4l1-.1l1-.1l1-.1l1 0l1-.1l1 0l1 0l1-.1l3.7-1.4l-1 0l-1 0l-1 .1l-1 0l-1 .1l-1 0l-1 0l-1 .1l-1 .2l-1 .4l-1 .7z"/>
<path fill="#a0d0f2" stroke="#a0d0f2" d="M657.2 240.6l1 0l1 0l1 .1l1 0l1 0l1 .1l3.7-1.6l-1 0l-1 0l-1 0l-1 0l-1 0l-1 0z"/>
<path d="M631.5 246.0L631.8 245.9M630.0 246.8L631.5 246.0M629.6 247.1L630.0 246.8M644.6 248.1L645.4 247.8M642.5 248.9L644.6 248.1" fill="none" stroke="#50606a" stroke-width="0.45" opacity="0.45"/>
<path fill="#d0d0eb" stroke="#d0d0eb" d="M579.8 225.1l1 .1l1 .2l1 .1l1 .1l1 .1l1 .2l1 .1l1 .2l1 .1l1 .2l1 .1l1 .2l1 .1l1 .2l1 .1l1 .2l1 .2l1 .1l1 .2l1 .2l1 .3l1 .2l1 .2l1 .3l1 .3l1 .5l3.8-.5l-1-.4l-1-.4l-1-.2l-1-.3l-1-.3l-1-.2l-1-.2l-1-.2l-1-.2l-1-.2l-1-.2l-1-.1l-1-.2l-1-.1l-1-.2l-1-.2l-.9-.1l-1-.1l-1-.2l-1-.1l-1-.2l-1-.1l-1-.1l-1-.2l-1-.1l-1-.1z"/>
<path fill="#84d0f2" stroke="#84d0f2" d="M605.8 229.9l1 .4l1 .5l1 .5l1 .6l1 .5l.9 .6l1 .5l1 .5l1 .5l1 .5l3.8-.3l-1-.5l-1-.6l-1-.5l-1-.6l-1-.6l-1-.5l-.9-.5l-1-.5l-1-.5l-1-.5z"/>
<path fill="#a0d0f2" stroke="#a0d0f2" d="M615.7 235.0l1 .5l1 .5l1 .7l3.7-.1l-1-.8l-.9-.6l-1-.5z"/>
<path fill="#c9d0f2" stroke="#c9d0f2" d="M618.7 236.7l1 .9l.9 1.1l1 1.3l3.7 .4l-.9-1.5l-1-1.4l-1-.9z"/>
<path fill="#b4d7f2" stroke="#b4d7f2" d="M621.6 240.0l1 1.3l1 1.3l3.7 .9l-1-1.6l-1-1.5z"/>
<path fill="#99e4f2" stroke="#99e4f2" d="M623.6 242.6l.9 1.4l1 1.3l1 1.2l.9 1l1 .4l1 .3l1 .6l.9 1.6l3.8-1.4l-1-.7l-1 0l-1 .4l-1 0l-1-.9l-.9-1.3l-1-1.5l-.9-1.5z"/>
<path fill="#a0dde4" stroke="#a0dde4" d="M631.3 250.4l1 2.2l.9 1.7l1 1.6l.9 1l1-.3l1.1-1.5l1-2l3.8-3l-1.1 1.9l-1 1.2l-1 .3l-1-.6l-.9-1.1l-1-1.2l-.9-1.6z"/>
<path fill="#99e4f2" stroke="#99e4f2" d="M638.2 253.1l1.1-2.7l1-2.3l1.1-1.5l3.7-2.4l-1 1.3l-1.1 2l-1 2.6z"/>
<path fill="#b4d7f2" stroke="#b4d7f2" d="M641.4 246.6l1-1.4l1-1.1l3.8-2l-1.1 .9l-1 1.2z"/>
<path fill="#c9d0f2" stroke="#c9d0f2" d="M643.4 244.1l1.1-.9l1-.5l1-.1l1-.2l1-.1l1 0l1-.1l1-.1l1 0l1 0l1 0l1 0l1 .1l3.7-1.5l-1-.1l-1 0l-1 0l-1 .1l-1 0l-1 0l-1 .1l-1 0l-1 .1l-1 .1l-1 .1l-1 .4l-1 .6z"/>
<path fill="#a0d0f2" stroke="#a0d0f2" d="M656.5 242.2l1 0l1 .1l1 .1l3.7-1.6l-1-.1l-1 0l-1 0z"/>
<path d="M629.0 247.4L629.6 247.1M628.7 247.9L629.0 247.4M629.4 248.2L628.7 247.9M630.6 248.2L629.4 248.2M630.1 248.7L630.6 248.2M640.0 249.8L642.5 248.9M639.4 250.1L640.0 249.8" fill="none" stroke="#50606a" stroke-width="0.45" opacity="0.45"/>
<path fill="#d0d0eb" stroke="#d0d0eb" d="M575.9 225.7l1.1 .1l1 .2l1 .1l1 .1l1 .2l1 .1l1 .1l1 .2l1 .1l1 .2l1 .1l1 .2l1 .1l1 .2l1 .1l1 .2l1 .1l1 .2l1 .2l1 .2l1 .2l1 .2l1 .2l1 .3l1 .3l1 .4l1 .5l3.8-.5l-1-.4l-1-.5l-1-.3l-1-.3l-1-.2l-1-.2l-1-.3l-1-.2l-1-.2l-1-.1l-1-.2l-1-.2l-1-.1l-1-.2l-1-.1l-1-.2l-1-.1l-1-.2l-1-.1l-1-.2l-1-.1l-1-.2l-1-.1l-1-.1l-1-.1l-1-.2l-1-.1z"/>
<path fill="#84d0f2" stroke="#84d0f2" d="M603.0 230.8l1 .5l1 .5l1 .6l1 .5l1 .5l1 .5l1 .4l1 .5l.9 .4l1 .5l1 .5l3.8-.2l-1-.5l-1-.5l-1-.5l-1-.5l-1-.5l-1-.5l-.9-.6l-1-.5l-1-.6l-1-.5l-1-.5z"/>
<path fill="#a0d0f2" stroke="#a0d0f2" d="M613.9 236.2l1 .6l1 .9l3.8-.1l-1-.9l-1-.7z"/>
<path fill="#c9d0f2" stroke="#c9d0f2" d="M615.9 237.7l1 .9l1 1l1 1l3.7 .7l-1-1.3l-1-1.3l-.9-1.1z"/>
<path fill="#b4d7f2" stroke="#b4d7f2" d="M618.9 240.6l.9 1.1l1 1.1l3.7 1.2l-.9-1.4l-1-1.3z"/>
<path fill="#99e4f2" stroke="#99e4f2" d="M620.8 242.8l1 1.2l1 1.2l1 1l.9 .9l1 1l1 1.3l.9 2.4l3.7-1.4l-.9-1.6l-1-.6l-1-.3l-1-.4l-.9-1l-1-1.2l-1-1.3z"/>
<path fill="#a0dde4" stroke="#a0dde4" d="M627.6 251.8l1 2.9l.9 2.2l3.7-2.6l-.9-1.7l-1-2.2z"/>
<path fill="#b4ddd7" stroke="#b4ddd7" d="M629.5 256.9l.9 2l1 1.4l1-.2l1-1.9l3.8-3.1l-1.1 1.5l-1 .3l-.9-1l-1-1.6z"/>
<path fill="#a0dde4" stroke="#a0dde4" d="M633.4 258.2l1.1-2.2l1-2.7l3.8-2.9l-1.1 2.7l-1 2z"/>
<path fill="#99e4f2" stroke="#99e4f2" d="M635.5 253.3l1.1-2.6l1-1.7l1.1-1.6l3.7-2.2l-1 1.4l-1.1 1.5l-1 2.3z"/>
<path fill="#b4d7f2" stroke="#b4d7f2" d="M638.7 247.4l1-1.3l1-1.1l3.8-1.8l-1.1 .9l-1 1.1z"/>
<path fill="#c9d0f2" stroke="#c9d0f2" d="M640.7 245.0l1.1-.7l1-.2l1-.1l1-.2l1-.1l1 0l1-.1l1 0l1 0l1 0l1 0l1 .1l1 0l1 .1l1 .2l3.7-1.6l-1-.1l-1-.1l-1 0l-1-.1l-1 0l-1 0l-1 0l-1 0l-1 .1l-1 .1l-1 0l-1 .1l-1 .2l-1 .1l-1 .5z"/>
<path d="M629.4 249.0L630.1 248.7M626.8 249.7L629.4 249.0M636.4 251.2L639.4 250.1" fill="none" stroke="#50606a" stroke-width="0.45" opacity="0.45"/>
<path fill="#d0d0eb" stroke="#d0d0eb" d="M572.1 226.3l1 .2l1 .1l1 .1l1 .1l1 .2l1 .1l1 .2l1 .1l1 .2l1 .1l1 .1l1 .2l1 .1l1 .2l1 .2l1 .1l1.1 .2l1 .1l1 .2l1 .2l1 .2l1 .2l1 .2l1 .2l1 .3l1 .4l1 .4l3.8-.4l-1-.5l-1-.4l-1-.3l-1-.3l-1-.2l-1-.2l-1-.2l-1-.2l-1-.2l-1-.2l-1-.1l-1-.2l-1-.1l-1-.2l-1-.1l-1-.2l-1-.1l-1-.2l-1-.1l-1-.2l-1-.1l-1-.1l-1-.2l-1-.1l-1-.1l-1-.2l-1.1-.1z"/>
<path fill="#84d0f2" stroke="#84d0f2" d="M599.2 231.2l1 .5l1 .5l1 .5l1 .5l1 .5l1 .5l1 .4l1 .5l1 .4l1 .5l1 .6l1 .6l3.7-.4l-1-.6l-1-.5l-1-.5l-.9-.4l-1-.5l-1-.4l-1-.5l-1-.5l-1-.5l-1-.6l-1-.5l-1-.5z"/>
<path fill="#a0d0f2" stroke="#a0d0f2" d="M611.2 237.2l1 .8l1 .9l3.7-.3l-1-.9l-1-.9z"/>
<path fill="#c9d0f2" stroke="#c9d0f2" d="M613.2 238.9l.9 .9l1 1l1 1l1 1l3.7 0l-1-1.1l-.9-1.1l-1-1l-1-1z"/>
<path fill="#b4d7f2" stroke="#b4d7f2" d="M617.1 242.8l1 1.1l1 1.1l3.7 .2l-1-1.2l-1-1.2z"/>
<path fill="#99e4f2" stroke="#99e4f2" d="M619.1 245.0l.9 1l1 .9l1 1l1 1.2l.9 2.1l3.7 .6l-.9-2.4l-1-1.3l-1-1l-.9-.9l-1-1z"/>
<path fill="#a0dde4" stroke="#a0dde4" d="M623.9 251.2l1 2.6l.9 2.2l3.7 .9l-.9-2.2l-1-2.9z"/>
<path fill="#b4ddd7" stroke="#b4ddd7" d="M625.8 256.0l1 2.2l.9 1.6l1 .5l1-.9l1.1-1.1l3.7-2.3l-1.1 2.2l-1 1.9l-1 .2l-1-1.4l-.9-2z"/>
<path fill="#a0dde4" stroke="#a0dde4" d="M630.8 258.3l1-1.9l1-2.2l3.8-3.5l-1.1 2.6l-1 2.7z"/>
<path fill="#99e4f2" stroke="#99e4f2" d="M632.8 254.2l1.1-1.9l1-1.6l1.1-1.3l3.7-3.3l-1 1.3l-1.1 1.6l-1 1.7z"/>
<path fill="#b4d7f2" stroke="#b4d7f2" d="M636.0 249.4l1-1l1-.7l1-.4l3.8-3.2l-1 .2l-1.1 .7l-1 1.1z"/>
<path fill="#c9d0f2" stroke="#c9d0f2" d="M639.0 247.3l1-.3l1-.3l1-.3l1.1-.3l1-.2l1-.1l1-.1l1 0l1 0l1 0l1 0l1 .1l1 .1l3.7-1.9l-1-.2l-1-.1l-1 0l-1-.1l-1 0l-1 0l-1 0l-1 0l-1 .1l-1 0l-1 .1l-1 .2l-1 .1z"/>
<path d="M623.8 250.8L626.8 249.7M635.8 251.5L636.4 251.2M633.8 252.4L635.8 251.5" fill="none" stroke="#50606a" stroke-width="0.45" opacity="0.45"/>
<path fill="#d0d0eb" stroke="#d0d0eb" d="M568.2 226.9l1 .2l1 .1l1 .1l1 .2l1.1 .1l1 .1l1 .2l1 .1l1 .2l1 .1l1 .2l1 .1l1 .2l1 .1l1 .2l1 .1l1 .2l1 .2l1 .1l1 .2l1.1 .2l1 .2l1 .2l1 .2l1 .3l1 .3l1 .4l1 .4l3.8-.4l-1-.5l-1-.4l-1-.4l-1-.3l-1-.2l-1-.2l-1-.2l-1-.2l-1-.2l-1-.2l-1-.1l-1.1-.2l-1-.1l-1-.2l-1-.2l-1-.1l-1-.2l-1-.1l-1-.1l-1-.2l-1-.1l-1-.2l-1-.1l-1-.2l-1-.1l-1-.1l-1-.1l-1-.2z"/>
<path fill="#84d0f2" stroke="#84d0f2" d="M596.4 232.1l1 .5l1 .4l1 .5l1 .5l1 .5l1 .4l1 .5l1 .4l1 .6l1 .5l1 .7l1 .8l3.8-.4l-1-.8l-1-.6l-1-.6l-1-.5l-1-.4l-1-.5l-1-.4l-1-.5l-1-.5l-1-.5l-1-.5l-1-.5z"/>
<path fill="#a0d0f2" stroke="#a0d0f2" d="M608.4 238.4l1 .8l3.8-.3l-1-.9z"/>
<path fill="#c9d0f2" stroke="#c9d0f2" d="M609.4 239.2l1 .9l1 .9l1 .9l1 1l1 .9l3.7 .1l-1-1.1l-1-1l-1-1l-1-1l-.9-.9z"/>
<path fill="#b4d7f2" stroke="#b4d7f2" d="M614.4 243.8l.9 1l1 1l3.7 .2l-.9-1l-1-1.1z"/>
<path fill="#99e4f2" stroke="#99e4f2" d="M616.3 245.8l1 .9l1 .9l1 1.2l1 1.8l.9 2.2l3.7 1l-1-2.6l-.9-2.1l-1-1.2l-1-1l-1-.9z"/>
<path fill="#a0dde4" stroke="#a0dde4" d="M621.2 252.8l1 2.2l.9 2.4l3.7 .8l-1-2.2l-.9-2.2z"/>
<path fill="#b4ddd7" stroke="#b4ddd7" d="M623.1 257.4l1 2l1 1l1 .3l1-.1l3.7-2.3l-1.1 1.1l-1 .9l-1-.5l-.9-1.6z"/>
<path fill="#a0dde4" stroke="#a0dde4" d="M627.1 260.6l1-1l1-1.9l1.1-2.1l3.7-3.3l-1.1 1.9l-1 2.2l-1 1.9z"/>
<path fill="#99e4f2" stroke="#99e4f2" d="M630.2 255.6l1-1.6l1-1.3l1-.9l1.1-.7l1-.5l3.7-3.3l-1 .4l-1 .7l-1 1l-1.1 1.3l-1 1.6z"/>
<path fill="#b4d7f2" stroke="#b4d7f2" d="M635.3 250.6l1-.6l1-.5l1-.5l1-.4l3.8-2.5l-1.1 .3l-1 .3l-1 .3l-1 .3z"/>
<path fill="#c9d0f2" stroke="#c9d0f2" d="M639.3 248.6l1-.3l1.1-.2l1-.2l1-.1l1-.1l1 0l1 0l1 0l1 .2l3.7-2l-1-.1l-1-.1l-1 0l-1 0l-1 0l-1 0l-1 .1l-1 .1l-1 .2z"/>
<path d="M623.2 251.1L623.8 250.8M620.9 252.0L623.2 251.1M633.6 252.5L633.8 252.4M631.7 253.5L633.6 252.5M631.4 253.7L631.7 253.5" fill="none" stroke="#50606a" stroke-width="0.45" opacity="0.45"/>
<path fill="#d0d0eb" stroke="#d0d0eb" d="M564.4 227.5l1 .2l1 .1l1 .1l1 .2l1 .1l1 .2l1 .1l1 .2l1 .1l1 .2l1.1 .1l1 .2l1 .1l1 .2l1 .1l1 .2l1 .1l1 .2l1 .2l1 .1l1 .2l1 .2l1.1 .2l1 .2l1 .2l1 .3l1 .4l1 .3l1 .4l3.8-.3l-1-.5l-1-.4l-1-.4l-1-.3l-1-.3l-1-.2l-1-.2l-1-.2l-1.1-.2l-1-.2l-1-.1l-1-.2l-1-.2l-1-.1l-1-.2l-1-.1l-1-.2l-1-.1l-1-.2l-1-.1l-1-.2l-1-.1l-1-.2l-1-.1l-1.1-.1l-1-.2l-1-.1l-1-.1l-1-.2z"/>
<path fill="#84d0f2" stroke="#84d0f2" d="M593.6 232.9l1 .5l1 .4l1 .5l1 .4l1 .5l1 .5l1 .4l1 .6l1 .6l1 .7l1 .7l3.8-.3l-1-.8l-1-.7l-1-.5l-1-.6l-1-.4l-1-.5l-1-.4l-1-.5l-1-.5l-1-.5l-1-.4z"/>
<path fill="#a0d0f2" stroke="#a0d0f2" d="M604.6 238.7l1 .8l1 .9l3.8-.3l-1-.9l-1-.8z"/>
<path fill="#c9d0f2" stroke="#c9d0f2" d="M606.6 240.4l1 .8l1 .8l1 .8l1 .9l1 .9l3.7 .2l-.9-1l-1-.9l-1-1l-1-.9l-1-.9z"/>
<path fill="#b4d7f2" stroke="#b4d7f2" d="M611.6 244.6l1 .9l1 .9l1 1l3.7 .2l-1-.9l-1-.9l-1-1z"/>
<path fill="#99e4f2" stroke="#99e4f2" d="M614.6 247.4l1 1l1 1.5l.9 1.8l1 2.3l3.7 1l-1-2.2l-.9-2.2l-1-1.8l-1-1.2z"/>
<path fill="#a0dde4" stroke="#a0dde4" d="M618.5 254.0l1 2.6l.9 2.3l3.7 .5l-1-2l-.9-2.4z"/>
<path fill="#b4ddd7" stroke="#b4ddd7" d="M620.4 258.9l1 1.7l1 1.3l1 1l1-.1l3.7-3.2l-1 1l-1 .1l-1-.3l-1-1z"/>
<path fill="#a0dde4" stroke="#a0dde4" d="M624.4 262.8l1-1.6l1-2.3l1.1-1.6l3.7-3.3l-1 1.6l-1.1 2.1l-1 1.9z"/>
<path fill="#99e4f2" stroke="#99e4f2" d="M627.5 257.3l1-1.2l1-.9l1-.7l1-.7l1.1-.7l1-.7l1-.7l3.7-2.7l-1 .5l-1 .5l-1 .6l-1 .5l-1.1 .7l-1 .9l-1 1.3z"/>
<path fill="#b4d7f2" stroke="#b4d7f2" d="M634.6 251.7l1-.6l1-.5l1-.2l1.1-.3l1-.1l3.7-2.2l-1 .1l-1 .2l-1.1 .2l-1 .3l-1 .4z"/>
<path fill="#c9d0f2" stroke="#c9d0f2" d="M639.7 250.0l1-.2l1-.1l1 0l1 0l1 .1l3.7-1.9l-1-.2l-1 0l-1 0l-1 0l-1 .1z"/>
<path d="M619.9 252.4L620.9 252.0M618.2 253.1L619.9 252.4M630.5 254.3L631.4 253.7M629.8 254.9L630.5 254.3M629.7 255.1L629.8 254.9" fill="none" stroke="#50606a" stroke-width="0.45" opacity="0.45"/>
<path fill="#d0d0eb" stroke="#d0d0eb" d="M560.5 228.1l1 .2l1 .1l1 .2l1 .1l1 .1l1.1 .2l1 .1l1 .2l1 .1l1 .2l1 .1l1 .2l1 .2l1 .1l1.1 .2l1 .1l1 .2l1 .1l1 .2l1 .2l1 .1l1 .2l1 .2l1 .1l1.1 .2l1 .3l1 .3l1 .3l1 .4l1 .4l1 .4l3.8-.3l-1-.4l-1-.5l-1-.4l-1-.3l-1-.4l-1-.3l-1-.2l-1-.2l-1.1-.2l-1-.2l-1-.2l-1-.1l-1-.2l-1-.2l-1-.1l-1-.2l-1-.1l-1-.2l-1-.1l-1-.2l-1.1-.1l-1-.2l-1-.1l-1-.2l-1-.1l-1-.2l-1-.1l-1-.2l-1-.1l-1-.1l-1-.2z"/>
<path fill="#84d0f2" stroke="#84d0f2" d="M591.8 234.1l1 .5l1 .4l1 .5l1.1 .4l1 .5l1 .6l1 .7l1 .7l1 .7l1 .8l3.7-.4l-1-.8l-1-.7l-1-.7l-1-.6l-1-.6l-1-.4l-1-.5l-1-.5l-1-.4l-1-.5z"/>
<path fill="#a0d0f2" stroke="#a0d0f2" d="M601.9 239.9l1 .7l1 .7l3.7-.1l-1-.8l-1-.9z"/>
<path fill="#c9d0f2" stroke="#c9d0f2" d="M603.9 241.3l1 .8l1 .7l1 .8l1 .8l1 .9l3.7 .2l-1-.9l-1-.9l-1-.9l-1-.8l-1-.8z"/>
<path fill="#b4d7f2" stroke="#b4d7f2" d="M608.9 245.3l1 .9l1 .9l1 1l3.7 .3l-1-1l-1-1l-1-.9z"/>
<path fill="#99e4f2" stroke="#99e4f2" d="M611.9 248.1l1 1.1l1 1.5l.9 2.2l1 2.8l3.7 .9l-1-2.6l-1-2.3l-.9-1.8l-1-1.5z"/>
<path fill="#a0dde4" stroke="#a0dde4" d="M615.8 255.7l1 2.7l.9 2.3l3.7-.1l-1-1.7l-.9-2.3z"/>
<path fill="#b4ddd7" stroke="#b4ddd7" d="M617.7 260.7l1 2.5l1 2l.9 .9l1.1-1.3l1-2.5l3.7-3.4l-1 2.3l-1 1.6l-1 .1l-1-1l-1-1.3z"/>
<path fill="#a0dde4" stroke="#a0dde4" d="M622.7 262.3l1-1.7l1.1-1l1-.9l3.7-3.5l-1 .9l-1 1.2l-1.1 1.6z"/>
<path fill="#99e4f2" stroke="#99e4f2" d="M625.8 258.7l1-.8l1-.8l1-.8l1.1-1l1-.9l1-.8l1-.6l3.7-2.4l-1 .5l-1 .6l-1 .7l-1 .7l-1.1 .7l-1 .7l-1 .7z"/>
<path fill="#b4d7f2" stroke="#b4d7f2" d="M632.9 253.0l1-.3l1.1-.3l1-.3l1-.2l1-.1l1-.1l1 0l1 .1l3.7-2l-1-.1l-1 0l-1 0l-1 .1l-1 .2l-1 .1l-1.1 .3l-1 .2z"/>
<path d="M617.1 253.6L618.2 253.1M615.3 254.3L617.1 253.6M629.4 255.5L629.7 255.1M629.0 256.1L629.4 255.5M628.5 256.6L629.0 256.1" fill="none" stroke="#50606a" stroke-width="0.45" opacity="0.45"/>
<path fill="#d0d0eb" stroke="#d0d0eb" d="M556.6 228.7l1 .2l1.1 .1l1 .2l1 .1l1 .2l1 .1l1 .1l1 .2l1 .2l1.1 .1l1 .2l1 .1l1 .2l1 .1l1 .2l1 .1l1 .2l1.1 .2l1 .1l1 .2l1 .1l1 .2l1 .2l1 .1l1.1 .3l1 .2l1 .3l1 .3l1 .4l1 .4l1 .4l1 .4l3.8-.5l-1-.5l-1-.4l-1-.4l-1-.4l-1-.3l-1-.3l-1-.3l-1.1-.2l-1-.1l-1-.2l-1-.2l-1-.1l-1-.2l-1-.2l-1-.1l-1-.2l-1-.1l-1.1-.2l-1-.1l-1-.2l-1-.2l-1-.1l-1-.2l-1-.1l-1-.2l-1-.1l-1.1-.2l-1-.1l-1-.1l-1-.2l-1-.1l-1-.2z"/>
<path fill="#84d0f2" stroke="#84d0f2" d="M589.0 235.1l1.1 .4l1 .5l1 .5l1 .4l1 .6l1 .6l1 .6l1 .7l1 .7l1 .7l3.8-.2l-1-.7l-1-.8l-1-.7l-1-.7l-1-.7l-1-.6l-1-.5l-1.1-.4l-1-.5l-1-.4z"/>
<path fill="#a0d0f2" stroke="#a0d0f2" d="M599.1 240.8l1 .7l1.1 .6l1 .7l3.7 0l-1-.7l-1-.8l-1-.7z"/>
<path fill="#c9d0f2" stroke="#c9d0f2" d="M602.2 242.8l1 .8l1 .7l1 .8l1 .9l1 .9l3.7 .2l-1-.9l-1-.9l-1-.9l-1-.8l-1-.8z"/>
<path fill="#b4d7f2" stroke="#b4d7f2" d="M607.2 246.9l1 .9l1 1.1l3.7 .3l-1-1.1l-1-1z"/>
<path fill="#99e4f2" stroke="#99e4f2" d="M609.2 248.9l1 1.3l.9 2l1 2.4l3.7 1.1l-1-2.8l-.9-2.2l-1-1.5z"/>
<path fill="#a0dde4" stroke="#a0dde4" d="M612.1 254.6l1 2.3l1 2.1l1 2.2l3.6 2l-1-2.5l-.9-2.3l-1-2.7z"/>
<path fill="#b4ddd7" stroke="#b4ddd7" d="M615.1 261.2l.9 1.9l1 1l1-.7l1.1-1.6l3.6 .5l-1 2.5l-1.1 1.3l-.9-.9l-1-2z"/>
<path fill="#a0dde4" stroke="#a0dde4" d="M619.1 261.8l1-1l1-.4l1 0l1 .7l1 .5l1 .1l1-.2l3.8-6.2l-1.1 1l-1 .8l-1 .8l-1 .8l-1 .9l-1.1 1l-1 1.7z"/>
<path fill="#99e4f2" stroke="#99e4f2" d="M626.1 261.5l1-.6l1-.9l1-1l1.1-.7l1-1l1-.9l1-.7l1.1-.3l3.7-3.6l-1 .1l-1 .2l-1 .3l-1.1 .3l-1 .3l-1 .6l-1 .8l-1 .9z"/>
<path fill="#b4d7f2" stroke="#b4d7f2" d="M634.3 255.4l1-.3l1-.1l1 .1l3.7-3.3l-1-.1l-1 0l-1 .1z"/>
<path d="M613.5 255.0L615.3 254.3M612.5 255.5L613.5 255.0M628.5 256.7L628.5 256.6M628.8 257.1L628.5 256.7M629.1 257.5L628.8 257.1M629.4 257.9L629.1 257.5M629.6 258.3L629.4 257.9M629.8 258.5L629.6 258.3" fill="none" stroke="#50606a" stroke-width="0.45" opacity="0.45"/>
<path fill="#d0d0eb" stroke="#d0d0eb" d="M552.8 229.3l1 .2l1 .1l1 .2l1 .1l1 .2l1.1 .1l1 .2l1 .1l1 .2l1 .1l1 .2l1 .1l1.1 .2l1 .1l1 .2l1 .1l1 .2l1 .2l1.1 .1l1 .2l1 .2l1 .1l1 .2l1 .1l1 .3l1.1 .2l1 .3l1 .3l1 .3l1 .4l1 .4l1.1 .4l1 .5l3.8-.6l-1.1-.4l-1-.4l-1-.4l-1-.4l-1-.4l-1-.3l-1-.3l-1-.2l-1.1-.3l-1-.1l-1-.2l-1-.2l-1-.1l-1-.2l-1-.1l-1.1-.2l-1-.2l-1-.1l-1-.2l-1-.1l-1-.2l-1-.1l-1-.2l-1.1-.1l-1-.2l-1-.2l-1-.1l-1-.1l-1-.2l-1-.1l-1-.2l-1.1-.1l-1-.2z"/>
<path fill="#84d0f2" stroke="#84d0f2" d="M586.3 236.1l1 .4l1 .5l1 .4l1 .6l1 .5l1 .6l1.1 .6l1 .6l1 .6l1 .7l1 .6l3.8-.1l-1.1-.6l-1-.7l-1-.7l-1-.7l-1-.7l-1-.6l-1-.6l-1-.6l-1-.4l-1-.5l-1-.5z"/>
<path fill="#a0d0f2" stroke="#a0d0f2" d="M597.4 242.2l1 .6l1 .7l3.8 .1l-1-.8l-1-.7z"/>
<path fill="#c9d0f2" stroke="#c9d0f2" d="M599.4 243.5l1 .7l1 .8l1 .8l1.1 .8l1 .9l3.7 .3l-1-.9l-1-.9l-1-.9l-1-.8l-1-.7z"/>
<path fill="#b4d7f2" stroke="#b4d7f2" d="M604.5 247.5l1 1.1l1 1.2l3.7 .4l-1-1.3l-1-1.1z"/>
<path fill="#99e4f2" stroke="#99e4f2" d="M606.5 249.8l1 1.7l.9 1.9l1 2l1 1.8l3.7 1.8l-1-2.1l-1-2.3l-1-2.4l-.9-2z"/>
<path fill="#a0dde4" stroke="#a0dde4" d="M610.4 257.2l1 1.9l1 1.8l1 1.1l1 0l1-.7l1-.3l1 .2l1 1l1 2.1l.9 1.9l1 1l1 .6l1-.3l1.1-1l1-1.3l1-1.3l3.8-5.6l-1.1 .7l-1 1l-1 .9l-1 .6l-1 .2l-1-.1l-1-.5l-1-.7l-1 0l-1 .4l-1 1l-1.1 1.6l-1 .7l-1-1l-.9-1.9l-1-2.2z"/>
<path fill="#99e4f2" stroke="#99e4f2" d="M626.4 263.9l1.1-1.5l1-1.7l1-1.2l1.1-.5l1-.4l1-.2l1 .1l3.7-3.4l-1-.1l-1 .1l-1 .3l-1.1 .3l-1 .7l-1 .9l-1 1z"/>
<path d="M611.2 256.1L612.5 255.5M610.2 256.7L611.2 256.1M629.9 258.6L629.8 258.5M629.8 259.1L629.9 258.6M629.3 259.8L629.8 259.1M629.0 260.1L629.3 259.8" fill="none" stroke="#50606a" stroke-width="0.45" opacity="0.45"/>
<path fill="#d0d0eb" stroke="#d0d0eb" d="M548.9 229.9l1 .2l1 .1l1.1 .2l1 .1l1 .2l1 .1l1 .2l1 .1l1.1 .2l1 .1l1 .2l1 .1l1 .2l1 .1l1.1 .2l1 .2l1 .1l1 .2l1 .1l1 .2l1.1 .2l1 .1l1 .2l1 .2l1 .2l1.1 .2l1 .3l1 .3l1 .3l1 .4l1 .4l1.1 .4l1 .4l1 .4l3.8-.5l-1-.4l-1-.5l-1.1-.4l-1-.4l-1-.4l-1-.3l-1-.3l-1-.3l-1.1-.2l-1-.3l-1-.1l-1-.2l-1-.1l-1-.2l-1-.2l-1.1-.1l-1-.2l-1-.2l-1-.1l-1-.2l-1-.1l-1.1-.2l-1-.1l-1-.2l-1-.1l-1-.2l-1-.1l-1-.2l-1.1-.1l-1-.2l-1-.1l-1-.2l-1-.1l-1-.2z"/>
<path fill="#84d0f2" stroke="#84d0f2" d="M583.5 237.0l1 .5l1 .4l1 .5l1.1 .5l1 .6l1 .5l1 .5l1 .6l1 .5l1.1 .6l1 .6l3.7 0l-1-.6l-1-.6l-1-.7l-1-.6l-1-.6l-1.1-.6l-1-.6l-1-.5l-1-.6l-1-.4l-1-.5z"/>
<path fill="#a0d0f2" stroke="#a0d0f2" d="M594.7 242.8l1 .7l1 .6l1 .7l3.7 .2l-1-.8l-1-.7l-1-.7z"/>
<path fill="#c9d0f2" stroke="#c9d0f2" d="M597.7 244.8l1 .8l1 .8l1 .8l1 1l1 1.1l3.8 .5l-1-1.2l-1-1.1l-1-.9l-1.1-.8l-1-.8z"/>
<path fill="#b4d7f2" stroke="#b4d7f2" d="M602.7 249.3l1 1.4l1 1.5l3.7 1.2l-.9-1.9l-1-1.7z"/>
<path fill="#99e4f2" stroke="#99e4f2" d="M604.7 252.2l1 1.6l1 1.6l1 1.6l3.7 2.1l-1-1.9l-1-1.8l-1-2z"/>
<path fill="#a0dde4" stroke="#a0dde4" d="M607.7 257.0l1 1.6l1 1.3l1 .7l1 .2l1 .4l1 .8l1 1.9l1 3.6l3.7-3.2l-1-2.1l-1-1l-1-.2l-1 .3l-1 .7l-1 0l-1-1.1l-1-1.8z"/>
<path fill="#b4ddd7" stroke="#b4ddd7" d="M615.7 267.5l.9 3.3l1 2l1 1.4l1 0l1-1.2l1.1-1.6l1-1.7l3.7-5.8l-1 1.3l-1 1.3l-1.1 1l-1 .3l-1-.6l-1-1l-.9-1.9z"/>
<path fill="#a0dde4" stroke="#a0dde4" d="M622.7 269.7l1-2.2l1.1-2.4l1-1.7l3.7-3.9l-1 1.2l-1 1.7l-1.1 1.5z"/>
<path fill="#99e4f2" stroke="#99e4f2" d="M625.8 263.4l1-.8l1.1-.5l1-.3l1 0l3.7-3.3l-1-.1l-1 .2l-1 .4l-1.1 .5z"/>
<path d="M609.9 256.9L610.2 256.7M608.8 257.7L609.9 256.9M608.4 258.1L608.8 257.7M628.5 260.5L629.0 260.1M628.4 261.0L628.5 260.5M628.5 261.5L628.4 261.0M628.7 261.9L628.5 261.5" fill="none" stroke="#50606a" stroke-width="0.45" opacity="0.45"/>
<path fill="#d0d0eb" stroke="#d0d0eb" d="M545.0 230.5l1.1 .2l1 .1l1 .2l1 .1l1 .2l1.1 .1l1 .2l1 .1l1 .2l1 .1l1.1 .2l1 .1l1 .2l1 .2l1 .1l1 .2l1.1 .1l1 .2l1 .1l1 .2l1 .2l1.1 .1l1 .2l1 .2l1 .2l1 .2l1.1 .3l1 .2l1 .4l1 .3l1 .4l1.1 .4l1 .4l1 .4l1 .5l3.8-.5l-1-.5l-1-.4l-1-.4l-1.1-.4l-1-.4l-1-.4l-1-.3l-1-.3l-1-.3l-1.1-.2l-1-.2l-1-.2l-1-.2l-1-.1l-1.1-.2l-1-.2l-1-.1l-1-.2l-1-.1l-1-.2l-1.1-.2l-1-.1l-1-.2l-1-.1l-1-.2l-1-.1l-1.1-.2l-1-.1l-1-.2l-1-.1l-1-.2l-1-.1l-1.1-.2l-1-.1l-1-.2z"/>
<path fill="#84d0f2" stroke="#84d0f2" d="M580.7 238.0l1.1 .4l1 .5l1 .4l1 .5l1 .5l1 .5l1.1 .4l1 .5l1 .5l1 .6l1 .6l1 .6l3.8 .1l-1-.6l-1-.7l-1-.6l-1.1-.6l-1-.5l-1-.6l-1-.5l-1-.5l-1-.6l-1.1-.5l-1-.5l-1-.4z"/>
<path fill="#a0d0f2" stroke="#a0d0f2" d="M592.9 244.0l1.1 .7l1 .7l1 .7l3.7 .3l-1-.8l-1-.8l-1-.7z"/>
<path fill="#c9d0f2" stroke="#c9d0f2" d="M596.0 246.1l1 .8l1 .9l1 1l1 1.1l3.7 .8l-1-1.4l-1-1.1l-1-1l-1-.8z"/>
<path fill="#b4d7f2" stroke="#b4d7f2" d="M600.0 249.9l1 1.1l1.1 1.2l3.6 1.6l-1-1.6l-1-1.5z"/>
<path fill="#99e4f2" stroke="#99e4f2" d="M602.1 252.2l1 1.3l1 1.4l1 1.5l1 1.4l1 1.3l1 1.1l3.6 .6l-1-.2l-1-.7l-1-1.3l-1-1.6l-1-1.6l-1-1.6z"/>
<path fill="#a0dde4" stroke="#a0dde4" d="M608.1 260.2l1 1.1l1 1.5l.9 2.9l3.7-1.8l-1-1.9l-1-.8l-1-.4z"/>
<path fill="#b4ddd7" stroke="#b4ddd7" d="M611.0 265.7l1 5l.9 4.7l1 3l1 2.3l1 .3l1-1.3l1-2.1l1.1-2.1l1-2.9l1.1-3.1l3.7-4.4l-1.1 2.4l-1 2.2l-1 1.7l-1.1 1.6l-1 1.2l-1 0l-1-1.4l-1-2l-.9-3.3l-1-3.6z"/>
<path fill="#a0dde4" stroke="#a0dde4" d="M621.1 269.5l1-2.3l1.1-.9l1-.6l1-.4l3.7-3.5l-1 .3l-1.1 .5l-1 .8l-1 1.7z"/>
<path fill="#99e4f2" stroke="#99e4f2" d="M625.2 265.3l1-.1l3.7-3.4l-1 0z"/>
<path d="M608.2 258.3L608.4 258.1M607.9 258.9L608.2 258.3M607.8 259.4L607.9 258.9M607.6 259.7L607.8 259.4M614.9 280.6L614.9 280.6M616.0 280.8L614.9 280.6M616.0 280.8L616.0 280.8M628.8 261.9L628.7 261.9M629.5 262.2L628.8 261.9" fill="none" stroke="#50606a" stroke-width="0.45" opacity="0.45"/>
<path fill="#d0d0eb" stroke="#d0d0eb" d="M541.2 231.1l1 .2l1 .1l1 .2l1.1 .2l1 .1l1 .2l1 .1l1 .2l1.1 .1l1 .2l1 .2l1 .1l1.1 .2l1 .2l1 .1l1 .2l1 .1l1.1 .2l1 .2l1 .1l1 .2l1.1 .2l1 .1l1 .2l1 .2l1 .2l1.1 .3l1 .3l1 .3l1 .3l1.1 .4l1 .4l1 .3l1 .5l1 .4l1.1 .4l3.8-.6l-1.1-.4l-1-.5l-1-.4l-1-.4l-1.1-.4l-1-.4l-1-.3l-1-.4l-1-.2l-1.1-.3l-1-.2l-1-.2l-1-.2l-1-.2l-1.1-.1l-1-.2l-1-.2l-1-.1l-1-.2l-1.1-.1l-1-.2l-1-.1l-1-.2l-1-.2l-1-.1l-1.1-.2l-1-.1l-1-.2l-1-.1l-1-.2l-1.1-.1l-1-.2l-1-.1l-1-.2l-1-.1l-1.1-.2z"/>
<path fill="#84d0f2" stroke="#84d0f2" d="M578.0 239.0l1 .4l1 .5l1 .4l1.1 .5l1 .4l1 .5l1 .5l1 .5l1.1 .5l1 .6l1 .5l1 .6l1 .7l3.8-.2l-1-.7l-1.1-.7l-1-.6l-1-.6l-1-.6l-1-.5l-1-.5l-1.1-.4l-1-.5l-1-.5l-1-.5l-1-.4l-1-.5z"/>
<path fill="#a0d0f2" stroke="#a0d0f2" d="M591.2 245.6l1.1 .7l1 .7l3.7-.1l-1-.8l-1-.7z"/>
<path fill="#c9d0f2" stroke="#c9d0f2" d="M593.3 247.0l1 .8l1 .9l1 1l1 1l1 1.1l3.8 .4l-1.1-1.2l-1-1.1l-1-1.1l-1-1l-1-.9z"/>
<path fill="#b4d7f2" stroke="#b4d7f2" d="M598.3 251.8l1.1 1.1l1 1.2l3.7 .8l-1-1.4l-1-1.3z"/>
<path fill="#99e4f2" stroke="#99e4f2" d="M600.4 254.1l1 1.3l1 1.2l1 1.2l1 1l1 1l1 1.3l3.7 1.7l-1-1.5l-1-1.1l-1-1.1l-1-1.3l-1-1.4l-1-1.5z"/>
<path fill="#a0dde4" stroke="#a0dde4" d="M606.4 261.1l1 2.5l1 4.3l3.6 2.8l-1-5l-.9-2.9z"/>
<path fill="#b4ddd7" stroke="#b4ddd7" d="M608.4 267.9l.9 4.1l1 2.8l1 2.2l1 .7l1-.6l1-1.1l1.1-.9l1-1.3l1-1.2l1-.3l3.7-5.1l-1 2.3l-1.1 3.1l-1 2.9l-1.1 2.1l-1 2.1l-1 1.3l-1-.3l-1-2.3l-1-3l-.9-4.7z"/>
<path fill="#a0dde4" stroke="#a0dde4" d="M618.4 272.3l1 1.3l3.8-7.3l-1.1 .9z"/>
<path fill="#b4ddd7" stroke="#b4ddd7" d="M619.4 273.6l1 2.9l.9 4.9l1 3.9l3.9-20.1l-1 .1l-1 .4l-1 .6z"/>
<path d="M607.5 260.0L607.6 259.7M607.2 260.5L607.5 260.0M606.5 261.2L607.2 260.5M606.4 261.2L606.5 261.2M614.8 280.6L614.9 280.6M615.7 280.9L614.8 280.6M616.0 280.8L615.7 280.9M622.0 284.3L622.5 284.2" fill="none" stroke="#50606a" stroke-width="0.45" opacity="0.45"/>
<path fill="#d0d0eb" stroke="#d0d0eb" d="M537.3 231.7l1 .2l1.1 .2l1 .1l1 .2l1 .2l1.1 .1l1 .2l1 .2l1 .1l1.1 .2l1 .2l1 .1l1 .2l1 .2l1.1 .1l1 .2l1 .2l1 .1l1.1 .2l1 .2l1 .2l1 .1l1.1 .2l1 .2l1 .2l1 .2l1.1 .2l1 .3l1 .3l1 .3l1.1 .4l1 .3l1 .4l1 .4l1.1 .4l1 .4l1 .4l3.8-.6l-1-.4l-1.1-.4l-1-.4l-1-.5l-1-.3l-1-.4l-1.1-.4l-1-.3l-1-.3l-1-.3l-1.1-.3l-1-.2l-1-.2l-1-.2l-1-.1l-1.1-.2l-1-.2l-1-.1l-1-.2l-1.1-.2l-1-.1l-1-.2l-1-.1l-1-.2l-1.1-.2l-1-.1l-1-.2l-1-.2l-1.1-.1l-1-.2l-1-.1l-1-.2l-1-.1l-1.1-.2l-1-.2l-1-.1l-1-.2z"/>
<path fill="#84d0f2" stroke="#84d0f2" d="M575.2 240.0l1 .4l1.1 .5l1 .4l1 .4l1 .5l1.1 .4l1 .5l1 .5l1 .5l1 .5l1.1 .6l1 .6l1 .6l3.8-.1l-1.1-.7l-1-.7l-1-.6l-1-.5l-1-.6l-1.1-.5l-1-.5l-1-.5l-1-.5l-1-.4l-1.1-.5l-1-.4l-1-.5z"/>
<path fill="#a0d0f2" stroke="#a0d0f2" d="M588.5 246.4l1 .7l1.1 .8l1 .8l3.7 0l-1-.9l-1-.8l-1-.7z"/>
<path fill="#c9d0f2" stroke="#c9d0f2" d="M591.6 248.7l1 .8l1 .9l1 .9l1 1l3.8 .6l-1.1-1.1l-1-1.1l-1-1l-1-1z"/>
<path fill="#b4d7f2" stroke="#b4d7f2" d="M595.6 252.3l1.1 1l1 1l1 1.1l3.7 1.2l-1-1.2l-1-1.3l-1-1.2z"/>
<path fill="#99e4f2" stroke="#99e4f2" d="M598.7 255.4l1 1l1 .9l1 .9l1 1.3l1 2.1l3.7 2l-1-2.5l-1-1.3l-1-1l-1-1l-1-1.2z"/>
<path fill="#a0dde4" stroke="#a0dde4" d="M603.7 261.6l1 3.5l1 3.4l3.6 3.5l-.9-4.1l-1-4.3z"/>
<path fill="#b4ddd7" stroke="#b4ddd7" d="M605.7 268.5l1 2.6l1 2.2l1 1l1 .1l1-.1l1 .3l1 .3l1 .8l1 1.6l1 3.7l.9 6.4l3.8-10.9l-1-2.9l-1-1.3l-1 .3l-1 1.2l-1 1.3l-1.1 .9l-1 1.1l-1 .6l-1-.7l-1-2.2l-1-2.8z"/>
<path fill="#c2dda0" stroke="#c2dda0" d="M616.6 287.4l.9 10.4l3.8-16.4l-.9-4.9z"/>
<path fill="#f9f2ad" stroke="#f9f2ad" d="M617.5 297.8l.9 7.9l3.9-20.4l-1-3.9z"/>
<path d="M604.8 262.2L606.4 261.2M604.0 262.6L604.8 262.2M616.3 285.1L617.5 284.8M620.6 284.3L617.5 284.8M622.0 284.3L620.6 284.3" fill="none" stroke="#50606a" stroke-width="0.45" opacity="0.45"/>
<path fill="#d0d0eb" stroke="#d0d0eb" d="M533.4 232.3l1.1 .2l1 .2l1 .2l1.1 .1l1 .2l1 .2l1 .1l1.1 .2l1 .2l1 .2l1 .1l1.1 .2l1 .2l1 .2l1 .1l1.1 .2l1 .2l1 .2l1 .1l1.1 .2l1 .2l1 .2l1.1 .1l1 .2l1 .2l1 .2l1.1 .3l1 .3l1 .2l1 .3l1.1 .4l1 .3l1 .3l1.1 .4l1 .4l1 .4l1 .4l3.8-.6l-1-.4l-1-.4l-1.1-.4l-1-.4l-1-.4l-1-.3l-1.1-.4l-1-.3l-1-.3l-1-.3l-1.1-.2l-1-.2l-1-.2l-1-.2l-1.1-.2l-1-.1l-1-.2l-1-.2l-1.1-.2l-1-.1l-1-.2l-1-.2l-1.1-.1l-1-.2l-1-.2l-1-.1l-1-.2l-1.1-.2l-1-.1l-1-.2l-1-.2l-1.1-.1l-1-.2l-1-.2l-1-.1l-1.1-.2l-1-.2z"/>
<path fill="#84d0f2" stroke="#84d0f2" d="M571.4 240.6l1.1 .4l1 .4l1 .4l1 .4l1.1 .4l1 .5l1 .4l1 .5l1.1 .5l1 .4l1 .5l1 .6l1.1 .6l1 .6l1 .7l3.8 0l-1.1-.8l-1-.7l-1-.6l-1-.6l-1.1-.6l-1-.5l-1-.5l-1-.5l-1-.5l-1.1-.4l-1-.5l-1-.4l-1-.4l-1.1-.5l-1-.4z"/>
<path fill="#a0d0f2" stroke="#a0d0f2" d="M586.8 247.9l1 .7l1.1 .8l3.7 .1l-1-.8l-1-.8z"/>
<path fill="#c9d0f2" stroke="#c9d0f2" d="M588.9 249.4l1 .7l1 .8l1 .8l1.1 .8l1 .8l1 .8l3.7 1.3l-1-1.1l-1-1l-1.1-1l-1-1l-1-.9l-1-.9z"/>
<path fill="#b4d7f2" stroke="#b4d7f2" d="M595.0 254.1l1 .8l1 .9l1 .8l3.7 1.6l-1-.9l-1-.9l-1-1z"/>
<path fill="#99e4f2" stroke="#99e4f2" d="M598.0 256.6l1.1 1.1l1 1.8l1 2.7l3.6 2.9l-1-3.5l-1-2.1l-1-1.3z"/>
<path fill="#a0dde4" stroke="#a0dde4" d="M601.1 262.2l1 2.8l1 2.4l1 2.1l3.6 3.8l-1-2.2l-1-2.6l-1-3.4z"/>
<path fill="#b4ddd7" stroke="#b4ddd7" d="M604.1 269.5l1 1.3l1 .9l1 .9l1 1.5l1 2l1 2.8l1 3.6l.9 5.9l3.7-7.4l-1-3.7l-1-1.6l-1-.8l-1-.3l-1-.3l-1 .1l-1-.1l-1-1z"/>
<path fill="#ebf2c9" stroke="#ebf2c9" d="M612.0 288.4l.9 10.1l3.7-11.1l-.9-6.4z"/>
<path fill="#fcebd0" stroke="#fcebd0" d="M612.9 298.5l.8 15.9l3.8-16.6l-.9-10.4z"/>
<path fill="#f6b4bb" stroke="#f6b4bb" d="M613.7 314.4l.9 11.9l3.8-20.6l-.9-7.9z"/>
<path d="M602.5 263.3L604.0 262.6M601.7 263.9L602.5 263.3M611.6 286.1L613.3 285.7M616.3 285.1L613.3 285.7" fill="none" stroke="#50606a" stroke-width="0.45" opacity="0.45"/>
<path fill="#d0d0eb" stroke="#d0d0eb" d="M529.6 232.9l1 .2l1 .2l1.1 .2l1 .2l1 .1l1.1 .2l1 .2l1 .2l1 .2l1.1 .1l1 .2l1 .2l1.1 .2l1 .2l1 .2l1 .1l1.1 .2l1 .2l1 .2l1.1 .2l1 .1l1 .2l1 .2l1.1 .2l1 .2l1 .2l1.1 .2l1 .3l1 .3l1 .2l1.1 .3l1 .4l1 .3l1.1 .3l1 .4l1 .3l1.1 .4l1 .4l1 .4l3.8-.5l-1-.4l-1.1-.4l-1-.4l-1-.4l-1-.4l-1.1-.4l-1-.3l-1-.3l-1.1-.4l-1-.3l-1-.2l-1-.3l-1.1-.3l-1-.2l-1-.2l-1-.2l-1.1-.1l-1-.2l-1-.2l-1.1-.2l-1-.1l-1-.2l-1-.2l-1.1-.2l-1-.1l-1-.2l-1-.2l-1.1-.2l-1-.1l-1-.2l-1-.2l-1.1-.2l-1-.1l-1-.2l-1-.2l-1.1-.1l-1-.2l-1-.2l-1.1-.2z"/>
<path fill="#84d0f2" stroke="#84d0f2" d="M569.7 241.9l1 .4l1.1 .4l1 .4l1 .4l1.1 .4l1 .5l1 .4l1 .4l1.1 .5l1 .5l1 .5l1.1 .6l1 .6l1 .6l1 .6l3.8 .3l-1.1-.8l-1-.7l-1-.7l-1-.6l-1.1-.6l-1-.6l-1-.5l-1-.4l-1.1-.5l-1-.5l-1-.4l-1-.5l-1.1-.4l-1-.4l-1-.4z"/>
<path fill="#a0d0f2" stroke="#a0d0f2" d="M585.1 249.1l1.1 .7l1 .6l1 .6l3.7 .7l-1-.8l-1-.8l-1-.7z"/>
<path fill="#c9d0f2" stroke="#c9d0f2" d="M588.2 251.0l1 .6l1.1 .6l1 .6l1 .7l1 .7l1.1 .8l3.6 1.6l-1-.8l-1-.9l-1-.8l-1-.8l-1-.8l-1.1-.8z"/>
<path fill="#b4d7f2" stroke="#b4d7f2" d="M594.4 255.0l1 1l1 1.3l3.7 2.2l-1-1.8l-1.1-1.1z"/>
<path fill="#99e4f2" stroke="#99e4f2" d="M596.4 257.3l1 1.9l1 2.2l1 2.2l3.7 3.8l-1-2.4l-1-2.8l-1-2.7z"/>
<path fill="#a0dde4" stroke="#a0dde4" d="M599.4 263.6l1 2l1.1 1.7l1 1.6l1 2l1 2.6l3.6 .6l-1-1.5l-1-.9l-1-.9l-1-1.3l-1-2.1z"/>
<path fill="#b4ddd7" stroke="#b4ddd7" d="M604.5 273.5l1 3.8l.9 4.7l1 5.6l3.7-5.1l-1-3.6l-1-2.8l-1-2z"/>
<path fill="#c2dda0" stroke="#c2dda0" d="M607.4 287.6l.9 8.4l3.7-7.6l-.9-5.9z"/>
<path fill="#f9f2ad" stroke="#f9f2ad" d="M608.3 296.0l.9 13.8l3.7-11.3l-.9-10.1z"/>
<path fill="#f6b4bb" stroke="#f6b4bb" d="M609.2 309.8l.8 21.4l3.7-16.8l-.8-15.9z"/>
<path fill="#ebd7eb" stroke="#ebd7eb" d="M610.0 331.2l.9 16l3.7-20.9l-.9-11.9z"/>
<path d="M601.3 264.2L601.7 263.9M600.7 264.9L601.3 264.2M600.4 265.5L600.7 264.9M607.3 287.2L607.8 287.1M611.6 286.1L607.8 287.1" fill="none" stroke="#50606a" stroke-width="0.45" opacity="0.45"/>
<path fill="#d0d0eb" stroke="#d0d0eb" d="M525.7 233.5l1.1 .2l1 .2l1 .2l1 .2l1.1 .2l1 .2l1 .1l1.1 .2l1 .2l1 .2l1.1 .2l1 .2l1 .2l1.1 .1l1 .2l1 .2l1 .2l1.1 .2l1 .2l1 .2l1.1 .1l1 .2l1 .2l1.1 .2l1 .2l1 .2l1.1 .2l1 .3l1 .2l1 .3l1.1 .3l1 .2l1 .3l1.1 .3l1 .4l1 .3l1.1 .3l1 .4l1 .3l1.1 .4l1 .3l3.8-.2l-1.1-.4l-1-.4l-1-.4l-1-.4l-1.1-.4l-1-.3l-1-.4l-1.1-.3l-1-.3l-1-.4l-1.1-.3l-1-.2l-1-.3l-1-.3l-1.1-.2l-1-.2l-1-.2l-1.1-.2l-1-.2l-1-.2l-1-.1l-1.1-.2l-1-.2l-1-.2l-1.1-.2l-1-.1l-1-.2l-1-.2l-1.1-.2l-1-.2l-1-.2l-1.1-.1l-1-.2l-1-.2l-1-.2l-1.1-.2l-1-.1l-1-.2l-1.1-.2l-1-.2l-1-.2z"/>
<path fill="#84d0f2" stroke="#84d0f2" d="M568.0 242.9l1 .4l1.1 .4l1 .4l1 .3l1.1 .4l1 .4l1 .4l1 .5l1.1 .4l1 .5l1 .6l1.1 .6l1 .7l1 .7l1.1 .7l3.7 .1l-1-.6l-1.1-.7l-1-.6l-1-.6l-1-.6l-1.1-.6l-1-.5l-1-.5l-1.1-.5l-1-.4l-1-.4l-1-.5l-1.1-.4l-1-.4l-1-.4z"/>
<path fill="#a0d0f2" stroke="#a0d0f2" d="M583.5 250.3l1 .7l1 .6l1 .6l1.1 .6l3.7 0l-1-.6l-1.1-.6l-1-.6l-1-.6z"/>
<path fill="#c9d0f2" stroke="#c9d0f2" d="M587.6 252.8l1 .5l1 .6l1.1 .6l1 .8l1 1l3.7 1l-1-1.3l-1-1l-1.1-.8l-1-.7l-1-.7z"/>
<path fill="#b4d7f2" stroke="#b4d7f2" d="M592.7 256.3l1 1.4l1 1.7l3.7 2l-1-2.2l-1-1.9z"/>
<path fill="#99e4f2" stroke="#99e4f2" d="M594.7 259.4l1.1 1.8l1 1.8l1 1.6l1 1.7l3.7 2.6l-1-1.6l-1.1-1.7l-1-2l-1-2.2z"/>
<path fill="#a0dde4" stroke="#a0dde4" d="M598.8 266.3l1 2l1 2.4l1 3.1l3.7 3.5l-1-3.8l-1-2.6l-1-2z"/>
<path fill="#b4ddd7" stroke="#b4ddd7" d="M601.8 273.8l1 3.5l1 3.7l1 5.1l3.5 9.9l-.9-8.4l-1-5.6l-.9-4.7z"/>
<path fill="#f9f2ad" stroke="#f9f2ad" d="M604.8 286.1l1 7.8l3.4 15.9l-.9-13.8z"/>
<path fill="#fcc9b4" stroke="#fcc9b4" d="M605.8 293.9l.9 11.6l3.3 25.7l-.8-21.4z"/>
<path fill="#f6b4bb" stroke="#f6b4bb" d="M606.7 305.5l.9 8.8l3.3 32.9l-.9-16z"/>
<path d="M600.3 265.5L600.4 265.5M599.9 266.1L600.3 265.5M599.5 266.8L599.9 266.1M599.2 267.1L599.5 266.8M607.2 287.3L607.3 287.2M605.7 288.4L607.2 287.3M605.2 288.8L605.7 288.4" fill="none" stroke="#50606a" stroke-width="0.45" opacity="0.45"/>
<path fill="#d0d0eb" stroke="#d0d0eb" d="M521.9 234.1l1 .2l1 .2l1.1 .2l1 .2l1 .2l1.1 .2l1 .2l1 .2l1.1 .2l1 .2l1 .1l1.1 .2l1 .2l1 .2l1.1 .2l1 .2l1 .2l1 .2l1.1 .2l1 .2l1 .1l1.1 .2l1 .2l1 .2l1.1 .2l1 .2l1 .2l1.1 .3l1 .2l1 .2l1.1 .3l1 .2l1 .3l1.1 .3l1 .2l1.1 .3l1 .3l1 .3l1.1 .3l1 .3l1 .4l1.1 .3l1 .3l1 .4l3.8-.1l-1-.4l-1.1-.4l-1-.4l-1-.3l-1.1-.4l-1-.3l-1-.4l-1.1-.3l-1-.3l-1-.4l-1.1-.3l-1-.3l-1-.2l-1.1-.3l-1-.3l-1-.2l-1-.3l-1.1-.2l-1-.2l-1-.2l-1.1-.2l-1-.2l-1-.2l-1.1-.1l-1-.2l-1-.2l-1.1-.2l-1-.2l-1-.2l-1-.2l-1.1-.1l-1-.2l-1-.2l-1.1-.2l-1-.2l-1-.2l-1.1-.2l-1-.1l-1-.2l-1.1-.2l-1-.2l-1-.2l-1-.2l-1.1-.2z"/>
<path fill="#84d0f2" stroke="#84d0f2" d="M567.3 244.2l1.1 .3l1 .4l1 .3l1.1 .4l1 .4l1 .3l1.1 .4l1 .6l1 .6l1.1 .7l1 .8l1 .8l1.1 .7l1 .7l3.7 0l-1-.6l-1-.7l-1.1-.7l-1-.7l-1-.7l-1.1-.6l-1-.6l-1-.5l-1.1-.4l-1-.5l-1-.4l-1-.4l-1.1-.4l-1-.3z"/>
<path fill="#a0d0f2" stroke="#a0d0f2" d="M581.8 251.6l1 .6l1.1 .5l1 .5l1 .4l1 .4l3.8 .5l-1.1-.6l-1-.6l-1-.5l-1.1-.6l-1-.6z"/>
<path fill="#c9d0f2" stroke="#c9d0f2" d="M586.9 254.0l1.1 .5l1 .7l1 .9l1.1 1.3l3.6 2l-1-1.7l-1-1.4l-1-1l-1-.8z"/>
<path fill="#b4d7f2" stroke="#b4d7f2" d="M591.1 257.4l1 1.4l1 1.5l3.7 2.7l-1-1.8l-1.1-1.8z"/>
<path fill="#99e4f2" stroke="#99e4f2" d="M593.1 260.3l1 1.5l1.1 1.8l1 2l1 2.3l3.6 2.8l-1-2.4l-1-2l-1-1.7l-1-1.6z"/>
<path fill="#a0dde4" stroke="#a0dde4" d="M597.2 267.9l1 2.3l1 2.2l3.6 4.9l-1-3.5l-1-3.1z"/>
<path fill="#b4ddd7" stroke="#b4ddd7" d="M599.2 272.4l1 1.9l1.1 1.8l1 1.7l1 1.6l3.4 26.1l-.9-11.6l-1-7.8l-1-5.1l-1-3.7z"/>
<path fill="#ebf2c9" stroke="#ebf2c9" d="M603.3 279.4l1 1.5l3.3 33.4l-.9-8.8z"/>
<path d="M598.8 267.5L599.2 267.1M597.8 268.3L598.8 267.5M597.5 268.6L597.8 268.3M604.8 289.3L605.2 288.8M604.7 290.0L604.8 289.3M605.3 290.4L604.7 290.0" fill="none" stroke="#50606a" stroke-width="0.45" opacity="0.45"/>
</g>
<path d="M521.8 232.5L525.3 332.7" stroke="#888" stroke-width="0.8"/>
<defs><linearGradient id="cb483" x1="0" y1="0" x2="0" y2="1"><stop offset="0.010" stop-color="#c8c8e8"/><stop offset="0.044" stop-color="#70c8f0"/><stop offset="0.075" stop-color="#90c8f0"/><stop offset="0.101" stop-color="#c0c8f0"/><stop offset="0.132" stop-color="#a8d0f0"/><stop offset="0.175" stop-color="#88e0f0"/><stop offset="0.235" stop-color="#90d8e0"/><stop offset="0.326" stop-color="#a8d8d0"/><stop offset="0.401" stop-color="#b8d890"/><stop offset="0.438" stop-color="#e8f0c0"/><stop offset="0.488" stop-color="#f8f0a0"/><stop offset="0.541" stop-color="#fce8c8"/><stop offset="0.584" stop-color="#fcc0a8"/><stop offset="0.676" stop-color="#f4a8b0"/><stop offset="0.769" stop-color="#ecc0c8"/><stop offset="0.818" stop-color="#e8d0e8"/><stop offset="0.900" stop-color="#d4d0ec"/><stop offset="0.960" stop-color="#d0c0f4"/></linearGradient></defs>
<rect x="674.6" y="230.7" width="17.5" height="94.7" fill="url(#cb483)"/>
<rect x="674.6" y="325.4" width="17.5" height="3.3" fill="#111"/>
<g font-family='"Liberation Sans", sans-serif' font-weight="bold" font-size="6.9" fill="#111">
<text x="694.4" y="234.1">0.000</text>
<text x="694.4" y="253.1">-10.00</text>
<text x="694.4" y="272.0">-20.00</text>
<text x="694.4" y="291.0">-30.00</text>
<text x="694.4" y="309.9">-40.00</text>
<text x="694.4" y="328.9">-50.00</text>
</g>
<g font-family='"Liberation Sans", sans-serif' font-weight="bold" font-size="6" fill="#222" text-anchor="end">
<text x="519.4" y="236.1">0</text>
<text x="520.0" y="254.5">-10</text>
<text x="520.6" y="272.8">-20</text>
<text x="521.3" y="291.1">-30</text>
<text x="521.9" y="309.4">-40</text>
<text x="522.6" y="327.7">-50</text>
</g>
<text transform="translate(504.6 288.3) rotate(90)" font-family='"Liberation Sans", sans-serif' font-weight="bold" font-size="8.6" text-anchor="middle" fill="#111">Reflection loss (dB)</text>
<text x="491.9" y="224.3" font-family='"Liberation Sans", sans-serif' font-weight="bold" font-size="19.3" fill="#111">(f)</text>
<g font-family='"Liberation Sans", sans-serif' font-weight="bold" font-size="5.2" fill="#444" text-anchor="middle">
<text transform="matrix(0.942 0.336 -0.400 0.620 520.2 336.1)">2</text>
<text transform="matrix(0.942 0.336 -0.400 0.620 530.0 339.6)">4</text>
<text transform="matrix(0.942 0.336 -0.400 0.620 539.8 343.1)">6</text>
<text transform="matrix(0.942 0.336 -0.400 0.620 549.6 346.6)">8</text>
<text transform="matrix(0.942 0.336 -0.400 0.620 559.4 350.1)">10</text>
<text transform="matrix(0.942 0.336 -0.400 0.620 569.2 353.6)">12</text>
<text transform="matrix(0.942 0.336 -0.400 0.620 579.0 357.1)">14</text>
<text transform="matrix(0.942 0.336 -0.400 0.620 588.8 360.6)">16</text>
<text transform="matrix(0.942 0.336 -0.400 0.620 598.7 364.1)">18</text>
<text transform="matrix(0.889 -0.457 0.400 0.620 610.9 364.7)">1.6</text>
<text transform="matrix(0.889 -0.457 0.400 0.620 624.8 357.6)">1.8</text>
<text transform="matrix(0.889 -0.457 0.400 0.620 638.7 350.4)">2.0</text>
<text transform="matrix(0.889 -0.457 0.400 0.620 652.6 343.3)">2.2</text>
<text transform="matrix(0.889 -0.457 0.400 0.620 666.5 336.1)">2.4</text>
</g>
<text transform="matrix(0.942 0.336 -0.400 0.620 550.5 354.0)" font-family='"Liberation Sans", sans-serif' font-weight="bold" font-size="6.9" text-anchor="middle" fill="#3a3a3a">Frequency (GHz)</text>
<text transform="matrix(0.889 -0.457 0.400 0.620 653.0 353.0)" font-family='"Liberation Sans", sans-serif' font-weight="bold" font-size="6.3" text-anchor="middle" fill="#3a3a3a">Thickness (mm)</text>
</svg></body></html>
